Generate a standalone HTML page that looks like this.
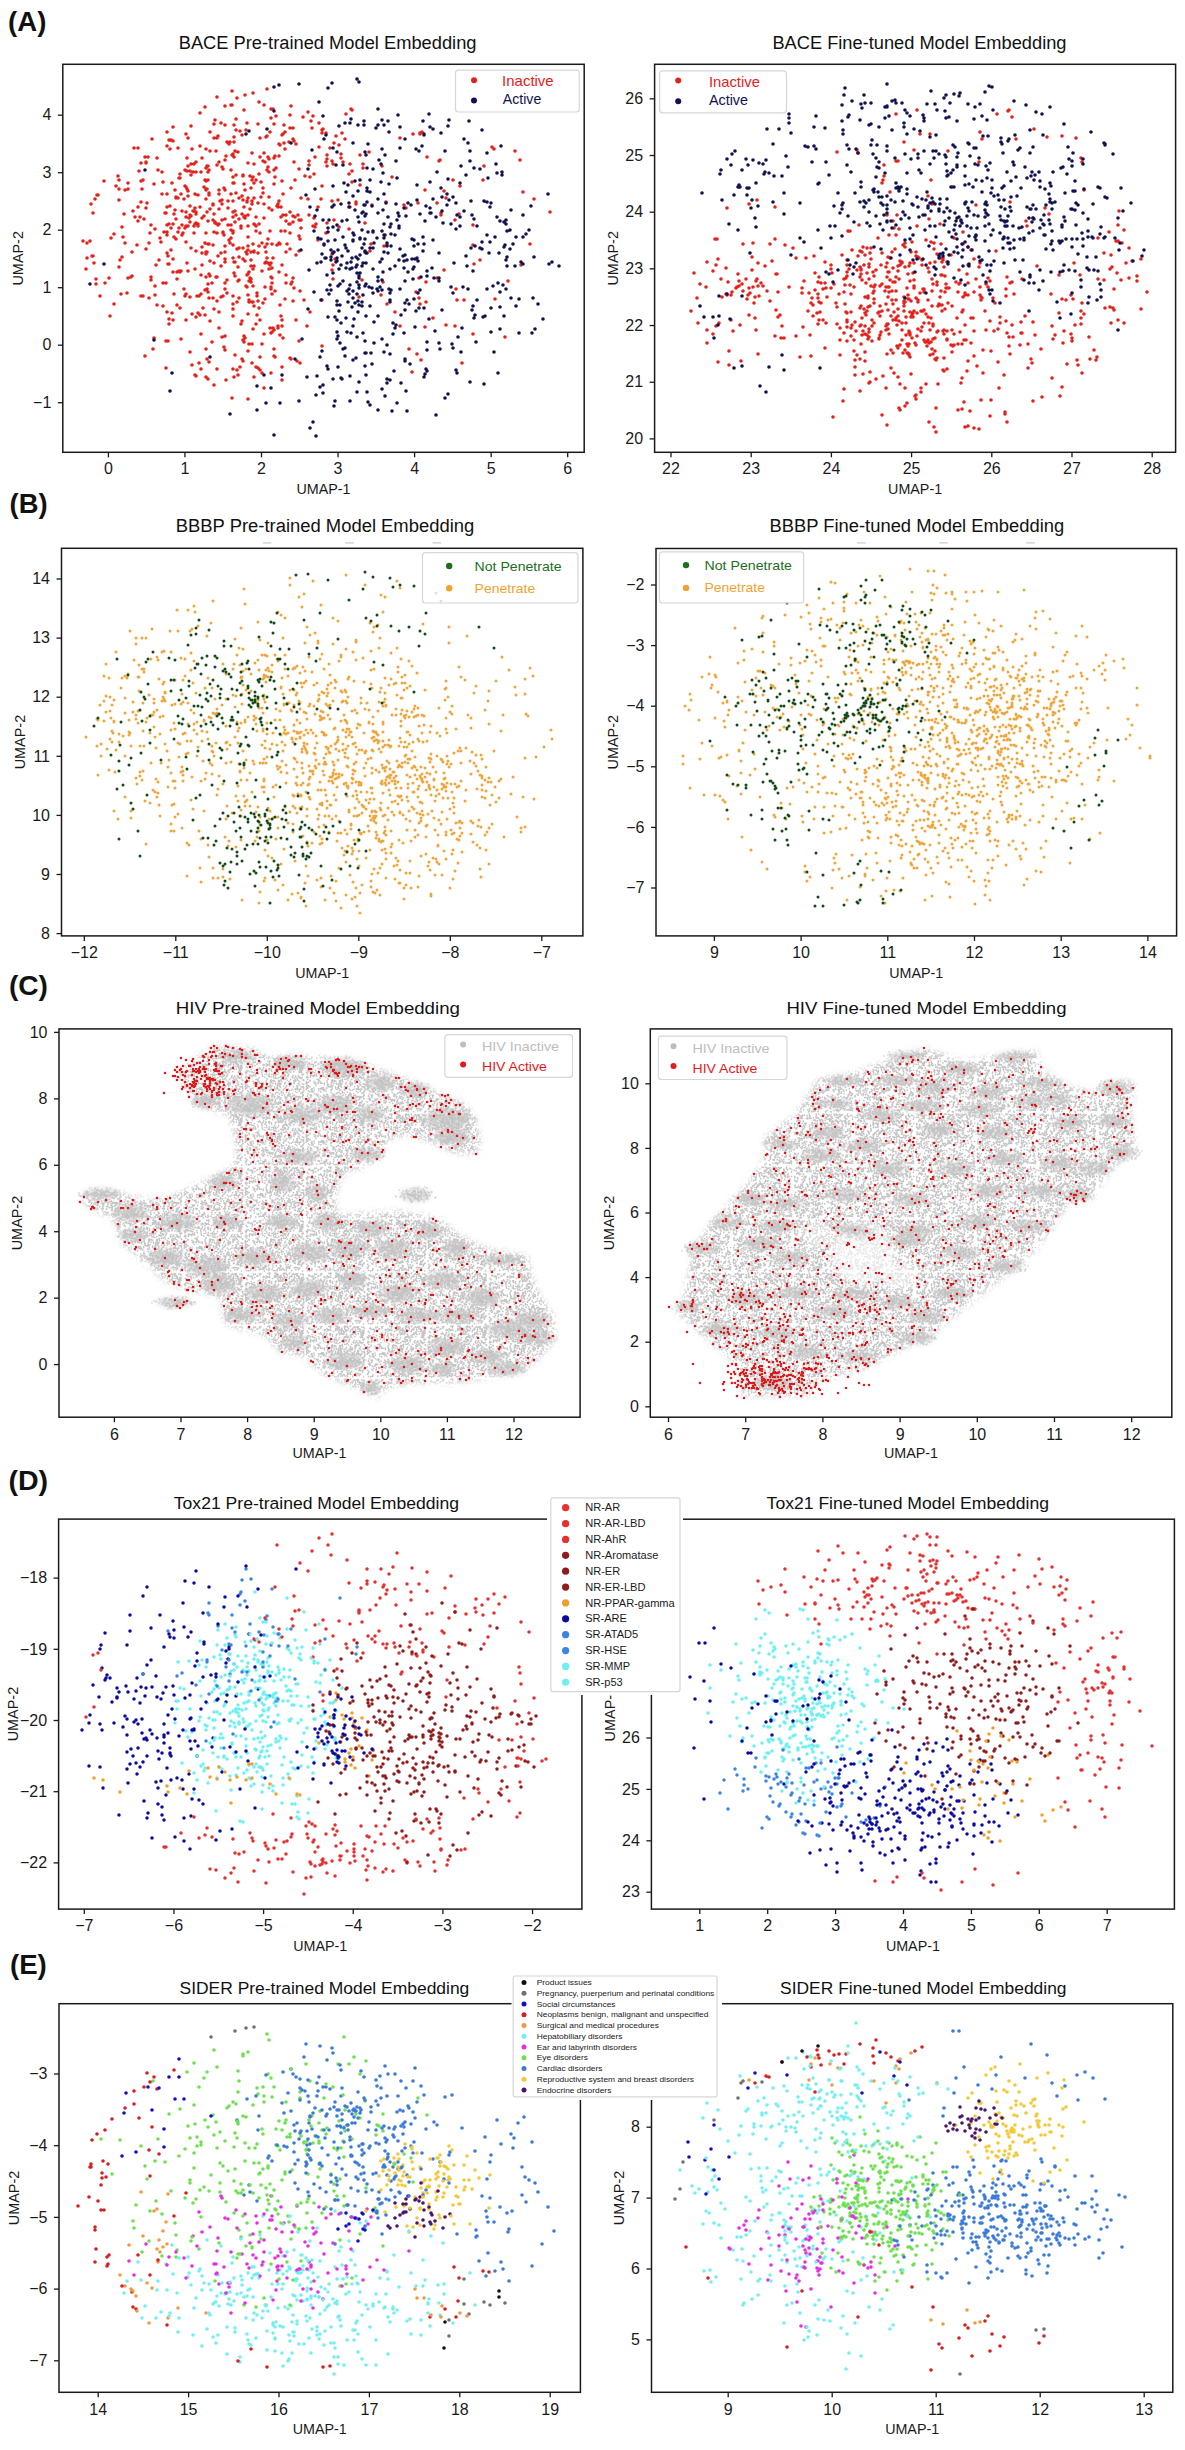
<!DOCTYPE html><html><head><meta charset="utf-8"><style>html,body{margin:0;padding:0;background:#fff;}svg{display:block} text{font-family:"Liberation Sans", sans-serif;}</style></head><body>
<svg width="1185" height="2450" viewBox="0 0 1185 2450">
<rect width="1185" height="2450" fill="#fff"/>
<g fill="none" stroke-linecap="round">
<path d="M267 89zm-14 4zm-8 2zm-13-4zm-15 6zm20 1zm54 8zm-27-1zm-5-3zm-27 3zm-1 0zm-6 1zm-20 1zm-5 6zm44-3zm27-1zm2 0zm35 3zm43-3zm1 1zm-6 4zm-33 2zm-10 1zm-13-2zm-14 1zm-5 2zm-35 1zm-22 5zm1-4zm6 3zm4 2zm9 0zm13-2zm11 1zm16 0zm10 1zm27-4zm8 2zm4 6zm-1 1zm-10-2zm-19 0zm-3 0zm-44 2zm-6 1zm-4-1zm-45-4zm-18 1zm-6 5zm19 2zm24-2zm8 4zm16 1zm8-2zm24 2zm1-1zm3-4zm12 3zm1-1zm2-2zm37 1zm4 0zm10 3zm6-3zm71 1zm7 0zm0-1zm2-1zm-22 6zm-55 1zm-11 4zm-40-2zm-1-2zm-4 3zm-5 1zm-24-5zm-26 4zm-4 0zm-3 0zm-10-4zm-3 0zm-26 0zm-15 3zm-2-1zm-1 0zm-1 0zm-17-1zm-18 9zm4 0zm29-2zm3 3zm8-1zm14 1zm8-3zm6 3zm23-5zm50 0zm1 1zm5 4zm11-5zm23 3zm11 1zm9-3zm153 2zm2 2zm21 2zm-146 1zm-9 3zm-19-1zm-14 1zm-63-2zm-12 0zm-14-1zm-3-1zm-2 3zm-1 1zm-16-4zm-6 0zm-65 6zm3 0zm9 1zm30 0zm15 0zm23 2zm0 0zm1-4zm8 1zm26 0zm3 4zm5-4zm1 2zm5-1zm1-2zm4 0zm30 5zm6-4zm12 2zm5 2zm9-3zm86-1zm12 4zm1-1zm80 0zm-36 6zm-102 0zm-19-2zm-13 0zm-7-2zm-10 2zm-6 2zm-1-4zm-17 3zm-15-3zm-26 5zm-3-5zm-11 2zm-6-1zm-26 4zm-3-5zm-2 3zm-9 1zm-1 0zm-11-4zm-2 2zm-3 0zm-3 2zm-42-4zm0 1zm-5 0zm-2 8zm19-1zm4 2zm23-2zm2 1zm3 0zm3 1zm3 0zm5 0zm5-4zm2 4zm1-2zm14-1zm8 1zm36 0zm2 2zm5-2zm2-2zm23 1zm53 2zm11-3zm29 9zm-43-3zm-35 0zm-4 3zm-5-1zm-30 1zm-16-3zm-6 3zm-3-1zm-7 0zm0-1zm-7 0zm-3 2zm-42-2zm-11 3zm0-4zm-1 4zm-61-2zm-14 5zm15-1zm9 3zm13-2zm2-1zm11 4zm9-2zm9 1zm33-3zm1 1zm2-1zm25 3zm1 0zm10 1zm8-4zm2 3zm2-3zm5 2zm13 2zm8-3zm13-1zm57 2zm8 3zm93-5zm30 0zm-23 6zm-16 5zm-19-1zm-103-4zm-31 2zm-28 0zm-12 0zm-6 2zm-20 0zm-1-2zm-5 2zm-12-1zm-1 1zm0-1zm-2-2zm-16 4zm-1-2zm-1-2zm-1-1zm-10 4zm-33-1zm-14 0zm-3 1zm-6-1zm-3-3zm-19 9zm1 0zm64-1zm5 0zm9 3zm5-3zm7 2zm7-2zm3 1zm11 0zm0-2zm10 1zm12 0zm5-1zm6 3zm19 1zm2-4zm6 4zm14-3zm240-2zm11 7zm-88-1zm-9 5zm-19 0zm-32-1zm-30 0zm-18-2zm-6 1zm-11-2zm-13 0zm-7-1zm-22 3zm-21 2zm-4-5zm-2 3zm-4-3zm-1 3zm0 1zm-4-2zm-4-2zm-6 3zm-5 0zm-6-1zm-2 1zm-14-2zm-22 0zm-6-1zm-2 0zm-29 5zm-6-1zm-22-2zm-24-1zm-4 5zm47 3zm8 1zm21-1zm3-1zm20 0zm5 2zm5-1zm10 2zm3-4zm0-1zm6 5zm3-5zm6 4zm16-1zm6 2zm2-5zm12 0zm5 4zm8-2zm1-2zm0 3zm3 0zm37 0zm32 0zm6-3zm16 1zm32 0zm2 3zm144 4zm-91 2zm-18 1zm0-2zm-132 2zm-11 0zm-8-3zm-4 3zm-3 0zm-11-5zm-24 5zm-6-1zm-6 1zm-1-4zm-2 1zm-19 2zm-7-2zm-11 2zm0-2zm-2-1zm-1 0zm-3 4zm-4-3zm-4-1zm-7-1zm-1 4zm-8-1zm-1 0zm-32-2zm-9 3zm-31-1zm42 4zm3 4zm2-4zm4 2zm32 0zm10-2zm0 0zm3 1zm2-2zm11 2zm2-2zm4 5zm5-1zm9 0zm3-1zm8-2zm6 2zm5-2zm1 1zm0-2zm11 1zm8 1zm17-1zm5 4zm7-5zm2 1zm4 3zm2 0zm13-2zm20 2zm121 0zm18 5zm-108-2zm-26 4zm-12-4zm-11 1zm-1 3zm-2-1zm-20-4zm-3 2zm-1 0zm-30 0zm-3 2zm-1-1zm-1-1zm-6 2zm-7 0zm-6-4zm-4 3zm-3 0zm-9-1zm-1 1zm-1-1zm-2-1zm0-1zm-17 4zm0-2zm-2-1zm-1 1zm-1 2zm-4-4zm-2 4zm0 0zm-2 0zm-4-1zm-9-1zm-4 0zm-2 1zm-16 0zm-29 2zm28 6zm5-4zm9 3zm3 0zm4-4zm7 4zm1-4zm4 5zm2-5zm9 5zm12 0zm8-1zm3 1zm6 0zm0-1zm8-2zm2 3zm0-2zm8-3zm15 3zm4 2zm10-2zm11 0zm4 0zm5 2zm11-5zm25 5zm23-4zm-49 10zm-1-3zm-31 3zm-20-2zm-17 1zm-7-3zm-42 0zm-6 4zm-2-2zm-7-2zm-7 3zm-37-1zm-9-3zm-3 4zm-28 3zm4 2zm3-2zm35 2zm12 2zm12-2zm12-1zm25 0zm19 1zm3 1zm1 0zm4 1zm16-5zm1 3zm3 2zm20-1zm9-1zm5 1zm5 0zm5 1zm2-2zm1 1zm7 0zm0 0zm31-4zm53 4zm16 1zm86 0zm57-1zm-146 2zm-14 5zm-71 0zm-9-2zm-25-2zm-6-1zm-5 5zm-6-5zm0 4zm-5-2zm-4 0zm-2 1zm-12-3zm-23 1zm-6 4zm-5-3zm-20 2zm-25-1zm-54 7zm1 0zm29 1zm10-5zm35 1zm1 3zm34-3zm4-1zm0 2zm1-2zm11 4zm3-3zm4-1zm14 5zm7-5zm1 2zm4-2zm3 0zm4 1zm8-1zm20 0zm10 3zm36-1zm148 6zm-145-1zm-62-1zm-2 5zm-3 0zm-1-5zm-1 4zm-1 1zm-14-3zm-6 1zm-2-2zm-8 3zm-1 0zm-1-4zm-8 1zm0 3zm-11 1zm-4-2zm-23 2zm-14-4zm-14 1zm-39 0zm-26 3zm-7-5zm-1 11zm33-2zm37-2zm12-1zm1 0zm26 5zm7-4zm19 1zm17 1zm13-1zm2 3zm1-3zm15 3zm1-4zm2 3zm10-3zm51 0zm141-1zm47 1zm-77 5zm-112 0zm-46 5zm-7-3zm-17-1zm-13 1zm-1 2zm-1 1zm-13-2zm-25 1zm-8 1zm-13-4zm-7 0zm-1 1zm-1-1zm-2 1zm-4 0zm-77 7zm13-1zm19 0zm3-1zm1-1zm19 1zm0 3zm26-1zm29-2zm4-1zm6 1zm1 0zm10 3zm8-4zm3 5zm1-1zm0 0zm10 1zm1-3zm1 1zm20-2zm1 1zm21 0zm40 1zm29 1zm57-2zm18 0zm71 3zm-82 1zm-43 0zm-91 0zm-1 2zm-5-1zm-14 0zm-1 4zm-6 0zm-12-1zm-2-4zm-4 5zm-1-1zm-21-3zm-13 0zm-4 1zm-42-1zm-3 0zm0 0zm-8 3zm-50-3zm-9 1zm31 9zm57-4zm21 1zm2-1zm1 3zm17-3zm2 4zm30 0zm14-4zm4 2zm19-3zm6 3zm116 1zm40-3zm39 10zm-76-1zm-38-3zm-22 2zm-74 2zm-13-5zm-7 5zm-8-3zm-9-1zm-9 3zm-6-2zm-10 0zm-2 1zm-8 1zm-4 0zm-8-4zm-2 2zm-2 0zm-7 1zm-4-3zm-1 2zm-11-2zm-19 1zm-6 3zm-6-2zm-2 0zm-20-2zm-21 2zm14 8zm43 1zm20 0zm40-4zm16 3zm4-2zm12-2zm0 2zm3 0zm1 0zm5-1zm5 2zm17 2zm13-4zm11-1zm18 0zm65 4zm33 0zm6-2zm31-2zm7 0zm-205 8zm-5-2zm-21 3zm-19 0zm-11-1zm-23 0zm-17-2zm-53 10zm57-4zm5 1zm20 1zm4 3zm2-4zm2 2zm5 0zm14-3zm14 4zm15-2zm9 1zm24 1zm29-4zm85 0zm38 6zm-137 2zm-14 0zm-22 0zm-18 1zm-32 0zm-24-1zm-13 0zm-4-1zm0 5zm50 4zm22-4zm12 5zm3-5zm14 4zm3 0zm5-2zm0 2zm4-2zm25 0zm93 0zm25 1zm21-2zm9 1zm18 8zm-193 1zm-6-5zm-2 2zm-1 1zm-7 1zm-63 0zm-47 4zm12 3zm2 0zm13-2zm41-2zm3-1zm18 4zm1-4zm1 2zm38 0zm16 3zm206-4zm-183 9zm-60-2zm-10 0zm-3 0zm-5-2zm-20 5zm-12-5zm-59 7zm37 3zm16-3zm19 1zm23 1zm26-2zm135 0zm8 5zm-126 5zm-1-1zm-15-1zm-1-1zm-14 1zm-18 2zm-7-4zm-28 4zm-62-3zm47 9zm7-2zm10-1zm34-1zm9 2zm45-2zm3 2zm121-3zm41 3zm-180 4zm-22 3zm-2-2zm-2-1zm-16 0zm-3 3zm-4-1zm-16 0zm-16 0zm-35-1zm29 7zm1 1zm10 1zm28 0zm4-2zm16 2zm8-4zm9 0zm141-1zm-130 8zm-56 0zm-18-1zm6 6zm50 3zm-32 10zm16 1z" stroke="#e3221c" stroke-width="3.6"/>
<path d="M359 82zm-2-3zm-25 4zm-58 4zm5-2zm20-1zm29 4zm-9 14zm-45 9zm104-2zm51 5zm-31 1zm-47 4zm-28-3zm22 7zm5 0zm8 2zm6 0zm0-4zm14 4zm4-5zm2 5zm4-4zm35 0zm26-1zm20 1zm13 9zm-34-4zm-15 3zm-3-2zm-30 0zm-24 1zm-37-2zm-72 3zm-18 2zm-3 3zm80 1zm63-3zm35 3zm0-1zm17-1zm27 10zm-4-4zm-59 0zm-52 4zm-29-4zm-33 4zm42 5zm35-4zm14 5zm18-1zm16 1zm6-3zm79 0zm-14 7zm-17-2zm-25 0zm-26 0zm-34 4zm-19 0zm-1-3zm-28 0zm-25-2zm67 10zm17 1zm74 0zm26 3zm-35 2zm-80-2zm-38 1zm-7 0zm-191 5zm163-1zm59-1zm6 1zm10 4zm54-1zm37-4zm6 1zm17 4zm5-1zm0 3zm-14 3zm-22-3zm-18 4zm-51-1zm-53 5zm4 2zm7-4zm5-1zm10 0zm11 2zm8 2zm28 1zm13-3zm30 1zm-19 5zm-74 0zm0 3zm-9 0zm-25-5zm-18 3zm-9 6zm40-3zm7 4zm17-4zm14 2zm58 3zm5-3zm6 3zm95-3zm-57 9zm-4-1zm-3-1zm-13 0zm-15 2zm-7-3zm-16-1zm-16 1zm-9 3zm-22 0zm-8-4zm-11 3zm-18 1zm-39 4zm22 0zm2-2zm7-1zm8 3zm15-2zm1 0zm7 1zm24-2zm8 4zm7-3zm15 1zm4 2zm17-3zm43 2zm41-1zm-8 9zm-12-5zm-39 5zm-8-4zm-7 4zm-15-4zm-11 2zm-1 0zm-10 1zm-22-1zm-15-3zm-5 3zm-12 1zm-3-2zm-1 1zm-7-3zm-38 0zm-2 6zm8 4zm6 0zm13 1zm5-1zm11-3zm7-1zm23 1zm9 3zm2-4zm7 0zm19 5zm11-4zm24 0zm14 2zm23-2zm3 4zm6-1zm0 4zm-2-2zm-27 4zm-17 0zm-9-2zm-8-1zm-44 3zm-8-2zm-1 3zm-6-3zm-25-2zm-22 3zm-4 2zm-19 4zm14-3zm0 4zm10-2zm15 3zm9-3zm6 2zm5 0zm0-1zm9 0zm17-3zm57 1zm51 2zm3-1zm19 0zm-3 4zm-3 3zm-7 0zm-21 0zm-8-2zm-64 2zm-11 2zm-17-4zm-4-1zm-6 1zm-1 0zm0 3zm-7 0zm-12 1zm-5-1zm0 1zm-6-4zm-11 2zm-22 2zm-3-1zm6 6zm0 1zm4-4zm7-1zm10 5zm8-4zm0-1zm11 4zm10-1zm13 0zm27-3zm4 4zm6 0zm9-4zm49 2zm8 0zm15 3zm8-1zm-3 5zm-6-2zm-22 2zm-2-1zm-5-2zm-4 2zm-48 3zm-9-5zm-14 3zm-9-3zm-4 0zm-14 2zm-3 0zm-5 3zm-3-3zm-14 3zm-2-3zm-8 2zm-7 0zm-30 0zm21 4zm9 3zm2-4zm1-1zm8 4zm14 1zm4-2zm5-3zm1 1zm1 0zm17-1zm4 1zm0 0zm15 3zm2-1zm34-2zm27 3zm23-3zm10 0zm8 4zm27 0zm18 5zm-31 0zm-15-2zm-52 3zm-36-2zm-1-3zm-2 1zm-3 0zm-5 1zm-3 1zm-5-1zm-17-1zm-2 3zm-14 1zm-3 0zm-5-4zm-6-1zm-1 4zm-4 1zm-10-2zm0-3zm-1 4zm-5-2zm-5-2zm-1 0zm-4 4zm-4 1zm-213 1zm235 5zm2-4zm5 3zm4 1zm2-1zm4-1zm1-2zm5 1zm11 3zm17 0zm5-3zm9 2zm9 1zm1-2zm18 1zm35-2zm40 0zm8 0zm8-2zm26 0zm10 2zm-86 5zm-46 0zm-19 1zm-25 0zm-23 1zm-3 0zm-24 0zm0 0zm-6 2zm-18-5zm34 11zm16-3zm0-2zm19 5zm0-4zm4 3zm23 1zm8-2zm8-2zm6-1zm7 2zm5 0zm0 3zm64 4zm-5-2zm-5 3zm-30 1zm-12 0zm-71 0zm-11 0zm-3-3zm-1 2zm-6-1zm-2-3zm-7 3zm-10-1zm-2 2zm-8-1zm-240-1zm224 8zm13-2zm4 0zm16 1zm2-2zm4 2zm6-3zm13 0zm1 5zm4-4zm1 2zm4-1zm7-1zm1 4zm1-3zm9-1zm18 4zm2-3zm33 3zm15-4zm19 0zm13 3zm6-3zm27 9zm-14 1zm-8-1zm-97 1zm-51-4zm-6-1zm-4 4zm-4-4zm-20 0zm-8 6zm16 1zm0 4zm3 0zm8-3zm7 1zm3-2zm1 4zm3-3zm28 0zm0-2zm15 3zm2-3zm2 4zm68-4zm61 4zm-22 2zm-16 1zm-9 1zm-18-2zm-1 4zm-30 0zm-18-2zm-5 0zm-3 3zm-11-1zm-35-4zm-8 0zm-10 1zm-13 4zm-31-2zm20 8zm7 0zm23-5zm8 4zm12 0zm23-1zm74 0zm8 2zm2-1zm19 0zm39 3zm-69-1zm-45 1zm-36 4zm-19-1zm-20-3zm-8-1zm-5 5zm-4-3zm16 6zm42 2zm1-3zm19 2zm47 1zm38 1zm35 0zm-3 4zm-13 0zm-28-1zm-56-1zm-31 2zm-11 1zm-30-1zm-12 0zm-4-1zm-10 0zm-183 8zm148-1zm35 0zm1-3zm19 1zm8 4zm17-2zm76-2zm18 5zm-24 2zm-13-1zm-12-1zm-40 3zm-13-2zm-34 0zm-18 8zm21-2zm2-1zm20 5zm1 0zm5 0zm13-1zm43-2zm13-1zm13-1zm8 4zm33 0zm-89 7zm-15-5zm-34 4zm-11-2zm-25 1zm-25 2zm-85-2zm143 3zm19 4zm33-3zm5 3zm46 6zm-29 1zm-1-2zm-32 2zm-29-5zm-27 1zm-10 2zm-1-3zm-155 7zm92 2zm18 0zm25 2zm10-1zm33 0zm16-1zm58 2zm1-3zm32-1zm41 0zm-28 9zm-69 1zm-11-3zm-3-1zm0 4zm-28-1zm-17-3zm-1-1zm-8 1zm-76 7zm14 2zm49-1zm3-2zm59 4zm102-5zm-36 10zm-42-3zm-39 1zm-10 0zm-34 1zm-7 2zm-146-4zm129 10zm36 0zm15 0zm35-5zm60 2zm-48 5zm-27 2zm-2-3zm-34 4zm-54-3zm-14 0zm-9 7zm121 0zm14 1zm15 0zm29 4zm-206-1zm83 8zm-3 6zm-36 7zm42 1z" stroke="#11114e" stroke-width="3.6"/>
<path d="M917 110zm91 1zm1-1zm3 7zm-15-3zm-101 0zm138 15zm-114 5zm10 0zm50-2zm67 5zm15-1zm14 2zm-60 1zm-34 0zm-78 3zm44 9zm-34-1zm-56 3zm-1-3zm-20 2zm59 9zm2 0zm183-3zm1 4zm-103 0zm-95 3zm0 11zm-2 7zm1-3zm48 0zm153 10zm-194 2zm38 4zm82 6zm-253-2zm-30 8zm22-4zm26 3zm157-3zm44 1zm69 3zm74 3zm-70 3zm-152 1zm-10 0zm6 6zm36-2zm97 2zm7-3zm85 7zm-91 1zm-87-2zm-23 2zm-58-1zm-11 6zm2 0zm44-3zm5 1zm64 3zm146 0zm15-2zm-26 8zm-122-2zm-22 2zm-58-3zm-7 0zm-11 3zm-103 1zm-58 0zm-2 0zm28 5zm10-1zm17 1zm15 1zm118 0zm2-2zm7-1zm14-2zm5 2zm3 1zm7 1zm22 0zm153-3zm2 0zm4 2zm7 5zm-133 3zm-25-1zm-3-3zm-34 2zm-29-2zm-10 2zm-24-1zm-4 0zm-4-1zm-3 4zm-8-1zm-59-2zm-41 9zm62-1zm28-1zm16 1zm4-4zm3 3zm5-2zm12 0zm6 4zm4-5zm19 0zm5 0zm0 4zm2 1zm19-3zm14 1zm153-2zm7 2zm30 4zm-9 2zm-6 2zm-52 0zm-94 0zm-6-4zm-27 3zm-4-4zm0 2zm-1 2zm-2-4zm-5 4zm-5 1zm-8-3zm-3-2zm-5 5zm-4 0zm-8-1zm0 1zm-1-1zm-1-1zm-10-3zm-3 5zm-16-4zm-24 1zm-22 2zm-19-4zm-10 0zm-24 3zm-14 2zm-40-4zm-11 3zm9 3zm10 3zm39-2zm66 3zm0-4zm16 0zm2 4zm11-2zm1 2zm3-4zm5-1zm0 3zm12-2zm5 2zm7 1zm5-2zm2-1zm5 2zm4-1zm0 0zm13-1zm6 3zm16-1zm24-2zm11 2zm58-1zm73 3zm2-2zm5 6zm-37 2zm-21 0zm-92-1zm-8-4zm-17 5zm-1 0zm-12-3zm-16 1zm-5 1zm-10-3zm-9 1zm-1 0zm-12-2zm-3 2zm-6 1zm-6 1zm0-4zm-4 0zm-10 2zm-15 1zm-17 0zm-38 1zm-1 0zm-24-4zm-14 4zm-25-3zm-19 2zm27 6zm18 2zm7-2zm10 2zm1-2zm47 2zm15-4zm25 2zm2-1zm1-2zm13 1zm2 3zm7-1zm5-3zm13 1zm3 3zm6-3zm3 2zm11 2zm4-1zm18-1zm0 0zm13-3zm31 3zm12-1zm2 3zm17-4zm15 2zm76 0zm6 1zm17 0zm8-2zm8-2zm0 5zm-125 1zm-2 1zm-22 4zm-2-3zm-6 3zm-12-4zm-8 0zm-1 1zm-3-2zm-10 2zm-9-2zm0 3zm-4-1zm-19 2zm-19-4zm-2 0zm-4 5zm-1 0zm-2 0zm-4-3zm-2 2zm-5-1zm-1 2zm-3-1zm-5-3zm-12 4zm-4-2zm-5 0zm-11-1zm-9-1zm-4 0zm-3-1zm-29 5zm-26-1zm-2-3zm-3 3zm-5 1zm-11-3zm-3 2zm-2 1zm-9-5zm-22 5zm-6-3zm32 8zm4-4zm7 3zm6-3zm1 5zm17-2zm11 1zm24-4zm0 5zm7 0zm6-3zm8-1zm3-1zm5 0zm13 4zm29 1zm1-2zm11 0zm4 1zm3-1zm4 0zm11-3zm7 0zm6 5zm3-4zm0 0zm1 0zm0 1zm0 2zm8-1zm9 0zm4 1zm1-4zm1 0zm2 0zm9 4zm7 1zm9-1zm32-3zm108 0zm33 3zm-74 7zm-2-4zm-9 4zm-11-5zm-37 0zm-8 2zm-13 2zm-11 0zm-1-1zm-1-2zm-12 0zm-3 0zm-2 2zm-23 0zm-24 1zm-7 1zm-1 0zm0-4zm-4 2zm-16 0zm-14 2zm-6-3zm0 2zm-3-1zm-14-3zm-12 0zm-12 3zm-9-3zm0 4zm-6 0zm-53-2zm-4 1zm-7-2zm-1 4zm-16-4zm-4 0zm-1-1zm-4 3zm-25 1zm57 5zm16-2zm41 2zm2 2zm6-3zm2 1zm15 0zm9 1zm29-1zm12 1zm6-4zm1 4zm3-4zm8 1zm0 2zm1-1zm6-1zm7-1zm0 2zm10-2zm11 4zm1 1zm2 0zm6-2zm33-3zm14 3zm71-3zm16 3zm59 6zm-27 1zm-1-2zm-3-1zm-5 1zm-24 3zm-96 0zm-22-1zm-11-4zm-7 3zm-3 2zm-4-5zm-6 0zm-8 4zm-1 1zm-2 0zm-7 0zm-10 0zm0-5zm-6 3zm-10 1zm-6 1zm-2-5zm-10 0zm-2 1zm-1 4zm-3-2zm-3-3zm-1 2zm-23-1zm-29 4zm-32-1zm-85 1zm58 4zm29 2zm2-2zm33 1zm4-3zm3-1zm26 0zm1 1zm4-1zm14 1zm1 2zm12-2zm1-1zm1 4zm11 0zm3-4zm4 4zm8 1zm4-5zm1 5zm1-2zm1 2zm0-4zm4 0zm9 1zm2 3zm34-5zm38 5zm25-1zm34-3zm25 1zm40 9zm-6-3zm-7 3zm-30-5zm-48 4zm-12 0zm-15-1zm-6 2zm-10-2zm-17-3zm-2 0zm-14 0zm-26 0zm-2 5zm-5 0zm-18 0zm-4 0zm-3-2zm-3-1zm0-2zm-3 2zm-19 3zm0 0zm-2-3zm-10-2zm-7 4zm-8 0zm0-2zm-21 3zm-3-3zm-4 0zm-64-2zm-24 2zm-12 3zm-21 0zm18 3zm24-1zm42 1zm21 1zm15-3zm19 0zm3 4zm7-1zm4 1zm1-3zm8 1zm1-1zm4 1zm4 3zm3-3zm14 0zm1-2zm0 1zm1-1zm0 5zm9-4zm21 4zm4-2zm11-3zm0 2zm32-1zm33 4zm14-4zm40 1zm23-1zm6-1zm-10 10zm-7-3zm-9 4zm-20 0zm-13-2zm-1 0zm-14 0zm-13-2zm-8-1zm-12 1zm-14 1zm-6 2zm-2-4zm-5 1zm-3-1zm0 4zm-1-3zm-5 0zm-1 1zm-7-2zm-9 1zm-11 4zm0-2zm-1-2zm0 2zm-3 2zm-4-5zm-13 4zm-3-4zm-5 2zm-1 3zm-11-3zm-2 3zm-2-1zm-2-3zm-1 4zm-6-4zm-12 2zm-34 2zm-54-5zm-23 1zm-20 3zm-6-4zm68 6zm6 2zm3 0zm12-2zm44 4zm7 1zm4-5zm3 4zm14-1zm1-2zm3 4zm7-2zm0-1zm23 2zm10-2zm5-2zm7 4zm4 0zm5-1zm2-1zm12 1zm0 1zm17 0zm2 0zm43-3zm4 0zm40 2zm19 2zm0-3zm17-1zm-26 6zm-35 1zm-8 1zm-11 1zm-38-3zm-9 1zm-4 0zm-4 1zm-1 1zm-2-1zm-20-3zm-2 1zm-2 3zm-1-4zm-1 0zm-9 3zm-1-2zm-6 1zm-1 2zm-1-2zm-7 1zm-3 1zm-36-2zm-154-1zm22 8zm96-3zm29 3zm11 1zm26-2zm2 3zm5-5zm5 5zm2-3zm2 3zm1 0zm24-4zm3 2zm17 1zm31-2zm8 1zm50-2zm53 1zm3 7zm-7 2zm-59 0zm-21-5zm-36 2zm-30 2zm-7 0zm-2 1zm-2-5zm-3 1zm-20 2zm-1-3zm0 1zm-22-1zm-27 5zm-3-4zm-17 0zm-29 1zm-11 1zm-42-3zm-40 8zm11 3zm12-4zm114-1zm10 1zm71-1zm32 1zm30 1zm34 1zm35 1zm10-4zm1 5zm18-5zm-68 8zm-51-2zm-10 5zm-20-2zm-3 2zm-1-1zm-52-2zm-36-1zm0 8zm8-1zm7-2zm13 4zm11-3zm4 4zm13-3zm72-1zm21 2zm78-2zm-30 5zm-90 0zm-1 5zm-85-4zm-6 3zm-1 1zm-25 6zm42-1zm14-4zm5 4zm16 0zm5-4zm12 0zm61 4zm63-1zm-141 5zm-5 3zm-56-4zm-17 10zm72-5zm1 3zm65 1zm10 0zm42 1zm9-4zm18-1zm-96 6zm-57 1zm-2 3zm-6 2zm1 2zm36-2zm22 2zm4-1zm8 2zm35 1zm0 2zm-15 2zm-108-1zm-49 2zm54 8zm42-3zm78 0zm-28 7zm-5-1zm-6-2zm-3 1zm-31 0zm2 5z" stroke="#e3221c" stroke-width="3.6"/>
<path d="M845 88zm42-4zm102 2zm3 1zm-7 5zm-25 1zm-6 1zm-8 1zm-15-4zm-67 4zm-20 0zm8 6zm40 0zm3-1zm49-2zm15-2zm55 5zm36 6zm-24-2zm-46-1zm-5 3zm-7-3zm-18-1zm-15 1zm-8 0zm-25-1zm-6 0zm-9 4zm0-1zm-2 1zm-14-4zm-6 0zm-4 1zm-19 1zm20 3zm43 2zm2 3zm30-3zm8 1zm48-1zm43 2zm6 2zm-60 2zm-8 3zm-25-2zm-3 1zm-22 0zm-1-3zm-13 1zm-21 0zm-4 2zm-36-3zm-1 2zm-32-1zm-27 2zm0-4zm0 9zm53-2zm18-1zm9 5zm2-1zm33-1zm20-2zm33 0zm30-1zm77 4zm-34 6zm-110 1zm-6-2zm-10-2zm-12 3zm-13-3zm-36 3zm-18-2zm-11-1zm-35 2zm-12 0zm24 4zm52 1zm64 0zm23 3zm6-2zm47 1zm5 0zm27-1zm28 0zm48-3zm13 11zm-95-4zm-1 2zm-7-3zm0 4zm-33 1zm-96-3zm-99 4zm32 2zm3 1zm6-1zm2 3zm31-4zm2 4zm7 0zm15-4zm6 0zm10 1zm0 0zm66-1zm2 2zm14-3zm5 4zm2 0zm26-4zm18 4zm13-1zm35 0zm37-2zm0-1zm8 10zm-40-1zm-43 0zm-12-3zm-15 3zm-45 0zm-13 2zm-6-1zm-3-3zm-3 0zm-9 0zm-6 3zm-13 0zm-18-3zm-14 3zm-15-1zm-123-2zm-3 3zm-5 5zm19 0zm7 1zm13 0zm20-4zm90 2zm19 0zm16 1zm7-1zm16 0zm12-1zm11 0zm13-1zm9 2zm90 1zm3 2zm11-2zm0 5zm-11 2zm-9 1zm-38 0zm-11-2zm-1-3zm-23 1zm-4 3zm-8-1zm-3-1zm-10 2zm-8 1zm0-2zm-11-1zm-16 0zm-51-2zm-2 5zm-30-2zm-21-3zm-14 0zm-24 5zm-25-3zm-4-1zm-11 2zm-17 0zm-10 5zm21 0zm23 2zm4 1zm82-1zm28-4zm6 5zm22 0zm12-3zm2 3zm26-2zm4 2zm2-3zm35 0zm19 2zm25 0zm7 0zm14 0zm8-4zm0 0zm6 6zm-32 1zm-4 1zm-4 2zm-11-1zm-29 1zm-22-2zm-17-1zm-1 1zm-71 1zm-47-2zm-47 1zm-8 0zm-10-2zm-44 0zm19 11zm17-2zm62 1zm1-1zm42-1zm35 1zm69 2zm4-1zm7-4zm6 1zm10-1zm19 1zm23-1zm6 1zm10 2zm25-2zm46 7zm-21 0zm-2-1zm-14 2zm-9 2zm-2 0zm-22-5zm-6 3zm-5-2zm-19 1zm-17-2zm-2 2zm-10 0zm-19-1zm-19 0zm-2 0zm-1 0zm-44 2zm-6-2zm-2 2zm0 2zm-1-4zm-2 1zm-22 1zm-1 1zm-12-3zm-112 1zm-2 0zm-7-1zm-2 0zm-36 6zm32 2zm13 0zm37-2zm54 0zm17 0zm19-1zm4 0zm1 5zm3 0zm5-1zm20-2zm10 3zm10-5zm55 0zm9 1zm3 3zm4-1zm13 2zm6-1zm32-2zm16-1zm40 4zm26 6zm-24-5zm-31 5zm-21-1zm-3 1zm-2-4zm0 3zm-46-2zm-5 0zm-13 2zm-14 0zm-6 0zm-1 1zm-18-4zm-7 0zm-7 3zm-1-4zm-2 5zm-4-3zm-4-1zm-19 2zm-8 1zm-4-2zm-10 3zm-12-3zm-3 3zm-2-2zm-4 1zm-17 1zm-43 0zm-27-1zm-21-2zm-30 0zm29 8zm7-2zm76 0zm8-1zm0 4zm22-2zm19-2zm4 4zm0-4zm25-1zm1 1zm5 2zm10 1zm0-2zm7-2zm4 5zm1-5zm7 4zm18-4zm3 4zm17-4zm2 1zm14 2zm4 2zm5-2zm17 0zm3 2zm1 0zm2-4zm3 4zm10-4zm6 4zm19 0zm1 0zm6-4zm15-1zm30 7zm-40 2zm-8-3zm-31 5zm-33-4zm-23 4zm-2-2zm-1-3zm-11 5zm-5-4zm-14 2zm-5-2zm-6 1zm-5-1zm-8 0zm-6 4zm-2 0zm-18 0zm-2-3zm-16 1zm-3 2zm-15-3zm-29 1zm-56 1zm-29 4zm93-2zm28 0zm11 5zm4 0zm10-2zm8-1zm10-1zm26 4zm4-3zm7 3zm1-3zm2-1zm2 3zm0 1zm6-5zm11 0zm7 1zm15-1zm1 4zm3 1zm3 0zm1-5zm21 2zm4 0zm1 1zm7 1zm8 0zm15-3zm1 4zm23-2zm30-1zm-17 9zm-25-2zm-14 2zm0-2zm-12-1zm-6 1zm-1-1zm-11-2zm-10 5zm-9-1zm-6 0zm-2-4zm0 4zm-16-2zm-4 2zm-18 0zm-5-3zm-2 3zm-5-1zm-11 0zm-9 1zm-5 0zm-34-1zm-9-3zm-7 2zm-10 2zm-3-3zm-13-1zm-19 4zm-5 0zm-74 1zm-27-3zm9 6zm80 0zm65 0zm9-2zm18 0zm15 2zm24 2zm5-2zm17-2zm6 0zm16 2zm7 3zm19-5zm10 5zm4-2zm7-3zm12 3zm30 2zm6-2zm27 7zm-10-1zm-1 1zm-4-4zm-7 4zm-1-1zm-4 0zm-5 2zm-6 0zm-5 0zm-6 0zm-21-4zm-1 0zm-20 3zm-4 1zm-12-1zm-4-1zm0 1zm-1 1zm-12-4zm-15 0zm-1 2zm-6-1zm-12 3zm-1-5zm-4 3zm-16 0zm-23-2zm-3 4zm-68-3zm-11 2zm-31 0zm4 4zm101-2zm57 4zm3-2zm11-2zm9 1zm23 2zm2 0zm4-3zm10 0zm27 4zm1-3zm7 0zm1 2zm2-2zm58 2zm24 7zm-25 0zm-36-4zm-11 1zm-19 3zm-7-1zm-32-1zm-4 1zm-7-1zm-14 3zm-17-1zm0 0zm-4-3zm-5 3zm-6-3zm-11 2zm-17-3zm-19 4zm-29-1zm-7-2zm-53 1zm-71 5zm41 2zm109 0zm39 1zm1-2zm3-1zm0 3zm6-1zm5-3zm4 1zm4 4zm17 0zm99-3zm9 3zm9 0zm46-1zm-9 5zm-110-1zm-8 0zm-11 3zm-10-2zm-12-1zm-2 1zm-32 1zm-9-4zm-16 1zm-6 0zm-4 1zm-22-2zm-35 5zm-8-3zm2 5zm4 2zm72-2zm8 2zm2 2zm12-5zm15 2zm6-2zm0 2zm18-1zm4 0zm73 0zm23 3zm11 3zm-4-1zm-5 0zm-14 1zm-6-1zm-6 1zm-3 1zm-9 0zm-11-2zm-10 5zm-10-3zm-30-1zm-7 4zm-48 0zm-20-3zm-62 2zm-15-4zm-9 4zm-3-2zm128 6zm7 2zm63 0zm6-3zm13 4zm38-1zm19 4zm-19 3zm-47-4zm-5 0zm-43-1zm-21 3zm-132-3zm93 11zm63-3zm3 0zm47 0zm33 3zm29-3zm0 7zm-12 0zm-99-3zm-85 4zm-163-2zm-15-2zm-8 2zm274 5zm7 2zm57-1zm31 1zm9-3zm-68 11zm-329-5zm4 11zm9 0zm6-1zm352-2zm-11 4zm-330 1zm-12 6zm400 5zm-404 8zm68 17zm38 13zm-36 2zm-15-3zm-27-1zm-8 2zm26 18zm6 6z" stroke="#11114e" stroke-width="3.6"/>
<path d="M346 575zm-56 3zm23 3zm84 0zm-32 4zm-75 0zm-46 4zm156-1zm-15 9zm-4-2zm-77-1zm-5 3zm-86 4zm32 3zm76 1zm-19 2zm-108-1zm-6 4zm-11 0zm18 2zm83 0zm3 3zm102-3zm-13 11zm-32-2zm-5-3zm-48 0zm-27 4zm-47 1zm-59 6zm40 0zm6-3zm43 2zm66-1zm67 0zm4-2zm45-1zm26 3zm-76 5zm-58 1zm-5 2zm-120-4zm-12 0zm-8 0zm-40 0zm6 7zm6 0zm4 0zm61-2zm28 3zm25 1zm23-2zm35 3zm38-1zm24-2zm87-2zm-18 7zm-93-1zm-23 2zm-15-1zm-13 0zm-37 0zm-132 1zm-20 8zm46 0zm2-1zm7 1zm20 1zm48-5zm4 1zm103 0zm7 3zm18-1zm8-3zm12 5zm6-5zm105 9zm-101 2zm-38-1zm-22-1zm0-2zm-19-1zm-2 5zm-11-2zm-24-2zm-8 4zm-2-4zm-8 1zm-2-1zm-3 0zm-25 0zm-52 4zm-4-1zm-24-1zm-6 2zm-45 5zm28-4zm5 5zm19-5zm36 1zm29 3zm11 0zm6 1zm15-2zm3-3zm14 5zm6-4zm51 3zm10-3zm17-1zm53 1zm121 7zm-21 2zm-50-3zm-47-1zm-14 1zm-24 2zm-3 1zm-47-1zm-19 2zm-2-4zm-6-1zm-2 2zm-1 0zm0 0zm-1 1zm-8 0zm-16 2zm-1-3zm-2 2zm-7 0zm-13-1zm-3 2zm-10-2zm-42 1zm-47-1zm-2 0zm-38 7zm21 0zm3-2zm10 3zm1 0zm5-5zm41 4zm41-2zm15 3zm1 0zm9-3zm13 1zm0 1zm2 0zm2 1zm4-5zm16 4zm12-3zm12-1zm18 3zm19 2zm49-5zm4 5zm3-2zm12-2zm44 4zm72-1zm-8 3zm-29 2zm-31-1zm-19 1zm-41 2zm-3 0zm-6 0zm-5-4zm-6-1zm-21 4zm-10-1zm-6-2zm-12 3zm-1-2zm-4 3zm0 0zm-14 0zm-11-2zm-2 2zm-3 0zm-19-5zm-16 4zm-2-4zm-1 1zm-22-1zm-33 0zm-15 5zm-10-3zm-8 0zm-11 2zm-5-3zm-32-1zm-5 0zm-13 0zm12 10zm42-4zm42 4zm7 0zm31-3zm38 3zm0-1zm21 0zm12-2zm13 4zm1-4zm7 3zm36-4zm1 4zm9 0zm8-3zm5-1zm13 4zm3-2zm35 3zm1-1zm30-2zm39 1zm10 7zm-9 1zm-27-4zm-15 2zm-49-3zm-21 0zm-7 5zm-12-2zm-5-1zm-34 0zm-1-2zm-3 2zm-1-1zm-13 2zm-4 0zm-2-1zm-3 3zm-22-2zm-1 2zm-2-5zm-4 0zm-7 4zm-19 1zm-13-4zm-5-1zm-4 4zm-9 1zm-37-2zm-14 1zm-17-1zm0-1zm-16 3zm-10-4zm-35 10zm2-5zm4 1zm4 3zm11-2zm29 1zm8 2zm1-4zm1 2zm1 2zm50-2zm11 0zm10-3zm19 3zm3 1zm6-1zm35 2zm19 0zm1-2zm8-3zm6 5zm10 0zm3 0zm2-4zm13 1zm24 1zm16-1zm1 0zm43 2zm3-3zm40 4zm-36 5zm-37 0zm-29-1zm0 1zm-2-4zm-1 4zm-4-4zm-12 1zm-6 0zm-14 0zm-5-1zm-12 3zm-2 1zm-2-2zm-12 2zm-4-2zm-1 2zm-9-3zm-6 2zm-5-2zm-2 0zm-3 1zm0 1zm-19-3zm-8 1zm-15 1zm-7 3zm-13-2zm-34-2zm-5-1zm-2 2zm-6 0zm-3 1zm-18-2zm-11 0zm-10-1zm-21 3zm-12 0zm6 7zm4-1zm15 2zm8-1zm5-1zm1 0zm15 1zm3-2zm34 0zm3 3zm19 0zm4 0zm0-4zm42-1zm3 0zm1 5zm13-4zm4 2zm11-1zm1 1zm8-2zm4 3zm2 1zm15-2zm2 1zm29-1zm3-1zm2 3zm8-4zm4 1zm9 1zm18-2zm6 1zm5 1zm5 1zm2-3zm4-1zm21 0zm11 4zm35-2zm43 6zm-2-2zm-23 1zm-32 3zm-3-3zm-16-1zm-6 4zm-22-2zm-2-1zm-4 0zm-2 1zm-2 1zm-5 0zm-3-2zm-1 3zm-1-2zm-3-2zm-5 1zm-4 0zm-19 2zm-29-2zm-14 4zm-2-4zm-4 3zm-2 1zm-1-2zm-1-1zm-5-2zm-8 5zm-51-1zm-2-2zm0 0zm-6 1zm-29-3zm-4 0zm-4 4zm-2-1zm-46-1zm-3 1zm-7-2zm-2 0zm-4 3zm-11-3zm0 4zm-25-1zm-14 1zm1 1zm6 1zm10 1zm0-1zm15-1zm9 3zm8-1zm28 1zm14 1zm6 0zm3-2zm7-2zm0 1zm33 1zm4 1zm4-1zm0-2zm9 0zm2 4zm11-1zm8-3zm5 0zm14 5zm3-5zm3 3zm20-3zm21 1zm4-1zm1 1zm1 2zm11 1zm2 1zm9-2zm0-1zm4 2zm10 0zm0-2zm18-1zm23 4zm65-1zm62 6zm-50 1zm-30-3zm-15 1zm-10 0zm-15-3zm-12 0zm-18 0zm-28 5zm0 0zm-16-3zm-8 1zm-2 0zm-4 1zm-8-2zm-1 1zm-23 1zm-5 0zm-12 1zm-9-1zm-1-3zm-21 4zm0-2zm-6 2zm-18-3zm-1 3zm-12-5zm-24 5zm-8-1zm-19-1zm-4 1zm-17-3zm-11 4zm-31 0zm-26 6zm27-4zm6 1zm4 2zm6-4zm0 3zm1-2zm20 0zm5 4zm5-3zm23 0zm2-1zm12 1zm10-2zm28 5zm32-3zm6-1zm8 2zm3-2zm2 1zm2-1zm9-1zm0 1zm2 0zm1 4zm1-5zm3 3zm4-2zm5 0zm3 3zm6-4zm2 1zm0 2zm2 0zm12 2zm8-5zm0 5zm3-2zm1-3zm1 0zm1 5zm12-4zm10 4zm0-5zm1 0zm1 0zm1 2zm1 1zm5-3zm24 0zm1 0zm2 3zm12-2zm8-1zm7 1zm3 3zm7-3zm105 6zm-125 2zm-4 1zm-4-1zm-1-2zm-5 3zm-8 0zm-4 0zm-1-4zm-11 2zm-6 1zm-4 0zm-1 2zm-1-3zm-1 0zm-2 1zm-2-3zm-17 5zm-17-3zm-1 2zm-20 1zm-13 0zm-4-5zm-4 1zm-3 3zm-1-3zm0-1zm-10 4zm-17-1zm-27 2zm-11-1zm-1 1zm-10 0zm-8-4zm-6 2zm-11 0zm-4 0zm-9 2zm-59-1zm-7 0zm-2-3zm-13 7zm4-2zm6 5zm24-3zm9 0zm4 0zm12 2zm9-4zm15 0zm18 3zm14-1zm15 3zm3-4zm32 0zm3 3zm5 1zm2-5zm5 1zm8 0zm17 4zm2-3zm1 2zm2-4zm8 4zm11-1zm2 1zm0 1zm3-3zm4-2zm1 5zm7-5zm3 5zm2-3zm5-2zm3 3zm23 2zm4-2zm2-2zm3 0zm2 1zm0 1zm1-1zm8 0zm5 1zm3 0zm2-3zm51 4zm6 0zm78-1zm-50 4zm-13 4zm-5 0zm-4-3zm-11-1zm-3 0zm-4 2zm-23 1zm0 0zm-19-3zm-6 4zm-25-3zm-8-1zm-1-1zm-6 1zm-1 2zm0-1zm-3-2zm-3 0zm-2 4zm-12-1zm-2-3zm-4 1zm-9 2zm-1-1zm-3 2zm-11 0zm-1-1zm-7 0zm0-1zm0 1zm-1-3zm-4 2zm-19-1zm-40 0zm-30 1zm-1-1zm-24 2zm-2 1zm-19-3zm-51-1zm-15 6zm24 0zm44 4zm10-3zm18-1zm6 5zm11-5zm32 4zm7 1zm11-2zm3-2zm15 4zm12-3zm1 1zm21 1zm8-2zm14 2zm7-3zm3 1zm20 1zm3-1zm16 3zm10 0zm8-5zm3 3zm2 0zm5-2zm14 1zm2 1zm6-3zm4 3zm1 1zm5-4zm1 5zm22 0zm12-2zm43-1zm11-1zm-50 10zm-10-1zm-2-3zm-13 0zm-10 1zm-2 3zm-2-3zm-4-2zm-10 5zm-3-5zm-9 5zm-6 0zm-1-1zm-6-3zm-3-1zm-3 5zm0-4zm-2 3zm-1-1zm-1 2zm-9-4zm-3 4zm-4-2zm-16-2zm-10-1zm-2 2zm-6 3zm-1-1zm-13-1zm-1-3zm-7 2zm-1-2zm-1 2zm-5 0zm-4 2zm-6 0zm-7-3zm-5-1zm-11 3zm-6 2zm-3-1zm-11-3zm-3 0zm-3 0zm-6 1zm-10 0zm-5 0zm-8-2zm-5 1zm-14 2zm-2-2zm-28 4zm-14 0zm-7-4zm-10 0zm-42 7zm6 2zm25 0zm3-1zm28 2zm10-1zm2-1zm23 2zm34-2zm0 1zm4-4zm6 5zm28-4zm3 3zm6 1zm7-4zm8-1zm1 5zm7-2zm2 0zm1 0zm3-3zm7 3zm10 2zm1-3zm19 0zm2 1zm9-3zm8 5zm0-5zm4 2zm3 2zm4-4zm2 3zm0-3zm5 1zm3 3zm1 0zm18-4zm5 2zm8-2zm2 5zm9-1zm8 1zm34-2zm35 6zm-12 2zm-12-1zm-7-2zm0 2zm-2-3zm-9-1zm-26 4zm-1 1zm-10 0zm-4-5zm-5 3zm-3-3zm0 5zm-1-1zm-1-2zm-3 3zm-2-4zm-5 2zm-3-2zm-11 1zm-2 2zm-3-3zm-1 3zm0-3zm-1 1zm-2 1zm-22-1zm-12 3zm0-5zm-1 4zm-10-3zm-3 2zm0-3zm-2 4zm-1-4zm-1 5zm-2-4zm-1 2zm-2 0zm-6-2zm-11-1zm-3 3zm-1 2zm-12-2zm-33 2zm-45-3zm-7-2zm-7 5zm-13-2zm-9-2zm-27 4zm-16-3zm-4 2zm-38-3zm39 9zm5-4zm16 2zm15-1zm2 0zm8 0zm18 0zm22 3zm18-4zm6 0zm17 1zm12 4zm10-2zm10 0zm1 2zm4 0zm2-2zm5 2zm1-1zm11-2zm9-1zm3 0zm1 2zm11 1zm2-1zm6 0zm4-1zm3 3zm0-3zm2 1zm0 2zm20-2zm1 1zm0-3zm3 2zm1 2zm0-5zm3 3zm3-2zm3 3zm0-3zm3 1zm10 2zm5-1zm9-2zm1 1zm4 0zm2 3zm5-5zm8 4zm2 1zm3-2zm4 1zm4 0zm6-3zm21 4zm3-5zm3 2zm3 0zm8-1zm-4 6zm-9 4zm-4-1zm-5-1zm-11 1zm-7-4zm-2 1zm-11 0zm0 4zm-2-4zm-2 2zm-5 1zm-3-3zm-4 2zm-1-2zm-3 3zm-7-4zm-1 3zm-10-1zm-7 0zm-5 0zm-7 2zm-17-2zm-1 0zm-15 3zm-8-5zm0 2zm-1-2zm-10 1zm-12 3zm-4 0zm-3 0zm-45-3zm-9 0zm-2 0zm-24-1zm-20 3zm-43-1zm-7-1zm-15 3zm-28 7zm30-5zm2 5zm1-4zm59 2zm19 1zm8 0zm8-4zm12 0zm10 5zm19-2zm1 1zm4-2zm3 1zm0 1zm5-4zm3 5zm17-2zm8 0zm13 1zm6 0zm4-1zm4-3zm6 0zm5 1zm11 0zm7 2zm8 1zm2 1zm1-1zm6 1zm6-5zm1 0zm4 5zm13-2zm5 1zm3-2zm13-2zm30 5zm10-2zm19-1zm12 3zm11 2zm-35-1zm-3 4zm-11-4zm-20 3zm-11-3zm-1 5zm-5-5zm-5 0zm-8 3zm-13 2zm-2-1zm-12-1zm-6-1zm-7 1zm-3 1zm-11 1zm-7-4zm-4 0zm-1 4zm-3-3zm-7 2zm-2-3zm-21 1zm-9 1zm-5 2zm-12-4zm-63 1zm-1 1zm-1 1zm-7-1zm-47-1zm-41 3zm-5-2zm14 4zm13 0zm2-1zm19 5zm34-3zm18 0zm5 0zm8 1zm10 1zm17-1zm8-1zm2 2zm5 0zm2-1zm5 2zm10 0zm3-5zm2 1zm5 3zm3-3zm1 0zm24 3zm0 0zm0 0zm7-3zm1 1zm1 1zm2 2zm14-1zm8 0zm10-4zm14 3zm2 2zm36 0zm4-2zm36-2zm-36 8zm-12-1zm-10-1zm-4 3zm-5 1zm-1-4zm-2 3zm-3-1zm-8-2zm-6 4zm-3-2zm0-1zm-6 3zm-2-3zm-7 3zm-4-5zm-5 2zm-1-1zm-3 1zm0-1zm-10 2zm-3 2zm-10-5zm0 2zm-30 3zm-22-2zm-7-1zm-20-1zm-14 1zm-15-2zm-9 3zm-28-2zm-26 3zm-47-3zm-17 0zm4 8zm13-1zm29-2zm15 1zm51 2zm15-3zm19 1zm9 2zm4-1zm5-1zm29-1zm11 3zm7-3zm4 0zm3 3zm4-3zm3 5zm15-5zm3 0zm13 0zm1 4zm2-2zm1 3zm0-5zm1 2zm1-2zm7 0zm5 4zm18-1zm4 2zm11-3zm0 3zm13-3zm5 2zm8-1zm13 2zm11 0zm8-1zm38-3zm8 10zm-33-3zm-11 3zm-3-1zm-5-3zm-11 0zm-3-1zm-3 1zm-15 1zm-14 1zm-1 1zm0 0zm-7-3zm-34 4zm-9-4zm-8 3zm-17-2zm0 1zm-27 0zm-5 2zm-26-3zm-5-1zm-28 2zm-89-1zm0 7zm3 0zm8-3zm17 3zm60 0zm10-2zm9-1zm15 4zm21 0zm15 0zm9 1zm3 0zm4-3zm0 0zm6-1zm9 4zm1 0zm3-1zm5-1zm7 1zm8 1zm1-2zm6 0zm16-1zm8 0zm20 0zm11 2zm5-2zm3 3zm6-5zm2 5zm25-1zm2-4zm32 4zm0-4zm-17 9zm-19-2zm-14-1zm-11 2zm-3 3zm-5-5zm-6 1zm-8 0zm-12 2zm-8-2zm-3 2zm-29-2zm-7 4zm-2-4zm-1 3zm-15-4zm-3 5zm-11-5zm-25 5zm-2-3zm-17 0zm-27 3zm-19-2zm-32 0zm-24 2zm-55 5zm41-1zm2 2zm19 0zm21-4zm12-1zm14 1zm12-1zm40 2zm5 1zm8 1zm2-1zm15-2zm17-1zm4 1zm21 0zm2 1zm1-1zm1 0zm9 3zm7-4zm4 3zm8-2zm27 4zm21-5zm14 2zm4 3zm9 5zm-6-2zm-27 2zm-9 1zm-6-5zm-47 1zm-6 2zm-3 1zm-12 0zm-11 1zm-6 0zm-1-3zm-4-2zm-1 5zm-2 0zm-3-3zm-34-2zm-24 3zm-19 1zm-29-3zm-8-1zm-19 11zm59-1zm76-1zm8-1zm34-1zm5 0zm30 3zm5-2zm26 0zm10-2zm-4 11zm-12-4zm-9 3zm-1-3zm-3-1zm-4 4zm-19-1zm-12 0zm-2-3zm-10 1zm-20-1zm-9 1zm-11 3zm-51-1zm-23-3zm-72 10zm13 0zm10 1zm55-4zm3-1zm25 2zm33 2zm20-2zm15 3zm6-1zm2-4zm12 2zm3-1zm31 1zm0 0zm11-2zm41 5zm9-5zm-34 7zm-13 4zm-7 0zm-5-5zm-20 3zm-4 0zm-6-3zm-22 3zm-6 1zm-22 1zm-163 1zm26 2zm5 0zm5-1zm7 2zm34 2zm1-3zm10 2zm33-4zm9 4zm4-2zm10-2zm5 5zm35 0zm15-3zm9 1zm24-3zm34 3zm28-2zm-63 10zm-12-2zm-6-2zm-1 0zm-28 4zm-9-2zm-9-3zm-32 5zm-16-4zm-22 2zm-82-3zm59 10zm18-2zm20 3zm32-5zm4 5zm22-5zm4 5zm13-1zm2 1zm2-3zm27-2zm7 0zm39 0zm-19 8zm0-2zm-27 5zm-24-4zm-25 2zm-3 2zm-6-4zm-45 2zm0 1zm-9-4zm-50 6zm17 3zm29-3zm37 0zm11 1zm21 5zm-16 2zm-35-2zm54 7z" stroke="#eda53c" stroke-width="3"/>
<path d="M365 572zm-57 2zm-12 1zm32 5zm45-3zm17 1zm24 8zm-14-1zm-7 2zm-30 2zm73 4zm-87 7zm92 1zm-164 12zm43 0zm57 2zm49-2zm-55 8zm-5-3zm-62 2zm-30 3zm-3-1zm-72-2zm-3 8zm181-2zm14 0zm18 1zm70 0zm-54 7zm-5-3zm-21 0zm-126 2zm-64-3zm-13 4zm-5 1zm33 6zm35-4zm79 2zm81 7zm-148 0zm-40 0zm-7 0zm-36-1zm-35 7zm127-3zm9 0zm28-1zm177 0zm-185 6zm-29 5zm-2 0zm-61-1zm-2-2zm-8 0zm-5 2zm-33 0zm-21 1zm-31 0zm29 3zm29-2zm22 4zm1 0zm8 1zm36-1zm5-1zm1-2zm37 3zm31-3zm58 1zm9 3zm-95 4zm-39 0zm-24 0zm-2 2zm-8-4zm-20 1zm-67 7zm73-1zm25-2zm3 2zm2 3zm10-5zm30 5zm26 6zm-23-2zm-4-1zm-10-1zm-1 3zm-1-2zm-16 1zm-2 2zm-27-3zm-24 1zm-15-1zm-3 0zm-23 4zm41 2zm21-2zm8 2zm3 3zm11 0zm16-3zm0 2zm14-2zm13 3zm18 0zm77 0zm44 3zm-159 0zm-6 1zm-8 2zm-4-5zm-17 4zm-13-1zm-7 2zm-19-5zm-10 1zm-30 1zm3 5zm1 2zm34 1zm7-2zm20 1zm2 2zm3-5zm9 2zm8 1zm21-1zm2 2zm1 0zm3-4zm0 4zm3-2zm0-1zm5-1zm4 1zm17 1zm98 5zm-83 1zm-5 3zm-7-3zm-11-1zm-18 1zm0 2zm-3-4zm-2 1zm-2 4zm-2-2zm-47 2zm-4-1zm-4 0zm-54 4zm98 2zm29-4zm30 4zm20-3zm13-1zm8 1zm-77 9zm-1 1zm-28-2zm-10 1zm-3-4zm-2 2zm-16-1zm-18 4zm-5-3zm-28 0zm-52 2zm23 4zm21-1zm37 2zm3 1zm24 0zm5-2zm2 3zm10-2zm8-3zm2 0zm4 4zm24-2zm1 3zm9-2zm5 5zm-9 1zm-14 0zm-23-3zm-12 3zm-17-3zm-12 0zm-39 4zm-56-4zm152 11zm34-3zm-106 5zm-24 4zm-30 2zm89-1zm11 4zm20-2zm1-2zm7 1zm1 1zm46-2zm-17 8zm-1 3zm-39-2zm-16-3zm-24 1zm-57 2zm-30 2zm0 0zm8 6zm12-3zm30 2zm25-3zm23 3zm12-2zm51-1zm-28 8zm0-2zm-4 1zm-111 1zm-10 6zm68-2zm-64 16zm89 0zm12-4zm13 2zm19-3zm24 7zm-163 2zm30 6zm53 0zm55 2zm43-1zm10-3zm38 1zm-78 5zm-72-1zm-65 5zm2 6zm106-2zm46-1zm16 3zm-15 4zm-3-3zm-16 0zm-2 4zm-6 1zm-5-1zm-3-1zm-17 0zm-11 0zm-30 7zm27-1zm8-3zm12 0zm5 1zm3 2zm7-2zm3 4zm7-5zm2 5zm5-2zm3-2zm7 2zm4 1zm54 2zm-7 4zm-7 1zm-21-2zm-3-3zm-1 5zm-17 0zm-14-3zm0 1zm-2-2zm0 0zm-7 2zm-2-3zm-11 0zm-14 0zm-19 4zm-77 5zm98 0zm4-3zm11 3zm6 1zm1-4zm11 1zm1-1zm23 2zm7-1zm9-1zm3 2zm12 2zm5 1zm30-3zm-32 9zm-11-5zm-15 3zm-1 0zm-13 2zm-6-1zm-10-1zm-5 0zm-6 1zm-19-1zm-33 1zm-5 0zm-84 1zm95 6zm2-4zm31 4zm6-1zm5 0zm7-3zm3 2zm39 0zm48 1zm4-4zm7 11zm-64-4zm-11 0zm-46 2zm-13 0zm-5-1zm-87 8zm97 0zm0-4zm54 3zm3 2zm1-4zm8 3zm0-2zm4 2zm2 1zm2-4zm36-1zm-41 7zm-32 2zm-15 1zm-17-1zm-11 1zm-11 1zm3 3zm2-2zm12 0zm23 3zm6 0zm12-2zm0 3zm43-2zm20 3zm9-3zm8 2zm-59 7zm-22-5zm-6 1zm-15 2zm-2-2zm-4 3zm-20-2zm-5 9zm48-4zm6-1zm53 4zm-9 6zm-68 0zm-31-1zm4 3zm76 1zm-34 14zm34-2z" stroke="#134a18" stroke-width="3"/>
<path d="M910 569zm35 6zm-11-4zm-6 0zm-48 5zm53 9zm-98-2zm-4-1zm33 10zm48 0zm19 1zm6-5zm9 5zm6-1zm14 0zm8 0zm8-1zm16 1zm26-2zm-69 9zm-3-5zm-18 0zm-49 3zm-38-3zm-28 4zm-12 7zm26-2zm11-1zm12 1zm14 0zm36-1zm26-2zm35 1zm76 10zm-91-2zm-61-2zm-47 4zm0-3zm-20 1zm-61 7zm22-1zm16 2zm8-4zm68 4zm9-3zm21 0zm8 0zm6-1zm9 0zm45 2zm61-3zm14 7zm-15-1zm-41 2zm-15 3zm-14-1zm-49 0zm-12 1zm-3-2zm-1 2zm-22-2zm-17-1zm-18 3zm-12-4zm-3 1zm-7 2zm0-4zm-59 0zm-27 10zm75-4zm1 5zm26-4zm3 3zm19-3zm4 1zm5 3zm49 0zm2-4zm6 3zm19 0zm0-3zm8 0zm36 4zm13-3zm29 0zm6 3zm46-3zm-26 7zm-40 1zm-23-3zm0 0zm-4-1zm-25 5zm-16-1zm-3 1zm-2 0zm-2-4zm-5 3zm-4 0zm-10-1zm-17-3zm-10 5zm-18 0zm-3-2zm-18-1zm-5 1zm-88 0zm57 5zm20 2zm47-3zm8-1zm6 4zm19-3zm6 3zm2 0zm0-1zm19 1zm6-1zm17 2zm16-4zm29 3zm7-1zm54-3zm11 1zm-34 10zm-40-5zm-15 5zm-25-5zm-2 2zm-30 3zm-5-1zm-13 1zm-1-5zm-11 4zm-6-1zm-33-2zm0 0zm-9 2zm-5 1zm-33 0zm-2 0zm-49 0zm0-4zm-30 9zm8-2zm11 3zm44-2zm5 1zm38-1zm38 2zm3-3zm12 2zm20-3zm8 4zm5-2zm7 2zm17 1zm2-5zm13 0zm9 2zm9 3zm2 0zm4-3zm4 2zm32 1zm32-1zm56 7zm-17-4zm-41 0zm-30 0zm-9 1zm-37 3zm-2 0zm-1-1zm-12-4zm-15 2zm-13-1zm-9 4zm-2-2zm-1 1zm-6 0zm-39 1zm0 0zm-18-2zm-15 2zm-7-2zm0 0zm-34-2zm-24 3zm-81-1zm28 6zm6-3zm35 4zm12 1zm9-2zm5-2zm11 1zm5-2zm34 1zm3 1zm26-2zm0 4zm9-4zm3 0zm7 2zm1 1zm1 2zm1-4zm2 0zm1 2zm1-1zm3 1zm4 2zm2-1zm4 0zm4-2zm4 2zm6-4zm0 4zm3 0zm12 1zm10-1zm4-1zm0-3zm10 4zm7 0zm24-4zm19 3zm37-2zm14 3zm26-1zm11-2zm10 7zm-19 2zm-6-4zm-5 4zm-37 1zm-17-1zm-18-4zm-3 4zm-6-3zm-10 3zm0-2zm-9-1zm0-1zm-4 3zm-16-2zm-2 4zm-2-2zm-17-1zm-14-1zm-10 1zm-18 0zm-9 0zm-36 2zm-10 0zm-35-4zm-61 5zm-2 0zm-56 6zm7-3zm6 1zm1 2zm49-4zm30 2zm17-2zm16 4zm16-5zm1 2zm7-1zm6 0zm13-1zm13 0zm4 5zm14-5zm1 3zm3-3zm0 1zm5 2zm8 2zm4-5zm7 3zm9-3zm10 0zm1 4zm8 1zm20-2zm2-1zm28-2zm2 4zm1 1zm7-2zm8-1zm6 3zm6-1zm5 1zm10-5zm17 5zm3-1zm8-3zm1 3zm20-2zm3 6zm-18-1zm-36 2zm-12 0zm-15 0zm0-3zm-2 1zm-3 2zm-2-3zm-1 0zm-20 1zm-1 1zm-8-1zm-2 4zm-6-1zm-5-4zm-3 1zm-3 4zm-14-1zm-1-3zm-1 2zm-4-2zm-13-1zm-3 1zm-10 0zm-6 0zm-20-1zm-3 4zm-4-4zm-2 5zm0-1zm-3 1zm-24-5zm-2 3zm-49 0zm-53-3zm-11 4zm-34 6zm1-3zm49 3zm10-3zm2 1zm2 2zm21-4zm55 0zm13 4zm7 1zm7-1zm9-4zm12 4zm19 1zm4 0zm9-3zm3 2zm3-2zm6 2zm8-2zm15 1zm5 1zm0-2zm19 1zm1 0zm3-1zm3 2zm4-3zm1 3zm5-4zm7 4zm6-3zm7 4zm4 0zm27-5zm18 4zm5 0zm56 0zm-54 5zm-16-1zm-1 3zm-9-3zm-17-1zm-2 0zm-8-1zm0 5zm-3-3zm-2 1zm-21 0zm-3-3zm-1 5zm-3 0zm-3-4zm0 4zm-8-5zm-36 2zm-7 2zm-9-3zm-5 1zm-1 3zm0-3zm-16-2zm-12 0zm-15 3zm-2-1zm-5 2zm-7-4zm-20 5zm-1-1zm-8 1zm-43-2zm-36 2zm-11-5zm-34 2zm-28 2zm1 6zm36 1zm11-4zm4 4zm14-5zm55 0zm24 2zm3 0zm30-1zm4 1zm14 1zm23-3zm6 5zm18-4zm6 0zm15 3zm2 0zm15-2zm6 1zm3-1zm4-2zm4 0zm1 4zm2 1zm1-2zm9-1zm11 1zm1-2zm0 2zm0-3zm1 0zm5 0zm1 4zm7-1zm9 2zm2-5zm11 3zm5 0zm2-2zm4 4zm2 0zm75 4zm-55-3zm-19 3zm-3 1zm-6-4zm-2 1zm-1 3zm0-2zm-13-2zm-4 3zm-7-1zm-2 3zm-13-2zm0 2zm0-4zm-1 4zm-4-5zm-9 5zm-1-1zm-7 1zm-1-3zm-2-1zm-30 1zm0 3zm-2 0zm-12-4zm-5 3zm-8-4zm-7 3zm-2-3zm-1 2zm-12 2zm-1-2zm-27-2zm-7 2zm-37-2zm-28 3zm-16 2zm-65-5zm-4 1zm-38 3zm4 4zm40 0zm17 2zm19 0zm8-4zm4 1zm47 0zm40 2zm6 2zm23-4zm14 3zm13-1zm7-2zm0 0zm1 4zm19-1zm17-4zm3 1zm0-1zm1 1zm7 4zm1-2zm2 1zm2-2zm6 2zm5-2zm2 2zm2-1zm0-2zm1 4zm1-1zm3-2zm2 3zm0 0zm3 0zm2-1zm1-4zm1 0zm12 0zm3 1zm3 0zm17-1zm3 0zm3 1zm3 3zm2 1zm4-2zm5-2zm17 0zm6-1zm1 5zm20-5zm20 11zm-69 0zm-6-4zm-6 0zm-4 4zm-5-5zm0 1zm-1 2zm-8 2zm-8-2zm-2-1zm-2 2zm-1-3zm0 4zm0-5zm-2 5zm-4 0zm-6-5zm-6 3zm-4 2zm-1-2zm-8-2zm-15 0zm-16 4zm-3-2zm-1 0zm-9-3zm-5 5zm-20-2zm-8 1zm-4-4zm-5 0zm-2 0zm-12 3zm-11-1zm-16-2zm-15 5zm-32-4zm-2-1zm-8 1zm-18-1zm-2 3zm-4 0zm-23-2zm-26 0zm-13 3zm-16 2zm25 1zm65 0zm11 4zm17-5zm6 5zm1-2zm14 2zm25-4zm1 3zm8-2zm7 3zm11-2zm25 2zm10-5zm4 0zm3 0zm3 2zm3 1zm4-3zm3 4zm13-4zm0 2zm1 0zm3 1zm3 0zm1-2zm0-1zm7 0zm1 5zm29 0zm6 0zm18 0zm1 0zm2-5zm13 3zm1 2zm9-3zm5 1zm17 0zm1 2zm1-2zm2-3zm0 0zm53 5zm-70 1zm-7 2zm-6 0zm0 2zm-3 1zm-14-1zm-1-2zm-2-2zm-9 5zm0-3zm-4-2zm-1 1zm-3 2zm-1-3zm-5 1zm-6 0zm-1 4zm-4-4zm-7 4zm-1-2zm-3-3zm0 5zm-4-3zm-1 0zm-2 2zm-6 0zm-24-4zm-1 2zm-3 2zm-11-3zm0 2zm-1-1zm-8 2zm-66-2zm-4-2zm-14 0zm-37 3zm-18-2zm-4 3zm-11-4zm-2 4zm-22 0zm-20-3zm78 8zm32-1zm8 1zm45-3zm1 4zm6-1zm21 2zm17-2zm5 0zm2-2zm12 0zm2 3zm18-4zm5 4zm2-2zm7 0zm5 3zm1-2zm5 2zm4-1zm3 0zm2 0zm0-1zm3-2zm5 0zm14 4zm1-1zm19-2zm1 1zm19-3zm62 3zm-4 4zm-19 1zm-13 3zm-26-2zm-2 0zm-16-1zm-3 3zm-2-2zm-10-2zm-1 4zm-5-5zm-2 4zm-17-2zm-2-1zm-1 1zm-3 0zm-7 1zm-1 1zm-6-4zm-3 5zm-1-4zm-1 0zm-1 2zm-8 2zm-3 0zm-4-4zm-11 3zm-3-2zm0 3zm-1-5zm-7 2zm0-2zm0 4zm-7-2zm-9-1zm-3 3zm-45-2zm-17 1zm-12-1zm-4-2zm-33 2zm-74 3zm-41 0zm10 3zm91 3zm25-5zm14 0zm48 3zm1 1zm14 0zm6 1zm4 0zm5-4zm0 0zm5 2zm4-1zm4 3zm13-2zm3-1zm1 2zm7 1zm9-5zm3 5zm3-5zm4 4zm2 0zm3 1zm2-1zm12-1zm4-3zm2 5zm1 0zm3-1zm3 1zm3-4zm3 0zm2 1zm6 2zm12 0zm7-3zm4 1zm1 1zm7-1zm19 3zm18-2zm50 1zm-61 6zm-9-3zm-6 3zm-13-1zm-24 2zm-10-2zm-16-1zm-1 3zm-2-4zm0 2zm-20-3zm-8 3zm-4 1zm-2-4zm-3 4zm-1 1zm-1-5zm-22 4zm-7-3zm-24 0zm-15 0zm-38 3zm-4 1zm-6-1zm-28 0zm-61 0zm-15-4zm0 1zm-12 4zm-44 1zm17 3zm19-1zm2-1zm20 4zm93-5zm12 2zm2 1zm3-1zm26 1zm5 2zm9-4zm2 3zm8 1zm1-3zm21-1zm6 1zm11-2zm8 3zm10-3zm17 2zm3-2zm11 1zm0 2zm8 1zm7-1zm0-1zm4-1zm4 2zm5 0zm5 2zm14-5zm8 1zm6 1zm10 0zm10-1zm18 1zm62 0zm0-2zm-69 7zm-2 3zm-28-2zm-18 2zm-10 0zm-1-2zm-2 0zm-3-1zm-2 4zm-6-4zm-6 3zm-2-2zm-1 1zm-2-1zm-1 0zm-5 2zm-11-1zm-5 0zm-3-2zm-1-1zm-14 2zm-1 0zm-13-2zm0 1zm-7 3zm-1-2zm-5 2zm-3-1zm-1-1zm-1-2zm-2 4zm-7-1zm-4-2zm-14 2zm-5 2zm-1-1zm-19 0zm-40 0zm-16 0zm-12-3zm-123 1zm58 9zm14-4zm89 1zm1 2zm12-3zm8 1zm0 3zm1-1zm3-4zm8 0zm15 1zm7 4zm2 0zm17-1zm3 1zm10 0zm17-5zm4 3zm1-2zm9 4zm9-3zm7 1zm7-2zm5 0zm6-1zm9 2zm6 2zm23 0zm4-1zm21 0zm12 1zm28-2zm0 7zm-22-2zm-9 1zm-17 2zm-6-1zm-3 0zm-7 1zm-17 0zm-2-1zm-8 1zm-2-2zm-2 3zm-1-3zm-5 1zm-15 2zm-19-5zm-15 4zm-3-3zm-1 3zm-2-2zm0-2zm-5 1zm-10 3zm-3-3zm0 3zm-2-2zm-2-1zm-17 0zm-4 2zm-4-2zm-8 3zm-22-1zm-41 0zm-2 1zm-5-4zm-68 1zm-21 1zm70 4zm5 3zm15 1zm21-2zm11 0zm6 2zm8-3zm8 3zm5-4zm1 1zm12 3zm6-1zm3 2zm8 0zm5-5zm6 0zm3 2zm0 3zm5-5zm1 3zm0-1zm0-2zm12 5zm9-2zm7-2zm3 4zm4-5zm6 2zm29 3zm4-3zm4 1zm14-2zm2 2zm4-3zm2 4zm1 0zm10-2zm17-2zm0 2zm6-2zm2 0zm2 1zm16 3zm16-4zm16 1zm-65 6zm-7-1zm-3 1zm-9 3zm-11-4zm-2 1zm-10 1zm-4-2zm-19 0zm-6 1zm-6 1zm-17-2zm-8 1zm-7 0zm-5 2zm-8-1zm-30 3zm-6-5zm-10 4zm-3-4zm-28 4zm-2-2zm-36-1zm-19 0zm-6 1zm-50-2zm-47 2zm14 7zm11 0zm5 1zm21-2zm19 3zm47-5zm11 0zm9 1zm5 0zm4 1zm20 0zm5-2zm1 0zm24 1zm2 4zm10-2zm6 1zm8-1zm31 2zm4-4zm11 1zm1-2zm3 3zm4-1zm3 1zm3 2zm2-1zm5-1zm2-3zm2 4zm4-2zm13 2zm1-4zm15 4zm5-3zm12-1zm19 5zm15 6zm-66-1zm-8-3zm-13 3zm-3-1zm-20 2zm-4-5zm-7 3zm-4-3zm-5 1zm-2 3zm-11-1zm-2-1zm-7 0zm-7 2zm-12-1zm-4 1zm-5 1zm-1-4zm-1-1zm-3 5zm-8-1zm-4-4zm-7 4zm-2-4zm-1 0zm-9 0zm-70 5zm-56-1zm-2-2zm59 8zm8-4zm25 3zm9 0zm11-1zm7 1zm1 0zm20-2zm13 0zm3 1zm0 0zm5-1zm9 2zm3-1zm12 3zm9-4zm1 1zm12-1zm4 0zm0 1zm12 3zm1-1zm11-1zm7-1zm37-1zm19-1zm22 1zm42 0zm-23 6zm-45 0zm-5 4zm-3 0zm-5-3zm-14-1zm-2 3zm-11-1zm-2 1zm-3-2zm-13 1zm-4 1zm-3-1zm-17 2zm-6-1zm-1-2zm-4-1zm-17 1zm-3 3zm0 0zm-4-2zm-11-1zm-3 3zm-23-2zm-14 2zm-75 0zm-46 4zm47-2zm11 2zm16-3zm12 3zm19-3zm22 3zm10-2zm9 0zm12 3zm1-2zm3 1zm7 2zm5 0zm1 0zm13 0zm4-1zm4 0zm4-1zm11 2zm10-1zm17 1zm7-1zm11-2zm5 0zm18 1zm2-2zm3 2zm4-2zm0 2zm4-3zm10 4zm13-4zm13 3zm15 0zm3-1zm8 1zm-43 3zm-14 3zm-17-3zm-11 0zm-8 5zm-13-4zm-11 4zm0-1zm-2 0zm-2-2zm-2 3zm-18-2zm-8-3zm0 3zm-1 2zm0-2zm-2 2zm-2-1zm-15-1zm-14 0zm-22-2zm-9-1zm-4 1zm-61-1zm21 11zm7-1zm9-3zm6-1zm22 3zm2 1zm43-2zm9-2zm3 3zm10-3zm11 1zm18 1zm7 3zm5-4zm1 4zm11-4zm2 2zm110 2zm-10 6zm-101-5zm-2 1zm-29 3zm-7 0zm-12-3zm-23 2zm-18-1zm-2-1zm-5 2zm-13 1zm-9 0zm-1-1zm-126 0zm120 3zm29 3zm8 2zm2-5zm5 4zm11-3zm2 1zm1 2zm2-1zm2 1zm6 1zm9-2zm13 1zm3-4zm11 4zm4-3zm3 0zm17 0zm5-1zm3 1zm11 4zm4-4zm10 2zm23-2zm-5 7zm-15 1zm-10 0zm-19-3zm-25 2zm-10-1zm-9 1zm-8 0zm-2 3zm-17-1zm-14-4zm-10 0zm-151 4zm85 4zm16 1zm14-1zm10-1zm26 2zm8-3zm8 3zm1-1zm18 3zm11-4zm28 0zm22 3zm22 0zm24 1zm26 6zm-49-4zm-28 1zm-5 0zm-26 0zm-4 0zm-9-2zm-11 5zm-10-1zm-3-3zm-11 0zm-3 4zm-10-5zm-11 3zm-13 2zm-42 0zm-1-5zm-72 4zm5 7zm38-3zm34 3zm28-1zm44-4zm1 1zm2 3zm3 0zm14 0zm20-1zm16 0zm25 1zm14-3zm35 7zm-5-1zm-48 2zm-17-2zm-38 2zm-7 2zm-61-1zm-32-4zm-28 2zm2 9zm3-4zm32 1zm7-2zm16 0zm8 4zm14-2zm16 0zm66-1zm5 4zm11-1zm4 1zm38-2zm-3 6zm-38 1zm-37-2zm-3-2zm-86 5zm-28 1zm54 3zm8-1zm6 1zm85 4zm-35 2zm-18-1zm-51 0zm-34 4zm38 3zm40-3zm50 4zm15-4z" stroke="#eda53c" stroke-width="3"/>
<path d="M866 580zm16 0zm-21 6zm-42 3zm56 1zm-9 5zm-1 2zm-19-1zm-2 1zm-57 6zm74-3zm4 3zm66 7zm-21-1zm-7-3zm-1 4zm-12-4zm20 10zm12-4zm3 3zm23 6zm-39 1zm-10 0zm-53 1zm-75-3zm49 5zm7 1zm15 0zm11-2zm7 4zm16-2zm4-1zm14 2zm32 0zm-16 5zm-8 1zm-18 2zm-2 0zm-9-2zm-7-1zm-12-2zm-17 2zm-7-2zm-88 10zm17-3zm3-1zm103 5zm7-2zm14-1zm4 3zm12-5zm2 1zm3 2zm6 0zm61 1zm-23 3zm-22 0zm-2 4zm-12-3zm-9 2zm-1-1zm-3-3zm0 1zm-15 1zm-17-1zm-16 0zm-4 2zm-51-1zm40 4zm7 0zm8 3zm15-2zm17 0zm8 1zm31 2zm42 1zm-39 3zm-54 1zm-19 2zm-48-2zm-33-3zm77 11zm4-5zm14 4zm25-2zm5 8zm-53-4zm-72 4zm-11 2zm137 8zm-38 1zm-64 0zm-2 0zm-4-3zm-4 2zm-22-2zm-7 3zm-7-1zm4 5zm15 3zm26-1zm26-3zm15 1zm8-1zm19 5zm17-1zm5-4zm10 0zm0 1zm25 3zm-52 7zm-5-5zm-22 1zm-3 3zm-13 0zm-1 0zm-18 0zm-19-3zm-9 3zm-16-3zm-11 3zm-3 0zm-25 3zm43 4zm0-1zm9-3zm12 4zm5-1zm11 1zm8-4zm2 3zm14-2zm13-2zm21 2zm3 3zm2-2zm4 0zm11 1zm2 0zm21 0zm11 1zm-4 3zm-7 2zm-3 0zm-13-1zm-12-2zm-1 4zm-3-3zm-3-2zm0 2zm-1 3zm-4-4zm-1 3zm-1-3zm-1 3zm-17-1zm-7 2zm-13-3zm-13 3zm-12-4zm-6 1zm-2-1zm-9 3zm-3 0zm-26-4zm-17 1zm-2 3zm21 5zm18-1zm4 0zm47 0zm1-1zm1-1zm5 5zm14 0zm11-3zm1 3zm2-5zm21 4zm16-3zm1-1zm0 4zm3-3zm37 2zm6 6zm-23 1zm-38 0zm-1 1zm-7-4zm0 3zm-3-3zm0 3zm-5-3zm-6 4zm-1-4zm-7 0zm-1-1zm-5 2zm-2 2zm0-3zm-1 0zm0 3zm-11 1zm-13 0zm-16 0zm-25-1zm-11-3zm-32 10zm14 0zm9 0zm13-2zm15-3zm11 3zm24-1zm9 2zm3 1zm6-3zm3-1zm15 1zm3-2zm13 4zm3-4zm2 1zm1 0zm6 1zm0 0zm10-2zm24 1zm177 9zm-208-2zm-1 3zm0-4zm-14 3zm-5-1zm-3 2zm-13-4zm-24 2zm-1-1zm-24-1zm-16-1zm-2 3zm0-1zm-21-1zm-7 9zm4-3zm3 3zm28-4zm7 4zm18-1zm3-3zm11 2zm12 1zm2-3zm3 0zm6 1zm14 0zm39-1zm9 1zm12 1zm188 6zm-23-2zm-174 2zm-36 0zm-22 3zm-29 0zm-33-3zm-32 2zm-59-1zm91 5zm5-1zm7 0zm25 1zm35 3zm6-2zm4-1zm21 0zm202 5zm0 2zm-11 2zm-191-3zm-77 0zm-4-2zm-25 3zm-13-2zm-6-1zm0 3zm-7-2zm-19 1zm13 7zm11-1zm55 2zm28-3zm43 4zm201 5zm-37 1zm-187-2zm-25-2zm-57 1zm-34 0zm35 6zm4-1zm1-1zm3 6zm-40 0zm-40 1zm6 9zm5 1zm8 0zm17-3zm7-1zm1 0zm2 2zm18-1zm-15 6zm-1-2zm0 3zm-29-1zm32 5zm318 2zm6 6zm-18-1zm-306 8zm3 0zm298-2zm20-1zm-290 6zm-21 4zm-26-5zm-11 5zm-24-5zm35 9zm23-1zm4-2zm34 3zm6 1zm245 2zm-301 7zm9 2zm4-2zm23 1zm244-2zm11 3zm-289 9zm12 0zm1 5zm301-5zm-18 8zm-255 5zm44 8zm-2 3zm31 8zm-8-1zm-27 2zm-31 2zm-16-3zm54 13zm40 5zm-8 4zm-10 5zm-65-2zm26 8zm13-3zm1 1zm2-3zm23 3zm-60 3zm-8 0z" stroke="#134a18" stroke-width="3"/>
<filter id="blCL" x="-50%" y="-50%" width="200%" height="200%"><feGaussianBlur stdDeviation="2.5"/></filter><pattern id="spCL" width="61" height="53" patternUnits="userSpaceOnUse"><path d="M31.4 10.6zM57.2 33.4zM35.8 49.0zM6.4 41.4zM14.2 13.8zM19.9 38.7zM56.5 37.0zM19.7 7.6zM17.9 12.1zM30.6 26.9zM7.8 11.6zM52.8 36.8zM6.6 45.2zM27.5 20.6zM48.5 36.1zM26.7 20.6zM33.1 43.6zM42.8 5.5zM2.8 19.3zM18.1 40.7zM36.9 8.1zM25.9 30.4zM29.3 14.2zM41.7 15.3zM59.7 20.3zM30.6 42.0zM21.8 47.0zM33.6 28.6zM15.0 17.8zM32.1 42.8zM10.1 44.2zM55.5 5.1zM39.0 13.1zM6.9 50.8zM15.6 22.1zM42.5 32.0zM54.2 50.7zM28.5 6.5zM50.4 8.7zM22.5 12.3zM49.8 11.6zM48.9 29.1zM37.0 39.0zM21.5 10.2zM44.8 33.2zM25.6 10.4zM10.6 23.8zM41.0 16.3zM1.9 24.5zM14.7 39.1zM42.5 26.6zM5.7 35.6zM28.5 39.9zM47.8 8.3zM18.2 29.5zM7.1 9.5zM43.4 3.7zM15.6 7.9zM54.3 37.3zM45.6 42.8zM14.2 42.7zM22.1 20.8zM5.8 15.3zM23.4 42.5zM30.2 15.1zM36.8 16.4zM49.0 18.0zM13.7 20.8zM35.4 33.9zM17.2 28.7zM39.5 12.2zM19.3 23.0zM47.9 7.8zM16.7 47.0zM32.0 1.2zM33.1 50.7zM31.3 41.2zM49.6 8.2zM53.0 2.9zM6.1 36.0zM24.5 39.8zM26.1 29.5zM33.0 37.9zM51.8 50.8zM24.4 51.3zM3.6 37.9zM36.2 3.8zM17.7 37.6zM3.2 22.3zM40.9 12.2zM33.2 3.2zM8.5 4.9zM30.8 21.1zM47.2 37.3zM45.2 1.6zM29.5 51.6zM32.5 32.5zM48.1 9.4zM59.2 19.7zM31.1 51.7zM4.0 38.8zM9.2 40.8zM19.5 39.6zM30.4 36.4zM54.6 38.9zM46.6 12.2zM46.1 34.7zM11.2 25.4zM29.0 23.4zM40.9 6.0zM52.3 48.7zM4.5 3.8zM29.4 21.0zM26.5 23.7zM17.2 23.3zM22.9 18.5zM47.5 30.1zM57.7 45.4zM51.4 16.0zM42.7 25.8zM8.1 12.4zM3.4 22.0zM37.2 5.1zM38.8 14.3zM7.8 4.2zM38.6 13.5zM29.6 20.6zM41.8 36.9zM50.0 37.9zM28.1 25.5zM19.2 5.3zM15.1 29.0zM20.6 48.0zM53.0 18.2zM45.7 33.3zM18.9 30.8zM2.2 16.7zM33.8 32.6zM42.7 47.0zM56.2 42.8zM36.4 24.1zM23.1 19.1zM8.7 16.6zM33.0 18.5zM12.8 35.8zM21.0 31.0zM7.3 32.1zM25.7 50.5zM7.1 15.3zM45.2 24.3zM37.7 50.9zM33.7 6.6zM11.7 39.1zM4.6 40.0zM14.1 8.8zM54.0 29.1zM12.8 42.4zM44.8 48.1zM55.5 24.3zM51.8 2.2zM36.6 16.5zM25.0 49.2zM33.9 23.4zM33.1 51.6zM5.4 16.4zM7.0 30.2zM47.9 3.0zM33.3 27.8zM58.0 14.4zM50.1 22.4zM50.3 48.8zM23.4 24.4zM10.5 40.0zM54.8 17.5zM41.4 27.8zM36.2 46.3zM13.6 28.9zM45.2 21.3zM54.1 50.0zM59.5 14.1zM56.5 42.0zM7.2 4.3zM2.5 36.2zM40.8 1.2zM41.4 5.4zM55.5 12.4zM36.4 27.3zM43.7 35.8zM2.4 38.8zM19.4 24.4zM23.9 1.4zM5.5 17.2zM7.9 15.8zM45.2 6.7zM27.3 19.9zM3.7 40.3zM19.5 49.5zM19.5 38.3zM36.4 41.8zM42.9 2.6zM49.4 41.6zM57.4 47.1zM42.2 50.4zM7.1 28.6zM26.0 1.1zM6.3 29.8zM19.5 4.6zM3.0 28.0zM24.1 37.8zM56.9 29.1zM51.1 9.4zM57.0 18.5zM46.7 9.7zM9.2 15.3zM46.9 40.4zM56.1 9.8zM39.6 26.3zM49.8 20.7zM15.5 2.1zM13.7 31.0zM53.3 27.7zM35.2 36.5zM5.8 11.7zM42.6 39.6zM15.2 22.2zM38.7 9.0zM6.5 35.1zM20.4 51.9zM51.8 20.7zM39.8 4.1zM1.8 45.4zM25.5 1.2zM58.9 6.8zM3.4 25.7zM30.4 5.4zM51.7 16.2zM21.7 28.6zM49.1 1.9zM18.8 48.5zM44.3 14.9zM9.5 23.4zM6.2 4.3zM16.8 27.6zM40.8 14.5zM53.1 28.8zM19.7 48.6zM13.8 19.4zM10.8 5.6zM10.7 39.1zM20.9 11.3zM41.8 41.3zM22.9 14.0zM25.5 2.8zM31.4 33.7zM39.2 32.8zM56.1 10.3zM58.5 15.0zM50.4 2.6zM36.9 23.4zM28.0 33.9zM14.5 48.4zM39.6 3.1zM13.2 23.4zM26.7 43.3zM13.0 34.1zM1.4 12.1zM30.8 36.5zM2.1 27.7zM40.2 51.1zM42.6 1.7zM5.7 15.2zM21.6 27.9zM13.5 37.0zM37.3 33.0zM4.1 26.4zM17.8 10.6zM6.9 49.7zM57.2 41.1zM18.3 27.8zM30.6 12.7zM28.9 48.3zM38.1 5.7zM22.0 8.9zM56.8 8.9zM45.7 47.6zM35.3 20.6zM10.2 47.0zM51.5 16.5zM22.6 50.4zM1.6 17.7zM31.2 23.0zM9.5 33.6zM27.7 14.5zM21.1 48.4zM27.8 36.1zM16.9 1.6zM58.5 44.6zM49.1 15.6zM16.4 9.1zM25.6 2.8zM8.0 41.3zM27.0 16.8zM48.5 33.5zM44.0 49.0zM53.2 26.4zM4.0 40.3zM5.2 20.6zM13.1 19.3zM25.4 13.6zM55.7 7.7zM50.1 23.5zM54.2 23.4zM36.2 50.5zM38.1 35.2zM36.7 20.0zM58.4 27.0zM36.0 48.5zM45.9 24.7zM45.6 1.1zM47.4 4.8zM22.2 22.4zM31.8 39.6zM34.6 30.5zM13.7 11.8zM28.7 35.0zM54.6 45.4zM21.0 36.7zM46.2 12.2zM21.2 46.7zM1.1 41.9zM43.2 20.0zM5.4 15.6zM2.5 51.4zM31.8 24.2zM59.0 5.2zM37.4 31.7zM46.7 22.7zM45.7 43.3zM22.7 39.3zM26.5 21.1zM40.4 42.6zM20.4 49.0zM10.6 42.6zM19.6 42.9zM34.2 48.8zM45.8 49.4zM55.0 42.4zM33.1 51.8zM1.8 25.8zM8.2 7.0zM11.6 15.9zM52.9 3.9zM34.0 7.5zM27.7 11.3zM34.4 21.5zM31.7 3.6zM47.7 51.7zM43.8 16.4zM30.7 36.5zM55.3 31.2zM35.8 4.9zM28.1 50.3zM40.1 11.7zM57.5 7.5zM1.3 29.2zM39.1 7.8zM29.3 16.4zM6.1 51.5zM27.5 22.2zM25.3 16.6zM38.6 7.0zM5.8 37.4zM59.1 43.9zM54.5 43.2zM54.7 44.2zM18.1 42.7zM37.7 32.5zM48.2 17.1zM15.6 31.8zM46.7 19.4zM24.5 26.7zM11.8 51.1zM1.4 49.3zM25.5 8.5zM41.8 10.7zM4.1 10.9zM34.5 8.7zM37.7 21.6zM11.3 34.4zM37.1 43.2zM51.2 29.2zM10.5 10.5zM19.6 50.2zM39.3 30.0zM4.5 51.8zM26.3 23.1zM55.7 49.1zM42.5 18.1zM9.0 28.0zM34.9 5.3zM56.7 12.1zM55.4 29.8zM40.9 37.1zM15.9 8.7zM37.5 19.3zM33.4 44.4zM10.0 44.7zM25.1 5.0zM11.1 15.9zM22.0 37.7zM54.5 4.8zM33.1 1.9zM12.1 19.5zM50.8 5.9zM9.9 2.2zM35.7 51.1zM45.0 10.8zM50.2 39.4zM39.4 1.3zM35.8 43.0zM40.7 34.8zM24.3 16.0zM52.8 25.8zM13.1 22.5zM2.7 12.4zM23.7 42.4zM18.9 16.3zM45.6 30.5zM30.2 17.9zM54.4 20.6zM34.8 17.7zM36.8 37.5zM51.2 48.3zM32.4 46.8zM8.6 6.2zM41.9 42.9zM31.9 15.9zM25.9 41.0zM54.9 44.9zM53.6 26.2zM52.0 28.6zM35.8 8.4zM56.2 17.7zM27.5 9.6zM30.9 44.2zM25.8 39.4zM21.5 48.3zM3.0 17.1zM59.5 14.1zM14.4 20.5zM42.4 47.3zM53.3 19.6zM31.3 4.8zM46.8 46.4zM36.6 24.0zM7.3 4.6zM30.4 37.7zM51.6 31.4zM3.3 7.6zM36.2 26.1zM40.2 15.2zM30.6 28.4zM18.6 35.0zM14.5 47.9zM1.7 48.9zM35.4 23.1zM43.5 12.2zM29.4 34.6zM47.4 24.6zM15.9 3.1zM9.2 39.1zM41.5 22.4zM14.7 39.5zM40.8 2.0zM58.9 34.4zM20.9 17.1zM22.6 24.1zM42.2 51.6zM22.9 36.5zM25.8 41.1zM2.1 13.7zM35.8 5.3zM18.2 14.9zM35.4 21.3zM55.6 22.0zM28.3 36.4zM47.5 23.3zM18.9 9.7zM18.1 10.1zM54.7 4.4zM31.5 9.3zM38.0 9.3zM13.2 48.0zM11.4 13.9zM39.7 19.3zM5.1 21.1zM40.7 23.9zM7.7 43.3zM33.2 50.5zM30.7 1.0zM9.8 2.7zM33.3 26.7zM15.2 36.1zM58.6 2.1zM35.0 26.0zM37.2 20.4zM33.5 25.2zM16.1 44.8zM51.3 36.6zM34.0 4.0zM54.1 36.8zM40.3 28.6zM2.6 35.9zM50.6 39.8zM1.1 23.2zM58.1 10.1zM32.1 9.1zM53.0 32.5zM43.8 48.9zM28.9 39.8zM35.5 43.7zM20.4 41.4zM23.4 4.6zM49.8 2.0zM60.0 30.4zM5.0 26.7zM58.9 38.7zM52.1 1.9zM22.4 34.7zM55.3 25.0zM2.0 16.3zM46.7 4.4zM30.7 3.5zM52.3 36.3zM2.8 10.6zM9.6 14.6zM44.2 15.1zM42.9 37.7zM36.0 39.6zM5.2 35.1zM9.3 30.1zM26.0 25.3zM56.3 37.7zM2.2 28.1zM51.1 41.7zM46.6 36.6zM53.7 36.5zM9.7 12.5zM51.3 44.3zM15.9 31.5zM57.7 5.7zM36.7 8.9zM57.2 11.2zM1.9 22.9zM37.5 32.4zM21.8 6.5zM58.8 32.6zM51.2 21.3zM37.0 46.7zM53.9 48.5zM57.0 26.7zM37.7 16.2zM57.8 12.3zM26.1 32.5zM41.6 45.2zM59.6 27.8zM6.5 28.9zM25.2 9.9zM2.2 47.9zM50.6 39.7zM15.9 28.7zM53.3 29.6zM55.4 36.5zM19.6 42.1zM58.3 23.9zM42.0 38.3zM18.4 27.9zM50.3 21.6zM58.3 36.7zM19.2 23.4zM34.6 12.7zM3.7 3.4zM49.5 26.7zM8.1 31.9zM35.7 29.9zM13.0 23.4zM29.0 20.6zM56.6 42.0zM48.4 17.1zM54.9 6.3zM59.3 35.4zM47.1 38.6zM25.4 26.9zM58.2 17.3zM37.2 47.4zM22.5 25.7zM27.2 28.9zM5.0 20.3zM51.0 19.5zM42.2 26.1zM4.8 31.8zM31.6 14.4zM28.2 41.1zM53.7 39.8zM45.3 23.2zM7.0 32.1zM59.0 31.6zM51.8 40.3zM21.0 14.5zM23.8 37.5zM44.4 29.1zM7.5 31.3zM1.4 21.6zM51.4 28.9zM4.6 3.0zM43.7 35.2zM59.8 24.4zM38.3 49.7zM59.6 28.6zM53.0 6.5zM58.6 52.0zM39.4 30.2zM40.0 6.6zM45.4 36.0zM32.2 2.7zM38.7 40.7zM57.5 46.9zM50.0 6.5zM28.6 46.3zM44.5 24.0zM53.4 8.8zM27.2 39.9zM53.4 1.5zM20.5 5.0zM24.9 4.9zM34.4 42.3zM42.4 42.7zM7.1 31.3zM32.2 29.3zM24.5 51.2zM11.7 34.7zM36.9 5.3zM23.5 26.7zM55.5 16.5zM18.8 35.3zM59.3 3.1zM34.4 49.1zM51.5 37.4zM42.8 12.7zM34.2 44.0zM57.1 6.5zM59.4 26.5zM19.3 8.1zM3.5 30.8zM3.9 26.5zM39.5 49.8zM57.5 8.8zM41.8 40.5zM45.7 10.0zM45.5 26.0zM54.5 50.3zM25.9 5.3zM21.7 34.7zM41.4 9.2zM54.5 3.9zM18.2 37.7zM29.4 44.5zM33.6 14.5zM13.3 43.4zM50.4 35.2zM25.1 15.0zM56.6 18.2zM2.3 6.4zM10.6 22.4zM39.3 16.9zM16.9 29.3zM49.6 35.5zM1.4 26.6zM3.0 46.9zM28.8 34.9zM34.2 2.4zM31.1 40.9zM44.4 34.9zM56.0 37.2zM55.9 45.4zM29.5 21.1zM9.0 21.4zM22.1 37.8zM44.2 45.7zM45.5 40.6zM57.1 32.8zM32.9 27.5zM31.5 17.9zM56.9 2.1zM15.7 23.2zM5.9 44.3zM58.9 8.4zM48.5 41.7zM40.7 4.9zM49.9 7.7zM26.3 25.6zM42.6 48.7zM36.4 7.2zM15.2 50.7zM43.3 12.7zM55.5 45.7zM45.5 5.1zM16.4 50.1zM13.7 3.7zM50.6 4.3zM34.6 9.7zM24.6 8.8zM37.0 3.0zM44.8 14.1zM34.8 38.2zM19.5 36.4zM22.9 5.1zM18.0 50.3zM35.3 24.6zM22.1 3.8zM19.7 29.4zM56.3 28.8zM27.1 26.9zM47.8 4.4zM34.7 20.5zM34.9 9.3zM58.8 35.8zM23.4 5.3zM55.3 12.0zM11.5 2.1zM33.8 36.1zM32.7 5.0zM42.1 11.1zM41.3 19.1zM50.8 17.7zM53.8 45.4zM18.0 12.9zM34.0 28.5zM13.0 4.2zM50.5 44.1zM3.2 33.8zM38.4 16.8zM54.2 15.6z" stroke="#c4c4c4" stroke-width="1.7" stroke-linecap="round"/></pattern><mask id="mkCL" maskUnits="userSpaceOnUse" x="59.0" y="1028.9" width="521.1" height="388.3"><polygon points="177.9,1072.0 192.2,1060.8 212.3,1046.5 254.8,1048.3 268.2,1056.3 299.5,1055.4 326.4,1057.2 362.1,1063.0 389.0,1072.0 411.3,1080.9 438.2,1092.1 465.0,1103.3 476.2,1118.9 480.7,1141.3 476.2,1154.7 451.6,1152.5 433.7,1143.5 406.9,1134.6 389.0,1139.1 380.0,1159.2 362.1,1168.1 344.2,1172.6 335.3,1195.0 337.5,1215.1 362.1,1212.8 397.9,1210.6 438.2,1217.3 460.5,1235.2 487.4,1248.6 527.6,1255.3 532.1,1275.5 541.0,1297.8 554.5,1315.7 554.5,1342.6 532.1,1364.9 514.2,1373.9 487.4,1378.3 451.6,1382.8 415.8,1382.8 389.0,1387.3 375.6,1398.5 362.1,1391.8 344.2,1382.8 321.9,1373.9 304.0,1356.0 281.6,1353.7 264.6,1336.3 225.7,1324.7 218.6,1294.7 192.2,1292.0 168.0,1283.5 149.7,1267.4 122.4,1244.2 113.0,1219.1 84.8,1206.1 82.6,1195.0 102.7,1188.2 120.6,1192.7 147.5,1199.4 174.3,1195.0 201.1,1181.5 223.5,1172.6 236.9,1159.2 234.7,1136.8 228.0,1114.5 201.1,1107.7 183.2,1087.6" fill="#fff" filter="url(#bmCL)"/></mask><filter id="bmCL" x="-20%" y="-20%" width="140%" height="140%"><feGaussianBlur stdDeviation="3"/></filter><rect x="59.0" y="1028.9" width="521.1" height="388.3" fill="url(#spCL)" mask="url(#mkCL)"/><g fill="#c8c8c8" fill-opacity="0.5" stroke="none" filter="url(#blCL)"><ellipse cx="236.9" cy="1056.3" rx="17.9" ry="6.7"/><ellipse cx="290.6" cy="1063.0" rx="17.9" ry="6.7"/><ellipse cx="344.2" cy="1067.5" rx="22.4" ry="8.9"/><ellipse cx="380.0" cy="1083.1" rx="13.4" ry="8.9"/><ellipse cx="415.8" cy="1089.9" rx="13.4" ry="6.7"/><ellipse cx="447.1" cy="1118.9" rx="22.4" ry="11.2"/><ellipse cx="451.6" cy="1136.8" rx="17.9" ry="8.9"/><ellipse cx="250.3" cy="1105.5" rx="22.4" ry="11.2"/><ellipse cx="304.0" cy="1114.5" rx="17.9" ry="8.9"/><ellipse cx="335.3" cy="1105.5" rx="17.9" ry="8.9"/><ellipse cx="371.1" cy="1114.5" rx="13.4" ry="8.9"/><ellipse cx="205.6" cy="1101.0" rx="13.4" ry="6.7"/><ellipse cx="299.5" cy="1156.9" rx="17.9" ry="6.7"/><ellipse cx="366.6" cy="1154.7" rx="15.7" ry="6.7"/><ellipse cx="281.6" cy="1181.5" rx="11.2" ry="8.9"/><ellipse cx="317.4" cy="1192.7" rx="11.2" ry="8.9"/><ellipse cx="223.5" cy="1181.5" rx="13.4" ry="6.7"/><ellipse cx="415.8" cy="1195.0" rx="15.7" ry="6.7"/><ellipse cx="100.5" cy="1194.1" rx="17.9" ry="5.4"/><ellipse cx="129.6" cy="1212.8" rx="17.9" ry="8.9"/><ellipse cx="134.0" cy="1235.2" rx="13.4" ry="6.7"/><ellipse cx="178.8" cy="1221.8" rx="17.9" ry="8.9"/><ellipse cx="228.0" cy="1221.8" rx="13.4" ry="6.7"/><ellipse cx="281.6" cy="1221.8" rx="15.7" ry="6.7"/><ellipse cx="326.4" cy="1221.8" rx="13.4" ry="8.9"/><ellipse cx="371.1" cy="1228.5" rx="15.7" ry="8.9"/><ellipse cx="429.2" cy="1230.7" rx="13.4" ry="8.9"/><ellipse cx="456.1" cy="1248.6" rx="13.4" ry="8.9"/><ellipse cx="500.8" cy="1259.8" rx="17.9" ry="5.4"/><ellipse cx="165.3" cy="1257.6" rx="17.9" ry="8.9"/><ellipse cx="205.6" cy="1266.5" rx="22.4" ry="8.9"/><ellipse cx="254.8" cy="1257.6" rx="17.9" ry="8.9"/><ellipse cx="308.5" cy="1253.1" rx="17.9" ry="8.9"/><ellipse cx="348.7" cy="1248.6" rx="17.9" ry="8.9"/><ellipse cx="393.4" cy="1248.6" rx="17.9" ry="8.9"/><ellipse cx="219.0" cy="1284.4" rx="17.9" ry="8.9"/><ellipse cx="263.7" cy="1293.4" rx="17.9" ry="8.9"/><ellipse cx="308.5" cy="1288.9" rx="17.9" ry="8.9"/><ellipse cx="353.2" cy="1279.9" rx="13.4" ry="8.9"/><ellipse cx="397.9" cy="1293.4" rx="17.9" ry="8.9"/><ellipse cx="442.6" cy="1279.9" rx="17.9" ry="8.9"/><ellipse cx="482.9" cy="1297.8" rx="17.9" ry="8.9"/><ellipse cx="174.3" cy="1302.3" rx="17.9" ry="5.4"/><ellipse cx="241.4" cy="1315.7" rx="17.9" ry="6.7"/><ellipse cx="290.6" cy="1320.2" rx="17.9" ry="6.7"/><ellipse cx="330.8" cy="1315.7" rx="17.9" ry="6.7"/><ellipse cx="371.1" cy="1311.2" rx="17.9" ry="6.7"/><ellipse cx="420.3" cy="1315.7" rx="22.4" ry="6.7"/><ellipse cx="460.5" cy="1315.7" rx="17.9" ry="6.7"/><ellipse cx="532.1" cy="1320.2" rx="17.9" ry="8.9"/><ellipse cx="295.0" cy="1342.6" rx="13.4" ry="6.7"/><ellipse cx="344.2" cy="1360.4" rx="17.9" ry="8.9"/><ellipse cx="406.9" cy="1364.9" rx="17.9" ry="8.9"/><ellipse cx="447.1" cy="1347.0" rx="17.9" ry="8.9"/><ellipse cx="442.6" cy="1369.4" rx="13.4" ry="6.7"/><ellipse cx="487.4" cy="1356.0" rx="17.9" ry="6.7"/><ellipse cx="505.3" cy="1369.4" rx="17.9" ry="6.7"/><ellipse cx="536.6" cy="1338.1" rx="17.9" ry="6.7"/><ellipse cx="371.1" cy="1387.3" rx="8.9" ry="6.7"/><ellipse cx="505.3" cy="1329.1" rx="17.9" ry="8.9"/></g>
<path d="M232 1049zm9-1zm3 1zm14 4zm-1 2zm-2-2zm0 0zm-4 1zm-1 1zm0-3zm-2 2zm0 0zm-1-1zm0 0zm0 2zm-1 0zm0-4zm-1 2zm0 2zm-1 0zm-1-4zm0-1zm-1 4zm0 0zm0-4zm0 2zm0 3zm-1-3zm0 3zm0 0zm-1-1zm0-4zm0 3zm0 2zm-1-1zm0-1zm0-1zm0 3zm-1-1zm0-2zm-1-2zm0 2zm0-2zm-1 2zm-1 2zm0 0zm0-2zm-1 3zm0-1zm0 0zm0-2zm0 2zm-1 1zm0 0zm-1-4zm-1 0zm0 0zm-1 4zm0-2zm0 2zm-1-2zm0 0zm-2 1zm0-4zm-2 1zm0 1zm-1 3zm0-3zm-1 1zm-2 1zm0 1zm-5 0zm1 4zm4-2zm3-1zm0 0zm0 2zm0 1zm1-1zm0-2zm0 2zm1 2zm1-4zm0 4zm1-3zm0-1zm0 3zm1-1zm0 2zm0-4zm0 4zm1-4zm0 0zm0 2zm0-1zm0 4zm0-1zm1 0zm0-2zm0 0zm1-2zm0 2zm0-1zm1 1zm0-2zm0 2zm0 3zm1-5zm0 0zm0 3zm0-3zm1 2zm0-2zm0 4zm1-1zm0-2zm0 2zm0 1zm0-2zm1-1zm0-1zm0 0zm1 1zm0-1zm0 2zm0-1zm1 4zm0-3zm0 0zm1 0zm0-1zm1 0zm0 0zm0-1zm0 5zm0-1zm3-3zm0 4zm0-3zm1 3zm0-4zm0 2zm0-1zm0 3zm1-5zm0 0zm1 0zm0 1zm0 0zm0 1zm0-2zm1 1zm0 0zm0 1zm0-1zm1 0zm1 0zm0 1zm0-1zm2 2zm1-3zm0 3zm0 0zm0 0zm0 1zm1-1zm0-1zm1 2zm19 0zm1 0zm0-1zm2-1zm1 2zm0-1zm0-1zm1 2zm0 1zm2-2zm0 0zm1 2zm1-3zm0 2zm0-3zm0 4zm1-2zm0 1zm1 1zm0-5zm0 5zm0-5zm1 5zm0 0zm1 0zm0-1zm0-1zm0 2zm0-2zm0 0zm1-1zm0 1zm0 0zm1-2zm0-1zm1 3zm0 1zm1-2zm0 3zm0-1zm1 1zm1-4zm0 0zm0 4zm1-1zm0-3zm0 3zm0 1zm1-4zm1 4zm0-5zm1 5zm0 0zm3-1zm1 1zm0-3zm0 0zm1-1zm0 0zm2 2zm1 0zm1-2zm6 4zm13-2zm3 1zm2-2zm2 2zm2 1zm1-4zm0 4zm2-2zm1-2zm3 3zm2 1zm2-2zm1-2zm0-1zm1 2zm2 3zm0-3zm1-1zm2 3zm1 0zm1 1zm6 0zm7 3zm-1 3zm0-1zm-1 0zm-2-4zm-2 0zm0 2zm0-2zm-1 3zm0 2zm-1 0zm0-1zm-2 0zm0-4zm0 4zm0 1zm0-1zm-1 1zm0-4zm-1-1zm0 1zm0 4zm0 0zm-1 0zm0-1zm0 1zm-1-4zm0 3zm0 1zm0-1zm-1 1zm0-4zm0 3zm0-1zm-1 1zm0-2zm0 1zm0 1zm0-2zm-1-1zm0 3zm0 0zm0 0zm-1 0zm0-2zm0 0zm-1-1zm0 0zm0 0zm0 2zm0-1zm-1-1zm0 3zm0 1zm0 0zm-1-4zm0 2zm0-2zm0-1zm0 3zm-1-2zm0 4zm-1-5zm0 3zm0 1zm0-3zm0 0zm-1 1zm0 1zm0-2zm-1 0zm0 1zm0 2zm0-2zm-1-2zm0 0zm0 0zm-1 2zm0 0zm0-1zm0 2zm0-3zm0 4zm-1-1zm-1 1zm0-2zm0-1zm0 3zm0-1zm-1-1zm-1-1zm0 3zm0-4zm-1 5zm0 0zm0-4zm0 2zm-1-2zm0 1zm0 1zm0 2zm0-3zm-1-2zm0 0zm0 3zm0-1zm-1 0zm0-1zm0 3zm0 0zm-1-2zm0 3zm0 0zm0 0zm0-1zm-1-1zm-1-3zm0 5zm0-2zm-1 1zm-1 0zm0 0zm0-3zm-1 3zm-2 0zm0-2zm-1 1zm0 1zm0 0zm-1-4zm0 2zm0 0zm-1 2zm0-4zm-11 4zm-2-1zm-1-3zm-2 2zm0 0zm0-2zm-1 3zm0 1zm-1-3zm-1 1zm0 3zm0-5zm-1 0zm-1 1zm0-1zm0 3zm0 1zm0-3zm-1 2zm0-2zm0 0zm0-1zm-1 2zm0 0zm0 1zm0-2zm0-1zm-1 2zm0 1zm0 1zm0 1zm-1 0zm0-2zm0-3zm0 2zm0 2zm0 0zm-1 0zm0 0zm0-3zm0 3zm0-3zm-1-1zm0 5zm0-1zm-1 0zm0-2zm0 1zm-1-1zm0 1zm0 0zm-1-1zm0 1zm0-1zm-1-1zm0 3zm0-4zm-1 0zm0 3zm0 0zm-1 1zm0 1zm0-1zm-1-3zm0 0zm0 1zm0 2zm-1-1zm0 1zm0-3zm-1 2zm0 1zm0-4zm0 2zm0 1zm-1-1zm0 0zm-1-1zm0 4zm-1-2zm0-3zm-2 0zm0 1zm0 3zm0-1zm-1 0zm0-1zm-1 1zm0 2zm-1 0zm0 0zm0-1zm0-1zm0 2zm-1-5zm0 2zm-1-1zm0 2zm0 0zm-3 1zm-3-2zm-16-2zm-4 0zm-2 0zm0 0zm-6 1zm-3 2zm-1-3zm0 0zm-1 1zm-5-1zm-2 3zm-5-2zm53 5zm1 0zm2 0zm1 2zm1 0zm1-2zm4 1zm2 1zm2-2zm2 1zm1 0zm1-1zm4 3zm1-2zm3-1zm2 0zm13 0zm4 0zm1 1zm0 0zm2 3zm1-3zm1-1zm0 1zm0 1zm0-2zm0 0zm1 3zm1 0zm0 0zm1 1zm1 0zm0-4zm0 5zm0-1zm0 1zm1-5zm1 4zm0-4zm0 1zm0 1zm1 3zm0-5zm1 4zm0-4zm0 0zm0 1zm0 3zm1-1zm0 2zm0-4zm1 2zm0 1zm0-2zm1 0zm0 1zm1 0zm0-3zm0 5zm0-3zm1-2zm0 3zm0-3zm0 4zm1-2zm0 2zm0-3zm0-1zm1 2zm1 2zm1 1zm0-4zm0 3zm1 1zm0-2zm0-3zm0 0zm0 1zm0 1zm1 1zm0-1zm0 0zm0-2zm0 0zm1 3zm0-1zm1 3zm0-4zm1-1zm0 4zm1 0zm0-2zm0 0zm0 0zm1-2zm0 1zm0-1zm1 2zm0 3zm0 0zm0-2zm0-2zm1 1zm0-2zm0 2zm0 0zm1-2zm0 4zm0-4zm0 1zm0 2zm1-2zm0 1zm1 2zm0-1zm1 2zm0 0zm0-3zm0 2zm1-1zm0-2zm0 0zm1-1zm0 1zm1 4zm0-3zm0 1zm2-3zm1 5zm2-3zm0 3zm1-5zm1 4zm2-4zm3 5zm2 0zm7-2zm2 1zm3 1zm9 5zm-4-2zm-1 2zm0 0zm-1 1zm-1 0zm0-2zm0-3zm-2 4zm0 0zm-1 1zm0-1zm0-4zm-1 5zm0-2zm0 1zm-1 1zm0 0zm0-2zm0 1zm0 0zm-1 0zm0 0zm-1 0zm-2-2zm0 2zm-2-1zm0-3zm-1 1zm-1 4zm0 0zm0 0zm-3-2zm-3 0zm-1-1zm-1 3zm-3-1zm-1-3zm-1 0zm-8 1zm0-2zm-1 0zm-2 0zm-1 2zm0-1zm0-1zm-1 4zm0-2zm0 1zm-1 1zm-1-2zm-2-1zm-2 0zm0 2zm0-1zm-1-2zm-3 4zm-1-4zm-1 1zm-2 2zm-1-3zm-1 1zm-3-1zm36 6zm0 2zm0 3zm0-1zm1 1zm0 0zm0-4zm1 0zm2 0zm1-1zm0 5zm1-2zm1-3zm0 0zm1 1zm0 2zm0-1zm1 2zm1 0zm0-3zm0 2zm0-2zm0-1zm1 2zm0 3zm0-3zm0 3zm1 0zm0-1zm0-3zm0 2zm0-3zm1 1zm0 0zm0-1zm0 1zm0-1zm0 5zm1-5zm0 1zm1 0zm0-1zm0 2zm0 0zm0 2zm0 1zm0-5zm0 5zm0 0zm1-1zm0-1zm0-2zm0-1zm0 4zm0-3zm0 4zm1-2zm0-1zm0 2zm0 1zm0 0zm0-2zm0-1zm1-1zm0 3zm0-4zm0 4zm0 0zm1 1zm0-4zm0 3zm1 1zm0-5zm0 4zm0-2zm0 3zm1-4zm0 4zm0-1zm1-2zm0 3zm0-4zm0-1zm1 1zm1 3zm0-1zm1 1zm0-2zm1 3zm2-2zm3-3zm9 5zm3-3zm5 3zm2 0zm1-4zm1 2zm0 0zm0 2zm0-1zm3 0zm1 1zm0-2zm6 1zm0 4zm-1 3zm0-4zm0 4zm-1-3zm0 3zm-1 0zm-1-4zm0 1zm0 1zm0-1zm-1 1zm-2 2zm0-4zm0 2zm0 0zm0 1zm-1-4zm0 2zm0 2zm0 1zm-1-2zm0 2zm0 0zm0-2zm-1-1zm0-2zm0 3zm0 2zm0-1zm-1-2zm0 3zm0 0zm0-2zm0 0zm0-3zm-1 1zm0-1zm0 0zm0 2zm-1 2zm0 1zm0-5zm-1 4zm0 0zm0-2zm0 0zm0 2zm0-1zm0 1zm0-3zm0 3zm0-4zm-1 1zm0 3zm0-3zm0 0zm0 4zm0 0zm-1-1zm0 0zm0-3zm-1 4zm0-3zm-1 1zm0 2zm0-4zm0 3zm-1-1zm0-1zm0 0zm-1 1zm-2 0zm0 1zm0-3zm-1 2zm0 0zm0 0zm-1 2zm0-4zm-1 4zm-1 0zm-2 0zm-4-4zm-5-1zm-1 3zm-1-2zm-4 3zm0-4zm-1 4zm0-3zm0 3zm-1-3zm0 2zm0-1zm-1-1zm0 1zm0-2zm0 5zm0-4zm0 1zm0 3zm-1-5zm0 2zm-1-1zm0-1zm-1 5zm0-3zm0-2zm0 1zm-1 1zm0 1zm-1-3zm0 2zm-1 2zm-1-1zm0-1zm-1 0zm-1 3zm0-3zm-1 1zm-3-3zm0 0zm-1 2zm0 2zm0-1zm-2 0zm0-3zm-109 5zm-62 6zm1-2zm2-1zm3 1zm5 1zm0-1zm2 1zm0-1zm1 2zm1 0zm8 0zm10-1zm7 0zm2-2zm1 0zm0 0zm1 3zm1-5zm1 5zm2-1zm0 0zm3 1zm2-1zm1-2zm1-1zm1 4zm0-1zm2-3zm1 1zm1 2zm0 0zm0 0zm1 0zm0-2zm1 3zm2 0zm1 0zm1-2zm61 2zm3-1zm3 0zm3 1zm1-2zm2 1zm2 1zm1 0zm0 0zm1 0zm1 0zm1 0zm2-1zm6 1zm30-5zm6 0zm17 1zm1 1zm1-2zm0 0zm2 2zm2-2zm2 1zm0-1zm3 0zm0 1zm1-1zm0 1zm1-1zm0 3zm1 2zm0-2zm0 2zm0 0zm0-4zm1 1zm0-1zm1 1zm1 1zm1-2zm0-1zm0 2zm0 1zm0-3zm2 2zm1-2zm0 0zm0 1zm0 0zm2 0zm0 0zm1-1zm1 3zm3-2zm2-1zm-74 11zm-1-1zm-2 0zm-1 1zm-3-3zm-1 2zm0-4zm0 3zm0 2zm-1-3zm0-2zm0 2zm-1 0zm-1 1zm0-1zm-1-1zm0 2zm0 2zm-1-4zm-1 0zm0 3zm0 1zm0 0zm0-3zm0 2zm-1-4zm0 0zm-1 5zm0-1zm0 0zm-1-2zm0 2zm0-4zm-1 2zm0 0zm0 3zm0 0zm-1-4zm0 4zm-1 0zm0 0zm0 0zm0-1zm0 0zm-2 1zm0-1zm0 0zm0-1zm-1 0zm-1 0zm0 2zm0-5zm0 4zm-2-2zm0 3zm-1 0zm-1 0zm-1 0zm0-5zm0 3zm-2 1zm0 1zm-2 0zm0-4zm0 0zm-1 2zm-1 2zm-2-4zm-1 1zm-4-1zm-14 4zm-22-1zm-7-4zm-1 5zm-2-4zm0 1zm-1 0zm-1 3zm0-2zm0-1zm-1 1zm-1 0zm0 0zm-1-2zm0 4zm0-2zm-2 1zm-1-3zm0 3zm0-1zm0-1zm-1 0zm0-1zm0 2zm-2 0zm0 1zm0 1zm-1-1zm0-3zm-1 0zm-1 2zm0 0zm0 0zm0 1zm-1-2zm0 3zm0-1zm0 1zm-1-3zm0 0zm0-1zm0 1zm-1 3zm0-5zm0 4zm0 1zm-1-4zm0 0zm0 2zm-1-2zm0 2zm0-2zm-1 3zm0-3zm0 0zm0-1zm0 5zm-1-2zm0 0zm0 0zm-1 2zm0-5zm0 1zm-1 1zm0 0zm0 1zm0-2zm-1 2zm0-2zm-1-1zm0 3zm0 0zm0 0zm-2 0zm0-3zm-2 2zm0 1zm0 2zm-1-3zm0 3zm-1-5zm0 3zm0 0zm0-3zm0 4zm-2-1zm0 2zm0-5zm0 3zm-1-1zm0 1zm0-3zm-3 2zm-2 1zm0 1zm0-4zm-2 5zm-3-2zm0 0zm-5-3zm-1 2zm-1 2zm-2-4zm-1 4zm0 0zm0-2zm0 0zm-1-1zm-1 2zm-1-2zm0 0zm0 3zm0 0zm0-2zm0 2zm0-2zm-1-1zm0 4zm0-2zm0 1zm0-1zm-1 1zm0-3zm0-1zm0 4zm0-1zm-1-1zm0-1zm0 4zm0-1zm0-2zm0 3zm-1-1zm0-2zm0 2zm0-2zm-1 0zm0-2zm0 1zm0 4zm-1-2zm0-2zm0 1zm0 0zm0 1zm0-2zm0-1zm0 3zm-1 1zm0-3zm0-1zm-1 1zm0 1zm0-2zm0 4zm0-1zm0 1zm-1-1zm0 1zm0 1zm0-2zm0-1zm-1 0zm0 0zm0 2zm-1-4zm0 1zm-1 3zm0-2zm0 3zm0 0zm0-3zm-1 2zm0-4zm-1 1zm0 3zm0-1zm0-2zm-1 2zm0-2zm-1 3zm0-4zm0 3zm-1-1zm0 0zm0 2zm-1 0zm0-3zm-2 3zm0 2zm1 3zm0-3zm2 0zm0 2zm1-2zm2 2zm1 1zm1-3zm0 1zm1 2zm0-2zm1-1zm0 0zm0 1zm1 1zm0 1zm0-1zm3-2zm0 3zm0-3zm1 3zm0 0zm0 2zm1-3zm0-2zm2 4zm0-3zm0-1zm1 4zm7-1zm1-2zm1-1zm0 1zm2 2zm3-1zm1 1zm1-1zm0-1zm1-1zm2 1zm0-1zm1 0zm1 3zm1-1zm0 2zm3-2zm0 1zm0-1zm0 3zm0-2zm0 0zm1-3zm1 0zm0 1zm0 2zm2 0zm1 1zm0-2zm0-1zm1 3zm0 0zm0-2zm0-1zm0 3zm0-3zm1 4zm0-1zm0 1zm0-5zm0 5zm1-2zm0 2zm0 0zm0-2zm0-2zm1 1zm0 3zm0-2zm0-1zm0 0zm0 2zm1-2zm0 0zm0 0zm1 0zm0-1zm0 4zm0-4zm0 0zm0 2zm1 2zm0-1zm0-4zm1 0zm0 2zm0 3zm0-2zm0 0zm0 2zm0 0zm0-1zm0-1zm0 0zm1-2zm0 1zm0-1zm0 0zm0 4zm1-1zm0 0zm0-4zm0 4zm0-1zm0-1zm0-1zm1-1zm0 0zm0 2zm0-2zm0 3zm0-1zm1-2zm0 5zm0-3zm0 3zm1-1zm0 1zm0-3zm0-2zm1 2zm0-2zm0 4zm0 1zm1-4zm0 3zm0-2zm0 2zm0-2zm0 0zm0 3zm0-1zm1-2zm0 1zm0-2zm1 1zm0 2zm1-4zm0 2zm0-1zm0 3zm0-1zm1 0zm1-2zm0 2zm0 1zm1-2zm1 1zm0-3zm0 5zm1-1zm1-4zm1 0zm0 3zm1 1zm1-1zm1 0zm0-2zm2-1zm1 3zm0-2zm1-1zm0 0zm1 3zm3 0zm2 1zm9 1zm1 0zm1-1zm1 1zm0-2zm1 2zm0-1zm2-1zm2 2zm1-2zm0 2zm1-5zm1 0zm3 4zm1 0zm0 0zm0-1zm2 2zm2-3zm0 0zm0 3zm1-2zm1 2zm1-2zm1-3zm0 3zm1-3zm0 3zm1 2zm0 0zm0-4zm1 4zm1 0zm1 0zm2-4zm1 3zm0 1zm0-4zm1 0zm1 2zm0-1zm1 0zm2 1zm0-3zm0 2zm0 1zm1 0zm0-3zm0 0zm0 4zm0-2zm0 2zm0 0zm1 1zm0-2zm0 1zm0-3zm1 0zm1 2zm0-1zm1-2zm0 1zm1 1zm0-1zm0 1zm0-1zm0 4zm1-5zm0 3zm0-2zm0 0zm0-1zm0 4zm1-3zm0 4zm1 0zm0-4zm0 0zm0 2zm0 1zm1-2zm0 1zm1-3zm0 1zm0 1zm0 3zm0-4zm1-1zm0 1zm0 4zm1-2zm0 0zm0 0zm1 1zm0-4zm0 2zm0 2zm0 1zm0-5zm0 3zm1 0zm0 0zm0 1zm0-2zm1 2zm0 1zm1 0zm0-2zm0 2zm0-2zm0 0zm1-2zm0 2zm0-3zm1 4zm0-1zm0-2zm0 1zm0 1zm0 0zm0 2zm1-5zm0 3zm0-1zm0-2zm0 1zm1-1zm0 4zm1-4zm0 2zm0 1zm0 0zm0-2zm1 4zm0-2zm0 1zm0-2zm1 3zm0-3zm3 3zm0 0zm0-4zm2 2zm2 2zm2-2zm2 0zm4-1zm0 3zm2-2zm0 2zm0 0zm2-1zm1 0zm2 0zm0-3zm1 0zm4 0zm0 4zm0 0zm2-1zm0-4zm3 2zm0 2zm0 0zm0-1zm51 0zm2 1zm3 1zm1-3zm0 3zm0-3zm5 2zm1-2zm1 3zm2 0zm4-4zm2 4zm2 0zm0-3zm0 3zm0-4zm1 0zm1 3zm1-2zm5 1zm5 2zm4 6zm-1-4zm-1 2zm0 1zm0-4zm-2 3zm-1 1zm-1-1zm0 1zm-1 0zm0 1zm-1-3zm-1 2zm-3 0zm0-1zm0 2zm0-3zm0-1zm-1 1zm0 1zm0-1zm0 3zm0-2zm-1-2zm0 2zm0-2zm0 4zm-1-1zm-1 1zm0 0zm-1-3zm0 3zm0-3zm0-1zm0 4zm0-1zm-1 1zm-1-1zm0-1zm-1-3zm0 5zm0-4zm0 2zm-1 0zm0 1zm0-2zm-1 1zm0 2zm0-2zm0 1zm0 0zm0-1zm-1 2zm0-1zm0-2zm0 0zm-3 0zm0 3zm0-3zm0-1zm0-1zm-1 4zm-2-4zm-1 4zm0-3zm0 4zm-1 0zm0-4zm0 1zm-1-1zm0 1zm-1 3zm-1 0zm-1-2zm0 2zm0-3zm0 1zm0 2zm0-1zm-1 0zm-1-1zm-1-2zm0 4zm-1 0zm0 0zm0-3zm-1 0zm-1 2zm-1 1zm-3-4zm0 4zm-1-3zm-1 3zm-2-1zm-38-2zm-1 2zm0 1zm-1-1zm-2-1zm0 0zm0 1zm-1-1zm-1 0zm0 2zm-1-5zm0 4zm0 1zm-1 0zm0-2zm0 1zm0-2zm0 2zm0 1zm-1-2zm0 2zm0-1zm0 0zm0 0zm-1 0zm0-2zm0-1zm0-1zm-1 5zm0-5zm0 4zm0-3zm0 0zm0-1zm0 3zm0-3zm0 3zm-1-2zm0 0zm0 1zm0 0zm0 2zm0 1zm-1 0zm0 0zm0-3zm-1 1zm0-2zm0 0zm0 1zm0 3zm0-1zm-1-1zm0-3zm0 4zm0-2zm0 3zm0-1zm0-3zm0 0zm-1 2zm0-2zm0 1zm0-2zm-1 1zm-1 4zm0-1zm-1 0zm0-1zm0 2zm0-4zm0-1zm-1 4zm0-3zm-1 1zm0-1zm-1 3zm0-4zm0 1zm-1 3zm0 0zm-1 1zm0-3zm0 3zm0-2zm-2-2zm-1 0zm0 4zm-3-5zm0 5zm-1-4zm-3 1zm0 0zm-2 0zm-3 0zm-2-2zm0 1zm-1-1zm0 1zm0-1zm0 2zm-1-2zm-2 1zm0-1zm-1 3zm-1-3zm0 3zm-1-3zm-1 1zm-1 1zm0 2zm0-1zm0 0zm0 1zm0-4zm-1 1zm-1 4zm0-3zm-1 3zm0-4zm0 0zm0 0zm-1 2zm-2-3zm-1 1zm-1-1zm-1 3zm-1-1zm0 3zm-2-2zm-1 0zm-1-2zm-1 2zm0 1zm-1-1zm0-2zm0 0zm-1 4zm0-2zm0-1zm-2 0zm-1 2zm0 0zm0-3zm0 4zm0-5zm-1 1zm0 1zm-1 0zm-2 0zm0 0zm0-1zm-1 2zm0-1zm-1 2zm0-2zm0 3zm-1 0zm-1 0zm0-2zm0 0zm-1 1zm0-3zm0 4zm0-3zm0 0zm0 0zm-1 3zm0-3zm0 0zm0 2zm0 0zm-2 1zm0-5zm0 3zm0 1zm0 0zm0-4zm0 5zm-1-2zm0-2zm0 2zm0 2zm0-2zm0 2zm0-5zm-1 1zm0 1zm0 1zm0-1zm0-1zm-1 2zm0 1zm-1-1zm-1-1zm0-2zm0 0zm-1 4zm0-4zm-1 2zm0 3zm-1 0zm-1-5zm0 2zm0 0zm0-2zm0 0zm-2 5zm0-1zm0 0zm-3-3zm0 3zm-2-1zm-1-1zm-11 0zm0 0zm-2-2zm-1 1zm0-1zm-1 5zm-1-3zm-1-1zm0 0zm0 0zm-1 1zm-1 3zm-1-5zm-1 5zm0-5zm0 1zm-1 1zm0 3zm-1-2zm0-2zm0 0zm0 1zm-1 0zm0-2zm-1 2zm0 0zm-2-1zm0 0zm-1-1zm0 0zm-1 2zm-1 3zm0-2zm0-3zm0 4zm0-4zm-1 1zm-1 1zm0 1zm0-3zm-1 1zm0 1zm-1-2zm0 4zm0-4zm-1 1zm0-1zm0 3zm0 1zm-1-3zm0-1zm-1 3zm0-3zm0 5zm0-4zm-1-1zm0 0zm0 5zm-1-1zm0 0zm0-3zm0 3zm-1-4zm-1 1zm0-1zm0 3zm0-3zm-1 0zm0 1zm0 4zm-1-4zm-1 1zm0-2zm-1 0zm0 5zm-1-4zm0 3zm-3-2zm0-2zm0 0zm-1 3zm-1-3zm-1 0zm0 0zm-1 0zm-1 3zm0 1zm-1-2zm0 0zm-2 1zm-1-3zm0 1zm0-1zm7 6zm2 1zm1 0zm1 1zm1-1zm7-1zm1 0zm1 0zm1 1zm2 1zm2 0zm2-2zm0 1zm7 0zm22 0zm2 0zm0 4zm0-2zm2-1zm1 3zm0-4zm2 1zm0-2zm1 1zm0 0zm0 0zm1 4zm0-4zm0-1zm0 2zm1 0zm0 1zm1 1zm1 1zm0-2zm0 2zm0-4zm0 2zm0 1zm1-3zm0 3zm1-3zm0 2zm1-3zm0 3zm0 0zm0-3zm0 3zm1-3zm0 0zm0 2zm0-2zm0 5zm1-4zm0-1zm0 0zm0 2zm0-1zm0-1zm1 0zm0 1zm0 1zm1 1zm0-1zm0-2zm0 2zm0-2zm1 5zm0-3zm0 1zm0-3zm0 0zm0 0zm0 1zm1 0zm0 0zm0 0zm1 1zm0-2zm0 4zm0-1zm0 2zm1-1zm0 0zm0-3zm1-1zm1 5zm0-5zm0 2zm0-1zm1 0zm0 2zm0 2zm0-2zm0 0zm0-3zm1 1zm0 2zm0 0zm0-2zm1-1zm0 2zm0-2zm1 0zm0 4zm1-4zm0 0zm0 2zm2 0zm0-1zm0-1zm1 2zm0-2zm0 4zm1-1zm1-3zm2 1zm0 2zm0-2zm2-1zm0 0zm1 1zm1 0zm1 0zm4 0zm9-1zm19 4zm2-2zm1 0zm0 3zm2-5zm1 0zm0 5zm0-4zm1 0zm0 1zm0 0zm1-2zm0 1zm1 1zm0 0zm0-1zm0 4zm1-4zm0 0zm0-1zm0 2zm1-1zm0 1zm0 0zm0-2zm0 2zm1 0zm0-2zm0 0zm1 1zm0-1zm1 3zm0 2zm0-4zm1 2zm0 0zm0 2zm0-1zm0 1zm1 0zm1-2zm0-1zm0-1zm1 2zm0-2zm1 2zm0 1zm0-1zm0-3zm0 3zm1-3zm0 4zm0-1zm1 2zm0-5zm2 1zm0-1zm1 1zm3-1zm1 3zm0 2zm33-2zm1 2zm3-5zm1 4zm2 1zm0-1zm1-1zm2-2zm0 1zm1-2zm1 2zm0 0zm0-2zm0 4zm1-1zm0 2zm0-1zm1-1zm0-2zm0 0zm0-1zm1 0zm0 4zm0-3zm2 2zm0 0zm0 1zm1-3zm0 1zm0 0zm1 1zm0-2zm1 3zm0-4zm0 4zm1 1zm0-5zm0 5zm0-3zm1 3zm0-2zm0-3zm0 3zm1 2zm0-2zm1 1zm0-1zm0 2zm0-3zm1 3zm0-2zm0-1zm0-1zm0 2zm0-3zm0 0zm1 1zm0 3zm1-1zm0 0zm0-2zm0 0zm0 0zm0 0zm1 4zm0-5zm0 0zm0 4zm1 0zm0 0zm1-3zm0 4zm1-5zm0 0zm0 1zm0 2zm0-1zm1 3zm0-1zm0-3zm0 3zm0-4zm1 1zm0 1zm0 1zm0 1zm0-3zm1 4zm0-2zm0-2zm0 3zm1 1zm0 0zm0-3zm0-1zm1 2zm0 1zm0-4zm0 0zm0 2zm0 2zm1-2zm0 0zm0 3zm1-3zm0 0zm0 1zm1 1zm0-2zm0 2zm0 0zm0 0zm0-1zm1 1zm0-2zm0 3zm0-3zm1 2zm0-1zm1 2zm0-1zm1 0zm1-1zm0-2zm0 0zm2 0zm0 4zm0-5zm1 4zm0 0zm1-1zm0 2zm1-1zm0-4zm3 2zm3 1zm1-1zm1 1zm-8 3zm-1 3zm-3-3zm0 0zm-1 2zm-1 0zm0 3zm-1-1zm-1-1zm0-1zm0 1zm-1-3zm0 2zm0 2zm-1-1zm0-2zm0 4zm-1-3zm0 1zm-1-3zm0 2zm0 0zm0 1zm0-2zm0-1zm-1 5zm0 0zm-1-1zm0-1zm0-2zm-1-1zm-1 3zm0-1zm0-1zm0 3zm-1 1zm0-1zm-1-1zm0-1zm0 2zm-1-3zm0-1zm0 1zm0 2zm0-1zm-1-1zm0-1zm0 5zm0-5zm-1 3zm0-1zm0-1zm-1-1zm0 0zm-1 2zm0 0zm0 2zm0-1zm0 0zm-1-1zm0 1zm0-2zm0 3zm-1 0zm0-4zm0 1zm-1 0zm0 0zm0 4zm0-5zm-1 1zm0 2zm0 0zm0-2zm0 1zm0-2zm0 4zm-1 1zm-1-4zm0 4zm0 0zm-1-3zm0 1zm0 0zm0-1zm-1-2zm0 5zm0-5zm-1 3zm0-3zm-1 3zm0 0zm0-3zm0 4zm-1-2zm0 1zm-1-3zm0 0zm-1 5zm0-3zm0 3zm-1-4zm-1 4zm0-5zm0 5zm-2-5zm-1 1zm0 3zm-1-1zm-1-3zm-43 0zm-2 2zm-7-2zm-9 2zm-1-1zm-1-1zm-2 1zm-1 0zm-1-1zm-41 1zm-2 1zm-1 0zm-3-1zm0-1zm-2 2zm-1-2zm-3 0zm0 2zm-1-2zm-1 2zm-2-2zm-10 1zm0-1zm136 7zm3 0zm0-1zm4 0zm2 4zm1-2zm0-2zm1 4zm1-2zm1 2zm0 0zm2-4zm0 4zm0-3zm2 2zm0-1zm0-1zm1 1zm1-1zm0 1zm0 0zm0 1zm1-3zm0 3zm1-3zm0 1zm1 2zm0 2zm0 0zm1-1zm0-1zm0 1zm0-1zm0 2zm1-1zm0 0zm0 1zm1-2zm0-2zm0 4zm0-2zm1-2zm0 4zm0-5zm1 4zm0-4zm0 0zm0 3zm0 2zm0 0zm1-2zm0 0zm1-3zm1 3zm0-3zm1 0zm1 3zm0 2zm1 0zm0-2zm2-1zm1 3zm1-1zm0 1zm1-2zm2-2zm1 1zm1 2zm1-4zm3 10zm0-1zm0 2zm0 0zm-2-5zm-4 5zm0-1zm-1-1zm0 1zm0-2zm-1 2zm0-1zm0-2zm-1 3zm0 1zm0-3zm-1-1zm0 0zm-1 0zm-1 1zm0 0zm-1-2zm0 4zm0-4zm-1 0zm0 1zm0 2zm-1-1zm0 3zm0-4zm0 0zm-1 4zm0 0zm0-5zm-1 4zm0-4zm0 3zm0-2zm-1 1zm0 2zm0-2zm0 1zm-1-1zm0-1zm0 1zm0-1zm-1 4zm0-3zm0 3zm-1-1zm0-3zm0 2zm0 1zm-1-2zm0 0zm0 0zm0 2zm-1-4zm0 1zm0 3zm0-4zm0 5zm0-1zm0 1zm0 0zm0-2zm0 0zm0 1zm-1-3zm0-1zm0 3zm0 2zm0 0zm-1 0zm0-1zm0-1zm0 0zm-1 0zm0 0zm0-2zm0 3zm0-2zm0 3zm0-1zm-1-4zm0 1zm0-1zm0 2zm-1 2zm-1-2zm0-2zm0 5zm-1-3zm0-1zm0 2zm-1-2zm0 2zm-1 2zm0-2zm0-2zm-1 2zm0-2zm0-1zm0 2zm0 3zm-2-4zm-1 1zm0 1zm-1 1zm-1-2zm0 1zm0-1zm0 3zm-1-4zm-4-1zm0 5zm1 2zm2-1zm0 0zm6 0zm0 0zm1 0zm1 3zm0-3zm0 0zm1 2zm0-2zm0 0zm0 4zm0-1zm1-3zm1 0zm0 0zm0 1zm1 0zm0 3zm1-4zm0 1zm1 1zm0-2zm0 4zm1-1zm0-3zm0 1zm1 1zm0-2zm0 1zm0 1zm2 1zm0-2zm0-1zm1 0zm0 1zm1 2zm1-3zm0 2zm0-2zm1 5zm0-4zm1-1zm0 5zm1-5zm0 2zm0 2zm1 0zm2-4zm0 0zm1 4zm1-3zm0 3zm2-3zm0 3zm1-4zm2 1zm2 1zm4-1zm-11 6zm-5-1zm-1 1zm0 1zm-1-2zm-3 2zm-3-1zm-72 4zm0-2zm-3 1zm-1 0zm-3 0zm0-2zm0 3zm-1-2zm0 1zm-1-3zm-3 2zm0 1zm-1 1zm0-2zm0 2zm0 0zm-1-3zm-1 3zm0 0zm0 0zm0-3zm-1 3zm0 0zm-1-2zm-1-2zm0 4zm-1-1zm-2-2zm0 3zm-1-3zm-3 3zm-35 0zm-5-1zm-4 1zm-4-1zm-1 0zm-2 1zm-2 0zm-1-1zm0-1zm-2 1zm-3 1zm-5-1zm-1 0zm-9 6zm3 0zm0 1zm1-5zm1 4zm0 1zm0-1zm0 0zm2 1zm1-3zm2 1zm0 0zm1 2zm0-3zm2-2zm0 1zm0 0zm0 2zm1-1zm0 3zm0-3zm0 1zm0 0zm1 0zm0 2zm0-4zm0 3zm0-3zm1 4zm0-4zm0 0zm0 2zm1 1zm0 1zm0-3zm0-2zm1 2zm0 3zm0-1zm0-2zm0 2zm1 1zm0-3zm0 1zm0 1zm1-1zm1 0zm0 2zm0-2zm0 0zm0 2zm0 0zm1-4zm0 0zm0 1zm0 3zm0-1zm1-1zm0 1zm2 1zm0-2zm0 0zm0 1zm0 0zm1 1zm0-1zm0-2zm1 3zm0-1zm1 0zm0-1zm0-2zm1 1zm1 0zm0-1zm0 1zm1 2zm0-1zm0 2zm1-4zm0 3zm1 1zm1 0zm2-3zm0-2zm0 2zm2 2zm1 1zm0-2zm0 2zm1-2zm1-1zm4 2zm30 1zm0 0zm2-5zm0 4zm0 0zm1-3zm0 4zm1-5zm1 4zm0 1zm1 0zm0-1zm0-2zm0 1zm0 1zm0 0zm1-1zm0-2zm1 3zm0-3zm0 0zm1-1zm0 4zm0-4zm1 1zm0 2zm0-1zm0-1zm0-1zm0 0zm1 3zm0-2zm0 0zm0-1zm1 5zm0-4zm0-1zm0 4zm0-3zm0 1zm0 0zm0 1zm0 2zm1-3zm0 3zm0-3zm1-2zm0 3zm0-2zm0 3zm0-3zm0 0zm1 1zm0 2zm0-2zm1 2zm0-3zm0 2zm0-1zm1 0zm0-1zm0 2zm0 0zm0-2zm0-1zm1 3zm0-1zm0 3zm1-3zm1 3zm0-5zm0 2zm1-1zm0 0zm0 3zm0-1zm1-2zm0 4zm1-1zm0-4zm0 0zm0 1zm0 3zm1-1zm0 0zm1 0zm0 0zm0-3zm0 0zm0 5zm1 0zm1-5zm0 2zm0 1zm2-2zm1 4zm0-1zm1 0zm1-4zm-4 6zm-4 1zm0 0zm-2 0zm-2 3zm0-1zm-2 0zm0-2zm-2-1zm0 4zm0-4zm-1 0zm0 1zm-1 3zm0-3zm0 1zm-2-2zm-1 1zm-2-1zm0 0zm-1 2zm-4 0zm-1 0zm0-1zm-3-1zm-1 0zm-4 0zm-30 3zm-4-1zm0 0zm-1-2zm-1 3zm0-3zm0 1zm0-1zm-1 3zm0-1zm-1 1zm0-2zm-1 0zm0 4zm-1-4zm-1-1zm-1 1zm-1 2zm0 0zm0 2zm0 0zm-1-3zm0 0zm0-1zm-1-1zm0 5zm0-3zm0-1zm-1-1zm0 1zm-2 1zm0 0zm0-1zm0 1zm-1 0zm0-1zm0 1zm-1 2zm0-1zm0-2zm0 1zm0-2zm-1 3zm0-2zm0-1zm0 4zm-1-4zm0 3zm0 1zm-1-4zm0 2zm-1-1zm0-1zm-1 2zm0 2zm-1-2zm0 3zm-1-3zm0 2zm0 0zm0 0zm0-1zm-1-2zm0 4zm-1-2zm0-3zm-2 1zm-6 2zm-2-2zm14 5zm2 0zm6 1zm7 0zm5-1zm-22 11zm-2-2zm-1 2zm-1-2zm0 1zm0 0zm-5 1zm0-1zm-1-2zm-1 2zm-2-1zm-4 1zm-52-1zm-1 2zm-1 0zm0 0zm-3-1zm-4 1zm-3 6zm2-1zm0 1zm1-2zm0-3zm0 3zm2-1zm1 2zm0-2zm0 2zm1-2zm0 1zm1-2zm1 2zm0 1zm0 0zm1-3zm0 3zm0-1zm1 2zm0-5zm0 0zm1 3zm0-3zm0 5zm0-4zm1 2zm0-1zm0-1zm0 4zm1-1zm0 0zm0-1zm0-2zm0 4zm2-4zm0 4zm0-1zm0 1zm1-3zm0-1zm0 4zm0-1zm0-2zm1 1zm0 2zm0-3zm0 1zm0 0zm0-1zm0 2zm1-4zm0 3zm1-1zm0 0zm1 3zm0-3zm0-1zm1 1zm0 1zm1 2zm0 0zm2-2zm37 0zm1 2zm0-1zm2 0zm0-1zm0-1zm1 1zm0 0zm0 0zm0 0zm0-2zm1 3zm1-1zm0 0zm1-2zm1 3zm0-3zm0 1zm1 0zm0 3zm1-1zm0-2zm1-1zm0 3zm0-3zm0 4zm1-1zm0-1zm0-2zm0 0zm1 4zm0-1zm0-2zm0 2zm0-2zm0-2zm0 4zm1 1zm0 0zm0-4zm0 2zm0-2zm1 4zm1-2zm2 0zm0 0zm1-1zm2 1zm3 0zm129 8zm-6 0zm-94 0zm-1-3zm0 2zm0-1zm-1 1zm0 0zm-4-1zm-1 1zm-1 1zm-1 0zm0 0zm-1 0zm-1-3zm-1 2zm-1-3zm-2 1zm-16-2zm0 0zm0 1zm-1-1zm0 2zm-1-1zm0 3zm0 1zm0 0zm-1-5zm0 2zm0 0zm-1 2zm-1-3zm0 0zm-1 3zm-1-4zm0 4zm0-2zm-1-2zm0 1zm0-1zm-2 5zm0-1zm0 1zm0-3zm0 2zm-1 1zm0-4zm0-1zm0 2zm0 0zm-1-2zm0 4zm0 0zm0-2zm-1-2zm0 1zm0 0zm-1-1zm0 1zm0 1zm0-2zm-1 5zm0-4zm0 3zm0-4zm0 0zm0 5zm-1-5zm0 5zm0-2zm-1 2zm0-1zm-1 0zm0 0zm0-2zm-1-1zm0 0zm0 0zm-1 4zm0-3zm0 0zm0 0zm-1-1zm0 3zm0-2zm0 0zm-1 3zm-1-5zm0 3zm-33 1zm0-3zm-3-1zm-2 0zm0 4zm0-1zm-1 0zm0 1zm0-2zm0 2zm0-3zm0-1zm-1 0zm-1 3zm0 0zm-1-3zm0 4zm-2-4zm0 5zm-1-5zm-1 2zm0 1zm0 0zm-1-2zm0 3zm0-1zm0 2zm-1 0zm0-4zm0 4zm0-4zm0 1zm0 3zm-1-2zm0-1zm0-1zm0 0zm-1 3zm0-2zm0 2zm0 0zm-1-2zm0-1zm0 2zm-1-3zm0 4zm-1-4zm0 3zm0 2zm0 0zm-1-3zm-1 0zm0 1zm0 1zm0-4zm-1 0zm0 0zm-1 0zm0 0zm0 0zm-2 4zm-3-2zm-130 9zm7 0zm0-2zm1 1zm1 0zm2-4zm2 2zm1 3zm0 0zm1 0zm0-1zm1 1zm0-5zm0 1zm1 3zm1 1zm0-3zm0 0zm1 0zm1 1zm1 0zm1 1zm0 0zm0-2zm0 3zm0 0zm1 0zm1-2zm0 1zm0 0zm1 0zm0 0zm0 0zm0 0zm1 0zm0 1zm1-2zm1 1zm0-4zm0 4zm1-1zm0 0zm0 2zm1-1zm1-4zm2 5zm1 0zm1 0zm0-3zm1 2zm1-2zm0 2zm1 0zm2-1zm0 0zm98-2zm1-1zm8 2zm5-2zm42 2zm0-2zm3 4zm1-2zm1-1zm1 1zm2 0zm1-1zm0-1zm0 1zm1 2zm0-2zm1 1zm3 0zm1-2zm1 1zm0 2zm4-3zm13 2zm1 1zm0-2zm1 0zm1 4zm0-4zm0 2zm0-3zm1 0zm0 1zm1 3zm0-2zm1 2zm0-2zm0 2zm1-3zm0 2zm0-2zm0-1zm0 3zm1-2zm0 0zm0-1zm1 1zm0-1zm0 1zm1 3zm0-2zm0-2zm0 3zm1-2zm0 3zm0 1zm1-1zm0-2zm1-1zm0 4zm1-3zm0-1zm0 1zm0 0zm1 3zm0-3zm0 2zm0-2zm0-1zm0 2zm1 0zm0-3zm0 3zm1 1zm0 0zm0-4zm0 4zm1-2zm0-2zm1 2zm0-1zm0 1zm0-2zm2 5zm1-1zm0-1zm1 1zm1-2zm1 1zm0-1zm68 0zm3 3zm1-2zm3 0zm1 2zm0-1zm0-2zm2 1zm2-2zm1 4zm0 0zm1-1zm0 0zm0-4zm0 3zm1 0zm1 2zm0-5zm0 2zm0 3zm0 0zm0-1zm0-1zm2-3zm1 1zm0 4zm0-4zm0 1zm0 2zm1 0zm1 0zm1-1zm0 1zm0-2zm0 3zm0-2zm1 1zm1-3zm1 4zm0-2zm0-1zm1 2zm1 1zm0 0zm1-5zm1 4zm1 1zm2-1zm1 0zm4 5zm-1 1zm-5-3zm-1 1zm-1 3zm-1-3zm0 1zm0-2zm0 3zm-1 1zm0-5zm0 1zm-1 2zm0-2zm-2 1zm-1-2zm0 5zm-1-3zm0 2zm0-3zm-1 2zm-1 0zm0 2zm0-4zm0 1zm-1 3zm0-3zm0 2zm0-1zm0 2zm0 0zm0-4zm0 0zm-1 4zm-1 0zm0-4zm0 3zm0-4zm0 0zm-1 4zm0-1zm0 0zm0-3zm0 2zm0 1zm-1-1zm0-1zm0 2zm0 2zm-1-4zm0-1zm0 2zm0 0zm-1 0zm0-2zm0 2zm-1 0zm0-1zm0 4zm0 0zm-1-5zm0 1zm0-1zm0 5zm0-4zm0 4zm-1-5zm0 4zm0-3zm-1-1zm0 1zm0 2zm0 0zm0-3zm-1 0zm0 0zm-2 0zm0 4zm-1-1zm0 1zm0-4zm0 3zm-1-1zm-1-2zm-1 2zm-1 1zm-4 0zm0-1zm-65 0zm-1 0zm-3-2zm0 0zm-1 5zm0-1zm0-3zm-1 0zm0 2zm-1-1zm0-1zm-1 3zm0-4zm0 3zm0-2zm0 1zm-1 3zm0-2zm0 1zm-1 1zm-1-4zm0 4zm0-5zm0 1zm-1-1zm0 5zm0-5zm0 0zm0 4zm0 0zm0-4zm0 2zm-1-1zm0 4zm0 0zm0-5zm0 0zm-1 4zm0-2zm0 1zm-1 2zm0 0zm0-5zm0 4zm-1-4zm0 1zm0 3zm-1 1zm-1-4zm-1 2zm0-2zm0 0zm-1-1zm-2 2zm0-1zm0 4zm-4-4zm-185 2zm0-2zm-3-1zm-1 0zm-1 2zm0 0zm-1 2zm-1 0zm0-4zm0 4zm-1-4zm-1 4zm0-3zm0-1zm0 4zm0-3zm0 1zm0 0zm-1-2zm0 0zm-1 3zm-1-2zm0 1zm0 0zm-1-1zm-1 0zm0 1zm0 1zm0 1zm0-3zm-1-1zm0 1zm0 1zm-1-1zm0-1zm0 2zm-1-1zm-1 0zm0 0zm0 2zm0 1zm-1-2zm0 2zm0-3zm-1-1zm0 1zm-1 1zm0-1zm0 2zm0 2zm-1-5zm0 5zm-1-3zm0-1zm-1-1zm0 0zm0 0zm0 0zm0 0zm-1 2zm0-1zm-1 2zm-1-2zm-1 2zm0 0zm0-2zm-1-1zm-1 0zm-1 1zm-1 2zm0 0zm0-2zm0 4zm-1-2zm0-3zm-1 0zm0 0zm0 1zm-2-1zm0 4zm0-3zm-1 1zm-2 0zm0 0zm-1 0zm-1-1zm14 5zm2 0zm13 0zm8 5zm1-2zm2 2zm1-1zm2 0zm0-2zm1 3zm6 0zm1 0zm0-1zm1 1zm0 0zm0-3zm0 2zm2-2zm0 3zm3 0zm3-1zm0 0zm1-1zm1 1zm169-2zm3 0zm0-2zm1 2zm1-1zm1 3zm3-4zm1 3zm1-3zm1 2zm82-2zm0 0zm6 0zm1 2zm0-1zm0 1zm1-1zm0 0zm0 1zm0-1zm2-1zm0 0zm4 0zm0 1zm1 0zm2-1zm3 0zm0 2zm-244 9zm-9 0zm-2 0zm-19 0zm0-4zm-2 4zm-2-2zm0 0zm0 2zm-1-5zm0 3zm0 0zm0-3zm-1 2zm-2 2zm0 0zm-1 1zm-1-4zm-1 4zm0-1zm0 1zm-1-3zm-2 2zm0-3zm-1 2zm0 1zm-1 1zm0-5zm0 5zm0-1zm-1 0zm0-4zm-1 0zm0 2zm0 3zm0-4zm-1 2zm0 2zm0 0zm-1-2zm0 1zm-1-1zm0 0zm-1-1zm0 2zm-1 1zm0-2zm0 1zm0 0zm-1-3zm-1 3zm-1-2zm0 2zm-1-2zm-4 1zm0-2zm0 3zm-1 0zm0-1zm0 1zm-3 0zm-3-1zm-6 3zm2 1zm1 2zm3-1zm2-1zm0 2zm1-1zm1 0zm2 0zm0-2zm0 3zm1-3zm0 0zm0 2zm0 1zm2-3zm0 1zm0-1zm1 0zm0 5zm0-5zm0 2zm1 3zm0-1zm0-1zm0-1zm1-2zm1 5zm0-1zm0-1zm1-2zm0 1zm0-2zm0 4zm0-1zm0-2zm0 4zm1-1zm0-2zm0-1zm0 2zm0 2zm0-1zm0-4zm1 2zm0 1zm0 1zm0-1zm0-1zm1-1zm0 4zm1-3zm0-1zm0-1zm0 4zm0-2zm0-1zm0 0zm1 3zm0 1zm0 0zm0-2zm0-2zm0 4zm1-5zm0 0zm0 2zm0 1zm1 2zm0-3zm0 2zm0-1zm0-3zm0 2zm0 2zm1-3zm0 2zm0 0zm0-1zm0 1zm0-2zm1 3zm0 1zm0-5zm0 4zm0 0zm0-1zm0-1zm1 1zm0-1zm0 1zm0 0zm1-1zm0 2zm0-1zm0 1zm1-4zm0 1zm0 0zm0 0zm0 2zm1-2zm1 3zm2-2zm0 3zm0-4zm1 0zm0-1zm0 5zm0-2zm1-3zm1 0zm1 2zm1 3zm1-1zm1 1zm0 0zm1 0zm1-3zm8 3zm3-2zm1-1zm4 1zm0-1zm0 2zm1-3zm2 3zm1-3zm1 3zm1-1zm1 1zm2 1zm0 0zm2-2zm1 2zm0 0zm0-4zm1 2zm0 1zm0 1zm1-1zm0-3zm1 3zm1-2zm0 0zm1 2zm2 0zm0 1zm0-5zm1 4zm1 0zm1 1zm1-5zm1 4zm1-3zm0 0zm1 0zm0 4zm1 0zm27-1zm0 0zm2 1zm4-1zm0 1zm2 0zm0 0zm3-2zm2 2zm1 0zm39 0zm0-1zm0 1zm2-1zm3-3zm1 4zm2-2zm2 0zm3 2zm4 0zm1 0zm20-2zm2-1zm3 0zm0-1zm2 3zm0 1zm2-1zm0-3zm1 3zm1 0zm0-1zm0 2zm0 0zm1-1zm1-2zm1-2zm0 4zm2-4zm0 5zm0-1zm0 0zm0-1zm3-2zm0 3zm1 1zm0-3zm1 0zm0 3zm1-2zm1 0zm0 2zm1-3zm1-1zm96 10zm-1-1zm0 1zm-2-4zm-1 0zm0 2zm0 1zm-4 0zm-1 1zm0-3zm-6 3zm0 0zm-32-1zm-1 1zm0-1zm-2-1zm-1-2zm-1 4zm-3-3zm0-1zm0 1zm-2 1zm0-3zm0 5zm0-1zm-1 0zm0 0zm-1 0zm0 0zm-1 1zm-3-1zm0 1zm-3 0zm0-5zm0 5zm-2-1zm0 1zm-1 0zm0 0zm-1 0zm-1-1zm-1 0zm-1 1zm-1-3zm0 3zm-17-3zm0 1zm0 0zm-1-1zm-1 1zm0-2zm0 4zm-1-1zm0 1zm0-3zm-1 2zm0 0zm-1-1zm0 0zm-1-2zm-1-1zm0 0zm0 5zm-1-5zm0 0zm-1 4zm0-2zm0 1zm0-1zm-1 2zm-1-2zm0-2zm0 4zm0-1zm-1 1zm-1-3zm0-1zm-1 0zm0 5zm0-5zm0 2zm-1 0zm0-2zm0 5zm0 0zm-1-4zm0 0zm0 3zm0-1zm0-3zm0 2zm0 2zm-1-2zm0 0zm0-1zm0-1zm-1 4zm0 0zm0-4zm0 0zm0 1zm-1 2zm0-3zm0 5zm0-1zm-1-2zm0 2zm0-2zm-1 0zm0 0zm-1 1zm0-3zm0 5zm0-2zm-1-3zm0 3zm0-1zm-1 0zm0 0zm0-2zm-1 3zm0 1zm-1-2zm-1 3zm-1-4zm-1 3zm-3-1zm0-2zm-8 2zm-2-2zm-1-1zm-2 1zm0 1zm-1 2zm-1-3zm-1 0zm0 4zm-1-2zm0-1zm-1 2zm-1 0zm0-2zm0 2zm0-4zm-1 2zm-1-2zm-1 5zm0-4zm0 1zm0 2zm-1-1zm0 2zm0-2zm0 0zm-1 1zm0-3zm-1 0zm0 1zm-1-1zm-1 2zm0-1zm0 0zm0 1zm0-1zm-1 2zm0-4zm0 3zm0-2zm0 2zm-1-1zm0 1zm0 1zm0-1zm-1 0zm0-3zm0 1zm0 1zm0 0zm-1-1zm0 0zm0 3zm0-3zm0 4zm-1-2zm0-3zm0 3zm0 2zm0 0zm-1-4zm0-1zm0 1zm0 2zm-1 2zm0-1zm0-1zm0 0zm-1-3zm0 0zm-1 5zm0-1zm0-2zm0 1zm0-1zm-1-2zm0 1zm0-1zm-1 5zm0-5zm0 3zm-1 2zm0 0zm-1-4zm-1 4zm0-5zm0 0zm0 3zm-1 1zm-2 1zm0-3zm-3 0zm-2 3zm-16-3zm-1 0zm-1 1zm-3 1zm0 0zm-1 0zm-2-1zm0 2zm0 0zm0-1zm0-2zm0 2zm-1-1zm0-2zm-1 3zm0-2zm-2-2zm0 0zm0 1zm-1 4zm0-2zm0 1zm0-4zm0 3zm0-2zm-1 4zm0 0zm0-1zm0-4zm0 2zm0 0zm-1 2zm0 1zm-1 0zm0-4zm0 4zm0-5zm0 3zm0-1zm-1-1zm0 1zm-1 3zm0-2zm0-2zm-1 0zm0 3zm0-4zm-1 2zm0 3zm0-5zm0 1zm0 3zm0-2zm0-2zm-1 5zm0-4zm0 3zm0-1zm0-3zm-1 0zm0 3zm0 0zm0 2zm0-4zm0 2zm-1-3zm0 0zm-1 4zm0-4zm0 3zm0-2zm-1 3zm0-1zm0 1zm0-4zm-1 4zm0-4zm0 5zm-1-2zm-1 0zm0-2zm-1 0zm0 1zm-1 3zm0 0zm-1-2zm-1-2zm-12 4zm-1-2zm-2-3zm-2 1zm-2 3zm-1 0zm0-1zm0-3zm-1 3zm0 0zm-1 1zm-1-4zm-1 0zm0 3zm0-3zm0 2zm-1 0zm0 2zm-1 1zm-1-4zm0 4zm0-2zm0-3zm-2 0zm0 5zm0-1zm-1-1zm0 0zm0 0zm0 0zm-1 1zm0-1zm0 0zm-1 2zm0-3zm0 3zm0-5zm-1 3zm0 1zm0-3zm0 1zm0 0zm-1 1zm0 0zm0 2zm0-2zm0 2zm0-1zm0-2zm0 1zm-1-1zm0 0zm0-1zm0 1zm0 3zm-1-5zm0 2zm0 1zm0-2zm0-1zm-1 4zm0-3zm0 3zm0-4zm0 0zm0 5zm-1-3zm-1 2zm0-3zm0 4zm0 0zm0-1zm-1-1zm0-3zm0 4zm0 0zm0-2zm-1 3zm-1-1zm-1 0zm0 1zm-1 0zm0-2zm-1 0zm0-2zm0-1zm0 5zm0-2zm-1-3zm0 0zm0 1zm0 0zm-4 4zm0-1zm0-3zm-1-1zm-1 2zm-15 0zm-4 0zm0-2zm-2 3zm0-3zm-4 1zm0 3zm0-2zm-2 0zm0-2zm0 1zm0 1zm0-2zm0 4zm-2-3zm-2 2zm0 0zm0-1zm-1-2zm0 3zm-1-3zm-1 1zm0 0zm-2 1zm-1 3zm-1-3zm-1 0zm-1-1zm0 0zm0-1zm-1 1zm0 0zm-1 1zm-1-2zm0 0zm0 0zm-1 1zm-1 1zm7 4zm8 0zm2 3zm0 2zm1-5zm7 4zm4 1zm13-5zm3 1zm4 4zm0-5zm0 2zm1-2zm1 1zm1-1zm1 1zm0 2zm1-3zm0 2zm1 1zm0-3zm0 1zm0 2zm1-2zm0 4zm0-2zm0-3zm0 1zm1 2zm0 1zm1-3zm0-1zm1 1zm0-1zm1 5zm0-3zm0-2zm0 3zm0-2zm1 4zm0-1zm0-3zm0-1zm1 0zm0 0zm0 2zm1-1zm0-1zm0 0zm0 1zm1 0zm0 3zm0-3zm0 1zm0 3zm0-4zm0 3zm1-2zm0-1zm1 1zm0-2zm0 2zm1-2zm1 0zm1 2zm0 1zm1 0zm0-1zm0-2zm0 3zm0-1zm1 0zm0 1zm0-2zm0 2zm1-3zm0 1zm0-1zm0 3zm0 1zm1-3zm1 2zm0-2zm1 0zm0 0zm0-1zm0 1zm1 4zm0-2zm1 0zm0-2zm1-1zm1 3zm0 1zm2 0zm1-4zm1 4zm2-3zm13 1zm2 0zm1 0zm1 2zm1-4zm0 2zm0-2zm1 0zm2 0zm1 1zm2 0zm3-1zm0 0zm0 1zm1 2zm0 0zm0-3zm0 3zm1-1zm0 0zm1 2zm0-1zm0 0zm1 1zm0-4zm0 0zm1 1zm0 1zm0 0zm1 2zm0-2zm3-1zm1 0zm1 1zm1 0zm2-2zm1 0zm1 0zm19 0zm1 0zm3 2zm0-2zm3 0zm1 0zm2 1zm0 0zm0-1zm0 2zm1-2zm1 1zm1 3zm0 1zm1-3zm0-2zm0 1zm1 0zm0 2zm0 0zm0-3zm1 0zm0 1zm1 0zm0 0zm1 1zm1 2zm0-1zm0-2zm0 1zm1-1zm0-1zm1 1zm0 0zm1 1zm0-2zm0 0zm0 3zm1-3zm1 4zm1 1zm0-5zm3 2zm0-1zm0-1zm1 5zm0-5zm1 0zm1 1zm1-1zm2 1zm17 2zm2 0zm1-3zm0 1zm0 3zm0-4zm1 0zm0 0zm1 1zm1 3zm1-4zm0 0zm1 1zm0 0zm1 2zm0-1zm0 1zm2 0zm0-1zm0-1zm1 4zm0-4zm0-1zm1 0zm0 1zm0 2zm0 0zm0-1zm1-1zm0 1zm0-2zm0 1zm2 0zm0 1zm0-2zm0 3zm1-3zm0 1zm1 1zm0 1zm0-1zm1-1zm0-1zm1 0zm0 0zm0 5zm1-4zm0 2zm0-2zm1 0zm0 4zm1 0zm0-4zm0 2zm4-2zm0 0zm10 1zm2-2zm1 4zm0-2zm4 1zm0-1zm0 2zm1-2zm1 1zm0 0zm0 2zm0 0zm1-1zm0-3zm0 0zm0 3zm1-1zm0 0zm0 1zm1-1zm0 0zm1 0zm0 1zm1-1zm0 1zm0-2zm1-1zm0 2zm0-2zm0 0zm0 3zm1 1zm0 0zm0-1zm0-4zm1 5zm0-3zm0 3zm0-2zm0-1zm1 1zm0 0zm0-3zm0 2zm0 1zm0-2zm0 1zm1 2zm0-2zm0 0zm0 2zm1-1zm0-1zm0 1zm1-3zm0 4zm0-4zm1 1zm0 2zm1-1zm0 2zm0 0zm0-3zm1 1zm0-2zm0 3zm0-3zm1 3zm0-2zm0 4zm1 0zm0 0zm0-5zm0 2zm0-2zm1 3zm1 1zm0-2zm0-1zm1 2zm0 2zm0-2zm1 2zm0-3zm0 2zm0 1zm1-3zm0-1zm1 1zm0 2zm0-3zm1 4zm0 0zm1-4zm2 3zm1 1zm1 0zm25-4zm3 0zm0 0zm3 0zm1 0zm1 0zm0 4zm1-2zm1-1zm0 3zm0-1zm0-3zm1-1zm0 5zm0 0zm0 0zm0 0zm1-5zm0 3zm0 0zm0 0zm0-1zm0 1zm0-3zm1 0zm0 4zm1 1zm0-5zm0 5zm0-1zm0 0zm0-1zm1-2zm0 1zm0 3zm0 0zm0-1zm1-2zm0 1zm0-1zm0 2zm0-3zm1 3zm1-2zm0 3zm0 0zm0 0zm0 0zm1-2zm0 1zm0 1zm0-2zm0 2zm1-5zm0 4zm1-1zm2-1zm0 2zm0 1zm1-1zm0 0zm0 0zm1-2zm2 2zm2 0zm4 3zm-2 0zm-2 3zm0-4zm-1 1zm0-1zm0 1zm-1-1zm0 0zm-1 1zm0 1zm0 3zm-1-4zm0 1zm-1 0zm0 3zm0 0zm-1-4zm0 3zm0-4zm0 2zm0-1zm-1 3zm0 0zm-1-2zm-1 2zm0 0zm-1-1zm0 0zm0-1zm0 1zm-1-1zm0 1zm0 0zm0 1zm0-4zm-1 2zm0-2zm0 0zm0 4zm0 0zm0 0zm-1 1zm0-1zm0-3zm-1-1zm0 0zm0 1zm-1 2zm0 0zm0-3zm0 1zm0-1zm-1 5zm0-3zm0-1zm0 3zm-1-4zm0 4zm0 0zm0-1zm-1 1zm0-1zm-1 2zm0-1zm-1 0zm-1-1zm0-2zm-1 0zm0 3zm0-4zm-1 5zm-1-2zm0 0zm0 1zm0-2zm-1 1zm0 1zm-1-3zm-1 4zm-1-5zm0 2zm-1 1zm-24-3zm-4 4zm-1-4zm0 0zm0 5zm-1-3zm0-2zm-2 0zm0 5zm0-3zm-2 1zm0-3zm0 3zm0-2zm0 2zm-1-2zm0 3zm-1-3zm0 3zm0-2zm0-2zm-1 3zm0-2zm0 3zm-1-3zm0-1zm0 2zm0-1zm-1 4zm0-4zm0 3zm-1 0zm-1-2zm0-2zm0 3zm0 1zm-1-4zm0 0zm0 5zm0-4zm-1-1zm0 0zm-1 5zm0-5zm0 1zm0 1zm-1 0zm0 1zm0 1zm-1-3zm0-1zm-1 2zm0-2zm-2 2zm0-1zm0 2zm-1 2zm0 0zm-1-5zm-2 2zm-1-1zm0 0zm0-1zm-1 5zm0-3zm-1 0zm-2 0zm-1-1zm-3 0zm-17-1zm-1 1zm-2-1zm0 1zm-4-1zm-2 2zm-1-1zm-6 0zm-32-1zm-4 0zm-95 1zm-1-1zm-7 1zm0 0zm0 1zm-1-2zm0 0zm-4 1zm-6 0zm-19 4zm-1-4zm-2 1zm-1 1zm-2 0zm-1-2zm-1 0zm0 0zm-1 0zm0 3zm0 1zm0-3zm-1 0zm0 3zm-1 0zm0-1zm-1-4zm0 3zm0-1zm0 0zm0 3zm-2-1zm0 1zm0 0zm-1-1zm0-2zm0 0zm-1-1zm0 1zm0 1zm-1-3zm0 1zm0 3zm0-4zm-1 4zm0 1zm0-1zm-1-2zm0 3zm0 0zm-1-5zm0 4zm0 1zm-1 0zm-1-5zm-1 3zm0 2zm-1-2zm0-2zm0 3zm-1-3zm0 3zm0 1zm0-4zm0 1zm-1 0zm0 2zm-2-1zm0 2zm-1-4zm-3 5zm0 1zm1-1zm3 2zm0-2zm1 2zm1-2zm0 0zm0 1zm1-1zm0 0zm0 1zm1 0zm0 1zm1-1zm1 2zm0 2zm1-4zm0-1zm1 2zm0 0zm1 0zm0-2zm0 2zm0 0zm0 0zm1 0zm0-1zm0-1zm0 1zm0-1zm0 2zm1 0zm0 1zm1 2zm1-1zm0-2zm1 2zm1-4zm0 1zm0 2zm0-2zm1-1zm0 3zm0-3zm0 0zm0 1zm0 0zm0 2zm1-2zm0 3zm1-3zm0 1zm1 0zm0-2zm1 1zm0 0zm1 1zm0 0zm1 1zm0-1zm0-2zm1 0zm1 0zm1 1zm0 0zm188 3zm3-1zm0 2zm1-1zm4 0zm0 0zm4 1zm3-1zm0-1zm0 2zm1-3zm1 0zm3 3zm2-5zm1 4zm2 0zm0 0zm0 0zm2 1zm3-4zm1 1zm0 3zm2-4zm1-1zm0 3zm5-2zm1 1zm1 3zm1-3zm1-1zm0-1zm0 4zm8 1zm1 0zm1-3zm1 0zm0 0zm1 1zm2 1zm1 1zm3-3zm0 3zm4 0zm1 0zm2-3zm1 3zm2-2zm5 2zm9-3zm5 0zm0-1zm0 0zm0 2zm2-3zm1 2zm0-2zm1 5zm1-5zm2 4zm0-3zm2-1zm0 1zm1 0zm1-1zm1 5zm4-4zm2 0zm0-1zm2 4zm1 0zm1 0zm4 1zm5-1zm0 0zm2 0zm6 0zm7 4zm-2 3zm-1-3zm-1 1zm0 0zm0 1zm0-1zm-1 1zm-1 1zm0-2zm0-2zm-1 0zm0 4zm0 0zm0-4zm-1 3zm0 1zm0-2zm-1 2zm0-2zm0 1zm0 1zm-1-5zm0 5zm0 0zm-1-4zm-1 0zm0 3zm0-2zm0 2zm-1 1zm0-1zm0-4zm-1 4zm0-1zm0-3zm0 4zm0-4zm-1 5zm0-1zm0-4zm0 1zm0-1zm-1 0zm0 2zm0 3zm0-1zm-1-1zm0 0zm0 0zm-1 0zm0-2zm0 3zm-1 0zm0 0zm0-4zm0 4zm0-4zm0 5zm-1-2zm0 1zm-1-4zm-1 2zm0 2zm-1 1zm0-2zm-1 1zm-1-1zm0-2zm0 3zm0-1zm-1-3zm-3 5zm-31 0zm-1-5zm-1 2zm-1 2zm0-3zm-1 4zm-1-5zm0 0zm-1 2zm-1 1zm0-2zm-1 4zm0-2zm0-2zm0 0zm-1 3zm0 0zm0-3zm0 1zm-1 2zm0-1zm0 0zm-1 1zm0-1zm0 2zm0-5zm0 0zm0 5zm-2-3zm0-2zm-1 2zm0 0zm0 3zm0 0zm0-1zm0-1zm-1-1zm0 2zm0 1zm-1 0zm-2-1zm-1-3zm0 1zm0 2zm-1-2zm0 3zm0-2zm0 2zm0-1zm-1 0zm0 0zm0-1zm0-3zm-1 4zm0-4zm0 5zm0 0zm0-1zm0 0zm-1 0zm0 1zm0-3zm0-2zm-1 5zm0-4zm-1 0zm-1 0zm0 1zm0 3zm-1 0zm0-2zm-1 2zm0-5zm0 5zm0-3zm-1 2zm0 0zm0-2zm-1 0zm0 3zm-1-2zm-2 0zm-1 1zm0 1zm-1-4zm-1 2zm-7 0zm-2 2zm0-3zm-1 0zm-1 0zm0 0zm0-1zm-1-1zm0 3zm-1 2zm0-1zm-1-1zm-2-3zm0 5zm0-3zm0-2zm-1 3zm-1 1zm0 0zm-2 0zm0-1zm-1 1zm0-1zm0 2zm-1-1zm-1-4zm0 1zm-1 3zm0-2zm0 2zm0-1zm0 1zm0 0zm-1-2zm0 2zm0 0zm0 0zm0 1zm-1-4zm0-1zm0 3zm-1-1zm0-2zm0 5zm0 0zm-1-1zm0 0zm0 1zm0-3zm0 1zm-1-1zm0 3zm0-1zm0-4zm0 0zm-1 1zm0 4zm0-5zm-1 1zm0 2zm0-2zm0 0zm-1 4zm0-3zm0-2zm-1 4zm-2-3zm-1 3zm0 1zm0 0zm-1-2zm0-2zm0 4zm-3-5zm0 0zm-1 4zm-1 0zm-2 0zm-2-1zm-1 0zm-2 2zm-3-2zm0 1zm-3 0zm-1 1zm-2-1zm-2-3zm-1 2zm0 2zm0-1zm-1-3zm-1-1zm-1 2zm-1 3zm-1-3zm-2 2zm0-2zm-1 3zm0-3zm-1 1zm0 0zm-3-1zm-1 3zm-2-2zm0 1zm-7 1zm-4 0zm-43 0zm-86 0zm-16-5zm-8 0zm-3 0zm-4 0zm0 1zm16 9zm6-2zm1 2zm3 1zm1 0zm0-3zm2 2zm0 0zm2-2zm0-2zm0 2zm0 3zm1-1zm0 0zm1-2zm1 3zm0-3zm0 0zm1 2zm2-1zm0 1zm1-1zm1 2zm0-3zm0 1zm1 2zm0 0zm2-1zm0 1zm1-2zm0-2zm0 1zm0 3zm2-1zm1 1zm1-2zm0-3zm6 5zm1 0zm1-2zm3 2zm50-1zm1 1zm2-4zm2 2zm0 2zm1-3zm0 3zm3 0zm0 0zm1-4zm2 4zm0-2zm0-1zm1 3zm2 0zm1-2zm0 2zm0-4zm1 3zm0 0zm0-1zm0 1zm1 1zm1-1zm1-3zm0 2zm0-2zm0 3zm0 0zm0-1zm3 2zm1-3zm0 1zm4 1zm2-1zm0 2zm1-3zm5 1zm0 2zm1-3zm0 1zm0 2zm14 0zm3-3zm2 0zm1 0zm2 2zm0-3zm0 4zm0-5zm1 0zm1 2zm1 0zm0-1zm1 4zm0-2zm0-1zm0 3zm1-1zm1 0zm0 1zm1-3zm0-1zm0 0zm0 0zm1-1zm0 2zm0-1zm0 2zm1-1zm0 2zm0 0zm0 1zm0-1zm1 0zm0-3zm0 4zm1-5zm1 5zm0-2zm0 1zm0 0zm0-4zm0 5zm1-2zm0-1zm0 0zm1-2zm0 0zm1 1zm0 1zm1 1zm0-3zm1 2zm0 3zm0-4zm0 4zm0-2zm1-3zm0 3zm0 1zm0-3zm0 3zm0-1zm0-1zm1-1zm1 0zm0 1zm0-1zm0 4zm0-2zm0 1zm1-4zm1 3zm0 2zm0-5zm1 4zm1-3zm0 2zm0-2zm0 2zm1 1zm0-3zm0 0zm0 0zm1 3zm0-2zm0 1zm1 2zm1-2zm0-2zm1 4zm0-3zm0 2zm2 0zm1-4zm1 5zm1 0zm1-2zm0-2zm2 4zm2-2zm0-3zm1 5zm1-3zm1 1zm0-2zm0 2zm2-3zm0 2zm0 2zm0-3zm1 3zm0 1zm1-1zm0 1zm0-5zm0 1zm1 3zm0-4zm0 1zm0 0zm1-1zm0 3zm0 2zm1-1zm0-3zm0 2zm0 1zm0 1zm1-5zm0 2zm0 1zm1 1zm0-1zm0-1zm0 0zm0 2zm0-1zm0-1zm0-1zm1 1zm0-2zm0 1zm0 1zm1 2zm1 1zm0-1zm0-3zm1 1zm0 1zm0-2zm1 1zm0-1zm1 0zm0 2zm1-2zm0 2zm0-3zm0 1zm0 4zm1-5zm0 3zm0 2zm0-3zm0 3zm0-1zm0-1zm1-3zm0 4zm1-3zm0 3zm0 1zm0-2zm1 1zm0-3zm0 3zm0-1zm1 2zm0-1zm0-1zm1-1zm0-1zm2-1zm0 0zm1 4zm0 0zm1 0zm1-3zm0 4zm0-5zm1 0zm1 0zm0 2zm0-1zm2 2zm0-2zm0 1zm3-2zm2 1zm0 4zm4-2zm2-2zm0-1zm1 4zm0-3zm1 3zm0-4zm0 2zm1 1zm0 1zm0-1zm0-1zm0 0zm0 1zm0-3zm1 3zm1-1zm1 3zm1-3zm0-2zm1 0zm0 2zm0-2zm0 3zm1-1zm0 2zm1 0zm0-2zm0 3zm1-5zm0 0zm0 0zm0 3zm1 1zm0 1zm0-2zm0-1zm1 2zm0-2zm0 2zm0-4zm1 5zm0-4zm0-1zm0 2zm0 3zm0-5zm0 3zm1 0zm0-1zm0 1zm0 2zm0-3zm1-1zm0 0zm0 0zm0 2zm0 1zm0-3zm1-1zm0 2zm0 3zm1-4zm0 3zm1-3zm0 3zm0-2zm2 0zm0 0zm0 2zm1 0zm0-3zm0-1zm0 0zm0 4zm0-1zm3 2zm0-3zm1 1zm1 0zm0 1zm0-1zm1-3zm0 3zm0 2zm1-2zm0-3zm0 0zm2 2zm0-1zm1 1zm1-2zm0 0zm2 3zm0 0zm1 0zm27-3zm2 0zm0 1zm1 0zm0 1zm0-2zm2 1zm1 0zm0 1zm1-1zm0 0zm0 0zm1 2zm0 1zm0-1zm1-2zm0 3zm0 0zm0 0zm0 0zm0-1zm1-3zm0 2zm1 3zm0-2zm0 0zm0-1zm0 3zm0-2zm1 1zm0 0zm0-2zm0-2zm0 3zm0-1zm0-1zm1 1zm0 0zm0-2zm1 2zm0 2zm0-3zm0-1zm0 0zm0 4zm1-4zm0 0zm0 0zm0 1zm1 3zm0-1zm0-2zm1 0zm0 1zm0-1zm0 0zm0-1zm1 1zm0 3zm0-1zm0 1zm1-2zm0-1zm0-1zm0 1zm1 3zm0-4zm0 1zm0 4zm0-2zm1-3zm0 1zm1 3zm0-3zm1 0zm2-1zm0 3zm1-3zm4 1zm0 1zm51 8zm-2-1zm-1 0zm0-1zm-1 3zm-1-1zm0 1zm0 0zm-1 0zm0-2zm0 2zm-3-1zm-1 1zm0-3zm-1-1zm-1 3zm0-2zm-1 2zm-1 1zm0-3zm0 2zm-1-1zm0 1zm-1 0zm0-2zm0 2zm-1-3zm0 3zm0-2zm-3 3zm0-3zm0 2zm0 0zm-1-1zm-1 2zm0 0zm0 0zm-1 0zm-1-3zm0 3zm-1-2zm0 2zm0 0zm-1 0zm-1-1zm0-4zm-1 4zm-1 1zm-1 0zm0-2zm0 2zm-1 0zm0-3zm-1-2zm0 3zm-2 0zm0 2zm-2 0zm0-3zm-3 3zm-1-3zm-4 2zm-14-4zm-4 1zm-1 0zm-1 0zm-1-1zm0 3zm-1 2zm-2-4zm0 1zm-1 0zm0 2zm-4-3zm0 0zm-2 0zm-1 0zm0 1zm-1-2zm-2 0zm-3 0zm-31 0zm-1 0zm-3 3zm0 0zm-1-3zm0 0zm-1 0zm0 0zm-3 0zm-1 2zm0 2zm0-1zm0-3zm-1 0zm0 3zm-2 1zm-1-4zm-1 1zm-1 2zm-2-3zm-1 0zm-1 0zm-1 3zm0-1zm-1-1zm-1 3zm0-4zm-2 1zm0-1zm0 2zm-1-2zm0 1zm-1 3zm0-2zm-2-1zm-3 3zm-12-4zm-5 2zm-2 0zm0-1zm-1 0zm-1 2zm0-1zm-1 1zm0-2zm-1 0zm-2 0zm0-1zm-1 2zm0 3zm-1-2zm-1 2zm0-5zm0 3zm-1-2zm-1 0zm0 3zm0-3zm-2 1zm0 1zm-1-2zm0-1zm0 5zm-1-5zm0 3zm0-3zm-2 2zm-1 1zm-1-3zm-1 1zm-1 1zm-3-2zm-2 2zm0-2zm-2 1zm-2 3zm-4-2zm0-2zm-1 1zm-1 2zm0 0zm-1-2zm0 1zm-1 2zm0-3zm0 1zm-1 1zm-1-2zm0 3zm0-4zm0 1zm0 2zm-1 1zm0-1zm0-3zm0 4zm-1-3zm0 3zm0-3zm0 3zm0-3zm0 3zm-1-3zm0 1zm0-2zm-2 1zm0 2zm0-3zm0 0zm0 0zm0 5zm0-1zm0 0zm-1 1zm0 0zm0-3zm0 1zm0 0zm0 1zm-1-2zm0-1zm0 2zm-1-2zm0 4zm0-3zm0 1zm-1 0zm0 2zm0-5zm0 3zm0-3zm-1 5zm0-5zm0 1zm0 2zm-1-3zm0 3zm0 2zm0-4zm0 2zm0 0zm-1 0zm0-3zm0 1zm0 2zm0-3zm0 2zm0 1zm-1-3zm0 0zm0 3zm0-3zm-1 5zm0-5zm0 5zm0-3zm0 1zm0-2zm0 0zm-2 0zm-1 1zm0 1zm-1-1zm0-2zm-1 4zm-1 0zm0-3zm0 4zm-1-3zm-1-2zm-1 5zm0-5zm0 0zm-2 4zm-1-2zm-3 2zm-2-4zm-10 0zm-1 5zm-2-1zm0 0zm0-4zm-1 4zm-1-2zm-1 3zm-1-5zm0 3zm-2-3zm0 1zm0 0zm0 1zm0-1zm0 0zm0 3zm0 0zm-1 1zm0-4zm-1 3zm0-1zm-1-1zm0-2zm0 2zm0-2zm-1 2zm-1 0zm0 2zm-1-2zm0 0zm-1-2zm-1 3zm0 1zm0 0zm0-2zm-2 2zm0-2zm-1 0zm0 2zm0-1zm-1-3zm0 5zm0-5zm0 1zm0 3zm0 0zm-1-1zm0-2zm0 2zm0-2zm0 4zm0-1zm0 1zm-1-2zm0 2zm0-4zm0 4zm-1 0zm0-3zm0-1zm0 1zm-1 2zm0-3zm-1 2zm0-1zm0-1zm0 1zm0 2zm0-2zm0 1zm0 1zm-1-2zm0 2zm0-2zm0 3zm0-5zm0 5zm0-2zm0 2zm-1-1zm-1-1zm0 2zm0-3zm0 3zm-1-4zm0 4zm0-5zm0 3zm-1-2zm0 2zm0 2zm0-4zm0 2zm0 1zm0 0zm-1-3zm0 2zm0-1zm-1 2zm0-4zm0 1zm-1 0zm0 0zm-1 2zm-1 0zm0 0zm-1 1zm0 1zm-1-4zm0 4zm0-1zm0 0zm-2-3zm0 3zm0-1zm-1 0zm-3-1zm-11 3zm-8 0zm-1-1zm-1 1zm0-2zm-2 2zm-1 0zm0-2zm-8 1zm-5 0zm-2 0zm0-1zm-3 2zm-7-2zm0-3zm-3 2zm-1 2zm-1-2zm0 3zm-1 0zm-1-5zm-1 3zm0 1zm-1-4zm0 4zm0 1zm-2-2zm0 0zm0 0zm0 1zm-1-3zm0-1zm0 0zm0 3zm0 1zm-1 0zm0-1zm0 1zm0 1zm0-5zm0 2zm-1-2zm0 4zm-1-4zm0 1zm0 2zm0 0zm0 1zm0-4zm0 2zm-1 1zm0-1zm0-1zm-1 2zm0-2zm0 4zm0-2zm-1-2zm0 3zm0-2zm-1 3zm0 0zm0-5zm0 2zm-1 0zm0 0zm0 0zm-1-1zm0-1zm0 1zm0-1zm0 4zm0-2zm0 2zm-1-2zm0 1zm0 1zm-1 1zm0 0zm0-4zm0 4zm0-3zm0 2zm0-2zm0-1zm0 4zm0-2zm-1 1zm0-2zm-1-2zm0 4zm0 0zm-1 0zm0-3zm0 3zm-1 1zm0-1zm0-1zm-1-1zm0 1zm0-2zm0 3zm-1-2zm-1 0zm-1 3zm0-4zm-1 3zm-1-4zm0 5zm-1-4zm-1 3zm-1 1zm-2-2zm-5 3zm8 1zm1 3zm1-2zm0 2zm0-2zm0-2zm0 5zm1-3zm0 0zm0-2zm1 2zm1 2zm0-1zm1-3zm2 3zm0-1zm1 1zm0-2zm1 0zm0 0zm1 1zm0 1zm0-2zm0-1zm0 2zm1-2zm0 5zm1-2zm0-2zm0-1zm0 0zm0 2zm0 0zm1 0zm0 3zm0-2zm0-3zm0 2zm1 0zm0-2zm0 4zm0-2zm0 0zm1-1zm0 2zm0-3zm0 2zm0 0zm1-2zm0 1zm1 0zm0-1zm0 0zm1 2zm0 0zm0-1zm0 3zm0-3zm0 2zm1 0zm0-1zm0 0zm0 1zm1 1zm0-1zm0 1zm0-4zm1 4zm0 0zm0-2zm1-1zm0 1zm0-1zm1 2zm1-2zm0 2zm1-3zm0 1zm1 3zm0 1zm0-2zm0-1zm1 2zm1-1zm0-2zm1 3zm2-3zm1 3zm0-4zm0 4zm1-3zm0 4zm1-3zm1 2zm0-3zm2 4zm0-1zm0 0zm0-3zm1-1zm0 5zm1-1zm0 1zm0-5zm1 1zm0 3zm1-3zm0 4zm1 0zm0-4zm1 2zm1-1zm0 0zm1 2zm0-1zm0 1zm0-2zm1 3zm0-3zm0 0zm1 2zm1 0zm2-3zm0 2zm1-1zm0-2zm0 1zm1-1zm1 1zm0 2zm0 1zm0 1zm0-2zm0-2zm1 0zm0 2zm0-1zm0 2zm1 1zm0-4zm0 2zm0-1zm0 3zm0 0zm1 0zm0-1zm0-1zm1-1zm0-1zm0 1zm1 2zm0-4zm0 5zm0-2zm0 2zm1-2zm0-1zm0-1zm0 0zm0 3zm1-3zm1 4zm1-5zm1 1zm1 4zm0-3zm0 1zm0-1zm0 2zm1 0zm1-3zm0 0zm0 3zm0 0zm1 0zm0-1zm0 1zm0-4zm1 5zm1-1zm0-4zm0 3zm1-3zm1 5zm0-1zm0-1zm1 2zm1-3zm0 3zm0-3zm1 0zm3 3zm1-2zm0 1zm0-2zm10 0zm2 1zm0-2zm1-1zm0 1zm2 2zm0 0zm1-1zm0 0zm0-1zm1-1zm1 2zm0 0zm1 0zm1 2zm0-3zm1 3zm1-2zm0-1zm0 1zm0-2zm1 0zm0 1zm0 0zm0-1zm1 1zm1 2zm0 0zm0-2zm0 0zm0 1zm0-1zm0 0zm0 0zm1-1zm0 4zm1-4zm0 3zm0-1zm0-1zm0 4zm0 0zm0-1zm1-3zm1 3zm0 0zm0 0zm1-1zm0-2zm0-1zm0 0zm0 1zm2-1zm0 5zm1-5zm0 2zm0 0zm2-2zm1 2zm0-2zm1 0zm3 5zm0-5zm0 2zm3-1zm1-1zm1 1zm3 0zm16 1zm1-1zm0 1zm5 0zm0-1zm1 1zm4 1zm3-3zm5 1zm2 0zm1 2zm0-1zm0 2zm4-3zm3-1zm4 0zm62 0zm2 0zm88 0zm5 2zm0-1zm0 0zm1 0zm1 2zm0-2zm2-1zm1 1zm0 0zm0-1zm0 3zm1 1zm0-3zm1 0zm1-1zm0 2zm1-1zm1-1zm0 1zm1 1zm0 0zm0 1zm1 0zm0-1zm0 0zm1 1zm0 1zm1-2zm0-2zm1 2zm0 2zm0-2zm0 3zm1-2zm0-3zm0 2zm0 0zm1 1zm0 2zm0-3zm0 1zm1-1zm0 1zm0 2zm0-4zm1 3zm0 0zm0-4zm1 2zm0 0zm0-2zm1 1zm0 2zm0-1zm1 0zm1 1zm1-3zm0 5zm0-5zm1 0zm0 0zm1 0zm0 1zm0 3zm0-1zm1-2zm1 0zm0 1zm1-1zm0 0zm0-1zm1 2zm0-1zm0-1zm0 3zm1-3zm0 4zm1 1zm3-4zm0 1zm3-1zm-74 10zm0 0zm-3-3zm-2 1zm-1 1zm0-1zm-85 1zm0 0zm-1-1zm-2 0zm-6 2zm-1 0zm-78-5zm-2 0zm-6 3zm0-1zm-4-1zm-1 1zm-1 1zm-2-2zm-7-1zm0 2zm-3-2zm-10 2zm-6-2zm0 4zm0-4zm0 0zm-1 1zm0 2zm-1-1zm0 1zm-1-3zm0 1zm-1 3zm0-2zm-1 0zm0 1zm0 0zm-1-3zm0 1zm0 2zm0-2zm0 4zm-1-2zm0-1zm0-2zm-1 2zm0-2zm0 0zm0 4zm0-2zm-1 2zm0-4zm0 4zm-1-3zm-1-1zm0 5zm0-3zm-1 1zm0-3zm0 2zm0 1zm-1 1zm0-4zm0 3zm0 0zm-1 2zm0-5zm0 2zm-1-1zm0 2zm0-2zm0-1zm0 2zm-1 1zm0 0zm-1-2zm0-1zm-1 2zm0 1zm0-1zm0-2zm-1 3zm0 2zm0-4zm0 4zm0-1zm0 1zm0-4zm0 3zm-1-3zm0 3zm0 1zm0 0zm-1-3zm0 2zm0-3zm0 0zm0 0zm-1 3zm0-1zm0 0zm-1 2zm0-3zm0 3zm0-3zm0 0zm-1 0zm0 2zm0-4zm0 1zm0 3zm-1-1zm0 2zm0-5zm0 3zm-1-3zm0 1zm0-1zm0 1zm0-1zm0 0zm-1 2zm-1 3zm0-2zm0 1zm0-4zm0 5zm0-3zm0 1zm-1-2zm0-1zm-1 0zm0 3zm0-1zm0 3zm0-4zm0 0zm0 2zm-1-1zm0-2zm0 0zm0 4zm-1 1zm0-2zm-1 1zm-1-1zm0-2zm-1 1zm0-2zm-2 4zm0 1zm-1-5zm-6 2zm0-1zm-1 2zm-2-3zm-2 0zm0 1zm-4 0zm-2 2zm-3-3zm-2 1zm-3 0zm-7 0zm30 8zm2-2zm0 0zm2 1zm1 0zm5-2zm0 2zm1 3zm0-2zm1-3zm1 1zm0-1zm1 2zm1-1zm1 2zm0 0zm1 1zm0-4zm0 0zm1 3zm1-2zm0 2zm1 2zm0-2zm0 0zm1-3zm0 0zm1 0zm0 0zm0 1zm0 2zm1-2zm0 2zm0-3zm0 2zm0 1zm0 2zm1-5zm0 2zm0 3zm3 0zm0-5zm1 0zm0 1zm0 3zm0-1zm0 1zm1-2zm0-2zm0 4zm1-1zm1 1zm0-2zm1-2zm1 5zm1-4zm1 3zm0 0zm1-3zm2 1zm0 2zm1-1zm4 1zm0 1zm110-2zm1-3zm1 4zm3 1zm0 0zm1-2zm1 0zm0-3zm1 5zm0-1zm0-4zm0 3zm0 1zm2-1zm0 2zm0-3zm2 2zm0-1zm1 2zm0 0zm0-5zm1 5zm1 0zm0-2zm1-3zm0 3zm0 1zm0-2zm1 0zm0 2zm0 1zm1 0zm0-1zm0-1zm0 2zm0-1zm1 1zm0-3zm0 1zm0 0zm1 2zm0-1zm0-1zm1 1zm0-1zm1 1zm1-1zm2 0zm0 2zm1-1zm0-3zm1 4zm3-2zm57 1zm1 0zm1 1zm1-4zm1 4zm0-1zm1 1zm0-5zm1 5zm1 0zm2-1zm0 0zm0-4zm0 5zm2 0zm0-1zm0-3zm1 2zm1 1zm0 0zm0-2zm0 1zm1 1zm0-1zm0-3zm0 4zm0-3zm2 3zm0 1zm1-4zm1 4zm0-2zm0 2zm1-1zm0-1zm0-3zm0 5zm0-1zm1 1zm0 0zm0-2zm0 0zm1-1zm0 2zm0 0zm0-4zm0 3zm1-1zm0 2zm1 1zm0-2zm2-1zm0 1zm0 1zm1-3zm0 2zm0 1zm0 0zm2-1zm2 1zm1 0zm0 1zm1-4zm0 2zm4 1zm0 0zm0 0zm3 5zm-4-2zm-4 1zm0 1zm0 1zm-1-1zm0 2zm-1-1zm0-3zm0 2zm0-1zm0 3zm-1-2zm0-1zm0 0zm0 0zm0-2zm-1 1zm0 0zm0 0zm0 3zm0-1zm-1 1zm-1-2zm-1-1zm0 1zm0 1zm0-1zm-1 3zm0-3zm0 2zm0 0zm0-4zm-1 2zm0 1zm0-3zm-1 0zm0 0zm0 2zm0 3zm0-2zm0-3zm-2 0zm0 4zm0-1zm0-2zm0 3zm0 1zm-2-3zm0-2zm0 0zm-1 0zm0 0zm0 5zm0-4zm0-1zm0 4zm0-1zm-1-1zm0 2zm0 0zm0-3zm0-1zm0 3zm0-1zm-1 2zm0 0zm-1-4zm0 1zm0 4zm0-5zm0 5zm-1-1zm0 0zm0-2zm-1 2zm0-3zm0 4zm0-4zm0 2zm0 1zm-1-4zm0 0zm0 2zm0-1zm0 3zm0 0zm0 1zm-1-1zm0 1zm0-1zm-1 0zm0 0zm-2-1zm0 0zm0-2zm0 3zm-1-2zm0 0zm0-1zm-1 4zm0 0zm0-4zm-1 3zm-1-3zm0 2zm0 0zm0-3zm-2 1zm0 1zm-3 0zm-1 0zm-17 3zm-1-1zm-1 1zm0 0zm-8-1zm-1 0zm-27-4zm-1 0zm-1 0zm0 2zm-1 0zm-1-1zm-1 2zm0-3zm0 4zm-1-2zm0 3zm0-4zm0 1zm-1 3zm0-4zm0 1zm-1-2zm0 2zm0 1zm0-3zm-1 2zm0 3zm0 0zm-1-5zm0 3zm0-2zm0 2zm0 0zm0-3zm-1 3zm0-1zm0-2zm-1 4zm0 0zm0 1zm0-1zm0 0zm-1-3zm0 4zm0-2zm0 1zm0 1zm0-5zm-1 2zm0 0zm0 0zm0 1zm0 2zm0-1zm0-4zm-1 0zm-1 2zm0-2zm0 0zm0 2zm-1-1zm0 3zm0-1zm0 2zm-1-5zm0 5zm0-1zm0-2zm-1 0zm0 0zm0 1zm0-1zm-1-2zm-1 4zm-1-1zm0 0zm0 0zm0 1zm0-4zm0 0zm-1 1zm0 1zm-1-2zm0 0zm0 4zm-1 1zm0-4zm-19 4zm0-2zm-2-2zm-1 4zm0 0zm-1-1zm-1-3zm0 0zm-1 2zm0 0zm0 2zm-1-2zm-2-2zm0-1zm0 5zm0-1zm-2-2zm-2 1zm-1 2zm-1 0zm0-3zm-1-2zm-2 5zm-1-4zm-1 4zm0-3zm-1 2zm-1 1zm0 0zm-4-1zm0-2zm-28 3zm-8 0zm-8 0zm-13-1zm-2-2zm-3 3zm-1 0zm0-2zm-1 2zm0-5zm-2 2zm0-1zm-1 0zm-1 4zm0 0zm-1 0zm-1-1zm0 1zm0-4zm-1 1zm0 3zm0-5zm0 5zm0-2zm-1-1zm0 2zm0 0zm0 0zm-2-4zm-1 0zm0 2zm0 3zm-1-4zm0 3zm0-1zm0 2zm-1-1zm0-2zm0 2zm0 1zm-1-1zm0 0zm0 0zm0-1zm0 2zm0-2zm0 2zm-1-5zm0 1zm0 1zm0 2zm-1 1zm-1-2zm0-3zm0 2zm0 3zm-1 0zm0-1zm0 1zm-1-4zm-1 4zm0-5zm0 4zm0 1zm-1-2zm0-1zm0 2zm-1 0zm0-2zm0 3zm-1-2zm-1 2zm0-1zm-1-2zm-1 3zm0-2zm-1-3zm0 0zm0 5zm0-2zm-2-1zm0 2zm-6-1zm-1 0zm3 8zm0-5zm2 4zm0-4zm3 3zm0-3zm0 1zm0 4zm1 0zm1-2zm0-2zm0-1zm0 3zm1 2zm0-3zm1 3zm0-2zm0-2zm0-1zm2 0zm0 3zm0 1zm0-1zm0-2zm0 4zm1-4zm0 3zm0-1zm0 0zm0-3zm1 0zm0 0zm0 3zm1-2zm0-1zm0 4zm1-4zm0 0zm0 0zm0 0zm0 3zm0-2zm1 1zm0 3zm0-2zm0-2zm0 3zm0-2zm1 2zm0-2zm0 0zm1 2zm1-4zm0 2zm0-1zm0 0zm0 1zm0 2zm1-2zm0 1zm1-3zm0 3zm0-2zm0 3zm0-1zm0-3zm0 0zm1 5zm0-3zm0 0zm0-1zm0-1zm0 1zm1 0zm0-1zm1 4zm0-4zm0 0zm0 0zm0 0zm0 4zm0-4zm0 0zm1 2zm0 0zm1-2zm0 3zm0-1zm0 1zm0-2zm1 1zm0-1zm1 3zm1-1zm0 0zm0 2zm0-3zm0-1zm0 4zm1-1zm0-3zm1 0zm1 1zm0 1zm1 2zm0-2zm0-1zm0-1zm0-1zm1 1zm0-1zm3 0zm2 5zm8 0zm4-2zm1-1zm1 3zm1-4zm1 0zm1 3zm1-1zm1-1zm2 1zm0 2zm0 0zm0-2zm0-2zm1 2zm0 0zm2 2zm1 0zm0 0zm0-4zm1 2zm1 0zm2-1zm0-1zm0 0zm0 4zm1-1zm1 0zm0-2zm1 2zm0 1zm1-1zm0-1zm0 0zm2 1zm1-3zm0 2zm2-2zm1 4zm0 0zm1 0zm4 0zm2-1zm4-1zm2 1zm1 0zm5 0zm0 1zm0-5zm0 4zm1-2zm0 1zm0 1zm0 0zm1-2zm0 1zm1 0zm1-3zm0 5zm0 0zm0-1zm0-1zm0-1zm2 0zm1-1zm0 0zm0 3zm1-3zm0 2zm1 2zm1-3zm0-1zm0 1zm0 3zm0-2zm1 2zm1-1zm0-2zm0 2zm0-3zm1 4zm0-5zm0 4zm1 1zm0-4zm0 1zm0 2zm0-2zm0 1zm0-3zm1 4zm0-1zm1 2zm0-1zm0-3zm1 2zm0-1zm0-1zm1-1zm0 2zm0 2zm0 0zm1 0zm0-2zm0-1zm0 2zm1-2zm0 4zm0 0zm0-1zm1-1zm0 2zm0 0zm0-2zm1-3zm0 2zm1 0zm0 2zm0 0zm1 1zm1-1zm0-3zm0 2zm1 0zm0 0zm0 1zm0-2zm1 3zm0-2zm1-1zm1-2zm1 3zm2 0zm3 0zm8-3zm5 1zm1 3zm1 1zm0-5zm0 0zm1 4zm1-3zm0 1zm0 2zm0-2zm0 0zm2 0zm0-1zm1 1zm0-2zm0 0zm2 2zm0-2zm1 5zm0 0zm1-1zm0-2zm0-2zm1 0zm0 4zm1-4zm0 0zm0 1zm1-1zm0 4zm1 1zm2-4zm2 1zm0-1zm1 1zm2-2zm13 3zm0 2zm1-4zm1 2zm1 2zm1 0zm1-3zm1 2zm0 0zm2 1zm1-2zm1 2zm2-1zm1-1zm1-1zm0 2zm1 0zm0-2zm1 3zm0-1zm0-4zm0 0zm0 3zm1 1zm0 0zm0-1zm1 2zm1-1zm0 1zm1 0zm1-4zm1 2zm0 2zm0-2zm1 2zm1-1zm1 1zm1 0zm1-3zm0 3zm0-1zm0-1zm1 2zm1-1zm1-4zm0 5zm1-2zm0-3zm1 5zm0-1zm1-1zm2 0zm1 2zm7-5zm3 1zm1 1zm1-2zm2 1zm2 0zm0 0zm0-1zm1 1zm0-1zm2 5zm0-3zm1 2zm1 0zm0-3zm1 3zm1 0zm0 1zm1-4zm0 0zm0-1zm0 0zm0 1zm0 0zm1 0zm0 2zm0-2zm0 0zm1 0zm0 3zm0 0zm1-1zm0-3zm2 3zm2-2zm1 0zm0-1zm1 4zm0-3zm0-1zm1 3zm0-1zm1-1zm1 4zm0 0zm1-2zm0-3zm1 0zm1 2zm0 2zm1-4zm14 5zm0 0zm6-1zm4-1zm2 2zm4 0zm3-1zm1 0zm14 7zm-6-2zm0 1zm0 1zm-1-1zm0-1zm-1 1zm-1-3zm0 4zm-1-1zm-1 0zm0-2zm0 1zm-1 2zm0 0zm-1-5zm-1 3zm0 2zm0-1zm-1-3zm-1 2zm0-2zm-1 4zm0-4zm0 0zm0 2zm0 2zm-1-4zm0 4zm0 0zm-1-2zm0-1zm0-1zm0-1zm-1 3zm-1-1zm-1 2zm0-1zm0-2zm-1 2zm0-2zm0 2zm-1 2zm0-1zm-1 1zm-3-3zm0-2zm0 0zm-1 2zm0 2zm-1 0zm0 0zm0 0zm0-1zm-1 1zm0 0zm0 0zm-1-1zm0-1zm0 3zm0 0zm0-1zm0-1zm-1 2zm0 0zm-1-5zm-1 3zm-4 2zm-1-1zm-12-4zm-2 1zm-6 0zm-10 0zm-14 3zm-2-2zm0-1zm0 2zm-2 0zm-4-3zm-1 0zm0 1zm-1-1zm0 3zm0 1zm0-4zm-1 2zm0 1zm-1-3zm0 4zm-1 1zm0 0zm0-2zm0-2zm-1 2zm0-2zm0-1zm0 2zm-1-1zm0 4zm0-2zm0 1zm0-1zm0 2zm0-5zm0 5zm-1-5zm0 1zm-1 1zm0-1zm0 2zm-1-3zm0 4zm0-4zm0 1zm0 4zm-1-2zm0 2zm0 0zm0-2zm0 0zm-1-2zm0 4zm0-2zm-1 0zm0 0zm0 0zm0 2zm0-1zm-1-1zm0-1zm0-2zm0 2zm0 3zm-1-3zm0 0zm0 3zm0-1zm0-3zm-1 4zm0-1zm0-3zm0 3zm0-2zm0-2zm0 0zm0 1zm0 0zm-1 4zm0-5zm0 3zm0-2zm-1 1zm0 3zm0-1zm0 1zm-1 0zm0-3zm0 1zm0-1zm0 0zm0 1zm-1-1zm0 3zm-1-4zm0 1zm0 2zm0-2zm-1 1zm-1-3zm0 5zm-1-4zm0 0zm0 1zm0 2zm0-1zm0-2zm-1 2zm0 2zm0-5zm0 5zm-1-5zm-1 2zm-1 2zm0-3zm0 3zm-3-1zm-1 2zm-3-3zm-26 0zm-3-1zm-19-1zm-2 0zm-3 4zm-1 1zm0-4zm0 0zm-1 0zm0 4zm0-5zm-2 5zm0-5zm-1 1zm0 3zm-1-1zm0 0zm0 2zm-1-1zm0-4zm0 2zm-1-1zm0 0zm0-1zm0 5zm-1-2zm0-2zm0 1zm0 1zm0-1zm0-2zm-1 3zm-1 0zm-1 2zm0-4zm0 2zm0 0zm0-3zm0 5zm-1-2zm0-3zm0 2zm0-2zm-1 1zm0 2zm0 1zm0-1zm-1 2zm0-4zm0 2zm0 2zm0 0zm0 0zm-1-5zm0 5zm0 0zm-1-4zm-1 2zm0-2zm0 2zm0-3zm-1 0zm0 4zm0 1zm0-5zm0 1zm0 2zm0-3zm0 2zm0-1zm-1 4zm0-2zm0 1zm0-4zm-1 5zm0-4zm-2 0zm0 2zm0-3zm0 1zm0-1zm-1 1zm0 0zm0 2zm0 2zm-1-3zm0 0zm0 1zm0-3zm-1 1zm0 1zm0-2zm-1 0zm-1 1zm-1 0zm-2 2zm-1-2zm0 1zm-1 2zm-1-2zm-3 3zm-1-1zm-1 1zm-1-1zm-2-1zm-2 2zm0-4zm-1 2zm0 2zm-2-5zm-1 3zm-1 0zm0 0zm-1 2zm0-2zm0-1zm-1 0zm0-2zm0 0zm0 4zm-1-1zm0-3zm0 2zm0-2zm-1 0zm0 3zm0-2zm-1 2zm0 1zm0-1zm0-3zm-1 5zm0-3zm-1 1zm0 1zm0-4zm0 2zm0 3zm-1-5zm0 5zm0 0zm-1-5zm0 4zm0 1zm0-5zm0 3zm0-3zm-1 3zm-1-3zm0 2zm0 0zm-1-2zm0 2zm0 0zm0-2zm0 3zm0 1zm0-3zm-1 2zm0 0zm0-1zm0-2zm0 4zm-1-3zm-1 0zm0 2zm-1 2zm0-1zm0-4zm0 1zm-1 4zm0-5zm-1 0zm0 0zm-1 1zm0 2zm0 1zm0 1zm0-4zm-2 2zm0 1zm-1-3zm0 3zm0-3zm0 0zm-1 1zm-1-2zm0 1zm-1 3zm0-2zm0 0zm-2 1zm0-1zm0-1zm0 2zm-1 2zm-1-4zm-1 4zm0-1zm-1-3zm-1 3zm0 1zm-9-2zm-8-2zm-1-1zm-1 3zm0-3zm-2 5zm-3-4zm0-1zm0 0zm-1 5zm0-5zm-3 1zm0-1zm-1 5zm0-3zm-1 3zm-1-2zm0-3zm-2 4zm-1-2zm-1-2zm0 4zm0-3zm0-1zm-1 0zm-7 0zm-46 11zm2 0zm3-2zm1 1zm0 0zm3-1zm1 2zm0 0zm1 0zm0-1zm0-2zm1 1zm1-1zm1 3zm0 0zm1-2zm0 1zm0 0zm1-1zm0 1zm1 1zm0 0zm0-2zm1 0zm0-3zm0 5zm2 0zm1-2zm0-1zm0 1zm1-1zm1 3zm0-3zm1 2zm0-3zm0 4zm1 0zm0-1zm1 0zm0 0zm1 0zm1-2zm1-1zm0 3zm0-1zm0 2zm0 0zm3-4zm0 3zm0 1zm3 0zm31-5zm4 0zm23 2zm1 1zm1-2zm1 4zm2-4zm1 0zm0-1zm1 2zm0-2zm1 0zm0 3zm0-1zm1-1zm1 0zm0 1zm0-1zm0 0zm0 2zm1 1zm0-4zm1 0zm0 0zm1 5zm0-1zm1-3zm0 0zm1 0zm0 0zm0 4zm1-5zm0 0zm0 5zm0-5zm0 1zm1-1zm0 2zm0 0zm0-1zm1 1zm1 3zm0-4zm0 3zm0-2zm0 2zm0-3zm1 1zm0-2zm0 5zm0-4zm1-1zm0 2zm1-1zm0 4zm0-4zm0 3zm1 1zm0-3zm0 0zm0-2zm0 1zm1 4zm1-2zm1-3zm0 1zm1-1zm0 3zm1 2zm0-1zm1-4zm1 2zm1-1zm2 1zm2-2zm2 1zm1 0zm13 0zm2-1zm3 1zm3-1zm0 3zm1-2zm0-1zm0 0zm2 3zm1 0zm0-3zm1 0zm1 2zm2-2zm0 4zm1-2zm1 0zm7-1zm0-1zm1 1zm55 1zm1-2zm0 1zm1-1zm0 3zm4-3zm1 4zm1 1zm0-4zm2 2zm1-2zm1 1zm1 1zm1-2zm0 4zm0-3zm1-2zm1 2zm0 3zm1-2zm1-1zm0 2zm1-2zm0 1zm1-1zm0 1zm0 0zm0-2zm0 1zm1-1zm1 2zm0-2zm0 2zm0-2zm1 2zm0-2zm0-1zm1 0zm1 2zm0 2zm0-1zm1-2zm0 0zm1 2zm0 0zm1-3zm2 2zm0 3zm0-4zm0 4zm1-5zm1 1zm0 3zm0-3zm0 2zm1-3zm0 3zm1 0zm2-1zm2 0zm43 1zm1 0zm2-1zm2 0zm0-1zm0 0zm1 2zm1 1zm1-4zm1 1zm1 2zm1 0zm0-1zm1 2zm1 1zm0 0zm0-5zm0 3zm2 2zm0-1zm0 0zm0-1zm1-3zm0 2zm1 1zm0-2zm0 3zm1-4zm0 0zm0 2zm0-1zm0 4zm1-1zm0-2zm0-1zm0 3zm0-1zm0-1zm0 3zm0 0zm0-2zm0-1zm0 3zm1-4zm0 1zm0 2zm0-2zm1 3zm0-1zm0 1zm1-2zm0-2zm0 1zm0 1zm0 1zm0-4zm0 5zm0-5zm1 2zm0-1zm0 0zm0 1zm1-2zm0 1zm0 0zm0-1zm1 2zm1-1zm0-1zm0 2zm0-2zm1 3zm0 1zm0 0zm0-4zm0 3zm0-2zm0 3zm1-3zm0 2zm1 0zm0-3zm0 1zm0 2zm0-3zm1 1zm1-1zm0 3zm0-2zm0 3zm0 1zm1-5zm0 1zm0 4zm1-5zm0 5zm0-4zm0 0zm1 3zm0-1zm1-2zm1 1zm0-1zm0 0zm1 1zm4 3zm1-1zm0-3zm0 3zm-1 2zm-5 3zm-2 1zm-1-1zm0-2zm-1 3zm-1-1zm0-3zm-2 2zm0-2zm0 2zm-1 2zm-1-2zm0-2zm0 2zm-1-2zm-1 0zm0 0zm0 2zm-1-2zm-1 0zm0 2zm-1 0zm0-1zm0-1zm0 4zm0 0zm0-2zm-1 2zm0-1zm0-2zm-1-1zm-1 3zm0-3zm-1 2zm0 0zm-1-1zm0 2zm-1 0zm0-3zm0 0zm-1 3zm0-3zm0 0zm-1 2zm0-1zm-1 2zm-7-1zm0-2zm-65 1zm-5-1zm-1 2zm0 1zm-1-3zm0 2zm-6 3zm-4-1zm-1-1zm-1 2zm-1 0zm-4 0zm-1 0zm-2-2zm0 0zm0 2zm-1-2zm0 2zm-1 0zm0 0zm-1 0zm0-2zm0-1zm0 1zm-1-2zm0 4zm0-1zm-2-2zm-1 3zm0 0zm-1-2zm-1 2zm-5 0zm-8-1zm-74-4zm-9 1zm-2 0zm0 0zm0-1zm-2 0zm-1 0zm-1 1zm0-1zm-3 1zm-2-1zm0 0zm-3 0zm-1 2zm0-1zm-5 0zm-2-1zm-8 5zm-1 0zm-43-5zm0 2zm-1-2zm-2 3zm0-2zm-1 1zm0-2zm-1 1zm-3 0zm0 0zm-1-1zm0 1zm0 1zm-1 0zm0 0zm0 0zm-1-2zm0 3zm-1-1zm0 1zm-1 2zm0-3zm0 0zm-1-2zm0 1zm-1-1zm0 3zm0 2zm0-3zm0-1zm-1 0zm0 0zm0 0zm0-1zm0 4zm-1-2zm0 1zm0-2zm0 4zm-1-1zm0-4zm0 2zm0 0zm0 0zm0 1zm-1-2zm0 1zm0 2zm-1-1zm0-1zm0 1zm0 0zm0-1zm-1 2zm0-4zm0 3zm0-2zm0-1zm-1 3zm0 1zm-1 0zm0-3zm0-1zm-1 4zm0 1zm-1-3zm0 2zm-1-1zm0-2zm0 4zm-1-4zm0 0zm-1 3zm0-1zm0-2zm-1 1zm0-1zm0 2zm-1 1zm-1-2zm0 0zm0-1zm-2 1zm0-2zm-3 1zm0 0zm-3-1zm-4 1zm16 6zm2-1zm0 0zm2 1zm4-1zm49 5zm5-2zm1 2zm0-1zm1 1zm0-1zm1 1zm1-1zm0 1zm1-2zm0 2zm1-3zm0 1zm0-1zm2 3zm1-1zm0 1zm1-2zm0-3zm0 2zm0 0zm1 2zm0-3zm0 0zm1 1zm0 1zm2 1zm0 0zm0 1zm1-4zm0 4zm1 0zm0-1zm2-2zm0 1zm2 2zm1-1zm0-1zm1-1zm0 3zm2-4zm7 2zm0 2zm28-1zm0 0zm3 0zm2 1zm19 0zm0-2zm4 0zm1 1zm1 0zm0 1zm3-2zm0-2zm1 4zm0 0zm0-2zm2 0zm2 1zm0 0zm1-4zm0 5zm0-5zm1 2zm0 1zm0 1zm1-1zm0 1zm0-2zm1 1zm0 2zm0 0zm0-1zm0 0zm0 1zm0 0zm2-4zm0 2zm0-1zm1 0zm1 1zm1 2zm0 0zm1-4zm1 3zm0 0zm1 0zm0-3zm1 2zm1 1zm3-3zm3 2zm1 2zm1-2zm1-1zm2 1zm2 2zm0-3zm2-2zm1 2zm0-2zm0 5zm1-1zm0 1zm0-3zm1 1zm0-2zm0 1zm1 0zm0 0zm1 2zm1-1zm0 1zm0-1zm1-1zm0 1zm1 1zm0 0zm0 1zm1 0zm0-1zm0 1zm0-3zm0 3zm0-2zm0-3zm1 1zm0 0zm0 3zm0-1zm0 1zm0-4zm1 3zm0 2zm0-2zm0-3zm0 4zm0-2zm1 2zm1 1zm0-2zm0 1zm1-3zm0 2zm0-2zm0 0zm1 4zm0-3zm0 3zm0-5zm0 4zm1-4zm0 2zm0 0zm0 2zm1 1zm0-4zm0 4zm0-5zm1 4zm0-3zm0 4zm0-2zm2-1zm0 2zm0 0zm0-4zm1 3zm0 2zm0-4zm0 4zm0-1zm2-3zm0 1zm0 1zm0 0zm2 1zm0-3zm0 3zm0-1zm0-3zm1 1zm0 3zm1-2zm0 1zm1 2zm0-2zm0 0zm1-2zm0 3zm0 1zm1 0zm2-2zm0 1zm1-3zm0 3zm0-1zm1 1zm0-2zm0-2zm0 2zm1-1zm8 2zm3 0zm4 2zm0-2zm2 0zm1 1zm1-3zm0 4zm0-3zm1 0zm0 0zm1 1zm2 2zm0-5zm2 2zm0 3zm0 0zm0-2zm0 2zm2 0zm0-4zm1 4zm1-2zm0 2zm0-1zm0 0zm1 0zm0 0zm0 1zm1-1zm0 0zm2 1zm0-4zm0 1zm3 1zm2-1zm0 2zm0-2zm0 3zm1-1zm0 0zm1 1zm0 0zm1 0zm3-1zm1 0zm3-2zm0 3zm0 0zm1 0zm4 0zm0-2zm4 1zm1 0zm0-2zm0 2zm0 0zm2 1zm1-1zm0-1zm1 1zm2-1zm2 0zm0 2zm1-1zm0 1zm1-4zm0 0zm0 3zm2-2zm0 1zm0 1zm0-1zm0 1zm1-4zm0 1zm0 1zm2 3zm0 0zm0 0zm0-1zm2 0zm0-1zm2-1zm0 3zm1-3zm0 2zm1 0zm0 0zm2-1zm0 1zm0 0zm1-3zm1 2zm1 1zm0 0zm4-3zm0-1zm0 0zm0 4zm2-3zm3 0zm33 2zm0 2zm3-3zm0 0zm10 1zm2 0zm0 1zm3 0zm0 0zm1 1zm2 0zm1-4zm12 8zm0-1zm-1 2zm-2-2zm0-1zm-1 2zm-1-3zm-1 0zm-1 3zm-1-1zm0-2zm0 0zm0 3zm-1 2zm-1 0zm0 0zm-2-1zm0 1zm-1-2zm0 0zm-1 1zm0 0zm0 0zm0-1zm-1 0zm0-2zm0 4zm0 0zm0-5zm-1 2zm0-1zm-1 1zm0 1zm0-1zm-1 3zm0 0zm0-3zm0-1zm-1 4zm0-3zm0 0zm-1 1zm0 1zm0 0zm0 0zm-1-1zm0 0zm0 1zm0 0zm0-1zm0 2zm-1-1zm0-4zm0 4zm0-1zm-1 1zm0-1zm0 2zm-1-3zm0 2zm0-1zm-1 0zm0-2zm0 4zm0-5zm0 3zm-1-3zm0 1zm0 4zm-1-1zm0-4zm0 5zm0 0zm-1-2zm-1-2zm0 2zm0 2zm0-2zm-1 1zm-1-2zm0 3zm-1-1zm0 0zm-1-1zm0-1zm-2 2zm-3-3zm-1 4zm-28-3zm-3 3zm-1 0zm-1-2zm0-2zm-3 4zm0-3zm-1 3zm-1-4zm-1 3zm0 1zm-1-1zm0-1zm0 0zm0-2zm-1 1zm0 1zm-1-2zm0 3zm0-4zm0 1zm0 2zm-1-2zm0-1zm0 2zm-1-1zm0 0zm0 2zm0-2zm-1 2zm0 0zm0-1zm-1 2zm0-1zm0-2zm0 1zm0-2zm-1 4zm0-3zm0 4zm0-1zm0-3zm0 1zm0-2zm-1 4zm-1-4zm0 0zm0 4zm-1-3zm0 0zm0 2zm0-1zm0 2zm0-4zm0 1zm0 1zm-1 3zm0-4zm0 0zm0 0zm0 1zm0 1zm-1-3zm0 0zm0 1zm0 0zm0-1zm0 5zm0-3zm-1-2zm0 3zm0-2zm0 0zm0 4zm-1-4zm0 0zm0-1zm0 3zm-1-3zm0 2zm0 0zm0 1zm-1 0zm0 1zm0-2zm-1-2zm0 0zm0 5zm0 0zm0-4zm0-1zm-1 0zm-1 0zm0 3zm0-2zm-1 1zm0 3zm-1-4zm-1 3zm0 1zm0 0zm-1-5zm0 0zm0 1zm0 0zm0 2zm0-1zm-1 2zm0-4zm-2 3zm0 2zm-2-3zm-1 0zm-1 2zm0-4zm-1 4zm-1-2zm0-1zm0 0zm-2 3zm0-2zm0-2zm0 4zm0-4zm-2 3zm0 2zm0-3zm0 2zm-1-3zm0-1zm0 2zm-1 2zm0 1zm0-2zm0 0zm0 1zm-1 0zm0-1zm0 1zm-1-3zm-1-1zm0 3zm-1-1zm0 1zm0-1zm0 1zm-1-2zm0 1zm0 0zm0 3zm-1-3zm0 1zm0-1zm0-1zm0 0zm0 0zm0 0zm-1-1zm0 1zm0 4zm0-4zm0 3zm0 0zm-1 0zm-1 0zm0 0zm0-1zm0-2zm0 1zm0 3zm0-5zm-1 3zm0-1zm-1-1zm0 2zm0-3zm0 0zm0 1zm0 3zm0-3zm0 1zm-1 0zm-1 2zm0 1zm0-5zm0 3zm0-2zm-1 1zm0-1zm0 2zm0-1zm-1-2zm0 1zm0 2zm0 2zm-1 0zm0-2zm0 1zm0-4zm0 4zm0 1zm0-1zm-1-3zm0 1zm0-2zm0 2zm0 2zm-1-2zm0 2zm0 0zm-1 0zm-1-1zm0-2zm0 1zm0 0zm0 1zm0 1zm-1 0zm0-3zm0-1zm-1 1zm-1-1zm0 1zm0 3zm0-1zm-1 0zm-1-3zm0 4zm-2-4zm0 5zm0-3zm0-2zm0 4zm0-1zm0-3zm0 1zm0 4zm0-3zm-1 3zm0 0zm0-4zm-1 0zm0 1zm0-2zm0 1zm-1 0zm0-1zm-1 5zm0-2zm0 0zm-1-1zm-1 3zm0-4zm-2 2zm0 0zm-1-1zm0 2zm-1 0zm-3-4zm0 0zm0 0zm-9 2zm-1-2zm-3 0zm0 0zm-1 1zm-1 1zm0 0zm-1-2zm-1 0zm0 0zm0 3zm0 0zm-1-2zm-1 2zm-1-3zm0 2zm-1 3zm0-2zm-1 0zm0-2zm-1-1zm0 1zm-1-1zm-1 0zm-1 2zm0-1zm0 1zm-1-1zm0-1zm-1 2zm0 0zm-1-2zm0 1zm0 0zm-1-1zm0 0zm-1 2zm-2 0zm0-2zm0 0zm-1 1zm-1 2zm-6-3zm-2 4zm-1-3zm-3 0zm-2 3zm-1 0zm-2 1zm0 0zm0-5zm0 2zm-1-2zm0 4zm-1-1zm0 2zm0-3zm0 3zm0-1zm0-4zm0 2zm0 1zm-1-2zm0 2zm-1 1zm0-4zm0 3zm-1-1zm0 2zm0-4zm0 5zm0-3zm0 0zm0 2zm-1-1zm0-2zm0 0zm0-1zm0 1zm-1 0zm0 4zm0-3zm-1-2zm0 2zm0 0zm0-2zm-1 5zm0-2zm0 0zm0 1zm-1 1zm-1-4zm-1 3zm0-3zm0 1zm-1 0zm0 3zm0-1zm0 1zm0 0zm0 0zm0-3zm0 0zm-1 1zm0-1zm0 3zm-1-1zm0-3zm0 2zm0 2zm0-1zm-1-2zm-1 3zm0-2zm0-1zm0-2zm0 0zm-1 4zm0-2zm0 2zm0-3zm0 1zm-1 1zm0-1zm0 3zm0 0zm0 0zm0-5zm0 0zm-2 4zm0 0zm0-3zm0 1zm0 2zm0 0zm-1-3zm0-1zm-1 4zm-2-1zm0-1zm0 3zm-1-1zm-3 1zm0 0zm0-4zm-1 4zm-1-2zm-1 0zm-1 0zm-2 0zm-2-1zm0 3zm-1-4zm-1 1zm0 1zm0-3zm-1 2zm0 1zm0 1zm-1 1zm0-3zm0 1zm-1 1zm-1-3zm0 3zm0 1zm-2 0zm-1-2zm0-1zm0 3zm-1-3zm0 0zm0 2zm0-1zm-2-2zm0 4zm-1-2zm0 1zm-1 0zm0-3zm0 4zm0-2zm0 1zm-1 0zm0 0zm0-3zm0 0zm-1 4zm0-1zm-1-4zm0 5zm-1-2zm0-2zm0 4zm-1-1zm-1-1zm0 0zm0-2zm0 3zm-1-1zm0 0zm-1-2zm0 3zm0-2zm0 3zm0-2zm0 0zm-2-3zm-1 4zm0 1zm-1 0zm0-1zm-1-1zm-4-1zm-1 3zm-10-2zm0 2zm-2-3zm-1 1zm0-2zm0 1zm0-2zm0 2zm-1 0zm-1-1zm-1 0zm-1 0zm-2 2zm0-1zm-2 3zm0-5zm0 5zm0-3zm0 2zm-1 1zm0-4zm-1-1zm0 1zm0 4zm0-4zm-1 1zm-1 0zm0 0zm0-2zm0 3zm0-1zm-1 1zm0 2zm0-1zm0-2zm0-2zm0 3zm-1 0zm0 0zm0-3zm-1 3zm0-2zm0-1zm0 3zm-1 2zm0 0zm0-3zm0 2zm-1 1zm0-2zm0-2zm0 1zm0 0zm0 2zm0-1zm-1-3zm0 2zm0 3zm0 0zm-1-5zm0 2zm0-1zm0 2zm0-3zm0 2zm0 3zm0-2zm0-3zm-1 0zm0 3zm0-1zm-1 1zm0-2zm-1 1zm0 2zm-1 0zm0-3zm-1 4zm0-5zm0 4zm0-3zm0-1zm0 1zm0-1zm-1 3zm0-1zm0-2zm0 0zm0 2zm0-1zm0 0zm-2 0zm-1 0zm0 2zm-1-2zm0 3zm0-4zm-1 2zm0-2zm0 4zm-1-1zm0 2zm0-2zm0-3zm-1 5zm0-5zm0 2zm-2 3zm0-3zm-4 2zm4 2zm3 1zm1 1zm0 0zm2-1zm0 1zm2 0zm2-2zm0 0zm1 2zm0 1zm1-3zm1 3zm1-3zm6 1zm0 0zm1-1zm2 2zm0-1zm2 0zm1 0zm0-1zm1 0zm0 2zm2-2zm15 0zm4 2zm0 2zm0-4zm2 1zm0-1zm0 0zm0 4zm0-3zm1 1zm0 0zm1-1zm0 1zm0 2zm0-3zm0 2zm1-2zm0 0zm0 0zm1-1zm1 5zm1-4zm0-1zm0 0zm1 5zm1-4zm0 2zm0 1zm0-3zm0 0zm1 2zm2-1zm1 2zm0 1zm0-2zm0-2zm0 0zm0 2zm0-1zm1 1zm0 0zm0-1zm0-1zm0 1zm0 0zm1-1zm0 4zm0-3zm0 3zm0-4zm0 1zm1 2zm0-2zm0-1zm1 3zm0-4zm0 0zm0 1zm1 2zm0 2zm0-3zm0 0zm1-2zm0 1zm1-1zm0 4zm0-2zm0-2zm1 4zm0-3zm0 3zm1-4zm0 1zm0 2zm0 0zm1 1zm0-1zm0-2zm0 1zm1 2zm0-2zm0-1zm0 0zm1 4zm0-1zm0-2zm0 3zm1-2zm0-2zm0 1zm2 0zm1-2zm1 0zm1 0zm2 1zm1 2zm3-2zm1 1zm3-1zm2 1zm4-1zm4 0zm0 3zm2-2zm1-2zm0 1zm1 0zm0 0zm0 0zm0 1zm0-1zm1-1zm1 2zm0-2zm0 1zm1-1zm0 1zm1-1zm1 1zm0 1zm1-2zm3 0zm1 0zm0 1zm3 0zm0-1zm54 0zm6 1zm3 2zm0-2zm3 3zm1-3zm0-1zm1 3zm1-3zm1 1zm0 0zm1 1zm1 2zm0-4zm1 3zm6-2zm0 0zm3 0zm1-1zm3 3zm5-1zm3 0zm1-2zm3 0zm1 1zm1-1zm3 0zm3 2zm1-1zm1 0zm0-1zm2 1zm1 2zm1-1zm1-1zm0 0zm1 0zm3 0zm0-1zm2 3zm0-2zm1 1zm3-2zm1 0zm1 0zm0 0zm2 2zm16 3zm5-5zm3 5zm1-1zm2-3zm1 4zm0 0zm0-4zm1-1zm0 5zm0-3zm0 0zm1 0zm0 2zm0-2zm0 2zm1 1zm0-1zm1-3zm0 0zm1 3zm1-2zm2 1zm0-1zm0 3zm0 0zm1-4zm0 2zm1 2zm0-4zm1 2zm0 0zm0 2zm1-3zm0 1zm1-3zm0 2zm0 2zm0-3zm1-1zm1 3zm0 1zm1 0zm1-1zm0 0zm0 2zm1-4zm0 3zm1-4zm1 1zm0 3zm2-3zm0-1zm0 5zm0-3zm1 2zm0 0zm0-3zm0 1zm0-2zm2 4zm0-4zm0 4zm0 1zm2-1zm0-1zm0-2zm0 3zm0 1zm0-2zm0 1zm1-4zm0 2zm0-1zm0 1zm1 0zm0-1zm0 3zm1-1zm0 0zm1-2zm0 4zm0-5zm0 3zm1 1zm0-2zm0 0zm1 1zm0 1zm0-1zm1 1zm0-2zm0 2zm0-3zm0 0zm0 0zm0 0zm1 2zm0 0zm0-3zm0 4zm0-1zm0-2zm0-1zm1 5zm0-4zm0 4zm0-3zm0-1zm1 3zm0-4zm0 2zm0 2zm0-3zm0 4zm0-2zm1-3zm0 2zm0 0zm1 1zm0 0zm0 1zm0-4zm0 1zm0 2zm0-3zm0 2zm1 1zm0 1zm0-1zm1-3zm0 4zm0-4zm0 3zm0-3zm1 0zm0 0zm0 5zm0-4zm1 0zm0 3zm0-4zm1 2zm0 1zm1-1zm1 2zm0-2zm0-1zm0-1zm0 4zm1-3zm1 4zm1-1zm0-3zm0 1zm0 2zm0-3zm3 2zm0-2zm4 2zm-3 3zm-2 0zm-3 0zm-2 0zm-1 5zm-1-5zm-1 0zm-1 4zm-1-4zm0 3zm-1 0zm-1-3zm-1 5zm0-4zm-2-1zm0 1zm-2-1zm-1 0zm0 1zm-1 2zm-1-2zm-2-1zm0 0zm-4 3zm-1 1zm0-1zm-2 2zm0 0zm0-3zm-1-2zm0 3zm0 0zm0-1zm-1 1zm0-3zm0 3zm0 2zm0-1zm-1-2zm0 0zm0-1zm0 3zm0-2zm0-2zm-1 4zm-1-4zm0 5zm0-3zm0 1zm0 0zm-1-1zm0 2zm-1 1zm-1-5zm0 2zm0 3zm0-3zm-1 3zm0-2zm0 0zm0 2zm-1-3zm0 1zm0 2zm0 0zm0-5zm-1 2zm0 3zm0-5zm0 4zm0-3zm0 2zm0-2zm0 3zm0-4zm0 3zm-1-2zm0 1zm0-1zm0 0zm0 4zm0-5zm0 2zm-1-2zm0 5zm0-1zm0-3zm0-1zm0 2zm0-2zm0 0zm-1 4zm0 1zm0-2zm-1 2zm0-3zm0 0zm-1 0zm0 1zm0 0zm0-2zm-1-1zm-1 2zm0 1zm0 2zm0-5zm0 0zm0 1zm-1-1zm0 1zm0 4zm-1-2zm0-2zm0 0zm0 2zm0-2zm-2-1zm0 1zm0 1zm0-1zm-1 2zm0-3zm0 4zm-1-3zm0 0zm0-1zm0 1zm-1 3zm0 0zm0 1zm0-1zm0-3zm0 1zm-1 0zm0 0zm-1 2zm0-3zm0 0zm-1 2zm0 0zm-2-1zm-1-2zm-1 1zm-1-1zm0 3zm0-1zm-2-2zm0 3zm0 0zm-1-1zm-2 1zm0 0zm-179-3zm-5 0zm-1 2zm-2-2zm0 2zm-2-2zm-4 2zm-2-2zm-1 1zm-1-1zm0 2zm6 9zm1-1zm2 1zm2 0zm0 0zm1-1zm1 1zm4 0zm0 0zm2 0zm133 0zm11-1zm5 0zm36-2zm2-1zm3-1zm1 1zm1 1zm1-2zm0 1zm0-1zm1 4zm1 0zm0-2zm1 0zm0-1zm2 0zm0-1zm1 3zm0-2zm0 1zm0 2zm1 1zm1-3zm0 1zm0-3zm0 4zm0-2zm1 0zm0 0zm0-2zm0 0zm0 3zm0-1zm1-2zm1 0zm0 0zm0 0zm1 2zm0 0zm0-2zm1 0zm0 4zm0-2zm0-1zm1 1zm1 2zm0-2zm0 0zm1 0zm0 3zm0-5zm2 1zm0 3zm0 1zm1-2zm0 2zm0-3zm1-2zm0 1zm1 1zm1 3zm0-1zm0-2zm0-2zm0 0zm1 2zm2-1zm0 1zm0 2zm1 0zm0-4zm1 0zm0 4zm1 1zm1-2zm0 1zm0 0zm1 1zm0 0zm0-1zm0-1zm0 1zm0-3zm1 0zm0 2zm0 1zm0 0zm0-4zm0 5zm0-1zm2-2zm0 3zm0-1zm1-1zm0-1zm0 0zm0-1zm1 3zm1 0zm0-1zm0 0zm1 1zm0 1zm0 0zm1 0zm0-1zm0-2zm0 2zm0 0zm0-1zm0-2zm1 4zm0-2zm0-2zm0 0zm0 2zm1-1zm0 3zm0-4zm1 1zm0 2zm0 0zm0-2zm1 1zm0 0zm0-2zm0 3zm0 1zm1-1zm1 1zm0 0zm0 0zm1-5zm0 3zm1 1zm0 1zm0 0zm0-2zm0-1zm1 2zm0-2zm0-1zm0-1zm1 4zm0-4zm0 4zm0 0zm1-2zm0 2zm0 0zm2-1zm1 0zm0-3zm0 2zm2 2zm2 0zm4 3zm-3 0zm-3 0zm0-1zm-2 3zm0 0zm-2 1zm0 0zm0-4zm0 1zm-2 1zm-1 2zm-1-2zm0 0zm0 2zm-1 1zm0-2zm-1-1zm0 2zm0-2zm0 2zm-1-1zm0 0zm0 2zm-1-5zm0 3zm0-2zm0 2zm0-2zm-1 0zm0 3zm0-3zm0 1zm0-2zm0 5zm-1-5zm0 0zm0 5zm0-3zm0 0zm0 0zm-1 2zm-1-2zm0-1zm-1 1zm0 0zm-1-2zm0 0zm0 2zm0-1zm0 1zm-1 2zm0-4zm0 1zm0 0zm-1 1zm0-1zm-1 2zm0 0zm0-1zm0 1zm-1 1zm0 1zm0-5zm0 1zm0-1zm0 3zm-1 0zm0-1zm0 0zm-1-1zm-1 1zm-1 3zm-1-5zm-2 1zm-1 0zm0 1zm-2 2zm0 0zm-1 1zm-1-5zm-1 3zm-2-1zm-2-2zm-1 1zm-3-1zm-1 2zm-7-1zm-39 1zm-2 3zm-1-4zm-1 3zm-1 1zm0-1zm-1-1zm-2 0zm0 2zm-3 0zm0-1zm-2-2zm0 3zm0 0zm-2-3zm0 3zm0 0zm-1 0zm0-3zm0-2zm0 5zm-1-1zm0-3zm-1 3zm0-1zm0 1zm0 0zm0-3zm-1 4zm-1-2zm-1-2zm-1 2zm0-3zm-1 1zm0 3zm-1 1zm0-5zm-1 5zm0-4zm-1 0zm0 3zm-4 1zm0 0zm-121-5zm-2 5zm-1-4zm-1 0zm0 4zm-1-2zm-1 2zm0 0zm-1 0zm-1-3zm0 1zm0 0zm0 2zm0-2zm0-1zm0 0zm-1 2zm0 0zm0 0zm0 1zm0-1zm0-3zm0 4zm0-1zm-1 0zm0-1zm0 0zm0-3zm-1 3zm0 0zm-1 1zm0-1zm0 0zm-1 0zm0-2zm0 4zm0 0zm-1-5zm-2 0zm0 4zm0 0zm0-1zm0-2zm0 2zm0-1zm-1-1zm0 4zm0-5zm0 3zm0 0zm0 1zm-1 1zm0 0zm-1-3zm0 1zm0 1zm0 0zm-1-2zm0 1zm-1-1zm0 0zm-1 0zm-1-1zm0-1zm0 1zm-1 1zm-1 0zm-2 3zm0-4zm-2 4zm1 5zm2-3zm1 0zm1 2zm0-1zm0 1zm1 0zm0-3zm0 1zm1 0zm1-1zm0 2zm1 1zm0-1zm0-2zm0 3zm1-3zm0 1zm0 1zm0-2zm1 5zm0-5zm1 1zm0 0zm1-1zm0 0zm0 3zm1-1zm1-1zm0 0zm0 0zm1 2zm0-3zm1 1zm0 4zm0-1zm0-4zm1 0zm0 2zm0 2zm1-4zm1 0zm0 4zm0-1zm0 0zm1-2zm0-1zm5 3zm0 2zm1-4zm1 2zm1-2zm34 4zm84-4zm1 2zm4 0zm0 1zm1 0zm0-3zm1-1zm1 3zm0 0zm1-1zm1 3zm1-1zm0-2zm0-1zm0 4zm0-1zm0 0zm1-4zm0 1zm0 2zm0 2zm0-5zm1 3zm0-1zm1-2zm0 1zm0 4zm0 0zm0-1zm1 1zm0-1zm0-1zm1-1zm0 2zm0-3zm0-1zm0 4zm1 1zm0-4zm0 1zm0 0zm0 1zm0 2zm0-4zm0 4zm0-4zm1 0zm0 3zm0-4zm0 3zm0 1zm1-1zm0-2zm0 3zm0-1zm0 1zm0 0zm0-1zm1-2zm0 2zm0 2zm0-3zm0-1zm1 4zm0-5zm0 0zm0 1zm0 3zm0-1zm0-1zm0 1zm1-3zm0 2zm0 0zm0 2zm0 0zm0-4zm0 2zm1 3zm0-1zm0-3zm0 0zm0 2zm0-1zm1 0zm0 2zm0-1zm0 2zm1-1zm0-2zm0 1zm0 0zm0 2zm2 0zm0-5zm0 2zm1 0zm0-1zm0 3zm0-3zm1 2zm0-3zm1 2zm0-1zm1-1zm0 5zm1-5zm0 5zm0-2zm1-3zm1 5zm0-2zm2 1zm0-4zm1 1zm0-1zm3 3zm16 1zm9 1zm8 0zm28-5zm0 0zm6 0zm2 2zm4 0zm6-2zm-39 11zm-4-3zm-1 2zm-1 1zm-1 0zm-1-2zm0-1zm0 0zm-1 0zm-1 3zm-1 0zm0-4zm-1 1zm0 0zm-2 3zm0 0zm-1-1zm0 1zm0-1zm0-2zm0 2zm0 1zm-1-1zm0 1zm0-2zm-1 2zm0-3zm0 3zm0-2zm-1-1zm0 1zm-1 0zm0 1zm0-2zm0 2zm0 0zm-1-3zm0 1zm-1-1zm0 2zm-1 1zm0 1zm0-3zm0 0zm0 3zm-1-2zm-1 2zm0-4zm0-1zm0 5zm0-1zm0 1zm0-1zm0-2zm-1 2zm-1-3zm0 0zm-1 0zm-1 2zm0 2zm0-1zm0-3zm0 4zm-1 0zm-1-4zm0 1zm0 1zm-4 1zm-1 0zm0-1zm-1 2zm-1-2zm-9-1zm0 0zm-2-2zm0 1zm-3-1zm0 3zm-2-1zm0 0zm-1 0zm0 1zm0-1zm-1-1zm0 2zm-1-1zm0-2zm-1 2zm0-2zm0 0zm-1 2zm-1 0zm0 2zm0 1zm-1-4zm0 3zm0-2zm-1-2zm-1 0zm0 2zm-1-1zm0 2zm0 0zm0 0zm0-1zm0-2zm-1 1zm0 0zm0 0zm-1-1zm-1 0zm0 1zm0-1zm0 5zm-1-2zm0-1zm0-1zm0-1zm0 5zm0-3zm-1 0zm0 0zm-1 2zm0-3zm-1 3zm0-2zm-1-1zm-1 3zm0-4zm0 2zm-1-1zm0-1zm0 0zm-1 0zm0 2zm0 1zm-1 1zm-1-4zm0 0zm-1 0zm-1 2zm-3 0zm-27 3zm-41-1zm-2-1zm-2-3zm-1 5zm0-2zm0 2zm0-2zm-1 0zm0 1zm0 0zm-1-1zm0 1zm0 1zm-3-4zm-1 4zm0-1zm0-4zm-1 3zm-2 0zm-1-3zm0 5zm-1-1zm-1 1zm-1-2zm0 2zm0-3zm0 2zm-1 0zm-1-1zm-1 1zm0 0zm-3 0zm0-4zm-1 5zm-1 0zm-1-1zm0-1zm0 1zm-3-1zm-33-3zm0 0zm-3 0zm33 11zm2-1zm1-3zm1 4zm0-4zm1-1zm0 1zm1 2zm1 0zm2 0zm0-1zm1 3zm0-1zm0 0zm0-1zm3-1zm1-1zm0 3zm0 1zm1-1zm0 0zm0 0zm0-4zm1 5zm0-3zm0-1zm0 4zm0-2zm0 2zm0 0zm0-2zm1 1zm0-2zm0 1zm0 2zm2-1zm0-3zm0 2zm0 2zm1-4zm0 2zm0-2zm0-1zm1 4zm0 1zm1-5zm0 5zm1 0zm1-2zm0 1zm1-2zm0 2zm0 0zm1 1zm0-4zm1 4zm0-3zm1 0zm0 2zm0-4zm0 0zm1 0zm0 3zm1 0zm0 1zm0 1zm1 0zm1-1zm1 0zm0 0zm0 1zm0-2zm1 0zm4 1zm2 0zm23 1zm3 0zm0-2zm0 0zm1 2zm3-5zm1 1zm0 3zm1 0zm1-1zm1-2zm2 4zm1 0zm2-2zm0-1zm1 1zm0 1zm0-4zm1 5zm0-3zm1-1zm0 4zm0-2zm0 2zm1-4zm0 4zm1-4zm1 2zm0 1zm1 1zm0-5zm1 3zm1 1zm0 1zm1-1zm1-3zm0 2zm0 1zm0 0zm1-2zm0 0zm1 1zm1-1zm1 3zm0-1zm0 1zm1-3zm1 3zm4-1zm5-4zm10 0zm3 1zm1-1zm2 1zm0-1zm2 1zm18 0zm0 3zm0-3zm1-1zm2 4zm2-2zm0-1zm0 4zm3-3zm0 1zm0-2zm1 0zm0 3zm1-2zm0 0zm0-1zm1 4zm0 0zm0-4zm0 0zm0-1zm0 0zm1 0zm0 4zm0-3zm1-1zm0 4zm1 0zm0-4zm1 3zm1-2zm1 0zm0 2zm0 1zm0-3zm0 3zm1 0zm1-1zm0-2zm0 2zm1-1zm0 0zm0-2zm0 0zm0 1zm1 1zm0-1zm0 0zm0 0zm0-1zm1 1zm0-1zm0 4zm0-1zm0-1zm0 3zm1-5zm0 5zm1-4zm0 2zm0-3zm0 1zm0 2zm0-1zm1 1zm0 1zm1 1zm0-2zm0-1zm0-2zm1 2zm0 0zm0 3zm0-2zm1 1zm0-3zm0 0zm0 1zm1 0zm1-2zm0 3zm0 0zm0-1zm1-1zm0 4zm1-5zm1 0zm0 5zm3-4zm3 1zm1 0zm1-1zm17 8zm0 1zm-3-2zm0 3zm-2-2zm-1 2zm-1 0zm-1 0zm0-1zm-1-3zm0 1zm-1 2zm-1-1zm0 0zm-2 1zm-1 0zm0 1zm-1-2zm0 0zm0 2zm-1-2zm0-2zm-1 4zm0-2zm0 2zm-1-2zm0 2zm-1 0zm0 0zm0 0zm0 0zm-1 0zm0-2zm0 0zm0 0zm-1-2zm0 2zm-1-3zm0 1zm-1 4zm0-3zm0 3zm-1-1zm-1 0zm-3 0zm0 1zm0 0zm0-4zm-1 1zm-1 0zm-1-1zm0 0zm0 3zm-1-3zm-1 0zm-1-1zm0 5zm-2-4zm-1-1zm0 5zm0-2zm-3-2zm-1-1zm0 4zm-3-4zm-3 0zm-3 0zm-21 3zm0 1zm-2-3zm-1 4zm-1 0zm-1-2zm-1 2zm0-2zm-1 1zm0-2zm0 2zm-2-1zm0 1zm0 1zm-1 0zm-1 0zm0-1zm0 1zm0 0zm-1-3zm0 2zm0 1zm-1-2zm-1 0zm0 0zm-1 1zm0 0zm0 1zm0 0zm-1-2zm-1 2zm-1 0zm0-2zm0 1zm0-1zm-4 1zm-5-4zm-1 2zm-3-2zm-2 3zm0 2zm-1-5zm0 5zm0-3zm0 0zm0 0zm-1-2zm0 5zm-2 0zm0-1zm0 1zm-1 0zm0-4zm-1 0zm0 3zm0-1zm0 2zm0-4zm-1-1zm0 1zm0 4zm0-4zm0 0zm-1-1zm0 5zm0-5zm-1 1zm0-1zm0 3zm-1-1zm0-1zm0 1zm0 1zm-1-3zm0 2zm0 0zm0 2zm0-3zm0 2zm-1-3zm0 3zm0-3zm-1 4zm0-1zm0-2zm0 4zm-1-4zm0-1zm0 0zm0 0zm0 1zm0 0zm0 3zm-1-3zm0 2zm0-1zm0-1zm0 0zm0 4zm0 0zm-1 0zm0 0zm0-5zm0 5zm0 0zm-1-5zm0 4zm0-3zm0 2zm-1 2zm0-2zm0 2zm0-5zm0 2zm0 3zm-1-3zm0-1zm0 4zm0-4zm-1 0zm0 4zm-1-4zm0 4zm0-2zm0 1zm-1-3zm0 0zm0 2zm-1-1zm0 0zm0-2zm-1 5zm0-1zm-1-3zm0 4zm0 0zm-1-4zm0-1zm0 3zm-1-2zm-1 1zm-1-2zm-1 2zm0 2zm0-3zm0 4zm-1-1zm-1 1zm-25-1zm0-4zm-1 3zm-1-1zm0 0zm0 0zm-2-2zm0 1zm0 1zm0-1zm0 0zm-1 0zm-1 0zm0 0zm-1 3zm0-4zm-1 2zm0 0zm-1 2zm-1-2zm0-2zm0 0zm-1 2zm-1-1zm0 0zm0 3zm0 1zm-1-1zm0-4zm0 3zm0-3zm-1 2zm0 0zm0 2zm-1 1zm0-4zm0 3zm-1 1zm0-4zm0 1zm-1-2zm0 5zm0-1zm0-3zm0 2zm0 0zm0-1zm-1-2zm0 1zm0 3zm0-3zm0 2zm0-3zm-1 3zm0 2zm0-4zm0 3zm0-4zm0 5zm-1-5zm0 3zm0-1zm0 1zm0 0zm-1-2zm0 2zm0-2zm-1-1zm0 2zm0 2zm0-2zm0-2zm-1 3zm0 0zm0-1zm0 2zm-1-3zm0 3zm0-4zm0 3zm0 2zm0-5zm-1 5zm0-4zm-1 2zm0 1zm0-4zm0 1zm-1 3zm0 1zm0-5zm0 0zm0 2zm0 1zm-1-3zm0 0zm0 5zm0-4zm0-1zm0 0zm-1 3zm0 1zm-1-2zm-1 3zm-1-3zm0 1zm0-1zm-2 0zm0-1zm0 4zm-2-5zm-1 1zm3 6zm6 0zm2-1zm3 1zm2-1zm0 2zm1 0zm1-1zm2 1zm0-2zm1 0zm0 0zm10 0zm30 2zm6 0zm0-1zm1 2zm0-2zm1 2zm1 1zm0-4zm2 5zm0-1zm0 1zm0-3zm1 0zm0-1zm0 0zm1-1zm1 2zm0 1zm0-3zm0 2zm1-1zm0 1zm0-2zm1 1zm0 4zm0-1zm1-1zm0-2zm0 1zm1 1zm1-3zm0 0zm1 3zm0 2zm0-2zm1-1zm1 1zm0-3zm0 1zm0-1zm1 1zm0 2zm0 0zm0-3zm1 5zm0 0zm0-2zm0-3zm1 3zm0-3zm0 1zm0-1zm0 0zm1 2zm1 0zm0 1zm1-1zm0-1zm1 2zm1-1zm0-1zm1-1zm0 0zm2 1zm0 1zm1 1zm1-1zm3-1zm1-1zm0 2zm0-1zm0 0zm0 0zm1 1zm0-1zm2-1zm0 3zm2-1zm1 1zm0-3zm1 3zm0-3zm0 2zm0-1zm1 0zm0 3zm1-1zm0-3zm1 5zm0-1zm0 0zm0-3zm0-1zm1 0zm0 1zm0-1zm0 1zm0-1zm1 3zm1 0zm0 2zm0 0zm0-1zm1-2zm0 3zm0-5zm0 0zm1 3zm0 1zm0-4zm1 2zm0 2zm0-2zm0 1zm0-2zm1 3zm0-3zm0-1zm1 0zm0 3zm0 2zm0-3zm0-1zm1 2zm0 0zm1 1zm0-3zm0 2zm0-2zm1 4zm0 0zm0-1zm0-1zm0-1zm1 0zm0-1zm1-1zm0 3zm0 1zm0-2zm0 1zm0 1zm1-3zm0 2zm2 0zm1 0zm1-1zm3-1zm0 1zm30 2zm0-2zm1-1zm0 1zm0 3zm1-4zm0 0zm2 3zm0-2zm1 0zm1 3zm0-1zm1-1zm1-3zm0 0zm0 0zm0 5zm0-1zm2-4zm0 5zm0-4zm0-1zm0 2zm1-1zm0 1zm1 1zm0-1zm1 3zm0-4zm0 1zm0-2zm0 5zm0 0zm0-4zm1 4zm0 0zm0-1zm0-2zm1 1zm0-3zm0 1zm1 1zm0-1zm0 1zm1 1zm0 2zm0-3zm0 1zm1 2zm0-1zm0-1zm0 1zm0 1zm1-5zm0 0zm1 4zm0 0zm0-2zm0 0zm0-2zm0 0zm1 2zm0-2zm0 0zm0 2zm0 0zm1 2zm0 1zm1-3zm0 0zm0 1zm0-3zm1 2zm0-1zm0 2zm0 1zm0-3zm1-1zm0 0zm0 2zm1-2zm0 0zm0 5zm0-1zm1-3zm0 2zm0-3zm0 3zm0 2zm1-5zm0 3zm1 0zm0-3zm1 2zm0-2zm0 4zm1-3zm1 1zm1 1zm0-1zm1 1zm0 1zm0 0zm1-3zm0 3zm1 0zm1-1zm0-1zm2 0zm-11 4zm-4 3zm-1-3zm0 0zm-5 0zm0 0zm-1 1zm-1-1zm-2 0zm0 0zm-1 3zm0-3zm-2 1zm-2 1zm-2-2zm-3 0zm-2 2zm-35-2zm0 1zm-3-1zm-1 2zm-1-2zm-1 2zm0-2zm-2 3zm-2-3zm-1 2zm-2-2zm0 2zm-1 2zm0-4zm-1 2zm0-1zm0 0zm0 0zm-6 1zm-3-2zm-17 0zm-4 0zm-4 3zm-3-3zm-1 0zm-1 0zm-2 0zm0 0zm-37 8zm0 1zm1 1zm1 1zm0-2zm2 2zm1-1zm0-2zm1 0zm0 3zm1-3zm1 3zm1-4zm0 4zm0-5zm1 5zm0 0zm1-1zm1-1zm0-1zm1 3zm0-2zm0 2zm1-1zm2 0zm0-1zm3 5zm-1 1zm-1 0zm-1-2zm0 3zm0-1zm-1-2zm-1 1zm-1-2zm0 1zm0 2zm0-2zm0-1zm-1 0zm0 4zm0-2zm0 0zm0-1zm0 0zm-1 4zm-1-4zm0 3zm0-2zm0-2zm0 0zm-1 5zm0-4zm0 2zm0-1zm0 1zm-1 1zm0 1zm0-1zm0-3zm0 0zm-1-1zm0 3zm0-1zm0 1zm0 2zm-1-2zm0 1zm-1-1zm0-2zm0 4zm0-3zm0 1zm-1 2zm0-4zm0 2zm-1 0zm-1 1zm-1-3zm0 4zm-1-3zm3 4zm0 0zm3 0zm3 2zm2 0zm3-2zm0 1zm0 1zm3-2z" stroke="#c2c2c2" stroke-width="1.4"/>
<path d="M211 1048zm3-2zm3 2zm9-2zm2 1zm5 1zm7 1zm17 6zm-2 0zm-2-4zm-11-1zm0 4zm-12 1zm-5-1zm-3-1zm-8-1zm-1 0zm-3 0zm-4 2zm-25 4zm5 2zm6 1zm1-2zm10 2zm0-5zm1 1zm5 3zm2-3zm1-1zm4 0zm7 1zm10-1zm9 1zm4 1zm13 3zm22-2zm5-1zm2 3zm1-1zm7-4zm5 0zm35 4zm2-1zm1 1zm5 1zm21 2zm-3 4zm-3 0zm-3-1zm-5 0zm-1 1zm0 0zm-2 0zm-2-3zm0 0zm-15 3zm0-3zm-2-2zm-3 5zm-1-5zm-31 5zm-5-1zm-9-3zm-1 4zm-4-3zm-2 3zm-23 0zm-2-3zm-26 2zm-1 0zm-5 0zm0-3zm0 2zm-1-1zm-6 0zm-5 3zm-4 0zm0-4zm-3 0zm-3 2zm-4 1zm-1 0zm0 0zm-6 0zm-6 1zm-12 6zm10-3zm2 2zm3-2zm1-1zm1 3zm4 0zm1-1zm6 0zm0-2zm1 2zm2-2zm0 3zm2-1zm1-1zm0-1zm0 4zm1-1zm0 0zm0-1zm3-2zm1 0zm1 0zm0 3zm1-3zm8 1zm1 1zm1-2zm1 2zm2 0zm3 2zm11-5zm24 2zm0 3zm9-2zm9 2zm2-3zm0 1zm3-2zm3 4zm0-4zm3 0zm23 0zm2 0zm0 4zm8-1zm8-4zm6 2zm0 1zm1-1zm1 3zm1 0zm3 0zm9-1zm4-1zm5 1zm0-3zm10-1zm1 4zm5-3zm26 9zm-3 0zm-43-3zm0 1zm-15 0zm-1-2zm-8 2zm-8 0zm-38 2zm-34 0zm-9-4zm-20 0zm0 0zm-1 0zm-6 5zm-2 0zm-1-1zm-1 1zm-1-1zm-1 1zm0-1zm-1-3zm-1 1zm-3 0zm-1 3zm-4-2zm-3 2zm-2-4zm-7 1zm-2-1zm-5 2zm-3-1zm-2 0zm4 4zm5 0zm3 2zm2 3zm3-1zm2 1zm1-3zm1 1zm1-2zm0 3zm1-3zm0 3zm1-3zm0 0zm7 3zm1-3zm0 3zm5-3zm0 2zm0 2zm3-5zm2 0zm1 3zm1 1zm3-2zm3 0zm1 3zm10-3zm12 0zm1-1zm9 3zm0-1zm6 1zm5 0zm23 0zm67-2zm52 1zm15 6zm-7 1zm0-1zm-2-3zm-7 5zm-2-1zm-1-3zm-4 0zm-55 1zm-59 2zm-14 0zm-7-2zm-4-2zm-1 1zm-2 1zm-3-2zm-21 4zm-2 1zm-4-2zm-6 0zm-3-2zm-1 2zm-5-1zm0 2zm-2 1zm-2-2zm-1-2zm0-1zm0 0zm-1 0zm-1 5zm0-2zm-1-2zm0 0zm-2-1zm-9 0zm-1 5zm0-4zm-1 4zm0-5zm-1 0zm-2 2zm-3-2zm-4 1zm-1 2zm-18 4zm24-1zm1 5zm8-3zm4 0zm1-1zm10-1zm0 5zm0-2zm5-2zm0 2zm2 0zm0-3zm5 2zm0-2zm10 2zm19-1zm1 0zm1 2zm4-1zm9 2zm115-1zm28 1zm9-1zm6-2zm16 2zm3 1zm3-1zm3 5zm-2 3zm-3-2zm-15 0zm-4 1zm-41-4zm-7 4zm-25 0zm-1-4zm-20 2zm-19 1zm-6 0zm-2-2zm-12 0zm-6 3zm-21 1zm-22-4zm-17-1zm-31 4zm8 2zm4 3zm17-1zm37 2zm4-4zm17 1zm11 1zm30-1zm2 2zm1 0zm6 2zm3 0zm9-3zm49 0zm3 1zm9 2zm3-4zm3-1zm3 2zm3-2zm11 2zm11-1zm1-1zm4 2zm10-1zm4 0zm0 9zm-1 0zm-6-2zm-4 2zm-7-2zm-2-2zm-3 0zm-42 3zm-23-1zm-17 0zm-2 0zm-6 0zm-5 3zm-12-3zm-11-1zm-27 1zm-1-1zm-6 2zm-6-1zm-11 1zm-14 5zm20-1zm29 2zm31 1zm20 0zm41 1zm15-1zm2-2zm0 2zm3 1zm19-5zm-29 6zm-33 4zm-16 1zm-14 0zm-15 0zm-23-4zm-56 0zm-4 6zm2 0zm5 1zm16 3zm40-1zm9 0zm26-4zm17 5zm27-3zm8 3zm48 0zm6-1zm0-2zm4 2zm22 6zm-11 0zm-6-2zm-26-2zm-15 3zm-2 0zm-74-2zm-15 1zm-36-1zm-15-1zm-4 4zm-2-3zm-20 4zm-8-5zm0 3zm18 4zm4-1zm10 0zm0 1zm1 3zm61-3zm9 1zm3-1zm3-1zm17 2zm2-2zm7 5zm3-3zm80 2zm-6 4zm-11-1zm-58 3zm-26-1zm-32 1zm-50-4zm-21 4zm-12 0zm10 5zm5 0zm27-2zm9 1zm35 2zm34-3zm6 0zm14-1zm94 2zm-99 5zm-19 2zm-14-1zm-5 3zm-47-2zm-16 0zm-23 1zm13 5zm21-3zm19 0zm45 3zm-15 6zm-32-1zm-29 3zm-13-3zm-21-1zm-6-1zm-6 3zm-2 0zm20 6zm52-2zm13 0zm28 0zm-6 7zm-17 1zm-41 2zm-17-5zm-26 3zm-3-2zm-4 0zm-2 0zm-9 4zm-11 6zm18-3zm17-2zm78 3zm1 4zm-118 1zm-30 2zm-4 1zm-9-1zm-73-1zm-4 5zm18 0zm8-2zm15 1zm11 3zm1-4zm20 5zm12-2zm24-2zm25-1zm17 3zm9-3zm11 2zm15 2zm18 1zm16-5zm2 4zm24-1zm-6 5zm-9 1zm-33-2zm-8-1zm-1 4zm-27-3zm-6 3zm-28-1zm-22-1zm-15 0zm-14 1zm0-2zm-29 1zm-5 0zm-2 0zm-27 0zm-1-1zm-1 0zm-1 2zm91 5zm5-1zm57-1zm43 2zm14 0zm1 1zm0 0zm134 6zm-3-2zm-60 4zm-31-1zm-3 0zm-1 1zm-10-4zm-82-1zm-10 1zm-12 3zm-3-4zm-24 1zm-20 4zm-17-4zm-12 0zm-4 4zm-7-2zm-19 3zm18 3zm25 2zm11-3zm45 1zm8-3zm30 5zm5-3zm26 3zm35-5zm30 0zm29 4zm8 0zm17-3zm6 4zm24 1zm-12 2zm-4 0zm-1 1zm-12-2zm-40-1zm-85 2zm-22-2zm-1 4zm-2-4zm-32 0zm-69 0zm-2 2zm-18 0zm5 8zm80 0zm73 0zm46 1zm29 0zm24 0zm7-5zm35 7zm-15 0zm-6 0zm-62 0zm-2 0zm-8-1zm-22 1zm-43 2zm-69 2zm-23-5zm-10 2zm-11-1zm-27 4zm-7-4zm-4-1zm10 7zm20 0zm36 1zm6 2zm15-2zm30-2zm22 4zm39 1zm26-3zm16-2zm16 1zm14 2zm31 0zm27-1zm4 1zm2-2zm25-1zm21 4zm15 1zm-26 4zm-11 1zm-4 1zm-54-2zm-31-3zm-23 1zm-2 4zm-6-3zm-74 1zm-1 2zm-11-3zm-14-1zm-7 1zm-18 3zm-24 0zm-2-1zm-27 0zm31 4zm74 0zm6 0zm11-2zm47 3zm9 1zm35-2zm8-2zm7 5zm2-5zm41 5zm5-5zm21 5zm5-1zm32-3zm13 4zm10 0zm-77 2zm-24 3zm-32 0zm-35-4zm-10 0zm-18 0zm-17 3zm-56-1zm-6-1zm-47 1zm-18 2zm-13 1zm-7-5zm6 6zm1 4zm35-2zm149-1zm33 2zm4 1zm9-2zm7-1zm11-1zm41 0zm19 0zm15 0zm27 5zm0-2zm-17 8zm-34-5zm-66 0zm-21 4zm-1-4zm-30 1zm-64 1zm-26 3zm-16-5zm-26 2zm-6 2zm-13 0zm-10-2zm-2 0zm-13 2zm0 2zm5 1zm14 2zm7-1zm12-1zm125 3zm62 0zm6-2zm5-2zm14 0zm14 0zm22 5zm5-4zm6 2zm10-1zm10 9zm-1-2zm-57 2zm-2 0zm-12-5zm-6 0zm-25 0zm-15 4zm-55-2zm-57-2zm-29 4zm-18-4zm-21 1zm-5-1zm-1 0zm-12 10zm12 1zm41-2zm56-3zm15 1zm22 3zm0-1zm4 1zm6-3zm21 0zm24 3zm43 1zm7-1zm21-3zm5 4zm66-5zm2 5zm-4 2zm-6 4zm-14-2zm-45 0zm-7 1zm-19-2zm0-1zm-14 2zm-5-2zm-23 2zm-5-3zm-12 0zm-12 5zm-11-3zm-22 0zm-6 2zm-43 0zm-5-4zm-6 4zm-4 0zm-1-4zm-3 0zm-1 5zm-10-3zm-1-2zm-10 1zm-7 3zm-40-4zm-1 3zm-6 1zm3 2zm52 2zm20 3zm4-3zm3 3zm11-5zm19 3zm13 2zm63-2zm2-2zm9 3zm16 0zm0-3zm10 3zm34-1zm14 1zm2 0zm64 2zm-10 4zm-33 0zm-2-2zm-12 2zm0-2zm-11 0zm-18 3zm-19-2zm-25-1zm-13 3zm-12-1zm-28-2zm-20-2zm-40 0zm-1 4zm-37 3zm56 0zm1 4zm41-1zm15-3zm44 3zm17-2zm15-2zm11 3zm63-1zm10-1zm25-1zm11 0zm4 4zm-14 7zm-15 0zm-57-2zm-37-1zm-18 3zm-11-3zm-19 3zm-63-5zm-18 4zm-22-2zm-3 3zm-22-4zm19 6zm13 3zm34-4zm10 5zm29-5zm28 5zm0-2zm53-3zm1 4zm25-2zm46 3zm15 0zm3-2zm0 1zm8 0zm2 1zm18-1zm-4 2zm-28 3zm-16 2zm-27-5zm-26 3zm-1-3zm-58 2zm-6 0zm-12 0zm-3-2zm-29 3zm-12-2zm-3 3zm-23 1zm24 5zm37 0zm11 0zm64 0zm58 1zm1-2zm18 8zm-46 0zm-3-5zm-1 1zm-27-1zm-2 4zm-3 1zm-11-1zm-4 1zm-3-4zm-12 3zm-7-4zm-3 3zm-5 2zm-93-5zm-16 2zm29 9zm17-1zm7 1zm70-3zm24 1zm18 0zm4-2zm13 1zm1-1zm11 0zm5-1zm4 2zm43 0zm6 2zm-6 3zm-11 0zm-71 1zm-34 0zm-8 3zm-12-4zm0 0zm-10 4zm-35-1zm-34-4zm19 11zm33-5zm13 4zm42-3zm6 2zm10 2zm25 0zm8-3zm26-2zm8 4zm10-2zm-30 4zm-14 4zm-9 1zm-34-3zm-14 2zm-13 1zm-6-5zm-38 1zm-26 1zm18 5zm1-1zm21 2zm15 1zm17 0zm2-2zm9 0zm13 0zm41-1zm-102 12z" stroke="#dc1c1c" stroke-width="2.6"/>
<filter id="blCR" x="-50%" y="-50%" width="200%" height="200%"><feGaussianBlur stdDeviation="2.5"/></filter><pattern id="spCR" width="61" height="53" patternUnits="userSpaceOnUse"><path d="M6.2 30.8zM24.5 47.6zM37.3 27.6zM56.4 15.6zM51.1 22.5zM40.9 50.4zM48.6 31.8zM48.5 2.2zM26.3 44.8zM45.4 24.0zM14.5 18.7zM26.4 6.9zM56.3 34.0zM32.3 10.3zM20.0 22.0zM9.6 18.1zM22.6 38.6zM54.5 1.5zM9.1 44.6zM1.6 14.2zM34.2 28.2zM13.8 39.4zM43.0 1.3zM43.0 20.2zM30.1 30.4zM39.4 41.9zM11.7 10.7zM13.1 10.3zM47.6 44.8zM22.4 36.1zM47.7 44.9zM46.4 30.7zM48.1 17.6zM36.1 14.8zM24.9 20.3zM30.3 1.1zM26.8 26.4zM54.6 37.2zM9.9 21.0zM45.6 5.3zM52.0 3.4zM40.8 29.8zM57.5 19.8zM19.2 10.2zM17.4 17.2zM35.2 15.2zM11.6 45.2zM5.0 49.8zM16.2 40.0zM44.3 49.7zM46.5 1.5zM45.8 50.4zM47.5 27.5zM3.8 2.1zM15.5 37.8zM10.2 29.6zM45.3 29.9zM44.0 41.8zM43.7 1.3zM40.0 30.3zM49.4 14.2zM9.4 3.6zM27.6 9.3zM46.5 30.7zM23.2 18.3zM6.3 7.7zM53.5 9.7zM32.6 30.2zM45.3 9.4zM24.3 7.9zM7.8 20.1zM32.3 17.4zM24.0 29.5zM2.7 44.5zM2.1 21.5zM43.2 1.4zM9.7 2.1zM9.1 30.7zM44.9 50.3zM32.3 45.9zM25.6 27.9zM57.5 2.4zM54.7 16.3zM27.0 48.8zM26.8 48.0zM40.6 8.5zM58.6 2.5zM41.7 17.3zM57.8 13.4zM11.8 13.9zM43.0 21.3zM36.9 47.5zM43.1 43.1zM17.1 5.3zM31.1 10.1zM45.8 29.0zM36.2 11.9zM24.5 43.3zM38.6 17.8zM33.5 27.5zM51.1 33.6zM7.1 5.6zM14.0 43.0zM23.3 1.2zM39.0 23.7zM14.6 4.7zM42.7 28.0zM55.8 11.4zM22.4 43.4zM43.9 12.5zM15.7 37.7zM25.6 1.0zM28.3 48.2zM30.4 21.4zM23.2 5.1zM52.4 8.1zM25.9 24.8zM17.1 3.4zM3.8 46.0zM56.4 28.7zM59.0 45.3zM41.4 11.0zM14.2 2.7zM44.3 2.0zM55.4 34.9zM51.4 24.4zM51.4 23.9zM19.6 46.1zM2.9 41.2zM33.5 45.9zM52.2 5.2zM23.8 25.5zM36.5 5.6zM52.1 4.1zM2.7 47.1zM32.1 46.8zM21.4 51.0zM56.3 7.5zM20.4 4.8zM33.7 5.7zM45.1 13.8zM54.0 22.3zM16.7 12.1zM52.4 23.2zM44.8 22.1zM45.9 8.8zM43.6 7.3zM59.5 6.2zM39.0 3.8zM3.3 43.8zM58.0 2.6zM21.0 19.6zM4.2 21.6zM22.8 21.6zM42.3 22.7zM3.2 34.0zM13.7 24.9zM41.5 2.6zM56.6 49.9zM29.7 7.4zM27.7 40.6zM42.2 46.8zM46.4 41.1zM43.4 16.9zM14.8 42.4zM35.5 17.8zM51.9 3.2zM52.8 8.9zM33.1 29.1zM38.1 1.7zM38.2 4.7zM10.0 15.9zM55.6 10.7zM44.0 44.6zM50.9 31.1zM30.0 20.4zM20.3 28.7zM54.0 39.1zM5.3 40.7zM1.8 44.6zM8.7 2.9zM40.1 9.4zM32.2 21.7zM6.5 8.7zM48.6 48.4zM57.8 50.2zM55.7 3.5zM25.0 51.5zM52.1 48.8zM20.5 7.1zM10.6 15.3zM6.6 25.4zM14.6 20.6zM22.3 50.9zM57.4 38.8zM40.6 11.4zM50.5 30.2zM10.2 44.9zM36.0 21.1zM11.9 37.3zM7.5 8.1zM52.5 10.2zM43.5 23.5zM28.4 30.5zM39.8 8.2zM51.8 4.3zM46.1 31.9zM20.2 49.3zM42.9 18.5zM54.1 42.7zM5.8 7.4zM29.8 33.1zM45.4 51.6zM53.7 18.5zM37.4 26.7zM38.5 10.1zM20.6 28.9zM53.9 50.1zM57.4 32.3zM6.7 51.8zM37.3 25.8zM35.0 24.8zM43.5 50.6zM35.8 30.2zM49.1 9.9zM31.8 11.9zM15.6 51.9zM23.9 28.9zM19.3 23.1zM47.3 24.7zM30.0 41.5zM32.6 51.9zM35.5 24.4zM18.7 33.7zM55.6 3.8zM45.1 10.3zM24.4 4.7zM41.9 38.6zM23.8 17.4zM32.7 21.8zM23.9 13.9zM43.1 50.1zM14.5 35.8zM25.8 20.7zM54.0 43.7zM52.4 9.2zM26.2 19.7zM28.6 32.0zM11.1 25.2zM28.5 6.6zM4.2 35.2zM11.3 25.1zM44.5 17.2zM33.0 51.3zM32.1 5.5zM49.4 11.5zM35.2 6.5zM23.0 25.9zM18.5 30.4zM9.9 21.3zM33.5 30.5zM40.4 24.2zM50.1 42.7zM28.8 17.6zM28.7 18.2zM34.2 50.3zM20.2 44.4zM44.5 9.0zM21.0 42.0zM31.8 37.7zM10.7 49.7zM5.2 1.0zM38.6 45.4zM22.6 39.7zM31.1 10.2zM7.4 34.6zM38.7 8.7zM33.7 1.3zM35.8 30.0zM38.2 44.4zM3.6 15.9zM52.6 23.3zM22.9 23.8zM8.1 25.3zM58.6 35.2zM41.3 1.2zM35.8 24.0zM12.8 33.7zM21.4 27.4zM50.1 7.8zM16.8 15.5zM18.6 37.1zM4.2 14.6zM5.7 28.7zM23.0 3.9zM5.4 20.1zM59.9 4.0zM25.7 32.9zM39.7 24.3zM13.7 18.1zM24.3 23.1zM43.2 1.6zM42.1 10.7zM42.0 40.2zM4.0 46.6zM51.9 4.2zM37.7 51.6zM58.3 17.5zM13.3 5.6zM59.0 47.7zM11.9 30.0zM25.7 48.2zM14.5 49.8zM11.5 10.3zM8.8 35.5zM3.6 21.3zM17.4 29.4zM16.3 36.8zM42.4 7.8zM31.6 44.1zM23.2 31.7zM31.6 1.3zM19.0 9.3zM46.4 24.6zM44.7 40.2zM23.1 14.1zM33.0 27.5zM50.6 48.2zM50.1 12.0zM12.7 23.3zM17.1 48.6zM29.8 1.1zM16.4 13.4zM20.4 30.1zM10.4 47.1zM54.0 5.8zM37.2 7.4zM29.9 9.1zM16.2 50.0zM27.1 18.8zM11.2 23.6zM37.1 37.0zM45.5 27.2zM1.6 14.4zM9.9 46.6zM8.2 4.4zM15.6 32.8zM6.9 26.9zM32.9 10.2zM40.9 46.7zM49.7 22.2zM55.3 35.0zM46.8 17.7zM23.2 48.9zM39.2 15.6zM13.9 28.6zM1.8 11.1zM25.5 19.2zM9.7 20.4zM19.6 12.7zM27.5 45.3zM24.6 41.1zM8.5 47.7zM33.9 19.7zM18.9 21.5zM14.9 5.9zM1.0 36.8zM49.3 15.5zM1.2 43.2zM59.6 28.5zM16.0 40.1zM21.6 14.4zM34.7 42.3zM19.5 14.7zM27.3 27.9zM57.9 18.6zM29.0 45.8zM52.5 7.8zM33.3 15.7zM3.2 4.6zM37.6 3.0zM4.8 32.9zM16.9 23.9zM35.7 20.8zM1.8 41.2zM4.8 30.8zM27.2 37.9zM20.3 37.1zM30.2 18.7zM16.9 18.2zM2.1 30.7zM49.3 24.1zM45.4 50.6zM8.5 48.3zM42.7 12.4zM57.3 32.9zM53.4 11.0zM22.9 37.6zM6.0 20.7zM47.5 47.2zM6.6 1.6zM1.9 10.3zM47.2 7.2zM48.1 24.9zM14.1 43.9zM57.0 46.5zM10.3 8.2zM26.0 45.5zM13.4 44.4zM23.1 35.1zM6.6 32.7zM27.7 10.7zM36.7 8.2zM11.0 15.0zM48.1 36.5zM5.8 2.1zM30.1 24.9zM15.7 44.8zM1.3 35.9zM23.1 39.4zM6.4 46.5zM36.1 2.2zM21.1 46.3zM3.2 31.2zM38.6 43.8zM9.0 19.6zM25.4 37.4zM42.5 29.5zM34.2 35.5zM12.8 11.7zM42.3 7.0zM23.6 12.2zM57.5 22.9zM58.1 13.3zM29.6 17.9zM25.9 20.1zM35.2 29.0zM46.7 1.3zM7.9 48.5zM24.3 10.2zM41.5 20.1zM21.0 25.8zM56.9 16.0zM47.4 20.6zM45.6 14.2zM18.1 24.8zM21.8 50.1zM43.1 4.1zM6.9 52.0zM9.1 10.3zM22.0 19.4zM10.9 32.2zM20.8 38.2zM2.7 15.5zM6.5 25.3zM42.1 40.3zM45.3 46.6zM27.2 48.1zM41.9 38.3zM24.2 11.7zM11.4 2.1zM47.9 21.3zM10.6 43.6zM39.8 5.5zM25.6 5.2zM25.7 33.3zM4.7 12.7zM28.7 48.6zM56.8 31.3zM51.8 8.6zM25.8 38.6zM17.1 16.5zM21.1 49.7zM25.4 34.2zM30.4 32.4zM34.4 3.8zM56.2 24.1zM50.8 24.9zM3.8 50.2zM56.7 32.0zM19.2 46.1zM16.2 50.8zM18.5 51.7zM2.5 47.0zM56.9 10.4zM12.0 46.5zM52.9 37.8zM22.8 43.0zM44.5 8.2zM45.1 14.1zM21.8 6.9zM25.4 37.9zM21.1 48.4zM22.6 7.7zM54.9 17.8zM10.7 37.6zM39.7 41.6zM27.0 32.4zM58.3 35.4zM47.5 40.4zM57.5 18.9zM5.3 20.7zM47.4 2.1zM42.6 44.6zM26.7 47.1zM7.4 48.4zM2.5 26.3zM8.5 22.7zM23.0 47.8zM19.8 33.8zM28.9 40.4zM28.8 12.7zM19.1 42.9zM32.2 7.3zM36.9 19.0zM33.2 16.1zM46.2 40.5zM11.1 13.2zM9.3 33.3zM25.9 33.5zM44.5 23.1zM13.8 38.2zM59.4 50.3zM1.9 20.0zM28.1 6.5zM31.8 37.6zM36.6 41.7zM35.8 23.7zM19.3 25.5zM52.6 44.2zM59.8 48.6zM9.6 16.8zM55.4 25.8zM3.6 46.8zM59.4 34.0zM41.0 31.6zM16.0 24.1zM19.5 24.4zM24.4 42.5zM59.7 10.3zM48.4 19.5zM48.4 8.4zM57.5 35.6zM27.7 15.3zM13.4 38.2zM22.3 26.0zM48.6 8.3zM58.5 33.1zM41.1 20.5zM43.9 8.3zM45.2 42.0zM5.2 24.8zM55.0 24.3zM9.2 25.5zM4.6 7.0zM19.7 46.7zM15.2 20.7zM27.9 2.8zM20.0 10.6zM46.8 14.8zM8.6 43.8zM18.4 37.1zM4.3 42.5zM24.4 17.1zM59.4 38.0zM27.3 17.7zM42.4 7.5zM56.4 21.0zM48.4 32.8zM9.0 13.6zM4.4 47.8zM12.8 22.1zM26.5 45.2zM10.8 12.3zM46.0 33.6zM57.4 42.8zM34.6 10.3zM7.2 3.3zM22.4 29.0zM24.9 21.3zM21.2 19.8zM38.9 37.0zM27.8 30.2zM39.3 11.5zM4.7 6.4zM8.3 5.1zM8.4 2.9zM34.8 2.1zM47.1 3.9zM16.6 4.4zM27.4 8.1zM34.9 3.7zM11.6 34.7zM39.4 8.2zM47.9 19.9zM20.1 51.4zM44.3 34.0zM52.6 27.5zM8.4 52.0zM53.3 30.1zM52.0 7.9zM2.2 19.2zM3.1 2.4zM38.1 6.6zM11.8 28.4zM52.7 13.4zM20.5 29.7zM8.1 48.9zM30.0 1.5zM38.6 38.8zM55.3 49.8zM40.2 19.6zM58.2 41.1zM32.9 25.0zM36.3 6.5zM47.3 47.7zM26.7 47.3zM42.2 47.5zM38.5 52.0zM39.7 35.4zM21.6 31.6zM10.8 25.2zM17.5 31.6zM29.4 37.3zM18.1 5.3zM51.5 50.0zM28.9 46.2zM32.9 4.2zM1.6 40.1zM51.0 36.8zM23.4 2.1zM16.2 1.0zM31.3 20.2zM40.6 26.2zM25.2 49.6zM20.4 35.4zM48.9 29.0zM9.6 34.5zM48.1 33.4zM3.8 8.1zM56.7 17.8zM45.0 34.7zM25.1 37.7zM32.4 44.7zM43.3 16.6zM46.0 3.5zM53.5 38.5zM7.9 18.4zM8.9 44.7zM50.5 48.6zM47.5 29.1zM42.1 24.3zM31.7 31.4zM49.5 46.7zM28.4 46.1zM26.4 48.5zM6.9 22.2zM23.4 44.2zM22.8 11.1zM13.2 22.6zM54.4 2.9zM28.1 44.8zM7.4 21.7zM35.6 12.0zM45.4 37.3zM38.1 46.3zM46.2 44.0zM39.3 37.7zM19.9 21.1zM14.8 19.4zM19.2 37.0zM18.9 51.3zM8.1 51.6zM9.3 5.4zM3.9 30.4zM33.7 14.1zM22.7 43.8zM24.5 39.1zM15.7 32.1zM1.7 28.7zM58.0 49.0zM51.8 46.4zM23.2 1.5zM58.5 43.4zM44.4 4.9zM9.1 26.8zM11.4 10.1zM55.2 35.8zM38.8 36.4zM11.1 24.6zM55.6 8.7zM1.3 4.3zM12.6 42.5zM28.5 6.8zM20.1 38.8zM51.1 37.1zM31.7 19.8zM47.4 49.7zM21.8 10.2zM42.8 26.0zM23.6 31.9zM52.7 18.7zM43.5 17.2zM9.8 40.3zM36.5 27.6zM34.7 28.5zM36.2 23.5zM7.1 21.8zM46.1 14.0zM30.5 18.2zM38.6 42.7zM54.5 42.0zM44.8 2.3zM4.4 11.5zM26.2 36.8zM35.4 36.3zM43.3 1.7zM16.5 2.6zM44.0 7.9zM49.3 1.5zM39.9 38.2zM7.6 49.8zM19.0 11.4zM28.7 31.0zM21.2 49.9zM45.2 16.7zM28.7 16.9zM38.7 42.7zM34.7 30.2zM47.8 15.9zM42.4 20.9zM20.8 20.2zM41.6 21.1zM18.0 45.9zM27.5 42.6zM28.7 31.5zM52.8 5.9zM6.3 28.6zM54.5 1.1zM13.9 35.5zM1.6 11.7zM12.6 31.0zM55.3 34.4z" stroke="#c4c4c4" stroke-width="1.7" stroke-linecap="round"/></pattern><mask id="mkCR" maskUnits="userSpaceOnUse" x="650.3" y="1028.9" width="521.5" height="388.3"><polygon points="741.9,1396.2 737.5,1364.9 706.1,1338.1 674.8,1311.2 683.8,1297.8 692.7,1248.6 715.1,1217.3 741.9,1190.5 764.3,1159.2 764.3,1136.8 795.6,1114.5 818.0,1078.7 849.3,1074.2 885.0,1060.8 925.3,1047.4 961.1,1060.8 996.9,1056.3 1037.1,1049.6 1041.6,1069.7 1072.9,1087.6 1099.7,1092.1 1117.6,1080.9 1135.5,1080.9 1131.0,1114.5 1135.5,1150.2 1113.1,1168.1 1090.8,1199.4 1068.4,1203.9 1050.5,1230.7 1032.6,1253.1 1005.8,1275.5 961.1,1311.2 934.2,1333.6 898.5,1351.5 862.7,1369.4 813.5,1382.8 809.0,1396.2" fill="#fff" filter="url(#bmCR)"/></mask><filter id="bmCR" x="-20%" y="-20%" width="140%" height="140%"><feGaussianBlur stdDeviation="3"/></filter><rect x="650.3" y="1028.9" width="521.5" height="388.3" fill="url(#spCR)" mask="url(#mkCR)"/><g fill="#fff" filter="url(#blCR)"><ellipse cx="862.7" cy="1253.1" rx="31.3" ry="31.3" fill-opacity="0.6"/><ellipse cx="898.5" cy="1275.5" rx="17.9" ry="13.4" fill-opacity="0.5"/><ellipse cx="818.0" cy="1235.2" rx="13.4" ry="13.4" fill-opacity="0.4"/></g><g fill="#c8c8c8" fill-opacity="0.4" stroke="none" filter="url(#blCR)"><ellipse cx="907.4" cy="1056.3" rx="17.9" ry="5.4"/><ellipse cx="1014.8" cy="1056.3" rx="17.9" ry="5.4"/><ellipse cx="844.8" cy="1080.9" rx="17.9" ry="5.4"/><ellipse cx="898.5" cy="1080.9" rx="17.9" ry="5.4"/><ellipse cx="961.1" cy="1069.7" rx="17.9" ry="6.7"/><ellipse cx="934.2" cy="1087.6" rx="17.9" ry="6.7"/><ellipse cx="987.9" cy="1092.1" rx="17.9" ry="6.7"/><ellipse cx="1041.6" cy="1083.1" rx="17.9" ry="6.7"/><ellipse cx="1113.1" cy="1087.6" rx="15.7" ry="6.7"/><ellipse cx="835.8" cy="1103.3" rx="15.7" ry="5.4"/><ellipse cx="880.6" cy="1114.5" rx="17.9" ry="6.7"/><ellipse cx="920.8" cy="1105.5" rx="17.9" ry="6.7"/><ellipse cx="979.0" cy="1110.0" rx="17.9" ry="6.7"/><ellipse cx="1032.6" cy="1101.0" rx="17.9" ry="6.7"/><ellipse cx="1059.5" cy="1098.8" rx="13.4" ry="5.4"/><ellipse cx="1113.1" cy="1121.2" rx="15.7" ry="6.7"/><ellipse cx="782.2" cy="1143.5" rx="15.7" ry="5.4"/><ellipse cx="826.9" cy="1132.3" rx="17.9" ry="6.7"/><ellipse cx="862.7" cy="1145.8" rx="17.9" ry="6.7"/><ellipse cx="938.7" cy="1130.1" rx="17.9" ry="6.7"/><ellipse cx="996.9" cy="1132.3" rx="17.9" ry="6.7"/><ellipse cx="1068.4" cy="1123.4" rx="15.7" ry="6.7"/><ellipse cx="1122.1" cy="1152.5" rx="15.7" ry="6.7"/><ellipse cx="822.4" cy="1154.7" rx="17.9" ry="6.7"/><ellipse cx="889.5" cy="1168.1" rx="17.9" ry="6.7"/><ellipse cx="956.6" cy="1168.1" rx="17.9" ry="6.7"/><ellipse cx="1005.8" cy="1159.2" rx="17.9" ry="6.7"/><ellipse cx="1059.5" cy="1163.6" rx="17.9" ry="6.7"/><ellipse cx="1095.3" cy="1168.1" rx="15.7" ry="6.7"/><ellipse cx="750.9" cy="1199.4" rx="15.7" ry="6.7"/><ellipse cx="786.6" cy="1203.9" rx="17.9" ry="6.7"/><ellipse cx="844.8" cy="1195.0" rx="17.9" ry="6.7"/><ellipse cx="911.9" cy="1199.4" rx="17.9" ry="6.7"/><ellipse cx="987.9" cy="1190.5" rx="17.9" ry="6.7"/><ellipse cx="1041.6" cy="1190.5" rx="17.9" ry="6.7"/><ellipse cx="1077.4" cy="1195.0" rx="13.4" ry="6.7"/><ellipse cx="728.5" cy="1221.8" rx="15.7" ry="6.7"/><ellipse cx="777.7" cy="1226.3" rx="17.9" ry="6.7"/><ellipse cx="853.7" cy="1230.7" rx="17.9" ry="6.7"/><ellipse cx="916.4" cy="1230.7" rx="17.9" ry="6.7"/><ellipse cx="979.0" cy="1221.8" rx="17.9" ry="6.7"/><ellipse cx="1032.6" cy="1226.3" rx="17.9" ry="6.7"/><ellipse cx="701.7" cy="1248.6" rx="15.7" ry="6.7"/><ellipse cx="759.8" cy="1244.2" rx="17.9" ry="6.7"/><ellipse cx="791.1" cy="1257.6" rx="17.9" ry="6.7"/><ellipse cx="907.4" cy="1239.7" rx="17.9" ry="6.7"/><ellipse cx="961.1" cy="1253.1" rx="17.9" ry="6.7"/><ellipse cx="1005.8" cy="1266.5" rx="17.9" ry="6.7"/><ellipse cx="746.4" cy="1297.8" rx="17.9" ry="6.7"/><ellipse cx="795.6" cy="1293.4" rx="17.9" ry="6.7"/><ellipse cx="853.7" cy="1293.4" rx="17.9" ry="6.7"/><ellipse cx="898.5" cy="1302.3" rx="17.9" ry="6.7"/><ellipse cx="952.1" cy="1293.4" rx="17.9" ry="6.7"/><ellipse cx="688.3" cy="1306.8" rx="13.4" ry="5.4"/><ellipse cx="719.6" cy="1329.1" rx="17.9" ry="6.7"/><ellipse cx="777.7" cy="1333.6" rx="17.9" ry="6.7"/><ellipse cx="835.8" cy="1311.2" rx="17.9" ry="6.7"/><ellipse cx="925.3" cy="1315.7" rx="17.9" ry="6.7"/><ellipse cx="804.5" cy="1351.5" rx="17.9" ry="6.7"/><ellipse cx="858.2" cy="1356.0" rx="17.9" ry="6.7"/><ellipse cx="916.4" cy="1338.1" rx="17.9" ry="6.7"/><ellipse cx="773.2" cy="1382.8" rx="17.9" ry="6.7"/></g>
<path d="M1036 1054zm-4 1zm-1-1zm-1 1zm-2-2zm0 1zm-1 0zm-1-2zm-1 3zm-2-1zm0 0zm-2 0zm0 1zm0 0zm-1 0zm-1-3zm0 1zm-2 2zm-1 0zm0 0zm0-4zm0 3zm0 1zm0-2zm-1 2zm0-3zm0 1zm-1 1zm-1-4zm-1 4zm-1 0zm-1-1zm-1 1zm-1 1zm0-3zm0 3zm0-3zm-2 3zm0 0zm-2 0zm0-1zm-1 0zm-3 1zm0 0zm-7 0zm-69-1zm-1 0zm-1 1zm0-2zm-1 2zm-1 0zm-1 0zm0-1zm0 0zm-1 0zm-1 0zm0 1zm0-1zm-1-1zm0 2zm-1-2zm0 2zm-1-2zm0 0zm-1 2zm0-3zm-1 3zm0 0zm-1-4zm0 4zm0-1zm-2 1zm0 0zm0-1zm0 0zm-1-1zm-1 2zm0 0zm-1 0zm-1-2zm-1 2zm0 0zm0 0zm-1-3zm0 3zm-1-1zm0-1zm0 1zm0 0zm-1 0zm0-3zm0 4zm-1-4zm-1-1zm0 0zm-2 5zm-1-2zm-1 2zm-2 0zm-2 0zm-1 0zm0-1zm-1-2zm0 0zm-1 3zm-4 1zm5 4zm0 0zm1-3zm1 3zm1-1zm0-2zm2 0zm0 0zm1 2zm0-3zm0 4zm0 1zm1-5zm1 5zm0-2zm0 1zm1-1zm0 1zm1-4zm0 1zm0 1zm1-1zm1 4zm0-2zm0-2zm0-1zm0 0zm1 0zm0 2zm0 1zm0-1zm0 1zm0-3zm1 3zm0-2zm1 3zm0-3zm0 0zm0-1zm1 2zm0-2zm0 0zm0 2zm0 0zm1 0zm0 0zm0 0zm0-2zm1 2zm0 0zm0-1zm0-1zm0 1zm1 0zm0-1zm0 4zm1-2zm0 1zm0-3zm0 1zm2 3zm0-4zm1 3zm0-1zm1-2zm0 1zm1-1zm0 3zm1 1zm0 1zm0-2zm1-3zm1 1zm0-1zm1 2zm1 3zm0-4zm0 0zm3 1zm2-2zm4 3zm1-1zm66-2zm0 0zm3 2zm0 1zm0-1zm2 0zm0 0zm0 0zm0 1zm0-3zm0 4zm1-1zm1 1zm1-3zm1 0zm1 2zm0-2zm0 3zm1-2zm1 3zm0-5zm0 2zm1 1zm0-3zm0 3zm0-1zm1-2zm0 1zm0-1zm0 1zm0-1zm0 5zm0-3zm1 2zm0-3zm0 1zm1 2zm0-1zm0-3zm0 1zm0 3zm0-2zm0-1zm0 0zm0 4zm1-4zm0 3zm0-3zm0 0zm0 4zm0-5zm0 2zm1-1zm0-1zm0 2zm1 2zm0 1zm0-4zm1 1zm0-1zm0 1zm0-2zm1 2zm0 1zm0 2zm0-3zm0 0zm0 2zm0-1zm1-2zm0 0zm1 0zm1 0zm0 3zm1-3zm0-1zm0 1zm1 1zm0-1zm1 1zm0-2zm2 2zm1 0zm1-1zm1 1zm0 2zm1 1zm1-3zm0-1zm1-1zm1 3zm1-1zm1-2zm3 1zm-8 5zm-5 0zm-6 0zm-9 0zm-1 0zm-31 2zm0 2zm0 1zm-1 0zm-2 0zm0-1zm-1-1zm-1 2zm0-3zm0 3zm-1 0zm0 0zm0-3zm-1 0zm0 3zm-2-4zm-1 2zm0 1zm-1 0zm0 0zm-1 1zm-1-5zm-1 4zm0-1zm-1-3zm0 5zm0-1zm0-4zm-1 5zm0-4zm-1 3zm-2 1zm-1-1zm0 1zm0-2zm-1 1zm0-1zm-1 0zm0-3zm0 4zm-1-3zm0 0zm0 3zm-1-1zm0 0zm-1 0zm-1 2zm-1-4zm0 1zm-2 2zm0 0zm-2 1zm-2 0zm-37-5zm35 6zm0 1zm1 1zm1 1zm1-2zm4 3zm0 0zm1-1zm1-1zm0 2zm0-1zm1 0zm0-1zm0 0zm1-1zm1 3zm0-2zm0 0zm0 3zm1-5zm0 1zm0 3zm0 0zm1-4zm0 1zm1-1zm1 1zm0 1zm0 1zm0-1zm1-2zm0 2zm0 0zm0 1zm1 0zm0 1zm0-3zm0 1zm1-1zm0 1zm0 1zm1-2zm0 1zm0-1zm0 0zm0 4zm1-2zm0 0zm0-2zm0 0zm0 0zm1 3zm0-4zm1 3zm0 1zm0-4zm0 0zm0 1zm0 0zm0 2zm1 0zm0 0zm0 2zm0-3zm1 1zm0-3zm0 1zm0-1zm0 1zm1 4zm0 0zm0 0zm0-4zm1 2zm0 2zm0-4zm0-1zm0 4zm0-4zm1 0zm0 1zm1 0zm0 1zm0 0zm1 0zm0-1zm1-1zm0 2zm0-2zm0 3zm1 1zm0-1zm1 2zm0-4zm0 2zm0 0zm1 0zm0-1zm1-1zm1 0zm0 0zm0 2zm1-2zm1 1zm0 2zm1 1zm1-5zm130 11zm-54 0zm-2-3zm-5 0zm-3 3zm-1 0zm-2 0zm-2 0zm0 0zm-3-1zm0 0zm-1 0zm-1 1zm-1 0zm0 0zm0-1zm-1 0zm-1 1zm-2 0zm-2 0zm-5-1zm-2 0zm-50-4zm-2 1zm0 2zm-2-3zm0 0zm-1 0zm-2 1zm-2 1zm0-1zm0-1zm-1 0zm-1 1zm-2-1zm-1 0zm-1 2zm0-2zm-1 1zm-3 2zm-2-3zm-2 3zm-37 2zm-1 0zm-2-2zm-1 1zm0 1zm-1-4zm0 3zm-1 1zm0-1zm-2 1zm-1 0zm-1-1zm0 0zm-1 0zm-1-1zm-1 2zm-2-1zm-1-3zm0 2zm-2-1zm0 3zm0-2zm0 1zm-1-1zm-1-1zm-2 3zm0-1zm-1 0zm0 0zm0-2zm0 3zm-1-3zm0 2zm-1 0zm-1-2zm0 3zm-1-4zm-2 3zm0-2zm-3 3zm-1 0zm0 0zm-20 0zm-1-1zm0-3zm-1 4zm-1-3zm0 2zm-1 0zm-1-2zm-1 3zm0 0zm0-2zm-1 2zm0 0zm-1-5zm0 3zm-1-2zm0 3zm0 1zm-1-1zm0-1zm-1-1zm0 0zm-1 3zm-1-1zm0 0zm0 1zm-1 0zm0-1zm-2 1zm-2-1zm0 0zm0-2zm-2 0zm0 3zm0-1zm0 0zm-2-3zm0 4zm0-2zm-1 1zm0 1zm-1 0zm-1-1zm0 0zm-1 1zm0-2zm0-2zm0 4zm-2-2zm-5 2zm-3 1zm1 1zm3 0zm0 0zm1-1zm0 1zm1 1zm1 0zm1-1zm1 2zm0-2zm0 0zm1 1zm1 2zm1-3zm1 1zm0-1zm1 2zm0 2zm0-4zm0 0zm0 2zm0 2zm1-3zm0 0zm0-1zm1 0zm0 3zm1-3zm0 1zm0-2zm0 2zm1 0zm0-1zm0 3zm1 0zm1-3zm1 1zm0 0zm0-1zm0 3zm0 0zm0-4zm1 0zm0 0zm1 0zm0 0zm0 4zm1-4zm0 1zm0 3zm0 0zm1-3zm0 4zm1-4zm0-1zm0 4zm1 1zm0-4zm0 0zm0 1zm0 2zm0-2zm1 1zm0-2zm0 0zm1 0zm0 0zm0 2zm1 0zm0 0zm0 2zm1-2zm0-3zm1 4zm0-1zm1-2zm1 2zm0-1zm0 1zm0 2zm0 0zm1-1zm1-4zm0 1zm0 0zm1 1zm0-2zm1 5zm1-5zm13 1zm3 3zm1-2zm1 2zm1 0zm1-4zm1 3zm0 0zm0-2zm0 0zm1 4zm1-4zm1 3zm1-2zm0 2zm1 0zm0-2zm0-1zm0 2zm0-1zm0-1zm0-1zm1 3zm0-1zm1 0zm0-1zm1-1zm1 0zm0 0zm0 2zm0 1zm1 2zm0-5zm1 0zm0 0zm0 2zm0 1zm0 0zm0 0zm1-2zm0 0zm1 2zm0-3zm0 2zm0 1zm0-1zm0-2zm1 1zm0 1zm0 1zm0-2zm1 0zm0 0zm0 3zm0-3zm1-1zm0 2zm0-1zm0 1zm0-1zm1 0zm0 0zm0 2zm0 0zm1 0zm0-2zm0-1zm0 1zm1-1zm0 0zm0 3zm0-3zm1 5zm0-4zm1-1zm0 3zm1-1zm0-1zm1 1zm1 3zm1-4zm0 3zm0 1zm0-5zm1 0zm0 4zm1-2zm0 1zm0-2zm1 1zm0-1zm0 3zm2-3zm0-1zm1 1zm0-1zm1 1zm0 1zm0 2zm1 0zm2-2zm0 3zm2 0zm0 0zm0 0zm0-2zm1 0zm1-1zm1 3zm1 0zm1-4zm1 1zm0 2zm0 1zm1-2zm0 1zm1 1zm1-2zm1 2zm0 0zm0-1zm0 0zm0 0zm1 0zm0-1zm1-2zm0 3zm1-1zm0 1zm1 1zm0-2zm1 2zm0-1zm1-4zm0 5zm0 0zm1-1zm1-3zm0 4zm0-3zm1 0zm0 3zm1-4zm1 1zm2 1zm1 2zm1-2zm1 0zm0 0zm2 2zm39-1zm10 1zm22-2zm0 1zm1-4zm1 0zm0 2zm0 1zm0 1zm2-1zm3 2zm1-1zm0-4zm1 5zm0-2zm1-3zm0 1zm0 3zm0 0zm0-1zm1 1zm0-4zm0 3zm1 1zm0 1zm1-2zm0 2zm0-3zm0 2zm1-4zm0 4zm0-4zm0 1zm1 0zm0 0zm0 1zm2 1zm0-1zm0-1zm0 1zm0 3zm1-1zm0 1zm0-4zm0 2zm0 1zm0-2zm1-2zm0 1zm0 3zm0-2zm0 1zm1 1zm0-3zm0 2zm0 1zm1-1zm0 0zm0-1zm0 2zm0-2zm1 0zm0-1zm0-1zm0 4zm0-2zm0-2zm1 0zm0 1zm0 1zm0 3zm1-4zm0 4zm0 0zm1-3zm0-1zm0-1zm0 0zm1 0zm0 3zm0 1zm0 0zm0 1zm0-4zm1 4zm0-4zm0 0zm0 1zm0-1zm1 2zm0-1zm0-2zm0 3zm2 2zm1-2zm0-3zm0 5zm0-3zm0 2zm1-4zm0 2zm1 3zm0-4zm1 3zm1 0zm0-1zm0 0zm2 0zm0-1zm2 3zm1-5zm0 5zm0-3zm1 1zm0 2zm4-1zm35 0zm0 0zm1-3zm2 3zm1 0zm0-2zm0 2zm1 1zm0-4zm0 1zm1 0zm1 3zm1-5zm1 1zm0 4zm0 0zm0-1zm2-4zm1 2zm0 1zm1 1zm0 1zm0-1zm2 0zm0 0zm0 1zm1-3zm0 3zm0 0zm1 0zm0-2zm0-2zm1 4zm0-1zm1-1zm0-1zm1 1zm1-3zm0 0zm3 4zm1 0zm0-1zm2 2zm2-2zm2 1zm1 1zm-1 3zm-1-2zm-1 1zm-1 3zm-1-1zm-1 0zm0-2zm-2 2zm-1-2zm0 1zm0-2zm0 1zm0 4zm0-5zm0 5zm0-2zm-1-3zm0 4zm0-1zm0-3zm-1 1zm0 2zm-2 1zm0-2zm0 0zm0 0zm0-2zm-1 5zm0-1zm0-2zm-1 1zm0 0zm-1-2zm0 3zm0 1zm0-1zm-1-1zm0-1zm0 0zm0-2zm-1 1zm0 4zm-1-1zm0-3zm0-1zm0 2zm-1-1zm0 4zm0-1zm0-3zm-1 4zm0-3zm0 0zm0-2zm0 2zm-1 3zm0 0zm0-4zm0 3zm0-1zm-1 2zm0-1zm0-4zm0 5zm0-5zm-1 1zm0 2zm0 1zm-1-2zm0-2zm-1 3zm0-3zm0 3zm0-2zm0 0zm0 0zm-1 3zm0-4zm0 3zm-1 2zm0-4zm-1 1zm0 3zm-3-5zm-1 3zm0-3zm-2 4zm0-2zm-37 0zm-7-2zm-1 0zm0 2zm-1-2zm0 4zm-1-2zm-1 0zm0 0zm-1 1zm0-2zm0 2zm-1-2zm-1-1zm0 3zm-1 1zm0-3zm0 0zm0-1zm-1 1zm0 3zm0-3zm-1 2zm-2-2zm-1 3zm0-4zm0 1zm-2-1zm0 4zm0-4zm-1 2zm0 2zm0-2zm0-2zm0 3zm-2 2zm-2-1zm-1-4zm0 1zm0 3zm-1-2zm-2 3zm0-4zm-2-1zm-1 2zm-18 2zm-1-2zm-1 0zm0-1zm0 0zm-1 1zm-2 1zm-1-3zm-1 3zm-1 2zm-2-3zm0 3zm-1-3zm0 0zm0 2zm-1-1zm0-1zm0 2zm0 0zm0-3zm0 1zm0-1zm-1 1zm-1 2zm0-3zm0 4zm0 0zm0-1zm-1 1zm0-2zm0 1zm0-3zm0-1zm-1 2zm0 3zm0-5zm-1 5zm0 0zm-1 0zm-1-4zm-1 4zm0 0zm0-2zm-1-1zm0 3zm-1 0zm0-3zm0 2zm-1-3zm0 0zm0 4zm-1-2zm-1-1zm0 2zm0 1zm0-2zm-1 0zm0 0zm-2 2zm-1-5zm0 3zm0 2zm-1 0zm0 0zm0 0zm-1-4zm-1 2zm0 2zm0 0zm-3-2zm-1 0zm0 0zm-2 0zm-16-3zm0 3zm-2-1zm-1-1zm0 2zm0-1zm-3 2zm-1 1zm-1-2zm0-2zm-2 1zm-1 1zm0 0zm-1 1zm0-1zm0 2zm-1-3zm-1 0zm0 3zm0-3zm-1-2zm0 4zm0-1zm0 1zm-1-2zm0 2zm0-2zm0-2zm0 0zm0 2zm-1 0zm0-1zm0 4zm0-1zm0-2zm0 2zm-1-2zm0-2zm0 4zm0-2zm0 2zm0 0zm-1 0zm0 0zm0-4zm0 0zm0 1zm-1 1zm0-1zm0 2zm0-3zm-2 5zm0-5zm0 5zm0-1zm0-2zm0-2zm0 4zm0 1zm0-3zm-1-1zm0 1zm0 0zm0 1zm0 1zm0-1zm-1-3zm0 2zm0 0zm0-2zm0 4zm0-4zm0 0zm0 2zm0 2zm-2-2zm0-1zm-1-1zm0 2zm0 1zm0 2zm-1-2zm-2 0zm-1-2zm-1-1zm0 5zm0-5zm-1 3zm-1 1zm0 1zm-1 0zm0-4zm-1 0zm-1 4zm0-4zm-4 1zm-18-2zm-4 0zm-7 0zm-30 1zm-9-1zm-2 0zm-3 1zm-5 10zm82-5zm2 0zm2 0zm0 0zm1 1zm0 1zm0 3zm3-4zm0 2zm0-3zm2 0zm2 3zm1-3zm1 1zm0 0zm1 0zm1-1zm1 3zm0-2zm0 1zm0 0zm4-2zm0 0zm1 3zm0-1zm1-1zm1 3zm0-3zm0-1zm0 4zm1-1zm4-2zm1 0zm1-1zm20 5zm0-5zm2 4zm1-4zm1 3zm1-1zm1 2zm0-3zm1 4zm0-5zm0 2zm1-1zm0-1zm1 4zm1-3zm1 2zm1 0zm0-3zm0 2zm0 0zm0-1zm0 0zm0 3zm0-3zm1 3zm0-1zm1 1zm0-4zm0 1zm1-1zm0 0zm0 0zm0 0zm1 2zm0 1zm0-3zm0 0zm0 3zm0 2zm0-4zm0-1zm0 0zm1 1zm0 0zm0-1zm0 4zm0-4zm1 3zm0 0zm0-2zm0 1zm0-2zm0 1zm1 2zm0 1zm1-1zm0 2zm0-3zm0-1zm0 0zm0 4zm0-2zm1-3zm0 2zm1 0zm0 0zm1-2zm0 1zm0 3zm1 0zm0-2zm0-1zm0 0zm1 2zm1-1zm0 0zm1-1zm0-1zm0 2zm1 1zm0-3zm0 0zm0 2zm1-2zm0 1zm1 2zm2 0zm0-2zm0 1zm0 1zm0-1zm3 1zm4-1zm6 3zm6 0zm0-2zm1 2zm0-1zm1 1zm2-3zm2 2zm1-1zm1 2zm1 0zm2-2zm2 0zm1 1zm2-1zm1 2zm0-3zm0 2zm0-2zm2 3zm0 0zm1-1zm1 0zm0 0zm2-2zm1 3zm1 0zm0 0zm3-2zm2 2zm1-2zm1 0zm0-1zm1 3zm0-5zm1 5zm0-2zm0-2zm1 4zm0-3zm1 2zm0-2zm0-1zm0 4zm1-1zm0-4zm0 5zm0-1zm1 0zm0 0zm0-2zm1 3zm0-1zm1 0zm1 0zm0-1zm0 1zm0-1zm0 1zm0 0zm2-1zm0 1zm0-3zm0 0zm1 3zm0-1zm0 0zm3 0zm0 2zm1 0zm0-1zm1-1zm0-2zm0 0zm2 3zm0 1zm31-5zm1 1zm2 1zm3-2zm0 0zm0 3zm1 0zm0-1zm0-1zm1 2zm0-2zm2-1zm1 0zm1 0zm2 1zm1-1zm1 0zm0 0zm1 0zm8 2zm3-1zm2-1zm-57 10zm-3-1zm0 1zm-1-2zm0 1zm0-1zm-1 0zm-1 2zm-1-2zm0 0zm0 3zm0 0zm-1-3zm0 1zm-2-1zm0-2zm0 4zm-1 0zm0-1zm0 2zm-1-1zm0-3zm-1 2zm0 0zm-1 0zm0-1zm0 1zm0 2zm-1-5zm0 0zm0 0zm0 2zm-1-2zm0 5zm-1-5zm0 4zm0 0zm-1 1zm0-5zm0 4zm-1-3zm0 0zm0-1zm-1 4zm0 0zm0-4zm0 3zm-1 2zm-1-3zm0-1zm0 1zm-1 0zm-1-2zm0 2zm0 1zm-1 0zm0-3zm-1 1zm0 0zm0 1zm-1 0zm0-2zm-1 0zm-1 2zm0 1zm0 2zm0-2zm-1-2zm0-1zm-1 0zm0 0zm-1 4zm0-2zm-1 3zm-1-4zm0 2zm0 1zm0-3zm-1-1zm0 1zm0 2zm0-3zm0 2zm0 1zm-1-3zm0 0zm0 5zm0-3zm0 0zm-1 1zm0 0zm0-1zm0 0zm-1 0zm0-1zm0 2zm0 2zm0-4zm-1 1zm0 1zm0 1zm-1-2zm0 1zm0 0zm0 0zm-1-3zm0 5zm0-1zm-1 1zm0-5zm0 1zm0 4zm0-1zm0-2zm0 2zm0 0zm-1-3zm0 4zm0 0zm-1-2zm0 0zm0-1zm-1 0zm0-2zm0 2zm0 1zm-1-1zm0 2zm0-1zm-1 2zm0 0zm0 0zm0-3zm0 3zm0 0zm-2-3zm0-1zm0 3zm0-2zm-1 3zm0-5zm-1 3zm0-2zm0 0zm0 4zm-1-2zm-1 0zm0 2zm-1-4zm0 3zm0 0zm-1 1zm0-1zm0-1zm-1 0zm0-3zm-2 5zm-1-5zm0 5zm-1-4zm-3 3zm-18-3zm-1-1zm-2 1zm-1 4zm-2-4zm0 3zm-2-4zm0 1zm-2 0zm0 3zm-2-4zm-1 3zm0 2zm0 0zm-1-3zm0 3zm-4-4zm-2-1zm-2 0zm-2 5zm-29 0zm-1 0zm-2 0zm-5 0zm0-2zm0 1zm0 0zm-1-3zm0 2zm0 2zm-1-1zm-1-3zm0 1zm-1 2zm0-2zm-1 1zm-2 2zm-1 0zm0 0zm0-1zm-1 1zm0 0zm-2 0zm0-3zm-1 1zm0 1zm0 1zm-1 0zm-1 0zm0 0zm-3-1zm0 0zm0 1zm0 0zm0-2zm-1 1zm-2 1zm-1 0zm-2 0zm-2-1zm-2-2zm-1 0zm0 2zm-49 0zm-5-4zm-1 2zm0 3zm-3 0zm0-5zm0 4zm0 1zm-2-3zm0 2zm0-2zm-1-2zm0 4zm-1 1zm0-1zm0 1zm0 0zm-1-1zm0 0zm0 1zm0 0zm0-3zm-1 1zm0 1zm0-2zm-1 3zm0-3zm0 3zm-1-2zm0 0zm0 2zm-1-1zm0 1zm-1 0zm0-5zm0 5zm-1-1zm0-3zm0 1zm-1 3zm0-4zm0 2zm0-1zm-1-2zm0 4zm0-1zm0-1zm-2 2zm0 1zm0 0zm-2-2zm-1 0zm0-1zm0 1zm-1 1zm-1 0zm0-3zm0 4zm-1-3zm0-2zm0 4zm-1 0zm-1-1zm0 1zm-1 0zm-1 0zm-1-1zm-1 2zm-1-3zm-1 2zm1 3zm2-1zm1 0zm0 0zm2 0zm0 2zm2 1zm1 0zm2-3zm1 1zm1 3zm0 0zm1 1zm0-4zm1-1zm1 1zm0 2zm1 0zm0-1zm0-2zm0 0zm0 0zm1 2zm0-1zm1 0zm0-1zm0 2zm1 1zm0 2zm1-3zm0-1zm0 2zm0-1zm1 1zm0-2zm0-1zm1 0zm0 2zm0-1zm1 0zm0-1zm0 0zm1 0zm0 1zm1 1zm0 2zm1-2zm1-2zm1 2zm1-2zm0 1zm2 0zm1 3zm1-1zm18 2zm0-1zm2-1zm0 2zm2-1zm4 1zm0 0zm3-1zm0 1zm3-1zm0-1zm1 2zm3 0zm2-2zm0 2zm1-2zm9-3zm0 3zm4-2zm1 1zm1 0zm0 0zm0-2zm1 1zm1 2zm1 1zm0-1zm1-3zm2 5zm0-1zm0-4zm1 1zm0 1zm0-1zm0 1zm1-2zm0 2zm1 0zm0-2zm0 2zm0-1zm1 0zm0 3zm0-2zm1 1zm0 0zm1-1zm0 2zm1-1zm0 1zm0 1zm0-1zm0-2zm1 3zm0-3zm0-1zm1 4zm0-5zm0 2zm0 3zm0-3zm0-2zm0 3zm0-1zm1 3zm0-1zm0-3zm0 1zm0 2zm1-4zm0 5zm0 0zm1-4zm0-1zm0 4zm0-4zm0 5zm1-1zm0-3zm0 1zm0-1zm0 1zm0-1zm1 1zm0 1zm0 1zm0-2zm1-1zm0 3zm0-3zm0 4zm1-2zm0-1zm0 3zm0-1zm1 1zm0-3zm0-2zm0 3zm0 0zm0-3zm1 3zm0 0zm1 2zm0-5zm2 5zm0-3zm0-1zm1 4zm1-2zm0 0zm0-2zm1 0zm1-1zm0 2zm0-1zm0-1zm0 1zm1 1zm0 2zm0 1zm0-3zm2-1zm3 1zm19 3zm1-3zm1 3zm0-1zm3-3zm1 4zm1-2zm2 0zm0-1zm2 2zm0-1zm0-2zm1-1zm1 5zm0 0zm0-1zm1 0zm0-2zm0 0zm1 2zm0-2zm1 1zm0 2zm0-1zm1 1zm0-2zm0-1zm1 3zm0 0zm0-3zm0 1zm0 1zm1-3zm0 1zm0 1zm1-3zm0 3zm0 1zm0 1zm0 0zm0-3zm1-1zm0 1zm0 2zm1 1zm0-1zm0 1zm0 0zm0-4zm1 3zm0-1zm0 1zm0-4zm1 4zm0 0zm0 1zm1-2zm0 1zm0-1zm1 2zm2-2zm1-2zm1 1zm0 2zm0-1zm0 1zm2-1zm1 2zm1 0zm3-3zm2 2zm1 1zm16-5zm1 2zm1-2zm1 1zm0-1zm5 3zm3-3zm1 0zm0 2zm0 2zm2-3zm0 3zm0-4zm0 4zm0-4zm0 4zm1-3zm0-1zm0 3zm0 0zm1-3zm0 0zm0 3zm1-3zm0 0zm0 3zm0-2zm1-1zm0 5zm0 0zm1-3zm0-1zm0 2zm0-1zm0-1zm1 0zm0 2zm3-3zm2 0zm0 4zm1-4zm1 2zm1-1zm0 0zm6-1zm0 0zm3 1zm4 0zm1-1zm1 0zm1 0zm57 10zm-5 0zm-1 1zm-2 0zm-5-1zm-32 1zm-71-5zm-1 1zm-1 0zm-3 3zm-2-2zm0 3zm0-1zm-1-2zm-1-2zm0 0zm-1 1zm0-1zm-1 0zm-1 2zm0-2zm0 5zm-1 0zm0-1zm0 1zm0-1zm-1-4zm0 1zm0-1zm-1 1zm0-1zm0 3zm0-1zm-1 3zm-1-1zm0-2zm0 0zm0-2zm0 1zm-1 0zm0 0zm0 1zm-2 0zm0-2zm0 1zm0 2zm0-2zm-1 1zm0-1zm0 2zm0 1zm0-2zm0-2zm-1 1zm0-1zm0 2zm0 2zm0-3zm0 1zm-1-2zm-1 3zm0-2zm-1 1zm-1 1zm0-1zm-1 1zm0-1zm0 3zm-1-5zm0 0zm0 0zm0 2zm-1 3zm0-5zm0 3zm-1-3zm0 0zm0 2zm-1 0zm0 0zm0-1zm0 0zm-1 3zm0-1zm0 2zm-1-2zm0 1zm0-2zm0-1zm-1-1zm-2 0zm0 4zm0 1zm-2-5zm-5 0zm-20 0zm-1 0zm-6 3zm-1-1zm-1-1zm0-1zm-1 1zm-1-1zm0 1zm-2-1zm-2 1zm0 2zm0-1zm0 1zm-1-2zm0 0zm-1 0zm-1-1zm0 4zm-1-3zm-1-1zm-1 0zm-1 1zm0 3zm0-4zm-1 0zm-7 0zm-2 2zm-4 1zm-1 2zm-2-2zm-2 0zm0-3zm-1 3zm-1 1zm0-1zm-1 0zm-2-3zm0 3zm0-3zm0 3zm-1 1zm-1 0zm0 0zm-2 1zm0 0zm-1-2zm0 1zm0 1zm0 0zm-1-2zm0-2zm0 0zm0 1zm-1 3zm-1-2zm0 2zm0-4zm-1 0zm0 1zm0 3zm0-1zm-1-1zm-1 0zm0 1zm0 0zm0-1zm0 0zm0 1zm-1-3zm0 4zm0-3zm0 1zm0 2zm0-4zm0-1zm-1 2zm0 1zm0-1zm0 0zm0-2zm0 0zm0 2zm0 3zm0-1zm-1-3zm0 4zm0-1zm0-1zm0-2zm-1 1zm0 2zm0-4zm-1 3zm0-1zm0 3zm0-1zm-1-1zm-1-1zm0 1zm0 1zm-1 1zm0-1zm0 0zm-1-1zm0 1zm0-1zm-1 0zm0 0zm-2 1zm0-1zm0-1zm0 2zm0-1zm0 2zm-1 0zm-1 0zm0-1zm0-1zm-1 0zm0-3zm-1 0zm0 3zm-1 1zm0-3zm-2 2zm-1-3zm0 2zm-4 1zm-21-3zm21 7zm6 3zm1-3zm1-1zm0 3zm4-2zm0 2zm1 0zm0-3zm0 0zm0 0zm1 0zm1 4zm1 0zm0-2zm1-1zm1-1zm0 0zm0 0zm2 2zm0 0zm1 2zm0-4zm1 5zm0-1zm1-4zm0 1zm0 0zm0 1zm0-2zm1 3zm0-3zm1 2zm0 1zm0-3zm0 3zm0-2zm1 2zm0-1zm0 2zm0-4zm1 4zm0-2zm0 1zm1-3zm0 2zm0-2zm0 3zm1-2zm2 3zm0-4zm1 3zm0-2zm1 2zm0 2zm0 0zm1-3zm1 1zm1-3zm0 0zm2 2zm79-2zm1 0zm4 1zm1 0zm2 1zm1-2zm2 0zm2 0zm0 1zm1-1zm3 0zm60 4zm5-1zm1 2zm1-1zm0 0zm1 0zm1 0zm2 0zm1 1zm0 0zm0 0zm1-2zm0 0zm0 0zm1-1zm0 3zm0-1zm0-4zm2 5zm1-1zm1-1zm0-3zm0 0zm0 5zm1 0zm0-4zm0 2zm1 2zm0 0zm1-4zm1 1zm0 0zm0 1zm1 0zm1 0zm0-1zm0-2zm1 3zm0 2zm1-3zm0 3zm3-3zm3 3zm11 0zm1-1zm0-1zm0 1zm1-1zm4 2zm1 0zm0 0zm1 0zm1-2zm0 1zm0-1zm1 2zm0-4zm0 4zm1-1zm1 0zm0-1zm0 1zm0 0zm0 1zm0-2zm0 1zm1 0zm0-2zm0 0zm1 3zm0-4zm0 4zm0-2zm0 2zm1-5zm0 1zm1 1zm0-1zm0 3zm1 0zm1 0zm0-2zm1 3zm0-4zm1 2zm0 2zm0-4zm1 4zm0 0zm1-1zm0-4zm0 1zm0 3zm0-3zm1 3zm0-4zm1 5zm0-1zm0 1zm1-3zm0 2zm0-1zm1 2zm0-2zm1-2zm0 1zm0 0zm1-2zm1 4zm2-4zm0 1zm0 3zm2 1zm2 0zm0 4zm-2-2zm-1 2zm-1-3zm0 3zm-1-1zm-2-2zm0 1zm-1 4zm0-5zm-2 0zm0 2zm-1-2zm0 3zm0-1zm-1-2zm0 0zm0 2zm0 1zm0-3zm0 0zm-1 2zm-1-1zm0 3zm0-1zm-1-2zm0 1zm0-2zm-1 1zm0 1zm0-2zm-1 1zm0 0zm0 0zm0 2zm0-2zm0 3zm0 1zm0-4zm-1 0zm0 1zm0-2zm0 1zm0 0zm0 3zm0-4zm0 2zm0-2zm-1 1zm0-1zm0 4zm-1-2zm0-1zm0-1zm0 1zm0 4zm-2-2zm0-3zm-1 2zm0-1zm0 3zm0-3zm-1 0zm0 0zm0 0zm0 1zm-2-1zm0 0zm-1 2zm0-1zm0-2zm0 4zm-1-3zm-1-1zm-2 2zm-1-1zm0 1zm-2 0zm-1 0zm-9 2zm-1-3zm0 1zm-3 2zm0 0zm-1-1zm0-2zm-1 0zm0-1zm0 0zm0 1zm0 1zm-1 1zm-1-3zm0 3zm0 0zm0-2zm0 4zm-1-2zm-1-3zm0 1zm0 1zm0-2zm0 2zm0-2zm-1 2zm-1-1zm0 2zm0 0zm0-3zm0 4zm0-1zm0-1zm-1-1zm0 0zm0 2zm0-1zm0-1zm-1-1zm0 1zm0 0zm0 2zm-1-1zm0 2zm-1 0zm0-2zm0-1zm0-1zm0 4zm-1-2zm0-1zm0 2zm0-3zm0 0zm-1 0zm0 4zm0 1zm0-2zm0 0zm-1-2zm0 3zm0-4zm0 0zm-1 2zm0 2zm0-2zm0-1zm0 2zm0 0zm-1 2zm-1-5zm0 0zm0 0zm0 0zm0 3zm0 1zm-1-4zm0 3zm-1 0zm0-3zm0 1zm0 1zm-1 2zm0-2zm0 2zm-1-2zm0 2zm-1-3zm0 1zm-1-1zm-1 0zm-1 0zm0 2zm0 1zm-1-1zm0-2zm-1 0zm-1 1zm-1 2zm0-3zm-40 4zm-2 0zm-1-1zm-1 0zm-9 1zm0 0zm-1 0zm-6-2zm-2 2zm0-1zm0 1zm-2 0zm-2-1zm0 1zm-2-1zm-24 1zm-3-1zm-2-1zm-3 0zm0 2zm-2-2zm0 0zm-1 0zm-1-1zm0-1zm0 1zm-2 3zm0 0zm-1 0zm0-3zm-1 2zm0 1zm0-3zm0 2zm-1 1zm-1-2zm0 0zm0-1zm0-1zm-1 3zm0 1zm-1-3zm0 3zm-1-1zm0 0zm-1-1zm-4-2zm0 3zm0-1zm-1 0zm-1-2zm0 4zm-1-2zm0 0zm0 2zm-1-1zm-1-1zm0 2zm-2-1zm0-1zm-2 2zm0 0zm0-1zm-1-3zm-1 4zm-2 0zm-1-2zm-2 2zm-31-4zm-5-1zm-40 5zm-10 0zm-1-2zm-4 2zm-2-1zm0 0zm0-2zm-2 0zm-1 2zm0-2zm-4 2zm-1 1zm-7 3zm1-1zm0-1zm3 5zm0 0zm1-2zm0-3zm1 0zm1 5zm0-1zm0 1zm0-2zm0 2zm1-4zm0 2zm1 0zm0 2zm1-2zm0-3zm0 4zm1 0zm0-2zm0 1zm0 2zm0-2zm0 2zm1-2zm1 1zm0-3zm0 4zm0 0zm1-2zm0 1zm0-4zm0 4zm0-1zm0-3zm0 3zm0 0zm1 1zm0-2zm0-1zm1-1zm1 4zm0 0zm0-3zm0 3zm0-4zm0 5zm0 0zm0-5zm1 0zm1 3zm0-2zm0 3zm0 0zm0 0zm1-2zm1 2zm0-4zm0 0zm0 1zm1 2zm0-1zm0-1zm0 3zm0-2zm1 0zm0-1zm0 4zm0 0zm1-4zm0 2zm1 0zm0 0zm0 1zm0 0zm0-1zm1 1zm0-4zm1 1zm0 4zm0-5zm1 2zm0 2zm1-1zm0 2zm0-3zm1 3zm0-4zm1 4zm0-1zm0-1zm1 2zm1-3zm76 3zm1-5zm2 1zm4 0zm2-1zm0 2zm0 3zm1-4zm0 0zm0-1zm0 3zm1-2zm0 4zm0-5zm1 3zm1-3zm0 1zm0-1zm1 0zm0 1zm0 3zm0 1zm0-3zm0 2zm0-1zm1 1zm0-3zm0 2zm0-1zm1 2zm0-3zm0 4zm0-3zm1-1zm0-1zm0 0zm1 4zm0-3zm0 4zm0 0zm0-3zm0 0zm0-1zm0-1zm1 2zm0-1zm0-1zm1 2zm0-1zm0 1zm1 2zm0-2zm0-1zm0-1zm0 1zm0 2zm0-2zm0 3zm0 1zm0-4zm1 2zm0-1zm0-2zm1 2zm0-2zm0 5zm0-4zm1 1zm0-1zm0-1zm0 5zm1-3zm0-2zm0 3zm0 1zm0-3zm0 2zm1-1zm0 0zm0-1zm0 2zm0 0zm0-1zm0 2zm0 1zm1-1zm0-4zm1 0zm0 3zm0 2zm0-4zm0-1zm0 5zm2-5zm0 1zm1 2zm0 0zm1-2zm2-1zm1 1zm1 3zm0-2zm1-1zm1 1zm1-2zm2 2zm15 1zm0 1zm2-1zm2 2zm0-3zm0 1zm2-3zm1 4zm1-1zm0 2zm1-5zm0 5zm0 0zm1 0zm0-5zm0 2zm0 0zm0 1zm1-3zm0 0zm1 4zm0 0zm0 0zm1 1zm0-2zm0-2zm1 3zm0-3zm1 1zm0 2zm1 0zm0-1zm0-1zm1 2zm0-4zm0 2zm0 1zm0 0zm0 0zm0-3zm0 3zm0 2zm1-5zm0 2zm0 2zm0-4zm0 4zm1-1zm0-2zm0-1zm1 5zm1-1zm0-3zm0-1zm0 1zm1 0zm0-1zm0 4zm0-1zm1-3zm0 2zm0 0zm1 3zm0 0zm0 0zm0-3zm0 2zm0-1zm0 1zm0-3zm0 2zm1 1zm0-4zm2 4zm0 1zm0-4zm0-1zm1 2zm0 0zm1-1zm0 3zm1 1zm0-4zm0 1zm0-1zm1 2zm1 0zm1-1zm0-1zm1 1zm1 0zm0-2zm1 2zm0 2zm1 0zm0 1zm1-1zm2-1zm1 2zm4 0zm36-4zm3 2zm1-1zm5-2zm3 3zm2-3zm2 0zm0 1zm3 0zm0 2zm0-3zm3 0zm4 2zm37-2zm1 0zm-101 7zm-6 0zm-4 4zm-2-3zm0 2zm0-2zm0 0zm-1-1zm-1 4zm0-5zm0 2zm-1 2zm0-3zm0 1zm-1-2zm-1 3zm0 1zm0-3zm-1-1zm0 4zm-2-4zm0 1zm0 4zm-1-3zm0-1zm0 1zm0 0zm-2 2zm0-3zm0 1zm0-1zm-1 1zm0-1zm0-1zm0 4zm0-4zm0 4zm-1-1zm-1 0zm0-1zm0 2zm-1-3zm0 0zm-1-1zm0 2zm0 0zm-1-1zm0-1zm-1 0zm0 4zm-1-2zm-1-2zm0 3zm0-2zm-1 2zm-2-3zm0 2zm0-2zm-1 1zm0 0zm-1 1zm0-2zm-1 0zm-5 0zm-24 0zm-5 4zm-1-4zm-1 0zm0 0zm0 0zm-2 0zm-1 2zm-1 0zm0-2zm0 1zm-1 1zm-1 2zm0-3zm-1 1zm-3-1zm-3 0zm-3 1zm0 1zm0-3zm-1 1zm-55 3zm-6 1zm-2 0zm-1 0zm0 0zm-1 0zm-2-1zm-15-3zm-4 4zm-1-2zm0-3zm-2 0zm-2 0zm0 3zm0-1zm-1-2zm-1 1zm0 1zm-1 0zm-1 3zm0-5zm0 1zm-1 0zm0 2zm0-3zm-1 1zm-1 0zm0 1zm0-2zm-1 3zm0 1zm0 0zm-1-2zm0-1zm-1 0zm0 3zm0-1zm0-2zm0 2zm0-2zm-1 0zm0-1zm-2 1zm-1 4zm0-1zm-1-4zm0 0zm0 0zm0 2zm-1-2zm0 1zm0 2zm0 1zm-1-4zm0 3zm-1-3zm0 1zm-1 3zm0-1zm0-3zm-1 1zm-1-1zm0 0zm0 2zm0 0zm0 1zm-1-2zm0 3zm-2-3zm0 0zm-1 1zm-1 1zm0-2zm0 1zm-2 0zm-1 0zm0 1zm-2-1zm-23 3zm-5 0zm0-1zm-4 0zm-1 1zm-1 0zm0 0zm-3-1zm-6 4zm2 2zm0-2zm0 2zm0 1zm1-5zm1 4zm2-4zm0 2zm0 0zm1 1zm4 0zm0 2zm0-4zm1 3zm0-4zm0 5zm1-4zm1-1zm0 0zm0 2zm1 2zm0 0zm0 0zm0 0zm0-3zm1 0zm0 2zm0-1zm1 0zm0 3zm0-4zm0 4zm0-3zm1 0zm0 1zm0 2zm0-3zm0 3zm1-2zm0 1zm0-3zm0 4zm1 0zm0-1zm0-1zm0-1zm0-1zm0 2zm1 2zm0-1zm1 0zm0-1zm0-2zm1 2zm0 2zm0-5zm1 4zm0 1zm1-4zm2 4zm0 0zm0-3zm1 1zm0 2zm0-1zm1-2zm1 2zm0 0zm1 0zm0-1zm0-1zm1-1zm0 0zm4-1zm29 0zm2 0zm14 5zm1-1zm4-1zm1 2zm1-1zm0 0zm1 1zm2-3zm0-1zm0 0zm0 1zm1 2zm1-1zm0 1zm0-4zm1 1zm1 1zm0 2zm2-3zm0 1zm0 2zm0-3zm0 4zm1-3zm0 0zm0 3zm0-2zm0 1zm1-4zm0 0zm0 1zm1 3zm0-1zm0 0zm0-3zm0 3zm1-2zm0 1zm0 3zm0-1zm0 1zm0-1zm0-4zm2 2zm0 1zm0 2zm0-4zm1 3zm0 0zm1 1zm0-2zm0 2zm0-3zm0 2zm0 0zm1 0zm0-4zm0 5zm0-2zm0 0zm1 2zm1-1zm0 1zm0-5zm1 4zm0 0zm1-4zm0 4zm1-1zm0-2zm1 2zm1 1zm1-4zm1 2zm2 1zm4 2zm116-4zm115 4zm2 0zm2-1zm4 1zm2-1zm17 7zm-4 0zm0-1zm-1-3zm0 0zm-1 2zm-4 2zm0-1zm0-1zm-1-1zm-1 3zm0-5zm0 0zm-1 3zm-1 2zm0-2zm-1-3zm0 0zm0 2zm-1 3zm0 0zm0-1zm0-3zm0 4zm0-4zm-1 0zm0 4zm0 0zm0-2zm-1 0zm-1-3zm0 4zm-2-1zm0 1zm0-2zm0 2zm0-4zm0 5zm-1-3zm0 0zm0 2zm0-2zm-1 3zm0-1zm-1-1zm0 2zm0-1zm-1 0zm0-2zm-1 3zm0-1zm-1 0zm-1-3zm0 1zm0 1zm-1 1zm-1-1zm-1 1zm-3 1zm0-4zm-229 4zm-2-5zm0 4zm0-1zm0-2zm-1 2zm0-2zm0 2zm-1-3zm0 1zm-1 3zm-2-1zm0-1zm0-2zm-1 0zm-1 0zm0 1zm0 4zm0-4zm0 4zm-1-5zm0 3zm0-2zm0 4zm-1-4zm0-1zm0 4zm-1-3zm-1 0zm0 0zm0 1zm0 1zm0 0zm-1-1zm0-1zm0-1zm-1 3zm0-2zm-1 1zm0 2zm-1 1zm0-3zm0 0zm-1-1zm0-1zm0 2zm-1 2zm0-3zm0 0zm0 1zm0-2zm0 0zm-1 4zm0 0zm0-2zm0-2zm-1 5zm0-3zm0-2zm0 1zm-1 3zm0-4zm-1 3zm-1-2zm0-1zm0 2zm0 0zm-1-2zm0 1zm0 2zm-1-2zm0 3zm0-2zm-1-2zm0 3zm-1 0zm-1 0zm0-3zm0 4zm0 1zm0-3zm0-1zm-1 0zm0-1zm-2 5zm-2-5zm-2 1zm0 1zm-1-2zm-4 3zm-2 2zm-2-1zm-1 0zm-3 0zm0-2zm-1 2zm0-1zm-1 2zm-1-4zm-4 4zm0-1zm-2-1zm-1 2zm-1 0zm0 0zm-1-1zm0-2zm-1 1zm-3 2zm-1-1zm0 1zm0-2zm-3 2zm-1-3zm-3 2zm-1 1zm-2 0zm-4-5zm-3 0zm-3 0zm-1 3zm0-2zm-1-1zm-1 4zm0-2zm-1 0zm-1-1zm0 1zm-1-1zm0 0zm-1 2zm0 1zm0-4zm0 0zm-1 0zm0 0zm0 4zm-1-3zm0 1zm-1 0zm0 0zm-1-2zm0 1zm0 1zm-1 0zm0-1zm-1-1zm-1 1zm-1 0zm0-1zm-1 1zm-1 0zm0-1zm0 1zm-3 0zm-1-1zm-1 2zm0-2zm-4 1zm-2 0zm36 9zm1-1zm1-1zm0-2zm0 5zm1-4zm1 2zm3-3zm1 4zm1 1zm0-1zm1 0zm1 1zm0 0zm0-4zm1 3zm0-3zm0 3zm1 0zm0-4zm1 2zm0 3zm0-2zm0 0zm1-1zm0-1zm0 1zm0 0zm0 3zm0-1zm1 1zm0-4zm0 2zm1 2zm0-3zm1-2zm1 1zm0 4zm0-1zm0-3zm0 0zm1 0zm0 3zm0 1zm0-5zm0 3zm0-3zm1 1zm0 2zm0 2zm0-1zm0-2zm0 0zm0 2zm1-1zm0 2zm0-5zm1 1zm0 3zm0 0zm1-2zm0 0zm0 2zm0 1zm0-3zm1 2zm0 1zm0 0zm0-2zm0-3zm1 3zm0 2zm1-1zm0-2zm0 1zm0-1zm0 1zm1-2zm0 1zm0-2zm0 4zm0-1zm1 2zm0 0zm0-5zm0 0zm0 1zm0 2zm0 0zm0 2zm1-4zm0 0zm1 3zm0-4zm0 1zm1 3zm0-3zm1 2zm0 1zm0-2zm0 3zm0-5zm0 3zm0-3zm3 1zm0 4zm1 0zm0-2zm0-1zm1 3zm0-3zm0 2zm3-1zm4 0zm0 0zm11-2zm1-1zm6 2zm0-2zm2 1zm4-1zm0 0zm3 0zm115 5zm2-2zm0 1zm2-3zm0 3zm1 1zm1-2zm1 0zm0 1zm1 0zm1 1zm1-1zm0 0zm0-2zm1 0zm1 0zm0-1zm0 3zm1-4zm0 2zm1-2zm0 3zm0-1zm0 2zm0-1zm1-3zm0 4zm1-3zm0 3zm0 1zm0-1zm0-1zm1 0zm0-2zm1 3zm0 0zm0 1zm1-3zm0-2zm2 3zm0 0zm0 0zm1 1zm0 0zm0 1zm0-1zm0 0zm0-4zm1 4zm0 0zm0 1zm1-2zm0 0zm0 2zm1 0zm0-1zm1 0zm1-2zm2 2zm0-3zm0 4zm1 0zm1-4zm0 3zm0-2zm2 2zm23 1zm3-1zm1 1zm6 0zm2 0zm1-1zm0 1zm2-2zm2 2zm2-1zm1 1zm2-2zm3 1zm2 1zm33-4zm4 2zm1-3zm0 1zm3 2zm0 2zm1-1zm0-1zm0 0zm0-3zm1 1zm1 1zm0-2zm0 3zm0-3zm1 4zm0-4zm0 1zm0 0zm1 0zm0 2zm0 0zm0 1zm1-4zm0 0zm0 3zm0 0zm0 0zm0-2zm0 4zm1-4zm1-1zm0 3zm0 1zm0-1zm0 0zm1 1zm0-4zm1 1zm0 3zm1 0zm0 0zm0-1zm1 1zm0-3zm0 1zm0 2zm1-2zm1-1zm0 0zm1 3zm0-3zm0 0zm0 1zm0-2zm1 1zm0 3zm0-4zm0 1zm2 1zm0 2zm0-3zm0 1zm2 3zm0-4zm1-1zm0 0zm1 2zm0-1zm1 1zm1-1zm1 3zm2-1zm1-2zm-4 5zm-1 1zm-3-1zm0 1zm0 0zm0-1zm-4 3zm-4-2zm0 1zm-1-1zm-1-1zm-2 1zm-2-1zm-2 1zm-2 0zm-2 1zm-2-1zm-3-1zm-1 3zm-2 1zm-3-2zm0 0zm0 3zm-1 0zm-2 0zm-2-1zm-2 1zm-2 0zm0-2zm0 2zm-5 0zm-7-3zm-3 2zm-1 0zm-1 1zm0-1zm0-4zm-1 3zm-3 1zm0-2zm-1 3zm0 0zm-1-2zm-1-1zm0 2zm0-3zm-1 0zm-1 4zm0-1zm0 1zm0-1zm0-3zm0 2zm-1 2zm0 0zm0-2zm-1-1zm0 3zm-1-3zm0 0zm0 1zm-1-3zm0 3zm0 2zm0 0zm0 0zm0-4zm-1 1zm0-1zm0 1zm-1 1zm0 2zm0 0zm-1-1zm-1 0zm0-2zm0 0zm-1 3zm0 0zm-1-2zm-1-3zm0 5zm0-2zm-1 2zm0-3zm0-1zm-1 1zm0 0zm0 3zm0-3zm0 3zm-1 0zm0-2zm0-1zm0 0zm-1 3zm-1 0zm-1-3zm-1 2zm0 1zm0-4zm-1 2zm0-1zm-4 3zm-2-1zm0 0zm0-2zm-13-2zm-1 2zm-1 2zm-5-3zm0 0zm0 4zm-1-1zm-1-3zm0-1zm-1 4zm0 1zm0-1zm0-4zm0 5zm-1-4zm0 1zm-1 2zm-1-2zm0 0zm-1-2zm0 0zm0 0zm0 1zm-1 3zm0-2zm0 0zm0 0zm-1 0zm0 1zm-1-1zm0-1zm0 4zm0-1zm0-1zm-1 0zm0-3zm-1 2zm0 1zm-1 0zm-1-2zm0 2zm0-1zm0-2zm-1 2zm0 0zm0 2zm0-2zm0 1zm-1-2zm0-1zm0 2zm0-1zm-1 1zm0-2zm0 3zm-1 2zm0-3zm0 2zm0 0zm0-3zm0-1zm-1 3zm0 1zm0-3zm0 3zm0-3zm0 0zm-1-1zm0 3zm-1 2zm0-5zm0 5zm-1-2zm0-2zm-1 3zm0-1zm0 0zm0-3zm-1 3zm-1-1zm0 0zm0 0zm-1-1zm0 1zm-1-2zm0 4zm-1-1zm0-1zm-1 2zm0-3zm-2 1zm0-2zm0 4zm0-2zm-2 2zm-1-4zm-4 3zm-14 2zm-3-2zm0 0zm-4 2zm-1 0zm0 0zm0-3zm-1 0zm-1 1zm-1-2zm-6 3zm-1 0zm-2-1zm0 1zm-1 0zm0 1zm-4 0zm-3-1zm-39 1zm-2-1zm0 0zm-1 0zm0 1zm0 0zm-1-2zm0 1zm-1 1zm-1-2zm-1 2zm-1-3zm0 3zm-10-2zm0 2zm0-1zm-4 1zm-2-2zm0 2zm-36-4zm-5 0zm-3 0zm-1 3zm0-1zm-2-3zm0 4zm0-4zm-1 2zm-2 0zm0-2zm-1 3zm-3-1zm0 0zm0-2zm-1 0zm0 2zm-2-2zm0 1zm0 1zm-2 1zm-1-3zm0 5zm-2-5zm0 2zm-1 1zm-1-3zm-2 2zm0 0zm-2 2zm0-2zm0-2zm-1 3zm0-3zm-2 1zm0-1zm-3 2zm64 8zm2-1zm4-2zm0 3zm1-3zm0-1zm0 4zm2-2zm1-2zm0 1zm0 0zm0 2zm1-1zm0 3zm0-1zm1-3zm1 1zm0 2zm1 1zm0-1zm0-3zm1 2zm0 1zm0-2zm1-2zm0 4zm0 1zm1 0zm0 0zm0-2zm0-3zm1 3zm0-1zm0-2zm0 4zm0-1zm1-3zm0 2zm0 3zm0-3zm1 3zm0-5zm0 5zm0-2zm0 0zm0-3zm1 1zm0 3zm0-1zm0 0zm1-1zm0 0zm0 2zm0-1zm1 1zm0 1zm0-3zm1-2zm0 4zm0-4zm0 5zm1-4zm0-1zm0 2zm0 3zm0 0zm0-2zm2-3zm0 4zm0 0zm0 1zm0-5zm1 4zm0 0zm0-1zm0-2zm0 2zm1-1zm0 3zm1-5zm0 0zm0 1zm0 1zm1 2zm0 0zm0-4zm1 4zm1-3zm0-1zm0 3zm0-3zm0 0zm0 1zm0 2zm1 1zm2-3zm1 2zm1 0zm2-1zm0 1zm0 1zm2-2zm3 2zm24 0zm3-3zm1 3zm0-2zm1 0zm0 3zm0-3zm0 0zm1 2zm1-2zm0 3zm3-3zm0 1zm0-1zm1 1zm0-2zm0 2zm0 0zm0 0zm0-2zm1 2zm0-3zm0 3zm0 1zm1-4zm0 4zm0-3zm0 0zm1 0zm0 1zm1-2zm1 3zm0-2zm0 2zm0-3zm0 1zm0 4zm1-5zm0 2zm0 3zm0-5zm0 4zm0-1zm1 2zm0 0zm0-1zm0 1zm0-3zm1-2zm0 3zm0-3zm1 3zm0 0zm0 0zm1-2zm0 0zm0 4zm0-4zm0 4zm1-5zm0 5zm0-2zm1 1zm0-3zm0 3zm0 1zm0-4zm1-1zm0 2zm0-1zm0 4zm0-4zm1 3zm1-2zm0 1zm0-1zm0 1zm0 2zm1-5zm0 0zm1 4zm1-3zm1 4zm0-3zm0 1zm1-1zm0 2zm0-2zm1 2zm0 1zm0-3zm1 1zm1-1zm0-2zm2 2zm1-1zm0 1zm1 1zm20 0zm5-3zm0 3zm1-3zm0 0zm0 2zm2-2zm0 0zm0 3zm1-2zm0-1zm1 0zm2 0zm1 1zm1-1zm5 3zm6-3zm20 3zm1-2zm2 0zm2 4zm0-2zm0-2zm2 1zm0 1zm0-3zm1 2zm1 1zm1 1zm1-4zm0 2zm0 2zm0-4zm1 2zm0 0zm0-1zm0-1zm0 3zm0-3zm1 1zm1 3zm0-3zm0-1zm1 2zm0-1zm1 3zm0-3zm0 4zm0-2zm0-3zm0 3zm1-3zm0 4zm0 0zm0-4zm1 0zm0 1zm1 1zm0 0zm0-1zm1 2zm0 2zm0-5zm0 3zm1-2zm0 4zm0-5zm0 1zm0 4zm1-3zm0 1zm0-1zm0 0zm0-1zm1 0zm0 0zm1 2zm0-2zm1 0zm0 0zm0-1zm0 2zm1-1zm0 3zm0-3zm0 2zm0-2zm1-1zm0 1zm1 0zm1 2zm1-2zm0 1zm2 3zm1-5zm0 0zm1 3zm1 1zm0-3zm1-1zm0 0zm0 1zm1 0zm3 0zm1 3zm0-2zm0-1zm1 2zm1-3zm0 5zm0-5zm1 4zm1 0zm1-2zm1 2zm0 0zm1-2zm0 2zm0 0zm1-1zm0 1zm0-4zm0 2zm1 0zm0 1zm0-3zm1 1zm0 1zm0-1zm1 1zm0 1zm0 1zm0-2zm1-1zm0 1zm0-2zm1 5zm0 0zm0-4zm2 4zm0-4zm0 3zm0-3zm0 3zm0-4zm1 3zm0 0zm1 0zm0 0zm0 2zm0-3zm0 3zm0-2zm1-1zm0 3zm0-4zm1 4zm0-2zm0-3zm0 2zm1 1zm0 1zm0-3zm0 2zm0-1zm0 0zm0 3zm1-5zm0 2zm0 0zm0-1zm0 4zm0-2zm0 1zm1 0zm0-2zm0 2zm0-3zm1 3zm0 0zm1-1zm1 2zm0-3zm0 1zm1 0zm1-3zm3 5zm0-2zm0 2zm2 1zm-2 0zm-2 2zm-3-2zm0 3zm0-3zm-2 3zm0-3zm0 4zm0-2zm-2-2zm-1 3zm0-3zm0 1zm-1-1zm0 1zm0-1zm-1 4zm0-2zm0-1zm0 2zm0 1zm-2-4zm0 0zm0 1zm-1 0zm0 2zm0 0zm0-1zm-1 0zm0 0zm0-2zm-1 3zm0 1zm-1-1zm-1-3zm0 4zm0-4zm0 0zm-1 2zm0-1zm0 0zm0 0zm0 3zm-2-1zm-1-2zm0 1zm-1 3zm0 0zm0-2zm-1-3zm-1 0zm0 1zm-1-1zm0 0zm-2 0zm-21 0zm-2 1zm0 1zm-2-1zm-82-1zm-7 1zm0-1zm0 4zm-1 0zm0-4zm0 2zm-1-1zm0-1zm-1 4zm-1-3zm0-1zm-1 4zm0-1zm0 0zm-1-2zm0 2zm-1-3zm0 4zm0 0zm-1-3zm0 1zm0-2zm0 1zm-1-1zm-1 0zm-1 4zm0-1zm0 1zm0-3zm-1 3zm0 0zm0-2zm-1-1zm0 0zm0-1zm0 0zm0 1zm-1 0zm0 0zm0 0zm0 3zm0 0zm-1-3zm0 2zm0-3zm-1 4zm0-4zm0 0zm-1 1zm0 0zm0 3zm-2 0zm0-4zm0 0zm0 2zm-1 0zm-2 2zm-2-4zm-1 5zm-2-2zm-1-3zm-3 1zm-26-1zm-1 2zm-2 0zm-1-1zm-1 1zm-4 3zm-1-5zm0 0zm-2 0zm0 1zm0 0zm-1-1zm-1 3zm0-2zm0 1zm0 1zm-2-1zm-1-1zm0 3zm-3-2zm0 1zm-1-3zm0 3zm-1-2zm0 2zm-1-1zm0-2zm-1 0zm0 0zm0 1zm-1-1zm0 3zm-1-2zm0 0zm-1 0zm0 1zm0-2zm0 0zm-1 2zm0-1zm-1 0zm0 1zm0 1zm0 1zm-1-4zm-1 1zm0-1zm0 1zm0 2zm0-2zm-1-1zm0 3zm-2 0zm-3 1zm0-4zm15 7zm2-1zm10 0zm52 0zm141 0zm6 0zm-25 11zm-1 0zm-14 0zm-8-2zm0 0zm-1 0zm-2 2zm-1-2zm0-1zm-1-1zm-1 3zm0 0zm0 0zm-1-1zm-1-2zm-1 4zm0-3zm-1 3zm-2-1zm-2 1zm-2 0zm0-1zm-1 1zm0 0zm-1-2zm0 0zm0 2zm-1-4zm-1 4zm-1 0zm0 0zm-3-2zm0 2zm-1 0zm-1-1zm-5 0zm-18-1zm-1 1zm-2 1zm-1-1zm0 0zm-1 0zm-1 0zm0 1zm-2 0zm0-1zm0 1zm-2 0zm-2-3zm-1 2zm-1-3zm-1 4zm0-3zm0 2zm0-2zm-2 3zm0-1zm-1-1zm-1 1zm-1-1zm0 2zm0-3zm-2 3zm-1-2zm-2 2zm-1 0zm-1-3zm-1 0zm-2 1zm-125 2zm-1 0zm-105 4zm4 2zm1-1zm2 1zm1 0zm2-1zm0 1zm7 0zm64 0zm2-2zm2 2zm3-2zm0 2zm1-3zm1 3zm1 0zm2-1zm0 0zm1 0zm1 1zm1-1zm0 0zm0-1zm1-2zm1 3zm0 0zm2-4zm1 5zm0 0zm0 0zm1-5zm1 1zm0 4zm1-1zm1-1zm0 0zm1-3zm0 3zm1-1zm0 0zm1 3zm0-2zm1 0zm0-1zm1 0zm1 2zm0-1zm0 2zm1-5zm0 2zm0 3zm0-1zm3-1zm1-3zm0 1zm1 1zm4 2zm38 1zm8-2zm4 1zm1 1zm2 0zm4 0zm1-1zm1 1zm47-1zm3-1zm0-2zm3 2zm1 1zm1-3zm1 2zm1 2zm0-2zm1 0zm0 0zm0 1zm0-1zm0-1zm1 0zm0 2zm0 1zm1-3zm0 0zm0 0zm0 2zm0-1zm0 1zm0-3zm0 2zm0 0zm0-2zm0 0zm0-1zm1 3zm0 0zm0-3zm0 1zm1 0zm0 4zm0 0zm0-1zm0-1zm0-1zm1 3zm0-4zm1 4zm0-5zm0 2zm1 2zm0-4zm0 5zm0 0zm0-4zm1 4zm0-3zm0-1zm0 0zm1 1zm0 0zm0 3zm0-1zm0-2zm0 2zm0-3zm0 4zm0-4zm1-1zm1 3zm0 1zm0-4zm1 0zm0 3zm0-3zm0 4zm1-2zm0-1zm0 2zm0 0zm0 2zm0-2zm1-1zm0-1zm0-1zm0 2zm0-1zm1-1zm0 3zm0 1zm0-1zm1-1zm0 2zm0-2zm1-2zm0 1zm0 0zm1 3zm0-4zm1 3zm0-1zm0-1zm1 4zm0-3zm0-1zm1 1zm0 3zm0-5zm1 4zm1-1zm3-2zm0 2zm0-1zm1 0zm0 0zm13 1zm2 0zm0-1zm1 1zm0 1zm1-3zm1 0zm1-1zm1 4zm0-3zm1 1zm0 2zm1-2zm1 2zm0 0zm1-4zm0 4zm0 0zm1-4zm1 0zm0 1zm0 0zm1 2zm0-3zm0 1zm0 3zm1-3zm0 2zm0-2zm0 1zm0-1zm1 3zm0 1zm0-5zm0 0zm1 5zm0 0zm0-1zm0 0zm0-3zm1 3zm0-2zm0-1zm0 1zm1-2zm0 3zm0 1zm1-3zm0 2zm0-2zm0 3zm0-2zm0 3zm0 0zm0-3zm0 0zm0 2zm1-3zm0 4zm0-5zm1 4zm0-1zm0-1zm0-1zm0 1zm1 0zm0 3zm0-3zm0 0zm0 0zm0 1zm1-2zm0-1zm0 4zm0-1zm0-2zm1 1zm0 1zm0-2zm0 1zm1-1zm0 2zm0-1zm1 1zm0-1zm0 2zm0-3zm0 2zm0 1zm1 0zm0 0zm1 1zm0-3zm0-2zm0 0zm1 2zm0 1zm0-1zm1 2zm1-1zm1 0zm1-2zm0 1zm0 1zm1 1zm2-1zm1-2zm0 0zm1 2zm0-2zm2-1zm0 3zm4 2zm1-2zm2 1zm0-2zm1 3zm1 0zm0-1zm1-1zm0 1zm0-2zm1 0zm0 3zm0-1zm0 1zm1 0zm0 0zm2-2zm0 2zm0 0zm0-2zm1 2zm0-1zm1 1zm0 0zm0-4zm0 4zm1 0zm0-3zm0 3zm1-2zm0 2zm0-1zm1 1zm0-4zm1 0zm0 3zm1-2zm1-1zm0 3zm1 0zm1 0zm1-2zm1-2zm1 1zm3 4zm1-1zm2 4zm-2 3zm-1-2zm-1 1zm-1-3zm-1-1zm0 2zm-1 2zm-1 0zm0-2zm0-2zm-1 3zm0-2zm0 1zm0 0zm0 2zm-1-3zm0 2zm0 0zm0 0zm0 1zm0 0zm0-1zm-1 0zm0 2zm0-4zm-1 3zm0-4zm0 0zm-1 2zm0 1zm-1 2zm-1-4zm0 1zm0-1zm0 1zm-1 1zm0 1zm0 0zm0-4zm-1 1zm0-1zm0 5zm0-2zm0 2zm0 0zm0-4zm0 3zm0-3zm0 1zm0-1zm-1 0zm0 2zm0-1zm0-2zm0 0zm-1 0zm0 1zm0 1zm0 0zm0-2zm-1 5zm0-1zm0 0zm0-1zm0-3zm-1 0zm0 2zm0 1zm-3 0zm0-2zm0 2zm-1 1zm-4-2zm0 0zm-1-1zm-2 2zm-5-1zm-2-2zm-1 1zm-3 0zm-4-1zm0 1zm-1-1zm0 5zm-3-5zm0 4zm0-1zm-1 0zm0-3zm-1 4zm0-3zm0 1zm-1-1zm0-1zm-2 0zm0 0zm-1 0zm0 4zm-1-3zm-1-1zm-1 1zm-2 0zm0-1zm-1 4zm0-3zm-2 1zm-2 0zm0-2zm-1 3zm-1-1zm-24-1zm-2 1zm-1 2zm-1-1zm-1-1zm-1-1zm-1 3zm-1-2zm-1 0zm-1 0zm0-2zm-1 1zm-1 0zm0 0zm0 0zm0 0zm-1-1zm0 1zm0-1zm-1 1zm-1 0zm-1-1zm0 1zm0-1zm-2 1zm-1-1zm0 0zm0 1zm0 1zm0 2zm-1-3zm-1 1zm-3-2zm-1 4zm0-4zm-1 0zm-2 1zm0-1zm-41 1zm-6 3zm-2-2zm-1-2zm0 4zm0 1zm0-1zm-1-2zm-2 1zm-1 2zm0 0zm0-2zm-1 1zm0 1zm-1-5zm0 3zm0 2zm-1-5zm0 1zm0 3zm0-3zm0 4zm0-3zm0 2zm0-3zm0 3zm-1-2zm0 0zm0 0zm0 3zm-1-3zm0-2zm-1 2zm0 2zm0-1zm0 0zm0-1zm0 1zm-1 1zm0 0zm0-1zm0 1zm0-2zm0 2zm0 0zm-1-3zm0 4zm0 0zm0-4zm-1 1zm0 1zm-1-2zm0 2zm0-2zm-1 3zm0 1zm0-2zm-1-3zm0 2zm0 1zm-1 0zm0-1zm0 3zm0 0zm0-1zm0-4zm-1 4zm0-3zm0 2zm0 1zm-1 0zm0-2zm-1 3zm0-1zm0 0zm-2 1zm0-1zm0-4zm-2 3zm-2 2zm0-5zm0 4zm-1-1zm0-2zm0 4zm-2-1zm0 1zm-5-1zm-22-2zm-1 0zm-1-2zm0 2zm-5 1zm0-1zm0-2zm-2 0zm-1 3zm0 1zm-1-1zm0 0zm0-2zm-2 0zm0 1zm0-2zm0 1zm-1 1zm0 0zm0 2zm0-3zm0 2zm0-1zm0-2zm0 2zm-1-1zm0-1zm0 4zm-1-3zm0-1zm0 2zm0 3zm-1-3zm0-1zm0-1zm0 5zm0 0zm-1-4zm0-1zm0 0zm0 2zm-1-1zm0 3zm0 1zm-1 0zm0-1zm0-3zm0 1zm0 0zm0 0zm0 0zm0 2zm0-3zm0 2zm0-2zm-1 0zm0 3zm0 0zm-1-1zm0-2zm0 1zm0 0zm0 1zm-1-2zm0 1zm0-1zm0 3zm0 0zm-1 1zm0-4zm0 0zm0 0zm-1 0zm0 0zm0-1zm-2 4zm0-2zm0-1zm0 3zm-1-2zm0 2zm-1-4zm0 1zm0 0zm-1 0zm0-1zm-1 5zm0 0zm-1-1zm-1 1zm0-3zm0 3zm0-4zm0 4zm0-3zm-1-2zm0 4zm0-3zm-1 2zm0-3zm-1 5zm0-2zm-1-2zm0 2zm-3 1zm0-3zm0 0zm-1 1zm-1-2zm0 3zm-2 2zm-1-5zm-19 5zm-5-2zm-3-1zm-1 2zm-1 0zm-2-1zm-1 2zm-5 0zm-2 0zm-3 0zm-1 0zm0 0zm-4 0zm-3 0zm-7 0zm-1-4zm-1 1zm-1-1zm-1 3zm-1 1zm-1-1zm0 1zm0-5zm-1 0zm0 2zm0 2zm0 1zm0-4zm0 2zm-1 2zm0-2zm-1-2zm0 4zm0-4zm0 1zm0 2zm-1-2zm0 2zm-1 1zm0-3zm0 3zm-1 0zm-1-5zm0 3zm0-2zm0 0zm0 4zm0-1zm-1-1zm0 2zm0-4zm-1 2zm0-2zm0 2zm-1 1zm0-1zm0 0zm0 2zm-1-3zm0 1zm0 1zm0 0zm0 1zm-1-2zm0-1zm0 3zm-1-3zm0 0zm0 2zm-1 0zm0-2zm-1 2zm0-2zm0 2zm0-1zm0-3zm-1 0zm0 3zm-1-3zm0 1zm-1 2zm-1 0zm-1 0zm0-1zm0 3zm-1-1zm-1 0zm-4-2zm-2 4zm3 3zm4 2zm2-2zm0-3zm1 1zm0 0zm1-1zm1 0zm1 0zm0 1zm0-1zm1 5zm0-4zm1-1zm0 0zm1 0zm0 3zm0 0zm0-2zm0-1zm1 0zm1 0zm0 0zm0 2zm0-1zm1 4zm1-5zm0 0zm0 4zm0-4zm1 2zm0-1zm0 4zm1-2zm0-2zm0-1zm1 0zm0 5zm0-2zm1-3zm0 0zm0 1zm0 2zm0-2zm1 3zm0-2zm1 1zm0-1zm1 0zm0 1zm2-3zm1 3zm0 0zm1 2zm0-4zm1 1zm0 0zm0-2zm0 4zm1-2zm1 0zm0 3zm0-3zm0 0zm0 0zm1-1zm1 2zm0 1zm0 0zm1-4zm0 2zm0-1zm0 3zm2-3zm0 3zm2-1zm1 2zm0 0zm1-2zm0 0zm2 0zm1-2zm0 2zm0 0zm0 2zm1 0zm0 0zm0-1zm0 1zm1-1zm0-2zm0-2zm1 1zm0-1zm0 2zm0 2zm0-3zm0 2zm1-2zm0-1zm0 5zm0-5zm1 2zm0-2zm0 0zm0 1zm0-1zm0 2zm1 3zm0-1zm1-2zm0 3zm1 0zm0-4zm0-1zm0 3zm1-3zm0 4zm0 0zm1 0zm0 0zm0-3zm0 3zm0-1zm0 0zm0 1zm0 1zm0-2zm1-2zm0 3zm0 0zm1-4zm0 1zm0 3zm0-2zm0 3zm0 0zm0-1zm0-3zm0-1zm1 5zm0-3zm0 1zm0 1zm0-3zm0 0zm1 2zm0 1zm0-4zm0 4zm1 1zm0-2zm0 0zm0-1zm1 0zm0 2zm0-3zm1 0zm1 2zm0-3zm0 4zm1 0zm0-1zm0 0zm1-1zm0 0zm1 2zm0 0zm1-2zm0 3zm0 0zm1 0zm1-5zm4 3zm0 0zm1 2zm1-3zm1 3zm1-1zm26-3zm4-1zm0 0zm1 2zm1-1zm0-1zm1 2zm1-2zm3 0zm0 0zm0 0zm2 2zm2 0zm5 1zm0-3zm5 1zm1-1zm30 1zm2 3zm0-2zm2 0zm0-2zm1 0zm1 0zm0 4zm0-2zm1 2zm1-4zm0 2zm0-1zm1-1zm0 4zm0-3zm2 0zm0-1zm1 3zm0 1zm3 1zm0-4zm0 0zm1 0zm0 4zm0-2zm0-2zm1 0zm0 4zm1-3zm0-2zm1 2zm0 3zm0-1zm1 0zm0 0zm0-2zm0 1zm1 0zm1 1zm0-4zm0 1zm0 3zm0-1zm0 2zm1-1zm0 1zm1-5zm0 1zm1 0zm0 2zm0 0zm0 1zm0-4zm1 1zm1 3zm0 0zm1 1zm0-2zm1 1zm0 1zm0-3zm0 1zm1 2zm1-4zm0 1zm1-1zm1 3zm0 0zm0-2zm1 1zm0 0zm1-1zm1 1zm2 2zm1-2zm2 0zm0-2zm0 0zm0 0zm138 0zm0 0zm1 0zm1 2zm1-3zm3 1zm2-1zm7 2zm1-1zm0 0zm-169 5zm-9 1zm-2 1zm-1-2zm-99 1zm-2 0zm-1 0zm-4 2zm0-3zm0 2zm-1 0zm-1 1zm-1-2zm-1 0zm-1 3zm0-4zm-2 0zm-1 0zm-1 4zm-1-4zm0 2zm0-2zm0 0zm-1 4zm-1-1zm-1-1zm0 2zm0-4zm0 4zm-1-3zm0-1zm-1 0zm0 1zm-1 1zm0-1zm0-1zm-1 0zm0 5zm0-4zm-1-1zm0 0zm0 3zm0 1zm-2-4zm0 0zm0 2zm0 3zm-1-1zm-1-4zm0 3zm0-2zm0 1zm-1 1zm-2-2zm-1-1zm-1 3zm-1-3zm0 0zm-2 1zm-8-1zm-2 0zm-6 2zm-12-2zm-2 0zm-21 9zm2 2zm3 0zm0-2zm0 2zm2-2zm1 0zm0 2zm3 0zm1-2zm0 1zm0-1zm1 1zm5-1zm1 1zm4 1zm49-5zm171 4zm7 0zm1 1zm3-2zm2 0zm1 0zm1 1zm1 1zm0-1zm1 1zm1 0zm1-1zm0 0zm1-1zm5 2zm2 0zm0 0zm1-1zm4 1zm56 4zm0 2zm-4-2zm0 2zm-1-2zm-3 1zm-1 1zm0-1zm-3 1zm0 0zm-2-2zm0 0zm-2 1zm0-1zm-1 2zm0-1zm-1-4zm-1 5zm-1-1zm0-1zm0 0zm-1 0zm0 0zm-2-1zm0 3zm-2-3zm-1 2zm-3 1zm0-3zm-1 2zm-1-1zm-3 2zm-3 0zm-12-2zm-1 0zm-1-1zm-2 0zm0 1zm-1-2zm-1-1zm-1 2zm-2 1zm0 2zm0-5zm0 5zm-1-3zm-1 2zm0-4zm-1 5zm0 0zm0-5zm-1 5zm-1-1zm0-2zm-1 3zm0 0zm0-4zm0-1zm0 5zm0-4zm-2 1zm0 1zm-1-1zm-1 3zm0-1zm-1 1zm0-4zm0 4zm0-5zm0 5zm0-1zm0-2zm-1 3zm0-5zm0 3zm0 1zm-1-2zm0-2zm0 4zm0 1zm-1-2zm0 0zm0-3zm0 5zm0-2zm0-2zm-1 0zm0 1zm0 1zm0-3zm0 2zm-1 0zm0-2zm0 4zm0-3zm-1 3zm0 1zm0-1zm0-1zm0 2zm0-3zm0 1zm-1 1zm0 1zm0-1zm0-1zm-1-3zm0 5zm-1-5zm0 3zm0 0zm-2 1zm0-1zm0 1zm-1-1zm0 0zm0 2zm0-4zm-1-1zm0 2zm0 3zm0 0zm-1-2zm-1-1zm-1 3zm-1 0zm-1 0zm0 0zm-1 0zm-3-2zm-39 2zm-9 0zm-4 0zm-56-1zm-53 1zm-2-2zm-6-1zm-1 3zm0-2zm0 2zm-3-3zm0 0zm-1 3zm0-4zm0 2zm0 2zm0-3zm-1-1zm0 3zm0 1zm-3-4zm0 3zm-4 1zm-1-2zm0 2zm0-2zm-1 1zm0 0zm-1 1zm-1-2zm-1 0zm-1 0zm0 1zm-2 0zm0 0zm-2 1zm-4-3zm-1 3zm-4-1zm-9 1zm-3-4zm-1 4zm0-2zm0 2zm-2-1zm0 1zm0-2zm-1-2zm-1 0zm0 0zm0 0zm0 1zm-1 0zm-1 3zm0-1zm0 1zm0-4zm-1 0zm-1 1zm0 0zm-1 3zm0-2zm0-1zm0 1zm0-1zm-1 2zm0-1zm0 1zm-1 0zm0-2zm0 2zm-1 1zm0-5zm0 3zm-1 2zm0 0zm-2-1zm0 1zm0 0zm0-1zm0 1zm0-1zm-1-3zm0 1zm-1-1zm0 3zm0-2zm0 3zm0-4zm0 2zm-1-2zm0 0zm0 2zm-1 0zm0 0zm0 1zm0-2zm0 2zm0 0zm0-4zm-1 4zm0-1zm0 1zm0-3zm-1 3zm0 0zm0 0zm-1 0zm0-3zm0 1zm-2 2zm0-3zm0 0zm-1 4zm0-3zm0 3zm-1-1zm0 1zm0-1zm-1-1zm0-1zm0 1zm0 1zm0-3zm-1 4zm-2-5zm-2 4zm-2-1zm3 3zm1 0zm2 1zm0 1zm3-2zm0 1zm0-1zm1 2zm0 1zm1 0zm1 0zm0 1zm0-3zm0 1zm0-2zm0 2zm1 2zm1-2zm0 3zm1-3zm1-1zm0 1zm2-2zm1 0zm0 1zm0 1zm1 0zm0 2zm0-3zm0 0zm1 3zm0-3zm1 1zm1 3zm0-4zm1 1zm1 3zm0-5zm1 2zm0 0zm0 1zm1-1zm0-2zm2 3zm0 0zm2-3zm1 0zm1 0zm1 0zm4 0zm11 3zm1-2zm2 1zm0-2zm2 5zm0 0zm0 0zm1 0zm1-2zm1-3zm0 2zm1-2zm0 5zm1-5zm1 1zm1-1zm0 1zm0 2zm1-2zm0 2zm1 0zm0 1zm0-1zm1 1zm0-2zm0 2zm0 1zm0-5zm1 3zm0 0zm0-3zm0 3zm0-3zm0 3zm1 1zm0-2zm0-2zm0 5zm0-5zm1 2zm0 1zm0-3zm0 3zm0-1zm1 0zm0-1zm0 0zm0-1zm1 1zm0 0zm0 0zm0 4zm0 0zm0-1zm0-1zm0-3zm0 5zm0-1zm0-1zm0-1zm0 1zm1-1zm0 2zm0-1zm1 0zm1 2zm0-4zm0 3zm0-4zm0 1zm1 0zm0 1zm0 0zm0-2zm0 3zm1-1zm1 0zm0 0zm0 0zm0 0zm0 2zm0 1zm1-1zm0 0zm0-3zm0 1zm0 0zm0 1zm1-3zm0 2zm0-1zm1-1zm0 5zm0-4zm0 0zm1 0zm0 2zm0 2zm1-4zm2 0zm1 3zm0-3zm1 0zm4-1zm36 2zm1 2zm5-1zm1 2zm1 0zm0-3zm0 0zm0 2zm1 1zm1-2zm0 1zm0-3zm0-1zm2 5zm0-5zm0 5zm2-3zm0 1zm0 2zm0-1zm0-2zm1 2zm0 0zm1 1zm0-4zm1 2zm0 1zm0 1zm0 0zm0-1zm0-2zm1 2zm0-4zm1 2zm0 1zm0 1zm0-3zm1 4zm0-2zm0 2zm1 0zm1-2zm0-1zm0 3zm0-1zm1-1zm0 1zm1-1zm0 2zm0 0zm0-3zm1 3zm1-4zm0 3zm0-1zm2-2zm1 3zm2-3zm0 2zm1 0zm0-1zm1 2zm1-4zm0 5zm0-4zm2 4zm1 0zm4-1zm23 0zm2 0zm2 1zm0 0zm0-4zm0 0zm1 2zm2 1zm1-1zm1-2zm1 4zm1-3zm0 0zm3 2zm0-3zm0 3zm0 0zm0-2zm0 3zm1 0zm0-1zm0-1zm1 2zm0-1zm0-1zm1 1zm0-1zm0 1zm1 1zm0-3zm0 0zm1 2zm0-1zm1 1zm0 1zm0-1zm0 1zm0-5zm1 2zm0 3zm0 0zm0 0zm1-3zm0 2zm1 1zm0 0zm2-3zm0-2zm1 4zm0 0zm0 1zm1 0zm0-2zm1 2zm0 0zm2-3zm0 1zm3 1zm4-2zm1 0zm3 2zm25-3zm1-1zm1 1zm1 1zm0 3zm2-4zm1 3zm1 0zm1-3zm2 0zm0-1zm1 1zm1 2zm0-2zm0-1zm0 3zm1-1zm0 2zm1-4zm0 3zm0-2zm0-1zm0 0zm0 4zm1-3zm0-1zm0 3zm1-2zm0 4zm0 0zm1-2zm0-3zm1 4zm0-3zm0 0zm0-1zm1 3zm0-1zm0-2zm0 2zm0-2zm1 0zm1 1zm0 0zm0-1zm0 4zm1-3zm0-1zm0 1zm1-1zm0 1zm0-1zm0 1zm0-1zm1 2zm0 1zm0-2zm0 0zm0 0zm2-1zm9 1zm1 0zm13 0zm1 4zm1-2zm0 2zm0-5zm1 4zm0-3zm0 4zm1-4zm0 4zm0-2zm0-3zm0 0zm1 4zm1-1zm1 0zm0 0zm0 2zm1-4zm0 3zm1 0zm0 1zm0-4zm0 3zm0-1zm1-1zm0 1zm1 1zm0-2zm1 1zm0 1zm0-4zm0 1zm0-1zm0 2zm1 2zm0-2zm0-1zm0 2zm0 0zm0 2zm0-4zm1 1zm0 1zm0-2zm0 0zm1 2zm0 2zm0-2zm1-2zm0 4zm0-1zm0-1zm0-1zm1 1zm0-2zm0 3zm0 0zm1 0zm0-3zm0 4zm0-2zm0-1zm0 0zm0 0zm0 0zm0 0zm0 2zm1 1zm0-1zm0-2zm0 0zm1 1zm0 0zm1-1zm0 1zm1 1zm0-3zm0-1zm1 2zm0 3zm0-2zm0 0zm1 1zm0 1zm0-5zm0 2zm0 3zm0-4zm0 3zm0-2zm1 1zm0 2zm1-4zm0 3zm0 0zm0 0zm0-1zm0-3zm1 5zm0 0zm0-5zm1 1zm0-1zm0 3zm2-1zm0-2zm2 3zm0 0zm0-2zm2 3zm0 0zm0-3zm1 3zm0-1zm2-1zm0 0zm1-1zm3-1zm-1 6zm-6 0zm-4 0zm0 1zm-1 0zm-1 2zm-3-1zm-1 0zm-2 0zm-1 0zm-1 0zm0 3zm-1-5zm0 3zm0-3zm0 0zm-1 0zm-1 0zm-1 1zm0-1zm-2 1zm-1-1zm-1 1zm-2 0zm0 2zm-1-2zm-3 2zm-1 0zm-38-3zm-3 1zm-37 0zm-5 0zm-1-1zm-2 1zm-1 3zm-1-4zm0 1zm-1 1zm0 2zm0-4zm-1 1zm0 1zm0 0zm-1-2zm0 5zm-1-5zm-1 5zm0-5zm-1 0zm-1 1zm0-1zm0 2zm0-2zm0 1zm-1-1zm0 1zm0 2zm-1 1zm0 0zm0 1zm-1-4zm0-1zm0 2zm-1-2zm0 0zm0 0zm0 4zm0-2zm-1-1zm0 1zm0 2zm0-4zm0 2zm0 3zm0-5zm0 2zm0-1zm0 0zm-1 0zm0 0zm-1 0zm0 3zm0-1zm-1-2zm0 0zm0 0zm0-1zm0 0zm0 1zm0 4zm-1 0zm0-3zm0-1zm0 1zm0-1zm0 4zm-1-3zm0 1zm0-2zm0 0zm0 3zm0 0zm0-2zm-1-2zm-1 1zm0 4zm0-1zm0 0zm0-3zm-1-1zm0 2zm0-1zm0 2zm-1-2zm0-1zm0 0zm0 2zm0 3zm0 0zm-1-3zm0 3zm0-2zm0 0zm-1 2zm0-5zm0 0zm-1 0zm0 0zm0 3zm0 1zm-1-2zm0 3zm-1-1zm0 1zm-1-3zm-1 1zm0 2zm-1-4zm-1-1zm0 5zm0-5zm0 1zm0-1zm-1 0zm0 3zm-2 2zm-22-1zm-1-4zm-1 2zm0 0zm-1 1zm-1-3zm-1 4zm-1-2zm0 3zm-1-2zm-1 0zm-2 2zm0-5zm0 3zm-1 2zm0-3zm-1 0zm0 2zm0-1zm0 0zm0-3zm0 2zm-1-2zm0 1zm0-1zm-1 0zm-1 3zm0 1zm0-4zm0 1zm0 0zm-1-1zm0 1zm0-1zm0 2zm-1 1zm-1-3zm0 5zm0 0zm0-1zm-1-1zm0 1zm0 0zm0-3zm0 2zm0-3zm-1 3zm0-1zm0 3zm-1-5zm0 3zm0-1zm0 0zm-1 0zm0 0zm0 0zm0-2zm-1 0zm0 0zm0 2zm0 1zm0-2zm0 1zm-1-2zm0 1zm0 0zm0 0zm0 2zm0-3zm-1 5zm-1-5zm0 4zm0 0zm0-2zm-1 0zm0 2zm0-4zm0 2zm-1-2zm0 1zm0-1zm-1 1zm-1 0zm0 1zm-1 0zm0 0zm0-1zm-2 0zm0 3zm-1 1zm0-5zm-2 1zm-1 1zm-2-2zm-4 0zm-37 2zm-5-2zm-2 1zm-2-1zm0 0zm0 4zm-1-2zm0-1zm0-1zm0 0zm-1 0zm0 0zm0 0zm-2 0zm-1 0zm-1 0zm0 2zm-1-2zm0 1zm-1-1zm-1 1zm-1 0zm0-1zm-1 1zm0 0zm-1 1zm-1-1zm0 1zm0 0zm-1-2zm-1 3zm-1 0zm-1 0zm0 1zm-1-4zm0 2zm-1 0zm0-1zm-3 2zm-1-1zm-3-1zm-29-1zm-6 0zm-20 11zm0 0zm38-3zm4 2zm1 1zm1 0zm1-2zm0 1zm0 0zm2-1zm1 1zm0 0zm1 0zm1-2zm4 3zm0 0zm1 0zm0-2zm1 0zm2 2zm0-4zm0 2zm1-1zm0 2zm1 1zm0-1zm2 1zm1 0zm0 0zm1 0zm0-3zm0 3zm0 0zm2 0zm0-2zm0 2zm2-1zm1 1zm1 0zm1-2zm0-1zm0 3zm2 0zm1 0zm69-4zm1 0zm3 0zm0 0zm4 2zm1-3zm2 1zm0 0zm1 1zm0 1zm1-3zm4 2zm1-2zm0 0zm2 1zm2 0zm17 4zm1-4zm0 1zm3 1zm0 1zm0-2zm1 2zm0-1zm0-2zm0 2zm2-2zm3 4zm1 0zm0-5zm0 0zm1 2zm0-1zm1 0zm0 3zm0 1zm0-2zm1 2zm0 0zm1 0zm0-1zm1-2zm0 3zm1 0zm0-2zm0-2zm1 3zm0 0zm0-1zm0 2zm0 0zm0-3zm0 3zm1-1zm0 0zm0 1zm0 0zm1-4zm0 1zm0 1zm0 0zm0 1zm0 1zm0-4zm1 0zm0 1zm0 0zm1-1zm0-1zm0 5zm0-5zm0 1zm0 4zm0-1zm0 0zm0-3zm1 3zm1-3zm0 1zm0 2zm1 0zm1-4zm0 3zm0-2zm0 0zm0 4zm1-4zm0 2zm0-2zm0 4zm1-1zm0-1zm2-3zm0 4zm0-1zm0-2zm0 2zm1-3zm0 0zm0 2zm0-1zm1 0zm1 0zm0 0zm0 1zm0 2zm0-4zm0 0zm1 5zm1-3zm0 1zm0 1zm0 1zm1-2zm0-1zm1 2zm0-3zm1 0zm0-1zm1 0zm2 4zm1-4zm0 4zm1 0zm37 7zm0-1zm-7 1zm-3-1zm-2 1zm-2-1zm-4 1zm-21-4zm-8-1zm-1 2zm-1 0zm0-2zm-1 0zm0 2zm-1-2zm0 4zm0-1zm0-3zm-1 2zm0-1zm0-1zm-1 1zm0 0zm0 1zm0 3zm-1-5zm0 3zm-1-1zm0 0zm-1-2zm0 0zm0 3zm-1-2zm0 2zm0-1zm0-1zm0-1zm0 2zm-1 2zm0-3zm0 1zm0 1zm-1-3zm0 0zm0 0zm0 4zm-1 1zm0-4zm-1 1zm0 1zm0-2zm0-1zm0 0zm-1 2zm0 0zm0-2zm-1 1zm0 2zm-1-2zm0-1zm0 0zm0 3zm-1-3zm0 3zm0 0zm-1-3zm0 3zm-1-3zm-1 0zm-1 1zm0 0zm0 0zm-2 0zm0 0zm-1 1zm-4-1zm-2 1zm0-1zm-108 4zm-1-3zm-2-1zm-1 1zm-1 3zm0 0zm-1 0zm-1-1zm0 1zm-1-3zm-1 0zm0 2zm0-1zm-1-1zm0 3zm0-1zm0-4zm0 2zm-1 2zm0-4zm0 3zm-1 1zm0 0zm0-3zm0 4zm-1 0zm0-4zm0 1zm0 0zm-1 1zm-1 2zm0-3zm0-1zm-1 1zm0 2zm0-1zm0-2zm0-1zm-1 2zm0 3zm-1-5zm0 4zm0 1zm0-4zm0 1zm0 2zm-1-2zm0 3zm0 0zm0-5zm0 5zm0-5zm0 3zm0 0zm0-2zm-1 0zm0-1zm-1 1zm-1 2zm0-3zm0 2zm0 0zm0 0zm-1-2zm0 4zm0-3zm0 0zm0 4zm-1 0zm0-3zm-1 1zm0 2zm0-3zm0-2zm-1 0zm0 1zm0-1zm-1 3zm0 2zm0-3zm0 3zm-1 0zm0-4zm0 3zm0-1zm-1-3zm0 1zm0 2zm0-1zm0 1zm0-1zm-1 2zm0-2zm0 0zm-1 1zm0-1zm0-1zm0 2zm-1-2zm0 2zm0-1zm-1-1zm0 0zm0 3zm0-1zm-1-3zm-1 1zm-1-1zm0 1zm0-1zm-1 2zm-4 2zm-1 1zm-19-1zm-5-4zm0 5zm-3-4zm-1 4zm0-1zm0-1zm-1 0zm-2-1zm-1 0zm0-2zm0 5zm0 0zm0 0zm0-1zm-1-3zm0 3zm0 0zm0-1zm-3 1zm0-2zm0 2zm0-2zm0 3zm-1-4zm0 3zm0 1zm-1-1zm0 0zm-1 1zm0 0zm-1-1zm0 0zm0 1zm-1-5zm0 2zm0 3zm-1 0zm0 0zm0-3zm-1 3zm-1-2zm0-3zm0 3zm-1 1zm0-3zm0 1zm-1 2zm0-2zm0 3zm0-3zm-1 1zm-2-3zm0 2zm-2 3zm-2 0zm-1-2zm0 2zm-3 4zm5-3zm0 2zm0 1zm1 1zm0-2zm0-1zm0 4zm0-3zm1-1zm0 0zm1 3zm0-4zm0 4zm0 0zm1 0zm0-4zm1 1zm1-1zm0 0zm2 0zm0 0zm0 3zm0 0zm0-3zm0 3zm0-3zm1 0zm0 2zm0 0zm1-2zm1 0zm0 4zm0-4zm0 5zm1-4zm0 2zm1-2zm0 0zm0 4zm1-5zm0 0zm0 3zm0 0zm0 2zm1-2zm0-1zm0 3zm0-4zm1 3zm1-3zm0 1zm1 0zm0-1zm0 4zm0-2zm0-1zm0 1zm0-1zm0 1zm1-3zm1 2zm0 3zm0-5zm1 5zm0-2zm0-3zm1 1zm0 1zm0 3zm0-5zm1 5zm0-1zm1-3zm0-1zm1 1zm0 4zm0-4zm0 0zm1 3zm1-3zm0 3zm0-2zm1 1zm0-1zm1 0zm0-1zm1 0zm3 0zm26 0zm3-1zm1 0zm1 2zm0 1zm2-3zm4 1zm0-1zm1 2zm0 0zm0-2zm1 1zm1 3zm2-1zm0-3zm0 2zm0-1zm1 0zm1-1zm0 0zm0 1zm1-1zm2 4zm3-2zm0-1zm8 3zm1 1zm2 0zm1-1zm0 0zm1 1zm1-3zm0 2zm1 0zm2-1zm1 2zm5 0zm2-2zm0 2zm1 0zm0 0zm3 0zm1 0zm5-2zm105-3zm31 4zm2 0zm0-1zm0-1zm1-1zm1 2zm2-3zm0 5zm1-1zm0-1zm0-3zm0 3zm1 1zm0-2zm1 0zm0 2zm1-2zm0 3zm0-2zm2-3zm0 1zm0 3zm1-3zm0 2zm0-1zm1 3zm0-2zm0 0zm1 2zm0-2zm2 1zm0 1zm0 0zm0-3zm1 1zm0 0zm0 1zm0-1zm0 0zm0 1zm0 0zm1-2zm0 2zm0 0zm1-4zm0 1zm1 3zm0-4zm0 3zm0-3zm1 3zm0 2zm0-2zm0 1zm0 1zm0-1zm0 0zm1-3zm0 1zm1 1zm0 2zm0-3zm1 1zm0 2zm0-4zm0-1zm2 4zm0-2zm1 3zm0-1zm0-2zm0-1zm0 2zm0 1zm0 0zm0 0zm1-3zm0 1zm0 3zm3-4zm1 4zm0-1zm1-3zm0 3zm0-2zm1-2zm3 5zm0-3zm29 9zm-29-3zm-1-1zm-3 0zm0 3zm0-1zm0-3zm-1 0zm0 2zm-1 2zm-1-1zm-1-3zm0 5zm-1-2zm-1-2zm-1-1zm0 0zm0 5zm0-3zm0 0zm-1 0zm0 3zm0-2zm-1-1zm0-2zm0 2zm-1 2zm0-3zm0-1zm0 1zm-1 2zm0 1zm0-3zm0-1zm0 0zm-1 3zm0-1zm0-1zm0 2zm-1 0zm0 2zm-1-4zm0-1zm0 2zm-1-1zm0-1zm0 2zm0 0zm0 1zm0-2zm-1 0zm0 0zm0-1zm0 0zm-1 3zm0-3zm0 2zm0 3zm0-3zm-1-2zm0 0zm0 1zm0-1zm-1 1zm0 2zm-1 1zm0-4zm0 4zm0-3zm-3 2zm0-1zm0-1zm-1-1zm0 0zm0 0zm-2 4zm-1-4zm-1 1zm-2 1zm0-1zm-3 1zm-133 0zm-2-1zm-1 4zm0-1zm0-3zm0 0zm-1 2zm0-1zm-2 3zm-1-1zm0-3zm0 0zm-1 2zm0 1zm0-2zm-1 2zm0-1zm0-1zm-1 1zm0 1zm-1 0zm0-2zm0 3zm0-5zm0 2zm-1-1zm0 2zm-1-3zm0 4zm0-3zm-1 3zm0-1zm0-1zm0 2zm0-1zm0 2zm-1-2zm0-2zm0 3zm0-1zm0-1zm0 0zm0 1zm0-2zm0 0zm0-1zm-1 1zm0 4zm0-1zm0-3zm0 1zm0 2zm-1-3zm0 2zm0 1zm0-2zm0-1zm-1 3zm0 1zm0 0zm-1-4zm0 1zm0 3zm0-5zm-1 0zm0 1zm0 0zm0 1zm0 3zm0-4zm-1 4zm0-1zm0 1zm0 0zm-1 0zm0-3zm0 2zm0-3zm-1 2zm0-2zm0 3zm-1 0zm0-2zm0 0zm0 3zm-1-5zm0 3zm0-3zm-1 5zm0-4zm0 1zm-1 3zm0-3zm0 1zm-1 2zm-1-4zm0 4zm-1-1zm-1-3zm-1 3zm0 1zm-1 0zm0-3zm0 0zm-1 1zm-1-2zm-1 2zm0-2zm-1 3zm-2-3zm-65-1zm-1 0zm-3 2zm-1 0zm-3 0zm-5-2zm-2 0zm-1 2zm84 6zm2 0zm0 0zm1 2zm2-3zm2 0zm0 1zm0-2zm1 2zm1-2zm0 4zm0-4zm0 4zm1-1zm0-3zm1 0zm0 0zm1 3zm1 0zm1-1zm1-2zm1 0zm0 3zm1-1zm0-2zm1 0zm0 3zm1-2zm0 0zm1 4zm1-3zm0 2zm0-1zm1-3zm1 1zm0 0zm1-1zm0 3zm1 2zm0-4zm0 3zm1-4zm1 2zm0 3zm0-5zm4 3zm1-1zm0-2zm2 2zm1-1zm146 0zm8 0zm0-1zm5 1zm4-1zm14 3zm6 0zm4-2zm1 2zm0 0zm0-3zm0 0zm1 4zm1 1zm0-5zm0 4zm1 0zm1 0zm1 1zm1 0zm0 0zm0-4zm1-1zm0 1zm1 1zm1 1zm0 2zm0-1zm1 0zm0-2zm1 3zm0-2zm1-2zm0-1zm0 1zm0 4zm0-1zm1-2zm3 3zm1-2zm0 1zm1 1zm1-5zm0 5zm1 0zm0 0zm0 0zm1-2zm0-1zm0 2zm1-1zm0-2zm0 3zm1 0zm0-2zm1 2zm0-1zm0-1zm1 1zm0 0zm3-1zm1 3zm3 1zm-2 3zm-1 2zm0-1zm-4 1zm0-1zm-1-1zm0 0zm0 2zm0-4zm-1 2zm-1-2zm-1 0zm-1-1zm-1 2zm0 1zm0-1zm0 1zm0 0zm-1-2zm0 2zm0-1zm0-2zm-1 0zm0 1zm-1 1zm0 2zm0 0zm0-2zm0 0zm0-2zm0 3zm-1-2zm0-1zm-1 5zm-1-3zm0 1zm0-1zm0-2zm-1 2zm0 3zm0 0zm0-4zm-1 1zm0-1zm0 1zm0 0zm0 1zm0-1zm0 1zm0 1zm-1-2zm0 1zm0-1zm0-2zm-1 0zm0 1zm0 3zm-1 0zm0 0zm-1-4zm0 1zm0 0zm0 3zm0-2zm0 2zm0 1zm0-1zm0-1zm0 0zm-1-3zm0 4zm0-3zm-1 4zm0-4zm0 3zm-1-1zm0 0zm0-1zm0-2zm-1 1zm0 0zm0 0zm-1 2zm0-3zm-1 0zm-1 1zm0 2zm0 0zm0-2zm0 4zm-1-4zm0-1zm0 0zm-1 3zm0-1zm-1 0zm0 0zm0 2zm-1-2zm-1-1zm0 4zm0-3zm-3-2zm-1 1zm-2-1zm0 4zm-195-4zm201 6zm1 0zm0 0zm3 0zm2 2zm5-2zm3 2zm1-1zm3-1zm0 1zm1 0zm0 0zm2-1zm2 0zm3 0zm-237 16zm0 1zm6-2zm0 2zm3-3zm0 3zm1-2zm1 2zm0-1zm1 1zm0 0zm0-1zm1 0zm1 1zm0 0zm1 0zm0-1zm1 0zm2-2zm1-1zm0 4zm1 0zm0-1zm1 1zm2 0zm1-1zm1-1zm1 1zm3 1zm3 0zm28 0zm6 0zm1 0zm2-1zm0 0zm0 0zm2 0zm1 1zm1-4zm0 3zm2-1zm2-2zm2 3zm7 0zm68 0zm2 1zm2-2zm3-1zm4 3zm0-1zm2-1zm1 0zm1 0zm1 0zm0 0zm1 0zm1 1zm1-1zm2 0zm0 2zm5-2zm2 0zm0-1zm3 3zm7-1zm3 4zm-3 2zm-1-1zm-1 1zm-1-3zm0 1zm-1 0zm-1 2zm0 0zm-2-1zm0-2zm-1 3zm0-3zm-1 1zm0 3zm-1 0zm0-4zm-1-1zm0 1zm0 0zm0 3zm0-4zm-1 3zm0-1zm0 3zm-1-1zm-1-1zm0-2zm0 2zm0-3zm0 0zm0 3zm-1 2zm0 0zm0-4zm0 2zm-1-1zm0-2zm0 5zm0 0zm-1-2zm0 0zm0-3zm0 1zm0 2zm0 2zm0-3zm-1-2zm0 3zm0 2zm-1-4zm0 4zm0-5zm-1 0zm0 2zm-1 3zm0-5zm0 4zm0-1zm0 2zm0-4zm0 1zm-1 2zm0 1zm0 0zm0-2zm-1 2zm0-2zm0-1zm0-2zm0 2zm-1 1zm0 2zm0-3zm0 0zm-1 1zm0-1zm0 1zm-1 0zm0 2zm0-1zm0 0zm0 0zm-1 0zm0 1zm0-3zm0-1zm0 4zm-1-3zm0 2zm0-4zm-1 3zm0 0zm0 2zm-1-3zm0 2zm0 1zm-1-2zm-1 1zm0-4zm-1 2zm0 1zm0-2zm-1 4zm-3-4zm-1 0zm-2 1zm-26 3zm-32-4zm0 1zm-2-1zm0 2zm-2 1zm-2-3zm0 1zm0 1zm-1 0zm0-1zm-1 1zm-1-1zm0 3zm0-1zm0 0zm0 0zm0 0zm-1-4zm-1 5zm0-4zm0 1zm0 3zm0-1zm-1 0zm0 0zm0-3zm-1 1zm0 3zm-1-3zm0-1zm0 2zm0 1zm-1-1zm0-2zm0 2zm0 0zm-1-2zm0 1zm0 0zm0 3zm-1 0zm0-4zm0 0zm0 3zm-1-2zm0 3zm-1-5zm0 2zm0 0zm0-1zm0 2zm0-1zm0 0zm-1 0zm0-2zm0 1zm0 1zm0-1zm-1 2zm0-3zm0 0zm0 2zm-1 2zm0 1zm0-5zm0 1zm0 2zm0 1zm-1-4zm0 1zm-1 3zm0 1zm0 0zm0-5zm-1 5zm0 0zm0-2zm-1 1zm0 0zm-1 1zm0-2zm0 1zm0-2zm-1-1zm0 4zm0-1zm0-3zm0 1zm0 1zm-2 2zm0 0zm0-4zm-2 3zm-1-3zm0-1zm0 1zm-1 2zm0 2zm-1-3zm0 2zm0 1zm0-3zm-2 2zm0-2zm-1 1zm-1 2zm0 0zm-2-1zm-2-2zm-12 1zm-3 0zm-2 1zm0-1zm-1-1zm0 1zm-1-2zm0 1zm-1 2zm0-2zm0 0zm-2-1zm-1-1zm0 2zm0 0zm-1 2zm-2 1zm0 0zm0-4zm0 4zm0-4zm-1 0zm0-1zm-1 2zm0-2zm0 1zm-1 1zm0 1zm0-1zm0 2zm-1-4zm-1 3zm0-1zm0 2zm0 1zm0-1zm-1-2zm0-1zm0 0zm0 4zm0-1zm-1 0zm0-2zm0 2zm-1-2zm0-2zm-1 2zm0 3zm0 0zm0 0zm-1-2zm0-1zm0-2zm0 0zm0 3zm0-3zm0 4zm0 0zm-1 1zm0 0zm0-3zm-1 0zm0 3zm0-3zm0 3zm0-4zm-1 0zm0 2zm-1 1zm0-4zm0 5zm-1-5zm0 0zm0 3zm0-1zm0 2zm-1 0zm0-1zm-1-1zm-1 3zm0-3zm-1 2zm0-3zm0-1zm-1 5zm0 0zm-1-2zm0-3zm-1 0zm0 4zm-1-3zm0 4zm0-4zm0 0zm0 1zm-2 0zm0 1zm0-1zm0 1zm0-2zm-2 2zm-17 0zm-3 0zm-1-2zm0 4zm-1-4zm0-1zm-1 1zm0 3zm0-3zm-1 4zm-2-5zm0 4zm-1 1zm-1-3zm0 2zm-1 1zm-3-4zm0 4zm-1-3zm0 2zm0 0zm0-2zm-1 3zm0-1zm-1 0zm0-2zm0 2zm-1 0zm0-1zm-1 2zm-1-3zm-1-1zm-1 3zm0-1zm-1 2zm0 0zm-1 0zm-1-3zm-1-1zm0 3zm-1 1zm-2-2zm-6 2zm-41 6zm3 0zm39-5zm1 3zm0-2zm1 2zm1-1zm0-1zm2-1zm0 5zm1-2zm1-3zm0 3zm1 1zm1-2zm0 3zm0-2zm0 0zm1-3zm0 0zm0 0zm0 1zm0 4zm0-4zm1 1zm0 0zm0-1zm0 2zm0-1zm1 1zm0-2zm0 3zm0 1zm0-2zm0 2zm0-3zm1 0zm0-1zm0-1zm0 3zm0 1zm1-4zm0 1zm0 3zm0-3zm1 4zm1-5zm0 4zm1-4zm1 2zm0 2zm0-4zm0 1zm0-1zm0 4zm0-3zm0 2zm1-3zm0 2zm1 0zm0 1zm0 0zm1-3zm0 5zm0-3zm1 0zm0 0zm1 2zm0-1zm1-2zm0 0zm0 3zm0-3zm0 3zm0-4zm1 0zm0 3zm0 1zm0-4zm0 4zm1 1zm0-1zm0 1zm0-4zm0 3zm1-2zm1 0zm0 0zm0 1zm1-3zm0 1zm0 2zm1 1zm1-3zm1 0zm0 1zm1 2zm0 1zm0-2zm0-3zm1 0zm0 2zm3 1zm0-3zm1 2zm2 1zm0 1zm2-1zm8-2zm1 0zm4-1zm1 2zm1-2zm1 1zm1 1zm0 0zm0-2zm1 0zm1 1zm1 1zm1-2zm0 0zm1 4zm0-4zm1 5zm0-1zm0-1zm1-2zm1 0zm1 0zm1-1zm0 3zm0-1zm1 3zm0-2zm0-1zm0-2zm1 0zm0 2zm0 0zm0 0zm1-2zm3 1zm0 0zm1 0zm1-1zm0 1zm1 3zm0-1zm1-3zm3 0zm1 0zm0 2zm1-2zm0 1zm3-1zm4 0zm15 1zm6 0zm2 1zm1-2zm0 4zm0-3zm0-1zm1 1zm0 3zm1-2zm2-1zm1-1zm0 5zm0-2zm1-3zm0 0zm0 3zm0-1zm1 3zm1-4zm0 4zm0-1zm0-4zm0 1zm1 1zm0-2zm0 1zm0-1zm0 1zm1 1zm0-2zm2 4zm0-3zm1 4zm0 0zm0-4zm0 4zm1-3zm0-1zm0 0zm0 3zm1-3zm0-1zm1 0zm0 1zm1 4zm0-3zm0-1zm1 4zm2-4zm2 2zm1-1zm1 0zm1-2zm0 1zm0-1zm1 1zm10 3zm2-2zm3 1zm1 0zm0 1zm4-1zm0-3zm0 3zm1-2zm0 4zm0-2zm1-2zm0 4zm1-2zm0-1zm1 3zm0-2zm0-2zm1 3zm0 0zm0 1zm0-2zm0 1zm1 1zm0-5zm0 3zm0-2zm0 2zm1 1zm0-2zm0 2zm0 1zm0-2zm1 0zm0 0zm0 0zm0 1zm1 1zm0-3zm1 1zm0-1zm1 2zm0-1zm1-1zm0 0zm0 3zm1 0zm1 0zm1-1zm0-1zm0 2zm0-2zm1 2zm1-2zm0 0zm0 2zm0-3zm0 1zm1 2zm0-1zm1 0zm0-4zm0 2zm1 0zm1 2zm0-1zm1 2zm0-2zm1 0zm5 0zm2 1zm14-3zm5-1zm4 0zm1 1zm0 0zm2 1zm1-1zm0-1zm1 1zm0-1zm0 3zm0-3zm2 0zm0 0zm0 0zm1 0zm0 1zm0-1zm1 1zm1 3zm0-4zm1 0zm0 2zm0-1zm0-1zm1 2zm1 1zm0-3zm1 3zm0-3zm1 1zm0 2zm0-3zm0 3zm1-2zm1 3zm0-2zm0-2zm0 2zm1-2zm0 3zm0 0zm2-2zm1 0zm1 0zm0 0zm3-1zm1 0zm4 1zm2-1zm-20 6zm-2 0zm-31 4zm-3-4zm-1 1zm-1-1zm0 1zm-1 0zm-1 2zm-1 0zm0 2zm-1-4zm0 3zm0 0zm0-3zm-1 0zm0 2zm0-2zm0-1zm0 0zm-1 0zm0 2zm-1 0zm0-1zm-1 1zm0-1zm-1 4zm0-2zm-1-3zm-1 4zm0-2zm0-2zm0 3zm0 1zm-1-2zm-1 0zm0-2zm0 0zm0 0zm0 3zm0-2zm-1 2zm0 0zm0 0zm0-2zm-1 1zm0-1zm-1 0zm0 1zm0 2zm-1 1zm0-3zm0-1zm-1 3zm-1-3zm-1 0zm0 0zm0-1zm0 3zm0-2zm-1-1zm0 0zm0 2zm0 1zm-1 2zm0-4zm0 3zm0-4zm0 3zm0-1zm-1 0zm0 2zm0-2zm0 3zm-1-3zm0-2zm-1 0zm0 3zm0-1zm0-1zm0 4zm0-3zm-1 1zm0-2zm0 1zm0-2zm0 1zm0 4zm-1-5zm0 0zm-1 1zm0 1zm0-2zm-1 5zm0-4zm0-1zm0 1zm-1 3zm0-4zm0 5zm-3-4zm-29 3zm-6 1zm-1 0zm-1-2zm-2 2zm-6-2zm-1 1zm-1 0zm0 0zm0 0zm0-2zm-1 0zm-1 1zm-2 2zm-1-1zm-2 0zm0-1zm-66-1zm-3-1zm-1 1zm-1-1zm-1 0zm-1 1zm-1-1zm0 1zm0 1zm0-3zm0 1zm-3-1zm-2 2zm0-2zm-2 2zm0-2zm0 1zm-1 0zm0 1zm-1-1zm0 0zm-1 1zm0 0zm-1 2zm0-3zm-2 1zm0-2zm-1 1zm-1-1zm-3 2zm-1-1zm-29 2zm-1 1zm-5-2zm0 0zm-1 2zm-1-1zm0 2zm-1-2zm0-1zm-1 2zm0-1zm0-1zm0 2zm-1-3zm0 0zm-1 2zm0 2zm0-3zm0 2zm0 0zm-1 0zm0 0zm0 1zm-1 0zm0 0zm0-2zm0-2zm-1 3zm0-4zm0 2zm0 0zm0-1zm0 3zm-1 0zm0-2zm-1-2zm-1 5zm-1-5zm0 4zm-1-4zm0 5zm-1 0zm0 0zm0-1zm0 1zm0-3zm0 3zm-1-3zm-1 2zm0-2zm0 0zm0 0zm0 3zm0-3zm-1-1zm0 3zm0-2zm0 1zm0 2zm-1-4zm0 0zm0-1zm-1 4zm0 1zm-1-2zm0-3zm-6 7zm5 1zm0 1zm2-3zm0 4zm1-4zm1 2zm0 0zm1-1zm1-1zm0 4zm0-4zm2 3zm1-2zm1 0zm0-1zm0 0zm2 2zm0-2zm1 0zm0 0zm0 4zm0-4zm1 4zm0-4zm1 0zm1 4zm0-4zm0 1zm0 1zm0-2zm2 0zm0 1zm0 0zm0-1zm1 2zm0-2zm1 0zm0 4zm5-3zm111 1zm2 2zm1-4zm1 5zm0-5zm2 3zm0 1zm2-2zm0-2zm1 5zm0-2zm0-1zm2 3zm0-5zm0 3zm1-1zm0 2zm0 0zm0-4zm1 2zm0-2zm0 3zm0 2zm1-3zm0 1zm0 1zm1-3zm0 1zm0 2zm0 0zm1-2zm1 3zm0 0zm0-3zm0-2zm0 4zm1-2zm0 3zm0 0zm0-3zm1 3zm0 0zm0-1zm0-2zm0-1zm1 3zm0 1zm0-1zm0 0zm0 0zm0-1zm1-2zm0 2zm0-1zm1 0zm0 3zm0-2zm0-3zm0 5zm1-4zm0 1zm0 0zm0-2zm0 3zm1 1zm0-1zm1-3zm0 2zm0 3zm1-4zm0 3zm0-3zm1 4zm0-2zm1-1zm0 3zm0-3zm1 0zm0 0zm0 0zm0 2zm1 0zm0 0zm0-2zm0 2zm0 0zm0 1zm0-1zm0-3zm1 2zm0-1zm1 1zm0-3zm0 1zm0 3zm0-3zm0 2zm1 1zm0 1zm0-2zm1 1zm0 0zm2 0zm2 0zm0-1zm1 1zm0 1zm2 0zm1 0zm0-1zm2-2zm29-2zm2 0zm0 2zm2-1zm0-1zm5 0zm3 0zm4 0zm4 3zm1-3zm5 4zm2-1zm1-3zm1 3zm0 0zm1 1zm1-2zm0 2zm0-4zm1 0zm0 5zm1-4zm0 4zm0 0zm2 0zm0-1zm1 0zm0-1zm1-1zm0 2zm1-1zm0 1zm0-2zm1-1zm0 1zm0 3zm1 0zm0-1zm2-1zm1 0zm1 2zm0 0zm1-4zm1 0zm1 4zm0 0zm0 0zm3 0zm2 0zm1-2zm8 7zm0-1zm-5-3zm0 0zm0 2zm0 1zm-1-1zm-1-1zm-1 0zm-1-1zm-1 3zm0 0zm-1-3zm0 2zm-2 3zm-1-3zm0 2zm-1-4zm0 5zm0-5zm0 1zm0 0zm0-1zm-1 4zm0-4zm-1 1zm0 0zm0 2zm0-2zm0 1zm0-1zm0 0zm-1 4zm0-3zm0-2zm0 4zm-1 1zm0-3zm0 0zm0 2zm-1-2zm0 0zm0-1zm0 3zm0-3zm-1 2zm0 1zm0-3zm0 0zm0 3zm-1-2zm0 1zm0-1zm-1 1zm0-2zm0 4zm0-3zm0 0zm0 3zm-1-5zm0 1zm0 0zm0 3zm-1 0zm-1 0zm0-1zm-1 0zm0-2zm0 4zm0-4zm0-1zm-1 1zm0-1zm0 0zm0 0zm0 3zm0 2zm-1-5zm0 0zm0 2zm0 0zm-1 1zm0-2zm0 0zm0 2zm0 0zm-1-3zm0 0zm0 3zm0-2zm0-1zm0 2zm0 0zm-1-1zm0-1zm0 1zm-1 3zm0-1zm-1 2zm-1-2zm0 0zm0-3zm0 2zm-1-2zm0 3zm0 0zm-1-3zm0 2zm-1 2zm-1-4zm-5 2zm-1 0zm-50 1zm0-1zm0 1zm0 0zm-3-3zm-1 1zm-1 4zm-1-5zm-1 0zm-1 1zm-1 0zm0 2zm-2-2zm0-1zm-1 4zm0 0zm-1-2zm-1 0zm0-1zm0 4zm0-4zm-1 0zm0 0zm0-1zm0 4zm0-3zm-1 0zm-1-1zm-1 1zm-1 0zm0 1zm-1-1zm0 3zm-1 0zm-1-4zm0 0zm-1 5zm0-4zm-1 0zm0 4zm-1 0zm0-4zm-2-1zm-2 0zm0 4zm-3-3zm-2 0zm-2 1zm-2-2zm-110 9zm3 0zm2 0zm0 1zm2 1zm1 0zm0-1zm0 1zm1-3zm1 0zm0 2zm0 1zm0-1zm1 0zm1 0zm1 1zm1-3zm0 2zm1-2zm1 1zm1 2zm0-3zm1 3zm2-2zm1 1zm2-3zm0 1zm4 1zm1 2zm1-1zm50 1zm50-5zm2 0zm3 0zm72 0zm0 1zm4-1zm1 1zm0 2zm1-2zm0-1zm3 1zm2 1zm2-1zm0-1zm2 0zm1 1zm0-1zm1 2zm0-1zm1 3zm0-4zm0 1zm1 2zm2-3zm0 2zm1-1zm0 1zm2-1zm1 1zm5-2zm-35 11zm-112-2zm-1 0zm-1 1zm-2 1zm-1-1zm-3-1zm0 2zm-2-3zm0-1zm0-1zm-1 3zm0 2zm-1-1zm0 0zm-1-2zm-1 3zm0-4zm-1 1zm0 2zm-1-3zm0 4zm0-3zm0-1zm0 3zm0 1zm-1 0zm-1-1zm-1-2zm-1 3zm0-1zm-1-2zm-1 3zm-1 0zm0-5zm-2 3zm-1 2zm-1-1zm0 1zm-1 0zm0-1zm-1 1zm0-2zm-2 1zm-3 1zm-22-3zm-1 1zm0 1zm-2-2zm0 2zm-1-4zm-1 3zm0 0zm0 0zm0-1zm-1-1zm0-1zm0 2zm-1 2zm-1-2zm-1-2zm-1 4zm0 1zm-1-3zm0 0zm0 2zm0-1zm0 2zm-1 0zm0-1zm0-3zm0 1zm0-2zm-1 0zm0 1zm-1 0zm-1 3zm0-3zm0 2zm0-2zm0-1zm-1 2zm0 0zm0 1zm-1 2zm0-3zm0 1zm-1-1zm0 0zm0-2zm0 4zm0-1zm0-1zm0 3zm0-1zm0-3zm-1 2zm0 2zm0-1zm0-1zm0 1zm0-3zm0-1zm-1 1zm0 1zm0 3zm0-3zm0 3zm-1-4zm0 3zm0-2zm0-2zm0 1zm-1 4zm0-2zm0-3zm0 5zm0-1zm0-2zm-1 1zm0 2zm0-2zm0-2zm0 3zm0-4zm-1 4zm0-4zm-1 1zm0 1zm0 3zm0-5zm0 1zm-1 1zm0-1zm0-1zm-1 2zm0 0zm0 1zm0 0zm0 0zm-1 2zm-1-1zm0-1zm0-1zm0 1zm-2 2zm0-4zm-1 1zm-2 1zm-1 2zm-2-5zm-1 1zm0 7zm0-2zm2 0zm4 0zm0 3zm2-3zm0 0zm0 1zm2 0zm0 2zm0-1zm1-2zm2 1zm1 4zm1-5zm2 2zm2 3zm0-4zm0 1zm0-2zm2 0zm1 3zm0 0zm1-2zm1 1zm1-2zm0 0zm0 1zm1-1zm0 2zm1-2zm0 1zm0-1zm0 5zm1-3zm1-1zm0 2zm1-1zm0 1zm0-3zm2 1zm1 2zm4-3zm18 1zm0 1zm3-2zm1 4zm0 0zm1-2zm1-1zm1 1zm1 1zm0 1zm1 1zm1-4zm0-1zm1 0zm0 2zm0-1zm1 4zm0-1zm1-3zm0 1zm2 2zm1-3zm0 2zm0 1zm0-3zm0 2zm0 1zm1 0zm0-2zm0 1zm0-2zm0 4zm0 0zm0-4zm0 0zm1 2zm0-2zm0 3zm1-1zm0 2zm0-5zm0 5zm0-2zm1-2zm0-1zm0 4zm0-3zm0 3zm0-4zm1 4zm0 0zm0-4zm1 4zm0-3zm0 3zm0-2zm0 0zm0 3zm2-3zm0-2zm0 2zm0-2zm1 5zm0-4zm0 1zm1-1zm0 3zm0-2zm0 1zm1 2zm0 0zm0-1zm0-2zm1-1zm0 2zm0 0zm0 1zm1 0zm0-4zm0 0zm0 0zm2 4zm0-4zm0 4zm0 0zm1-3zm0 3zm0-1zm0-2zm0 4zm1-1zm0 0zm0-3zm0 3zm1 0zm0-3zm1 3zm0-3zm1 1zm0-1zm1 1zm0 3zm1-5zm3 0zm2 2zm1-1zm0 2zm2-1zm94 3zm1-2zm1 1zm1 1zm4-1zm1-1zm1-3zm1 4zm0 0zm1-1zm1-1zm0 3zm0-3zm0 0zm0 3zm1 0zm1 0zm0-2zm1 0zm1-2zm1 2zm0-1zm1 2zm0 1zm0-1zm0-3zm1 1zm0-2zm0 2zm0 3zm0-4zm0 4zm2-2zm0 0zm1 0zm0-1zm0 3zm0-3zm0-2zm0 5zm1-4zm0 2zm0 2zm0-3zm1 0zm0 3zm0-1zm0 0zm1-3zm0 0zm0 3zm0 1zm0-4zm0 3zm1 1zm1-1zm1 1zm0-2zm0-3zm0 2zm1-1zm0 3zm0 1zm0-4zm0 1zm0 1zm2 1zm0 1zm1-3zm0 3zm1 0zm0-1zm0-1zm1 2zm1-1zm1 0zm0-3zm0 3zm1 0zm1-2zm2 3zm1 2zm-1-1zm-1 0zm0 1zm-2 0zm0-1zm-1 4zm0-4zm-2 4zm0-1zm0-2zm-2-1zm0 3zm-2-3zm0 1zm0 1zm0-2zm-1 0zm0 4zm0-4zm0 0zm0 1zm-1 1zm0 1zm0-2zm0 0zm-1-1zm0 5zm0-5zm0 0zm0 5zm0-1zm0-4zm-1 0zm0 5zm0-2zm0-2zm-1 3zm0-3zm0 1zm-1-2zm0 3zm0 0zm-1-1zm0 1zm-1-3zm0 5zm0-3zm-1-2zm0 0zm-2 4zm0-4zm0 3zm-1-2zm0 4zm0 0zm-1-4zm0 1zm0-1zm0 1zm-1-1zm0 0zm0 1zm-1 2zm0-1zm-1-3zm0 2zm0-2zm0 4zm0-4zm0 3zm-1-2zm0 1zm-1-2zm0 2zm-1-1zm0 2zm0-2zm-1 0zm0 0zm-1 3zm0-1zm0-2zm-1 2zm0 0zm-1-1zm-1-1zm0 2zm-1 2zm0-4zm-94 4zm-12-5zm-6 2zm-2-1zm0-1zm-1 0zm-1 0zm-1 1zm-1-1zm-1 1zm0 1zm0 2zm-1-4zm0 2zm0-2zm-1 3zm0 0zm-1-3zm-4 2zm0 1zm-2-3zm0 0zm0 0zm-3 3zm0-1zm-1-1zm0-1zm-2 2zm18 9zm5-1zm3-3zm0 3zm1 1zm0 0zm0-5zm2 5zm1-3zm0 2zm0-1zm1-3zm0 2zm2 1zm0 2zm1-1zm0 1zm0 0zm1-3zm0 2zm2 1zm1 0zm0-1zm1 1zm0-1zm1 1zm1-3zm1-1zm0 4zm0 0zm1-4zm1 4zm0 0zm0-4zm0 4zm0-1zm1 0zm1-2zm0 2zm1-3zm1 4zm2-1zm9 1zm27 0zm6-1zm2 1zm5 0zm0 0zm38-5zm6 0zm2 1zm2-1zm10 0zm1 0zm2 1zm1-1zm-48 11zm-2-1zm0 0zm-1 0zm0-1zm-1 2zm0-1zm-3-3zm-1 4zm0-3zm-1 3zm0 0zm0 0zm-1-1zm-1 1zm-1-2zm0 2zm0-3zm0 3zm-1-1zm0-4zm-2 3zm0 0zm0 2zm-1-1zm0-1zm0 1zm0-1zm-1 0zm0 1zm-2 0zm0 0zm0 1zm-2 0zm-1 0zm0-1zm0 1zm0 0zm0-3zm0 1zm0-2zm0 2zm0 1zm-1-2zm-1-2zm0 4zm-1-4zm0 2zm0 2zm-1-3zm0 1zm0 2zm0-3zm0 0zm-1 1zm0 0zm-1 1zm0-2zm0 3zm0 0zm0-1zm-1 2zm0 0zm0-1zm0 0zm0-1zm-1 2zm0 0zm0-3zm-1 2zm0-2zm0 1zm0 1zm-1-1zm0 1zm-1-1zm-3 1zm0 1zm0-1zm-1-3zm-1 3zm-5-1zm-12 1zm-1-2zm-1 2zm0-4zm-1 3zm0-3zm0 3zm0 2zm0-5zm-1 4zm0-1zm0-3zm-1 3zm-1 0zm-1-3zm0 3zm-1 0zm0 2zm0-3zm0 2zm0 0zm0 1zm-1-4zm0-1zm0 3zm0 0zm-1 2zm0-2zm0-3zm0 2zm0-2zm0 0zm-1 5zm-1 0zm0-4zm0 2zm-1-3zm0 0zm0 5zm0-3zm0 1zm-1-1zm0 3zm0-1zm-1-2zm0-2zm-1 4zm0-2zm0 1zm-1-2zm0-1zm0 2zm0-1zm0 4zm-1-3zm0-1zm-1-1zm0 2zm-2 0zm0 2zm0 0zm0-3zm0 4zm0-4zm-1 1zm0-1zm0 1zm0 1zm0-2zm-1 4zm0-1zm0 0zm0-4zm0 1zm0 3zm-1 0zm0-1zm0-3zm0 2zm-1 3zm0-4zm0 3zm0 0zm0-4zm0 0zm-1 1zm0 4zm0 0zm-1-3zm-1 2zm0 0zm-1-4zm0 1zm-1 1zm0-2zm0 0zm0 5zm-1-2zm-1-1zm-1 1zm0-2zm0 4zm0-1zm0-1zm-1 2zm0-3zm-1 2zm0-3zm0-1zm-1 4zm0-1zm0-2zm-1 0zm0 1zm-1 2zm-5-1zm10 5zm1-2zm2 1zm0 0zm0 1zm2 0zm1 2zm1-4zm2 0zm2 1zm1 3zm3-3zm1-1zm0 1zm0 0zm1 0zm6-1zm2 1zm4 0zm1 1zm16-2zm0 3zm1 1zm0-1zm1-1zm3 0zm1-2zm0 2zm0-1zm1 2zm0 0zm1 1zm1 0zm0-3zm2-1zm0 0zm1 0zm1 2zm1-1zm1-1zm0 0zm0 0zm0 0zm0 1zm1 2zm0-3zm0 3zm1 1zm0 0zm0-3zm1 1zm1 2zm0-1zm0 1zm0 0zm1-4zm0 2zm0-1zm1 1zm0 0zm0 1zm1-3zm0 1zm0 1zm0-1zm1 0zm0 1zm0 0zm0 0zm0 1zm1 1zm1-1zm0 0zm0 2zm0-1zm1-2zm0 0zm0 1zm0-2zm0 4zm1 0zm0-5zm0 4zm0-3zm1 0zm0-1zm1 2zm0-2zm0 0zm0 2zm2 0zm1 3zm1-4zm0 1zm2-2zm0 2zm1 3zm1-3zm1 1zm0-1zm1 2zm0-4zm-7 6zm-3 1zm-2 0zm-2 1zm-2 0zm-1-2zm0 1zm-1-1zm-6 0zm-2 0zm-1 0zm-61 15zm-3 2zm0-3zm-2 2zm0 1zm0-2zm-3-1zm-1 2zm-2 1zm-1-1zm0-3zm-1 1zm0 2zm-1 0zm-1 1zm0-4zm-1 1zm0 0zm-1 1zm0 1zm-1 1zm-1-3zm-2 1zm-1 1zm-2-1zm-1 0zm0 2zm-1-2zm-2 1zm-2 1zm-1-1zm-4 6zm0 0zm0-2zm3-1zm0-1zm2 3zm0-3zm0 1zm1-1zm0 0zm0 2zm1 0zm0 1zm2 2zm0-5zm0 2zm1 0zm0 2zm0-2zm1 0zm0 3zm1-3zm0 0zm0 2zm0 0zm0 1zm0-4zm0 0zm1 3zm0 1zm0-2zm0-2zm0 4zm0 0zm0-4zm1 1zm0 0zm0-1zm0 1zm1 0zm1-1zm0 0zm0-1zm0 4zm0-2zm0 3zm1-1zm0-2zm1 1zm0 2zm0-5zm0 3zm0 2zm0-5zm0 4zm0 0zm1-3zm0 2zm0 2zm1-3zm0 0zm0 3zm0-1zm0-1zm1-2zm1 0zm0 2zm0-1zm0 1zm0 0zm0 2zm0-2zm0-2zm1-1zm1 1zm0 1zm1-1zm0 4zm1-4zm1 1zm0-2zm0 1zm0 4zm0 0zm0 0zm1-5zm0 4zm0-3zm1 2zm0 0zm0 1zm0-2zm0-2zm1 4zm0-1zm1-2zm0 3zm1 1zm0-2zm0-1zm0-2zm1 3zm0 1zm1-1zm0 1zm2-4zm1 3zm3 2zm4-2zm-7 3zm-1 0zm-1 1zm-1 2zm0-2zm-2 1zm-1 0zm-1 0zm0-2zm0 2zm-1 0zm-1-1zm-1 3zm-1-3zm0 0zm0 0zm0-1zm0 2zm-2-2zm-1 0zm0 5zm0-3zm-1-1zm-3 1zm0 3zm-1-5zm0 1zm-1 1zm0-2zm0 3zm0-3zm-1 3zm0-1zm-1 1zm-1 0zm-1-3zm-1 3zm0-2zm-5 0zm-1 1z" stroke="#c2c2c2" stroke-width="1.4"/>
<path d="M924 1048zm-21 10zm8-1zm2 3zm5 0zm10 0zm68 1zm15-2zm13 1zm17 7zm-85 0zm-44-5zm-5 2zm-7 0zm-32 8zm18 0zm43 0zm23-3zm12 1zm0 3zm31-3zm28 2zm16 1zm-26 2zm-4 2zm-27-3zm-37 0zm-14 2zm-3 2zm-6 0zm-9-3zm-1-1zm-20 1zm-13 3zm-10-4zm-22 5zm19 3zm6 2zm34-4zm15 5zm5-1zm6-4zm2 2zm10-2zm10 5zm6-2zm25 0zm11 0zm46-3zm13 5zm10 0zm42 0zm4-4zm22 7zm-13 2zm-1-1zm-2-2zm-7 2zm-86-3zm-27 1zm-23 1zm-19 1zm-7 0zm-5 1zm-24-1zm-23 2zm0-4zm-12 2zm-31-2zm-25 0zm-8 3zm-8 7zm3-4zm60 1zm29 0zm15 2zm23-3zm1 4zm32-5zm11 4zm40-1zm8-3zm17 5zm28 0zm5-5zm5 1zm7 0zm7 2zm14-1zm5-1zm5 10zm0-4zm-105 1zm-10-1zm-8 0zm-44 2zm-31-3zm-36 0zm-2 1zm-10 1zm-24 3zm-24-3zm-15-1zm-4 1zm-1 4zm2 5zm4-2zm38 2zm1 0zm6-4zm14 2zm2 0zm7 1zm16-3zm9 3zm28-2zm8-1zm31 2zm41 0zm12-2zm3 0zm1 1zm17 3zm16-1zm19-1zm39 1zm4-3zm-3 9zm-6-1zm-46 2zm-5-5zm-3 5zm-4-1zm-30 0zm-14 0zm-79 0zm-7 0zm-3-2zm-1 2zm-8-1zm-63-2zm-61 7zm25-2zm53 1zm13 1zm48 2zm3-2zm3-1zm44-1zm30 3zm24 1zm22 1zm55-5zm5 2zm9 7zm-6 2zm-13-3zm-40-2zm-38 3zm-13-1zm-15 1zm-2-2zm-21 0zm-16 3zm-16-1zm-2-2zm-44-1zm-4 4zm-13-4zm-6 1zm-18 4zm-7 0zm-5-3zm-18 3zm-14-3zm-5 2zm-16 0zm-1-3zm0 0zm-22 7zm7 2zm7-4zm6 5zm11-1zm13-3zm32 3zm8-3zm45 3zm4-2zm44 2zm24-1zm0-3zm5 3zm45 2zm1-2zm2-2zm2 4zm1-1zm1-3zm27-1zm16 3zm47-3zm7 4zm-18 5zm-20 2zm-82 0zm-6-5zm-92 4zm-30-4zm-74 1zm0 0zm-4 0zm-22 2zm-4 1zm3 7zm1-5zm32 0zm12 4zm3-4zm9 5zm18-4zm8 1zm20-1zm7 1zm12 3zm4-4zm1-1zm3 2zm1 3zm20-2zm20 2zm10-4zm16 1zm53 1zm4-2zm13 0zm4-1zm3 1zm19 0zm7-1zm34 4zm7-3zm-27 6zm-2 2zm-4 0zm-7 0zm-9 2zm-4-2zm-7 1zm-31 0zm-22 0zm-20 0zm-8 0zm-47-4zm-34 5zm-3-3zm-39 0zm-29 2zm-56-2zm-9 7zm1-1zm18-1zm45 0zm21-1zm20 3zm12-2zm27 3zm6-4zm22 2zm34-1zm22 3zm30-2zm26-2zm46 4zm24-1zm0-1zm4 0zm-12 4zm-3 4zm-32-1zm-5-2zm-19 3zm-7-2zm-57-2zm-11 3zm-22-2zm-7-1zm-14 1zm-1 1zm-15 0zm-13 0zm-19 3zm-12-1zm-6-1zm-7 2zm-6-4zm-10 3zm-13 0zm-25-2zm0 3zm-8 0zm-6-5zm-20 11zm35-2zm15 1zm16-2zm18 3zm16-3zm37 3zm19-4zm34 2zm45-3zm9 2zm46 3zm42 2zm-39 4zm-40-4zm-23 2zm-19-3zm-18 5zm-36-3zm-2-2zm-47 5zm-27 0zm-6-1zm-6-3zm-22-1zm-38 3zm-7-2zm-22 3zm25 6zm10 1zm40-5zm2 1zm35 1zm19 0zm46 1zm2 0zm0-2zm9 1zm3-2zm21 2zm6-2zm16 4zm1-1zm8-3zm11 2zm9 2zm6-2zm19 2zm6 1zm28 1zm-25 5zm-40 0zm-77-1zm-7 1zm-13-1zm-17-2zm-3 0zm-6 1zm-13 0zm-24-2zm-2-1zm-28 0zm-7 1zm-25 4zm-4-2zm-37 6zm0 2zm22-5zm7 4zm8 0zm3-2zm14 2zm21-1zm12-2zm35-1zm23 5zm77-3zm30 2zm25 1zm35 0zm17-2zm4 2zm5 1zm-3 5zm-7-4zm-2 3zm0-3zm-3-1zm-4 5zm-48-1zm-22-4zm-19 1zm-7 4zm-18-1zm-33-4zm-8 5zm-36-5zm-1 5zm-6-1zm-4-4zm-7 5zm-21-5zm-19 2zm-11 0zm-1-1zm-1 0zm-17 0zm-16 0zm-5 1zm-8 0zm-7 2zm-14 0zm26 4zm7 0zm6 1zm8-2zm80 3zm21 1zm29-2zm4-1zm7-1zm64 3zm33-2zm47-2zm6 4zm0-3zm8 0zm-50 9zm-7 1zm-10 0zm-6 0zm-16-4zm-1 0zm-6-1zm-60 0zm-25 2zm-32-2zm-21 2zm-11 0zm-45-2zm-27 5zm-28-4zm-3-1zm-13 6zm12 1zm18 4zm22-4zm53 1zm11 0zm28-2zm9 5zm14-4zm20-1zm27 5zm8-4zm43 2zm25-2zm43 3zm-19 5zm-23-3zm-7 4zm-12-3zm-33 0zm-17 2zm-31 1zm-30-1zm-1-3zm-10 3zm-30-2zm-10 0zm-9 2zm-31 0zm-10-2zm-3 3zm-11 1zm-14-3zm-29 1zm0-2zm-3 2zm14 7zm3-4zm14 1zm18 0zm13 4zm2-5zm1 1zm2 1zm5 1zm11-1zm28 2zm4-3zm46 1zm28 1zm21 0zm16 2zm3-4zm6 0zm16 3zm1-2zm9-1zm3 4zm42-2zm12-3zm7 7zm-2-1zm-25 1zm-20 3zm-4-3zm-8 4zm-73 0zm-5-5zm-9 2zm-20 3zm-8 0zm-7-4zm-1 0zm-11-1zm-17 3zm-28-2zm-49 1zm-49 7zm38-2zm4 4zm17-3zm9 1zm16 0zm2 1zm71-2zm1 2zm2-1zm2-1zm20 1zm25 1zm24 0zm21 1zm29 0zm3-4zm5-1zm5 2zm21 1zm-8 3zm-8 1zm0 2zm-21-1zm-5-2zm-34 3zm-5-2zm-43 4zm-4-3zm-10 1zm-7-1zm-28 3zm-5-3zm-1-1zm-1 2zm-20 1zm-5-3zm-27 2zm-22 2zm-2-1zm-7 1zm-1-3zm-53 1zm-8-1zm-3 2zm-2-2zm-7 1zm2 4zm12 0zm3 0zm31 2zm32 2zm11-5zm43 5zm92-2zm0-1zm28-2zm11 5zm28-4zm5 1zm0 2zm12-4zm5 3zm24-1zm-25 7zm-1-1zm-10 1zm-34 1zm-18-3zm-28 1zm-28-1zm-51-1zm-7 5zm-4-5zm-21 4zm-13-2zm-24 3zm-27-3zm-40 0zm20 6zm31 2zm7-3zm2-1zm32 0zm17 0zm36 4zm58 0zm17-1zm1-3zm16 3zm6 0zm7-1zm6-1zm21 3zm4 0zm10-4zm22 6zm-22 3zm-10-1zm-9 1zm-47-3zm-55 2zm-19-2zm-12 2zm-19 2zm-15-4zm-9 0zm-11 3zm-63 1zm-27 7zm31-1zm28-3zm21-1zm7 4zm9 0zm1-2zm28 0zm16 1zm31-2zm11 0zm3 0zm3 1zm100 3zm1 5zm-8-2zm-1 0zm-4-1zm-14 2zm-8-1zm-1 3zm-4-4zm-18 3zm-8-4zm-27 0zm-8 4zm-13 0zm-13 1zm-2-2zm-12 2zm-1-3zm-37 2zm-82 0zm-10-3zm8 5zm1 5zm11-5zm6 4zm4 1zm15-3zm9-2zm13 5zm8-5zm0 2zm14-2zm8 1zm5-1zm2 5zm12-4zm48 2zm42-3zm1 3zm29 1zm3-4zm0 1zm2-1zm20 1zm0 6zm-9 4zm-7-1zm-81-1zm-29-1zm-2 3zm-11 0zm-15-1zm-13 0zm-1-2zm-3 2zm-29-1zm-3 2zm-2 0zm-18-2zm-1-3zm-6 5zm-2-2zm-1 2zm-6-1zm-1-4zm-15 1zm-23-1zm0 0zm-2 10zm36 0zm4-3zm3 4zm5-4zm4 3zm2 1zm2-5zm5 0zm5 5zm12-4zm9 0zm53 1zm6 3zm9-4zm4 2zm18 0zm1-3zm3 3zm13-3zm2 5zm19-3zm15-1zm28-1zm1 3zm5 4zm-30 0zm0 2zm-18 0zm-8 2zm-26-2zm-5 2zm-6-3zm-2 1zm-3 1zm-2-4zm-19 0zm-39 2zm-8 0zm-16 1zm-12-1zm-1 2zm-2-3zm-1 4zm-3-5zm-5 5zm-9 0zm-2-5zm-8 0zm-15 5zm-9-1zm-15-4zm-1 2zm0 2zm-1 0zm-6 1zm-1-2zm-7-3zm-8 5zm12 3zm11 1zm11 1zm13-3zm5 1zm19-1zm5 1zm6-2zm16 1zm5 0zm9-1zm15 1zm6-1zm20 0zm18 1zm5 4zm14-2zm1-1zm0 2zm5-3zm2 4zm3-2zm0-2zm5 1zm2 2zm3-3zm6-1zm21 2zm8 0zm6 1zm7-3zm17 2zm-1 7zm-20-2zm-9-1zm-22 4zm-14-4zm-3 5zm-32-3zm0 1zm-10-3zm-16 3zm-4-1zm-8 3zm-16-3zm-5 1zm-1-3zm-4 5zm-15-5zm-3 5zm0-1zm-13 0zm-15 1zm-28-2zm10 3zm19 4zm19-3zm8 3zm5-4zm0 5zm4-3zm8 1zm4 2zm4-3zm1-2zm36 2zm13 1zm19 0zm7 1zm19 0zm4-2zm4 1zm57-3zm-12 10zm-15 0zm-6-4zm-2 1zm0 1zm-20 3zm-2-2zm-15 0zm-14 2zm-8-5zm-23 1zm-27 2zm-1 1zm-8 0zm-6-4zm-2 4zm-6-4zm-1 3zm-11 0zm-1 1zm-10-2zm-5 2zm-5 1zm-3-1zm-7-2zm-9 1zm-4-1zm-12 3zm-17-5zm-8 6zm23 1zm11-1zm3 1zm4-1zm1 2zm5 0zm4 2zm7 1zm2-2zm26-1zm9 2zm4 1zm7-4zm7 2zm2 0zm1-1zm14-2zm18 1zm3 4zm4-4zm7 0zm1 0zm3 0zm0 1zm7-2zm5 0zm8 1zm40 1zm0 8zm-46 0zm-1 1zm-23-5zm-10 1zm0 0zm-10 1zm-17 0zm-13 3zm-1-1zm-8 0zm0-2zm-2 1zm-15-2zm-2-1zm-1 3zm-1 1zm-9-3zm-1 4zm-23 0zm-1-1zm-4-4zm-9 0zm-3 6zm7 3zm7-1zm9 0zm7 0zm3-2zm0 3zm0-3zm2 1zm3 4zm6-5zm17 4zm4-3zm0 3zm28-3zm15 0zm4 3zm10 0zm22-2zm5-1zm3 0zm23 4zm12-1zm-9 2zm-3 2zm-35-1zm-26 4zm-36-3zm-1 2zm-12-2zm-15 2zm-20 1zm-2-2zm-5 1zm-2-3zm-2 1zm2 5zm8-1zm5 4zm3-1zm7 1zm6-1zm1 0zm3 1zm9-1zm1 2zm3-5zm4 0zm30 2zm4-1zm9 0zm2 1zm3 3zm4 0zm6-5zm10 3zm2-2zm2 3zm5-1zm0-1zm8 1zm5 3zm-6 4zm0 0zm-2-2zm-1 1zm-2-2zm-7 4zm-17 0zm-18-3zm-3 0zm-2-1zm-8 0zm-4 1zm-7-2zm-4 2zm-4 3zm-5-4zm-3 3zm0-2zm-1-2zm-2 3zm-5-3zm-4 0zm0 5zm0 0zm-7-1zm-2 0zm-1 1zm-4-3zm-1 2zm-18-1zm0-1zm-4 0zm-4 2zm-35-2zm35 8zm6 0zm4-3zm3 4zm2-1zm1-2zm2 3zm1-3zm5-1zm1-1zm1 4zm1-4zm0 5zm5-3zm0-1zm2 2zm0-2zm3 4zm8 0zm1-4zm0 2zm1 1zm0 1zm2 0zm1 0zm1-1zm4-3zm2 1zm1-2zm2 2zm5 1zm6 2zm3-1zm1 1zm1-5zm2 1zm2 0zm1 0zm0-1zm2 1zm1 1zm3-1zm1-1zm0 4zm5-1zm3-2zm25-1zm9 3zm-10 6zm-12-2zm-14 1zm-19 0zm-1-2zm0 5zm-1-4zm-2 3zm-1 1zm-3-2zm-2-1zm-2-1zm-1 4zm-1-4zm-2 1zm-3-1zm-1 1zm-2 1zm-3 0zm-3 0zm-2 0zm-1-2zm-1 0zm0-1zm-1 3zm-6 2zm-2-2zm0 2zm0-5zm-2 1zm-5 4zm0 0zm-4-5zm-4 2zm0 3zm-2-3zm-1-2zm-2 5zm-2-5zm0 1zm-5-1zm-4 4zm0-4zm-31 9zm23 1zm1-2zm8 1zm3 0zm3-2zm0 4zm4-3zm1-2zm3 5zm2-5zm0 4zm1-2zm1 1zm2 0zm2 0zm1 2zm7-1zm0 1zm0-4zm1-1zm1 3zm1-2zm0-1zm1 2zm2-2zm1 5zm1 0zm0-3zm1-2zm2 4zm0-1zm0 0zm1-1zm0-1zm1 0zm2 4zm0 0zm0-4zm2-1zm1 0zm1 0zm2 3zm4-3zm3 4zm2 0zm2 0zm5-2zm0-1zm3 2zm2 2zm0-5zm8 1zm4 2zm0 2zm7-4zm3-1zm2 1zm31 2zm5 2zm5 0zm-23 3zm-26 2zm-1-1zm-4-2zm-4 1zm-2-2zm-3 2zm-5 2zm-1-2zm-3 1zm-6-2zm0 2zm-1-2zm0-1zm-6 0zm-1 5zm-1-2zm-2 1zm-1 1zm0-2zm0-1zm-3-2zm-1 2zm-12-2zm-5 3zm-1 0zm0-1zm-3 0zm-1-2zm-1 2zm-3 0zm-3-1zm-3 1zm-2-2zm-4 1zm-13 3zm13 6zm22-3zm1 1zm12 0zm6-1zm2 4zm4-4zm1-1zm6 1zm6 1zm4 2zm6-3zm6 0zm9 1zm16-1zm-94 5z" stroke="#dc1c1c" stroke-width="2.6"/>
<path d="M304 1612zm2 18zm-19-1zm-51-2zm-1 8zm1 2zm38-4zm6 5zm-55 7zm29 2zm12-3zm21 4zm10 0zm5-1zm18-3zm-60 7zm-46 6zm85 1zm2 2zm13 1zm-47 1zm-4 4zm-5-4zm-11 5zm-10 0zm-59-5zm56 8zm9 0zm1 1zm5 0zm7-1zm16 2zm12-3zm0 8zm-19 0zm-18-2zm-2 4zm-20-4zm-10 6zm1 4zm26-5zm13 2zm4-1zm39 3zm-12 2zm-56 1zm-3 3zm-8-2zm-2-2zm-37 2zm41 6zm3-1zm25-1zm0 3zm21 1zm3-1zm0 2zm3-4zm15 3zm6 0zm-19 5zm-1-3zm-11 1zm-51 2zm21 8zm3 0zm55-4zm30 9zm-11-4zm-35 5zm-10-5zm-4 1zm-1-1zm-1 5zm-29-4zm-13 3zm-6-2zm1 8zm24-4zm4 3zm48 0zm23 0zm-16 4zm-19 0zm-13-1zm-22 0zm-37 4zm-2-1zm-30-2zm11 8zm6 1zm94 7zm-10 0zm-22 0zm-31-1zm-2-4zm-11 9zm22 1zm28-2zm75-2zm-10 9zm-62-2zm-8 2zm-42 4zm22 0zm6 4zm19-1zm42-1zm34-1zm-77 4zm-58 8zm4 2zm57 0zm51 5zm-25 1zm-41-4zm-11 5zm-32-4zm26 5zm21 3zm11-2zm28 2zm-17 7zm19 18zm-76 7zm83 8z" stroke="#6cf0f2" stroke-width="3.5"/>
<path d="M242 1580zm-1 12zm-1 13zm-31-2zm57 17zm-48 6zm-50 5zm67 1zm29 3zm14-1zm-23 6zm-9 6zm-39 14zm27 4zm-8 3zm-19-5zm40 10zm-17 2zm-1 7zm22 10zm-34-5zm57 36zm-68 19z" stroke="#3c84e2" stroke-width="3.5"/>
<path d="M209 1587zm-66 9zm104 11zm-87 8zm58 9zm-48 13zm18 0zm61-3zm-45 8zm-30-4zm-74 11zm1-4zm103-1zm22 7zm-75 9zm77-1zm-2 4zm-79 2zm123 11zm-6 1zm-48 0zm-5-2zm-55 1zm-13-2zm-6 4zm-27 0zm-4 0zm152 11zm-92-2zm-14 0zm-6 1zm-10 3zm-10-5zm-27 11zm20-5zm26 4zm45-1zm46 1zm-10 6zm-8-3zm-1 1zm-77 3zm-6-4zm-17-1zm-5 4zm60 7zm-47 7zm65 3zm-26 5zm-26 0zm-4-2zm-20 1zm-32 7zm60 3zm26 0zm15-3zm11-1zm0 1zm-30 5zm-7 3zm7 5zm66 4zm-39 2zm-60 0zm39 4zm0 1zm27 2zm51 5zm-105 1zm-7 1zm-36 4zm40 0zm27 1zm-39 15zm-25 5zm80 1zm-17 6zm-22 6zm14 3zm4 3zm-43 8zm29-2zm14 2zm22 3zm-20 2zm-12 18zm38 11z" stroke="#0a0aa0" stroke-width="3.5"/>
<path d="M336 1693zm16 20zm-10 2zm-12 2zm22 1zm10 0zm-8 5zm-20 3zm-15 17zm40 3zm-8 3zm-15 6zm9 7zm0-3zm6 6zm18 11z" stroke="#f0a02a" stroke-width="3.5"/>
<path d="M442 1603zm55 25zm-38 15zm22 6zm-65 5zm51 13zm-128 18zm77 1zm-25 0zm-19 1zm-26 2zm19 5zm21 2zm20-2zm14-2zm9 1zm22 2zm43 2zm-67 5zm-29-4zm-4 5zm-7-5zm-9 0zm-6 2zm-4 0zm-15 1zm-3 2zm19 3zm3-2zm121 4zm19 5zm-41-2zm-19 0zm-7-1zm-24 2zm-5-2zm-24 2zm-13-1zm-66 0zm61 6zm6 3zm12-4zm38 3zm1-1zm54 1zm14-2zm20-1zm12 3zm0 5zm-9-2zm-56 4zm-31-2zm-42 1zm-10 0zm-50 0zm-3 0zm-1 7zm27-4zm77 2zm30 0zm4-1zm22 6zm-42 1zm-16 0zm-23 3zm-14-2zm-39 1zm2 2zm83 5zm-48 6zm-1-3zm-18 2zm9 2zm48 5zm6-5zm19 3zm10 2zm63 5zm-3-1zm-118 1zm-19-3zm-4-1zm-21 2zm-10 0zm-8 9zm32-2zm6-3zm30 4zm3-4zm11 3zm22 5zm-27 3zm-81-2zm69 3zm5 2zm23 3zm83 6zm-14 0zm-62-2zm-46-3zm-32 0zm57 10zm-2 4zm-29 5zm43 8zm-6 0zm-55 2zm40 3zm6 9zm-5-3zm-14 11zm-6 2zm32 22z" stroke="#8e1c1c" stroke-width="3.5"/>
<path d="M332 1534zm-13 4zm9 7zm-51 0zm120 8zm-66 2zm-31 8zm47-3zm65 8zm-19-1zm-12 2zm-14 0zm-59 2zm81 3zm38-2zm-60 9zm-18 2zm-74 4zm86 1zm6-4zm17 1zm11 4zm24-5zm26 4zm49 6zm-67-3zm-16 1zm-117 4zm86 2zm31 2zm77-1zm17-2zm-6 7zm-17 1zm-27 1zm-79-1zm-81 6zm4-1zm60 3zm0-3zm11 0zm62 3zm23-1zm20-4zm1 4zm18 1zm-11 2zm-56-1zm-135 5zm23 6zm8-5zm16 1zm23 1zm48 3zm80 1zm-48 5zm-22-2zm-41 2zm-53-2zm-33-3zm-14 3zm3 8zm86-1zm76-3zm44 4zm41-5zm-107 11zm-28 0zm-19-1zm-21-2zm-34 1zm-5 2zm-56-1zm-5-3zm93 9zm36-4zm4 0zm8 3zm14 0zm40 0zm16-2zm19-1zm-61 8zm0-2zm-24 3zm-86 4zm121 0zm-97 12zm65 3zm-1 2zm46 6zm-124 15zm123 2z" stroke="#e53030" stroke-width="3.5"/>
<path d="M255 1592zm32 6zm-27 20zm-35 6zm41-2zm-48 8zm32 4zm45 6zm-44 1zm-6 1zm-18-4zm-27 3zm17 4zm96 3zm-13 6zm-11-4zm-59 4zm-41 7zm32-2zm17-3zm4 5zm4-5zm12 4zm56 3zm-36 4zm-9-1zm-21-3zm-49 2zm32 6zm37 0zm11 2zm46-4zm-65 7zm-60 5zm38 1zm27-1zm9 0zm42 1zm17-2zm9 8zm-51 3zm-4 0zm-52-4zm-6 2zm-15 0zm50 3zm2 3zm8-1zm34 3zm-25 4zm-9 2zm-13-5zm-12 3zm-42 2zm-29-2zm-2 0zm1 8zm48-5zm11 5zm2-4zm26 0zm5 3zm32-2zm8 0zm14 3zm13 2zm-98 2zm-2-1zm-19 0zm-18 9zm0 0zm61-5zm29 4zm12 0zm20-4zm11 1zm-7 5zm-48 2zm-27 0zm-2 2zm-2 1zm-7-5zm0 1zm22 9zm43 1zm-23 5zm-1-2zm-22 2zm-12 1zm-5-3zm-5 0zm35 9zm56 0zm-11 3zm-36 0zm-12-2zm-12 4zm-53 0zm-6 6zm21 1zm6 0zm10-4zm13 0zm22 3zm43 1zm24 1zm-45 4zm-109 1zm37 4zm3 2zm16-1zm21-1zm23-2zm11 3zm2 1zm-38 3zm-60 8zm52-2zm34 0zm-75 5zm-14 10zm79-2zm22 13zm3 8zm10 1zm-65 9zm-3-1z" stroke="#6cf0f2" stroke-width="3.5"/>
<path d="M251 1579zm-11 15zm-32 19zm59 3zm-35-1zm-23 0zm41 9zm41 5zm-59-1zm27 4zm66 7zm-96 5zm42 1zm8 1zm78 1zm-94 20zm-81 6zm143-3zm-30 9zm-86 15zm60 2zm7 5zm-17-1z" stroke="#3c84e2" stroke-width="3.5"/>
<path d="M147 1587zm36 16zm-10 18zm11 6zm-33 1zm-46 5zm64 1zm22-2zm-64 13zm37 2zm65 0zm0 2zm-32 12zm58 6zm-60-1zm-93 2zm114 6zm-123 11zm12-5zm87 3zm46-1zm-65 4zm-32 1zm-24 1zm11 4zm29 5zm6-4zm11 2zm32 7zm-21-4zm-24 1zm40 10zm-33 6zm-41 4zm9 1zm55-2zm33 2zm-124 4zm-11-1zm61 7zm42 0zm21 8zm-49-1zm-12-3zm-6 4zm-2 1zm-17-4zm20 5zm43 1zm5 0zm51 10zm-34-4zm-14-1zm-28 2zm-12 3zm-20-3zm-11 4zm6 4zm14 0zm15-3zm9 3zm65-4zm-77 7zm-32 10zm3-5zm92 8zm-33 2zm-52 0zm24 7zm10-1zm6-2zm5 2zm-26 2zm2 6zm36 1zm46 0zm-48 10zm7 1zm4 4zm52 4zm-64 8zm-44 2zm85 11zm-12 2zm-45 6zm9 4zm32-1z" stroke="#0a0aa0" stroke-width="3.5"/>
<path d="M336 1700zm8 19zm11 9zm12 2zm-26 12zm8 11zm4 4zm19 3zm-153 7zm33-3zm103 4zm-130 4zm5 8zm7-3zm33 7zm-102 8zm132 3z" stroke="#f0a02a" stroke-width="3.5"/>
<path d="M455 1612zm-50 2zm6 11zm5 14zm-59 4zm105 1zm-59 7zm38 15zm-15-3zm-29 1zm-12 3zm35 1zm33 5zm24 6zm-46-3zm-8 2zm-37-2zm-49 2zm52 7zm20-1zm12-3zm70 8zm-21-2zm-12 1zm-96-2zm-15 2zm46 9zm34-3zm67 2zm-12 7zm-79-2zm-90 4zm96 4zm2-3zm41 1zm24 5zm-91 0zm-51 3zm66 2zm96 1zm33 6zm-38-2zm-68 4zm-38-4zm-30 5zm-29 4zm29 2zm11-1zm24-3zm41 3zm8 1zm53 4zm-32 2zm-4 0zm-44-2zm-2 0zm-43-2zm23 7zm88-2zm46 5zm-5 2zm-7 3zm-4 1zm-91-2zm-28 2zm-27-3zm-6 1zm-18 7zm32-3zm5 3zm29-2zm71 2zm13-4zm9 10zm-16-2zm-48 3zm0-5zm-5 5zm-5-1zm-24-3zm-66 5zm48 3zm16-1zm42-1zm9 1zm68 0zm18 1zm-79 5zm-22 0zm-18-2zm-17 1zm-31 5zm18 0zm1 2zm38 1zm54 0zm24 2zm-83 2zm0 1zm-44 1zm-3-2zm42 9zm33 5zm-80-2zm-21-1zm-28 8zm17 12zm106 0zm38 1zm12 1zm-52 7zm-50-4zm64 26z" stroke="#8e1c1c" stroke-width="3.5"/>
<path d="M312 1551zm139 25zm-76 6zm8 5zm24-3zm-20 6zm-1 4zm90 5zm-80 6zm-37 6zm107 3zm-17 4zm-184 0zm85 6zm171-2zm-120 4zm-68 10zm42 0zm35 6zm-38-3zm-26 5zm40 4zm26 6zm-49-1zm-6 8zm60-5zm102 11zm1 6zm1 11zm13 14zm-19 3zm-192 0zm174 7zm32 5zm-12 11zm16 15zm-12-2zm-22 3zm13 0zm12 11zm22 8zm-4 2zm-21-2zm-3-1zm-1 0zm-12 9zm13-1zm2 16zm-42 7zm1 4zm22-4zm-37 9zm24 4zm21-1zm8 16zm3-4zm-47 6zm-34-1zm-148 0zm-84 10zm154-2zm15 0zm57 5zm-157 9zm11 1zm-21 5zm-31 7zm33-4zm79 2zm7 1zm44-4zm43 1zm24 0zm-111 7zm-96 4zm52 2zm22-1zm8-1zm10 3zm57 0zm40 2zm-12 6zm-60-3zm-7-2zm-2 4zm-112 1zm-44-2zm21 4zm96 0zm56-1zm-16 8zm-129 2zm-13-4zm79 16z" stroke="#e53030" stroke-width="3.5"/>
<path d="M263 1622zm56 2zm-52 12zm5 7zm-15-4zm34 14zm-36 2zm-26-1zm-9 1zm-18 5zm52-1zm14-1zm43 0zm19 2zm-12 3zm-55 1zm-2 0zm-27 0zm-28 3zm62 6zm11-3zm11 0zm31 5zm-32 2zm-13-2zm-46 1zm-9 1zm23 6zm16-3zm21 0zm15 4zm24-1zm-31 7zm-29-2zm-4 0zm-72 1zm17 7zm11-4zm25 2zm4 0zm22 0zm5 3zm66 5zm-1 1zm-3 0zm-42-2zm-12-2zm-14 4zm-7 0zm-8-1zm-3 1zm-54 6zm34-3zm22 3zm10-3zm20 0zm16-1zm-50 5zm-12 3zm-30 4zm9 1zm4 2zm18 1zm25 0zm7 0zm5-4zm22 4zm25-2zm19 8zm-8-2zm-87-1zm-4 3zm-1-4zm-4 3zm-24 4zm8-2zm38 2zm55-2zm28 10zm-70-2zm-3 2zm-42 0zm-5 0zm-27-1zm26 3zm18 3zm44-1zm3-1zm23 1zm14-1zm-49 10zm-5 0zm-16-5zm-25 2zm3 8zm12 1zm25-5zm4 5zm19 0zm54 2zm-24 3zm-87-3zm-24 5zm46 1zm5 2zm2-3zm5 3zm6-3zm34 2zm7 1zm-45 3zm-19 3zm-50 0zm23 5zm54-2zm12 9zm-20 0zm-9-1zm-3 2zm-20 4zm31 2zm7-4zm40 11zm-12-3zm-15 7zm-20 6zm35 8z" stroke="#6cf0f2" stroke-width="3.5"/>
<path d="M246 1569zm26 20zm-27 12zm95-3zm-67 29zm6 7zm-48 11zm57 1zm68 8zm-93-2zm-41-2zm7 10zm41-4zm-7 6zm-21 10zm-65 4zm-34-2zm53 11zm56-5zm68 12zm-42 7zm-7 28zm-38 7zm-9 14z" stroke="#3c84e2" stroke-width="3.5"/>
<path d="M296 1569zm-50-3zm-50 5zm-2 12zm-9-2zm73 8zm-33 8zm13-1zm-14 11zm-21 6zm-73 2zm44 15zm-44 1zm131 4zm-64 18zm6 24zm-96-2zm10 22zm110-2zm103-1zm8 3zm14 0zm-11 2zm-6 11zm-1 5zm-9-3zm-235 3zm52 4zm33 0zm159-1zm12-2zm4 3zm5 2zm-2 5zm-8-1zm-11 1zm-6-2zm-6 2zm-199 1zm-21 3zm143-1zm70 0zm3 4zm2-4zm24-1zm15 0zm2 7zm-2-1zm-12 5zm-2-4zm-1 0zm-1-1zm-11 3zm-2-3zm-3 4zm-9-1zm-139-1zm143 5zm2 3zm4-2zm8 1zm4-1zm32 7zm-27 2zm-3 0zm-5-1zm-5 1zm-18-2zm-7-2zm-10 5zm36 1zm2 1zm3 2zm1 1zm11 0zm14-4zm-25 10zm-1-5zm-1 4zm-23 1zm-225 3zm209 2zm26-4zm0 1zm22 1zm-81 12zm48 1zm18 4z" stroke="#0a0aa0" stroke-width="3.5"/>
<path d="M208 1768zm41-4zm-60 7zm-95 7zm9 2zm107-3zm7 2zm29 1zm6-2zm37 0zm-122 8zm-47 6zm60-4zm117 6zm-21 0zm-89 0zm44 9z" stroke="#f0a02a" stroke-width="3.5"/>
<path d="M470 1630zm-57 2zm-13 14zm26 1zm22 7zm-36-2zm-60 1zm-11 6zm20-1zm71-2zm-98 15zm8 0zm69-3zm17 4zm2 3zm-50 4zm-10 1zm7 1zm40 4zm13-2zm20 0zm7-3zm-63 10zm-64 2zm8 3zm91 2zm37-2zm-8 4zm-90 4zm78 2zm72 10zm-7-1zm-11 0zm-66-1zm-45 3zm22 2zm21 0zm35-2zm3 1zm66-1zm-64 8zm0-1zm-80 0zm-12 0zm-4-1zm-8 0zm19 9zm42 0zm12-3zm67 11zm-29-5zm-38 0zm-1 4zm-1-1zm-6-2zm-2 4zm-8-4zm0 2zm-7 0zm-7-2zm-38 0zm-29 2zm63 4zm19 2zm15-2zm3 1zm31 0zm-31 5zm-86 1zm11 8zm6 0zm99-4zm27 6zm-13 3zm-6 1zm-67-4zm-10 5zm-75-5zm96 10zm14-2zm6 1zm53 2zm-42 2zm-56 1zm-5 2zm-16-2zm5 4zm14 5zm71-5zm-61 7zm-23 1zm-24 4zm17 3zm8 0zm4-2zm28 2zm43 1zm14-4zm25 5zm2 2zm-90-1zm-30 4zm-41-3zm41 8zm56 8zm-47 2zm92-1zm-53 10zm-15-1zm54 12zm-62 3zm51 14zm-7 6zm-43 6z" stroke="#8e1c1c" stroke-width="3.5"/>
<path d="M98 1653zm-5 2zm8 15zm-7 37zm-8 10zm108 100zm79-3zm154 5zm-11 0zm-107 3zm-3 4zm6-2zm3 2zm18 3zm2-4zm50 1zm38 3zm17-1zm-9 5zm-50 1zm-44-3zm-2 4zm-9-1zm-19 0zm-15 0zm-42-1zm-45 2zm-24-2zm18 5zm13-1zm21 2zm19-1zm1 3zm38-4zm17 1zm6 2zm53-4zm2 1zm34 1zm10 3zm27-2zm-33 3zm-13 2zm-10 0zm-9-2zm-21 2zm-13-1zm-5 3zm-18 1zm-5-5zm-29 0zm-19 1zm-99 4zm-2 0zm80 5zm30-4zm41 4zm39-3zm11 0zm7 2zm69-1zm20 0zm-98 6zm-22 0zm-1 0zm-17 3zm-37-5zm-4 5zm-4 0zm-39-5zm30 8zm42 2zm9 1zm2-1zm0-4zm1 2zm3 1zm29-2zm12-1zm38 0zm13 2zm16 0zm14-2zm-28 6zm-27 5zm-7-2zm-71-3zm-81 2zm-18 2zm77 2zm18 5zm24-1zm-29 2zm-40 5z" stroke="#e53030" stroke-width="3.5"/>
<path d="M765 1610zm35-1zm3 1zm-47 9zm62 12zm-53 3zm87 0zm-24 5zm-57 4zm-10-5zm32 6zm6 5zm28-5zm-7 10zm-2-1zm-45-2zm45 7zm14 4zm-29 4zm0-4zm-22 5zm-14 3zm70 1zm30 3zm-20 5zm-40-1zm-24 0zm-3-1zm-12 2zm38 3zm17-1zm44 4zm9-4zm8 9zm-96-4zm-78 2zm84 5zm10 3zm19-3zm5 3zm6-3zm48 9zm-41-1zm-29-3zm-27 4zm-30 0zm-3 1zm-6-5zm47 8zm4 1zm10 2zm5 0zm2-1zm14-2zm4 2zm0-2zm9-1zm23 1zm-13 5zm-5 3zm-5 1zm-18 0zm-6 0zm-5 0zm-11 0zm-6-4zm-9 4zm-37-2zm-12 5zm75 2zm9-4zm3 1zm-17 10zm0-5zm-14 1zm-9-1zm-14 5zm-6-1zm45 4zm48 2zm8-3zm-55 10zm-17-3zm-14 3zm-27-3zm-9 2zm-13-2zm12 6zm27 0zm4-2zm39 5zm6 1zm-4 0zm-2 3zm-3-3zm-20 1zm-3-1zm-3 3zm-18 8zm4-4zm44-1zm15 5zm14-2zm26 4zm-32 3zm-21-4zm-14 5zm0 15zm2 15zm8-2z" stroke="#6cf0f2" stroke-width="3.5"/>
<path d="M756 1758zm50 10zm3 0zm-43 13zm51-1zm18-2zm4 0zm-2 6zm-9-2zm-50 2zm-7 4zm54 0zm-25 10zm-27 4zm32 2zm75 2zm-39 0zm-4 1zm-45 7zm34-2zm20 5zm-47 5zm-37 6zm55 7zm-14-2zm16 3z" stroke="#3c84e2" stroke-width="3.5"/>
<path d="M947 1739zm-23 5zm-5 6zm-49 5zm110 5zm-83 2zm-53-3zm7 5zm3 0zm47 5zm23-5zm24 2zm2 3zm20-5zm-103 13zm43 4zm11-5zm79 8zm-13-1zm-28 2zm-54 1zm-56-3zm-4 4zm-61-3zm57 9zm38-2zm31 2zm13-3zm11 2zm73-1zm-33 4zm-48 4zm-31-1zm-12-1zm-18-3zm-51 1zm17 7zm11-2zm35 5zm0-4zm3 3zm6 1zm47-5zm26 1zm26 4zm26-5zm-66 9zm-11 1zm-15-2zm-9 2zm-3-2zm-48 7zm38-2zm23 4zm9-2zm5-3zm10 4zm7-3zm1 1zm42 8zm-33 1zm-22 0zm-17 0zm-23-5zm-22 4zm-55 1zm7 1zm12 1zm26 0zm5-1zm4 1zm12 4zm64-2zm22-3zm0 1zm7 8zm-42 1zm-16-1zm-70 0zm-6-3zm-14 0zm21 8zm7-1zm21 2zm40 1zm6-4zm64 6zm-43 1zm-9 4zm-15 0zm-115 6zm21-4zm19 2zm48-3zm1 1zm74 5zm-37 5zm-51-4zm20 5zm-43 10z" stroke="#0a0aa0" stroke-width="3.5"/>
<path d="M957 1731zm36-3zm16 12zm-39 11zm78 4zm-36 6zm-29 3zm30 20zm-15-1zm-16-1zm-3 23zm25-2zm18-2zm23 20zm-45 20z" stroke="#f0a02a" stroke-width="3.5"/>
<path d="M905 1635zm40-1zm45 14zm21-2zm-1 8zm0-3zm-29-1zm-37 4zm-35 7zm42 0zm15-2zm60 2zm26 3zm-12 2zm-11 0zm-14 1zm-16-3zm-72-2zm40 9zm18 0zm31-2zm-66 8zm-7-3zm62 7zm38 8zm-72-3zm-7 2zm-28-1zm-32 5zm49 0zm15 0zm6 5zm47-4zm31 3zm-31 5zm-91 1zm-27-4zm53 11zm45 0zm8-1zm10-3zm9 2zm27 2zm-4 3zm-4 2zm-34-4zm-1 1zm-10 0zm-48 7zm51 2zm-85 3zm-17 4zm-28-4zm13 7zm144 5zm-53 4zm-1-3zm-8 3zm-84 2zm14 4zm71-1zm6-4zm11 1zm45 6zm-49 4zm-32-3zm-47 0zm54 9zm66 0zm20-1zm-28 4zm-32 1zm-11 10zm39 10zm-39 3zm-32 15z" stroke="#8e1c1c" stroke-width="3.5"/>
<path d="M914 1539zm3-3zm20 1zm-1 8zm-6 0zm-92 1zm-20 5zm130 0zm91 8zm-64-2zm-52-1zm-3-1zm13 5zm109 9zm-28 1zm-27 0zm-51-2zm-5-2zm-42 2zm-35 2zm-50 7zm117-5zm57 1zm25 4zm58 0zm-87 2zm-4 1zm-14 1zm-19 2zm-53-2zm-7-3zm-2 2zm-2 1zm-1-2zm-39 2zm-10 0zm-6-2zm-59 2zm13 6zm97 1zm39 0zm25 1zm62-1zm60-1zm6-1zm6 3zm-4 4zm-3 2zm-45-2zm-54 2zm-3 0zm-28-4zm-11 4zm0 0zm-51 0zm-3-3zm-43 3zm61 2zm22 2zm4-3zm58 5zm-3 1zm-38 1zm-1 3zm-32-1zm-39 2zm-38-4zm-10 1zm-46 0zm71 4zm88 5zm13 0zm3-3zm0 2zm38-3zm3 0zm17 4zm71 6zm-43 0zm-75-3zm-49-2zm-13 0zm-12 5zm-20 0zm-64-4zm149 7zm2-2zm52 0zm16 4zm57 0zm14-3zm-12 5zm-56 4zm-41-3zm-4 1zm-5-1zm26 5zm20 3zm3 4zm-22 0zm-165 5zm116 10z" stroke="#e53030" stroke-width="3.5"/>
<path d="M769 1613zm68 7zm-24 13zm32 4zm-5 3zm-104 4zm24 2zm26 0zm74 2zm-72 5zm-29 0zm56 8zm64-5zm-48 9zm-16-2zm-55 4zm-39 3zm41 3zm84-1zm19-3zm3 2zm-31 4zm-17 2zm-15 1zm-27 1zm-18-4zm0-1zm-6 0zm-15 6zm35 4zm2-4zm17 1zm32 3zm2 1zm3-3zm14 2zm32-3zm2 0zm-29 8zm-37 2zm-2-2zm-17-1zm-1 1zm-56 5zm44-1zm46 0zm4 4zm18-2zm4-3zm2 6zm-26 0zm-8 5zm-1-3zm-6 3zm-17-2zm-15-2zm-16 4zm35 6zm17-5zm5 3zm3-1zm8-2zm71 5zm-85 5zm-2 1zm-6-3zm-6 3zm-15-3zm-8 1zm-74 0zm63 4zm3 3zm26 1zm61 1zm-18 3zm-31 2zm-10-4zm-8 3zm-26 1zm-28-1zm69 3zm28 4zm37 5zm-42 1zm-25 0zm-1-3zm-16 2zm-9 5zm0-2zm6 3zm14-1zm60 0zm-19 3zm-25 0zm-11 1zm-3 0zm-5 3zm-31 3zm15 4zm78 5zm-39-2zm-28 0zm-10 1zm-17 5zm59 3zm-7 2zm6 16zm-23-5zm-5 21zm18-2z" stroke="#6cf0f2" stroke-width="3.5"/>
<path d="M837 1747zm-16 16zm-86 6zm20-2zm-18 8zm-13 5zm20-1zm22-3zm21 2zm51 0zm47 9zm-71-5zm-94 11zm23-2zm5-2zm84 5zm-41 1zm-21 1zm44 9zm-35 1zm-51 3zm138 11zm-5 2zm-41 1zm-14-2zm-37-2zm36 15z" stroke="#3c84e2" stroke-width="3.5"/>
<path d="M872 1740zm71 7zm-10 4zm-38-4zm3 10zm19 0zm13 5zm-13-3zm-46 2zm-30-2zm-10 2zm-19 6zm33-1zm47 3zm55 3zm-31 2zm-25-4zm-51 0zm14 11zm35-2zm14 2zm40-5zm10 5zm7-5zm12 4zm-21 2zm-13 0zm-45 1zm-49 3zm-9-2zm26 4zm23 0zm37 1zm24 1zm48 9zm-42-2zm-92 1zm-29 0zm-5 1zm5 4zm80 2zm9-1zm18-2zm13 3zm7-4zm7 0zm-10 8zm-30 1zm-2-2zm-4 1zm-26 0zm-59-3zm-3 7zm39 4zm19-4zm6 1zm19-1zm2 0zm3 3zm45-3zm22 3zm23-3zm10 2zm-58 4zm-10 1zm-11-1zm-42 2zm-27 1zm-6 1zm-22-1zm-44-1zm14 5zm39 0zm18 3zm3 0zm0-5zm7 4zm84 1zm19-4zm-82 8zm-20-2zm-12 3zm-4 7zm68-4zm25 3zm17-4zm-101 10zm0-4zm7 11zm42-5zm-96 17zm11-2zm24 0zm32 0zm37 1zm6-1zm-15 8zm-84 1zm83 3zm11 7z" stroke="#0a0aa0" stroke-width="3.5"/>
<path d="M989 1734zm-3 7zm-15 19zm-67 13zm56 14zm-8 2zm28 10zm-17 1zm90 10zm-91-2zm-14 1zm67 8zm-26 15zm-5 3zm4 3z" stroke="#f0a02a" stroke-width="3.5"/>
<path d="M1033 1621zm-116 7zm103 5zm34 1zm-64 10zm-38 10zm-39 2zm4 2zm36 2zm32 1zm64-5zm-30 6zm-44 5zm-57-5zm-34 9zm40 2zm58-5zm44 7zm-11-1zm-9 1zm-72 2zm-41 2zm-7 6zm0-3zm28 1zm8 1zm4 1zm55 0zm55 2zm-71 2zm-88 5zm40-2zm33 2zm45 3zm12-1zm29-2zm-17 6zm-21 1zm-7 0zm-92 7zm5-4zm26 4zm10-4zm8 3zm37 3zm-39 4zm0 3zm42 0zm8 2zm4 1zm23-3zm55 6zm-30 3zm-30-3zm-71 4zm-49 5zm55-4zm20 3zm28 2zm17 0zm-5 4zm-10-1zm-42 0zm-48 2zm15 5zm129-2zm-130 8zm34 6zm31 2zm49-4zm-36 5zm-22 3zm-89 6zm85 0zm-23 7zm-31 2zm45 8z" stroke="#8e1c1c" stroke-width="3.5"/>
<path d="M927 1534zm-22 2zm25 1zm-40 10zm-47 6zm44-3zm23 3zm57-1zm52 3zm-21 2zm-46-1zm-87 6zm17 3zm7-1zm1 1zm30-4zm10 0zm6 3zm60-1zm56 4zm-128 3zm-16 0zm-83 0zm-40-1zm138 8zm4-3zm7-2zm19 5zm24 0zm58-1zm32 4zm-119 1zm-10 2zm-12-2zm-69 1zm-19-2zm-27 7zm38 2zm23-3zm23 2zm11 0zm40-4zm15 5zm23-5zm56 0zm-88 9zm-3 1zm-25-1zm-3 0zm-9 2zm-43 0zm-84-3zm-22-2zm72 9zm30-2zm6 2zm83 2zm2-1zm2-2zm4-1zm27 2zm7 2zm69-1zm28 2zm-80 3zm-11-1zm-63-1zm-5 0zm-6-1zm-6 2zm-10-1zm-18 4zm-26-4zm-4 4zm-7-5zm-19 3zm-23-1zm24 5zm35 3zm13-4zm27 3zm20 1zm40-3zm43-1zm13 8zm-64 3zm-104 0zm-47 0zm4 5zm68 0zm38 0zm30-2zm28-2zm50 3zm21 7zm-52 1zm-5-3zm-106-2zm-21 3zm20 7zm29 7zm45 2z" stroke="#e53030" stroke-width="3.5"/>
<path d="M808 1619zm11 18zm15 0zm-5 3zm-21 2zm-34 5zm1 2zm54-4zm-60 9zm-16-4zm21 7zm34 0zm13 4zm17-1zm37 5zm-27 0zm-21-3zm-31 2zm0 3zm-3-2zm-37-3zm-15 1zm-31 2zm50 7zm18-1zm11-2zm9 2zm10-3zm1 5zm13-1zm10 1zm53 6zm-88-2zm-8 1zm-51-2zm45 8zm0-4zm11 4zm13-2zm70-2zm-42 6zm-18 0zm-7 2zm-8 1zm-30-1zm-4 8zm13-4zm12 3zm34-3zm13 2zm12 2zm-11 6zm-7 1zm-29-2zm0-2zm-3-1zm-3 1zm-14-1zm-12 2zm-31-1zm-9 3zm48 2zm16 3zm11 1zm54-4zm31 4zm-65 5zm-4-3zm-12 4zm-12-3zm-13 7zm10 3zm18-2zm61 1zm12 3zm-30 3zm-20 0zm-47 1zm-6-4zm-5 3zm10 3zm49 2zm8 5zm-13 2zm-39-3zm-24 4zm-9 4zm6-3zm71 1zm4-1zm7 9zm-52-1zm-14 1zm-12 2zm-18-5zm35 6zm18 2zm15-1zm-38 6zm-19-1zm68 15zm-46-1zm-9-2zm-17 2zm95 10zm-69 0zm0 1zm-5 8zm15-2zm11 11z" stroke="#6cf0f2" stroke-width="3.5"/>
<path d="M783 1750zm33 13zm-17-4zm-10 15zm-13 0zm-7 3zm5 2zm3-2zm54 10zm-27-2zm-12-2zm-6 4zm-5-5zm-37 3zm48 8zm29-4zm8 3zm23 1zm-72 11zm19-3zm43 3zm-75 13zm19-5zm5 5zm10-3zm73 4zm-78 7z" stroke="#3c84e2" stroke-width="3.5"/>
<path d="M714 1628zm-9 15zm-6 0zm92 23zm0 0zm-70-2zm10 4zm100 8zm-77-2zm-64 3zm14 4zm115-1zm4 2zm17 7zm-74 7zm54-2zm26 8zm-27-4zm-4 1zm-38 2zm-2 0zm-65 0zm-15-2zm57 9zm6-4zm45 2zm5-1zm-21 7zm-11 2zm-5 6zm0 1zm22 0zm14-2zm42 1zm-83 2zm-55 0zm36 6zm61 1zm84 1zm-120 5zm-30 6zm72 0zm122 2zm12 7zm-254-2zm54 5zm3 0zm107 0zm2-1zm11 3zm-57 9zm50 0zm127 0zm1 6zm-14 2zm-36 1zm-24-1zm-52 1zm-27 1zm-33-2zm164 11zm-23 3zm-42-1zm-58 1zm52 4zm3-2zm16 1zm4 2zm23-1zm-16 8zm-68 1zm-157 0zm197 1zm21 1zm21 3zm-2 3zm-59 9zm48-3zm24 3zm21-4zm14 10zm-89 0zm-24-4zm-6 1zm-62 3zm50 6zm36-1zm58-1zm47 0zm-32 8zm-81-4zm-32 6zm37 3zm14 0zm0-3zm43 11zm-128 3zm72 1zm29-1zm15 32z" stroke="#0a0aa0" stroke-width="3.5"/>
<path d="M1001 1736zm-11 21zm27 5zm-38 0zm-1-1zm-72 2zm82 5zm-14 2zm56 9zm-98 6zm3 4zm69 4zm-9 3zm66 11zm-19 8z" stroke="#f0a02a" stroke-width="3.5"/>
<path d="M973 1609zm-8 7zm83 12zm-78 11zm-79 10zm79-1zm31 0zm21-2zm48 0zm-34 5zm0 0zm-58 2zm-6-2zm-5 3zm48 8zm-22 0zm-15 3zm-22-3zm-2 3zm-48 2zm54 1zm49 0zm24 11zm-61-1zm-33-2zm-10-2zm-16 7zm76-1zm9 0zm61 8zm-29 2zm-6-2zm-35-2zm-37 2zm-23 9zm37-1zm32-2zm19-1zm35 4zm-26 4zm-45 0zm-76-1zm5 9zm27-1zm56-2zm34 3zm-16 3zm-32 3zm-6-5zm-24 0zm-29 9zm31-2zm18 1zm15 0zm40 4zm-8 1zm-137 10zm92-4zm49 8zm-59 2zm-34-1zm26 4zm74 2zm8 0zm24-3zm-17 7zm-42-2zm-5 3zm-1 2zm-14-3zm6 4zm64 1zm-35 6zm-6 4zm-13 18zm31 4zm-21 8z" stroke="#8e1c1c" stroke-width="3.5"/>
<path d="M858 1553zm-29 7zm108 1zm-82 18zm-74 6zm247 2zm-81 7zm-31 7zm3-1zm66-2zm-39 6zm-19 7zm41-3zm112 0zm11 8zm-210 10zm231 7zm9-1zm-4 6zm-14 0zm-12 10zm-3 3zm-18 1zm10 7zm33-2zm2 0zm9 10zm-26-2zm-42-2zm8 5zm32 3zm2 1zm10-4zm1 2zm15-1zm6 10zm-17-2zm0 1zm-28 1zm-2 3zm19 1zm3 1zm5 7zm-7-4zm-5 1zm-4 2zm-2-2zm-6 1zm-26 3zm27 1zm22 0zm3 0zm17 9zm-19-1zm-22 0zm-20-1zm-10 2zm28 7zm24-4zm30 6zm-26 4zm-39-2zm17 4zm20 7zm-42 4zm33 7zm-12 1zm-15 9zm15-5zm14 3zm17 2zm30 1zm-72 9zm8-2zm10 4zm23 3zm-17 2zm-2-4zm-25 0zm23 11zm19-1zm-24 7zm-13-5zm-1 0zm-23 8zm48 9zm13 1zm-54 14zm25-1zm12 8zm-34 1zm37 7zm-30 10zm-100 42zm-78 8zm25-4zm96 0zm-56 9zm-38-4zm-31 4zm-18-1zm118 4zm-52 5z" stroke="#e53030" stroke-width="3.5"/>
<path d="M357 2219zm9 2zm-49 7zm-19 4zm12 9zm-103-1zm87 10zm-24 3zm13 3zm23 2zm6 2zm8 1zm31-1zm72 0zm-134 7zm-35 0zm-65 6zm80-3zm21-1zm6 2zm2 1zm3 1zm86-2zm1 8zm-51 0zm-29-1zm-49 0zm-5-3zm-13 1zm-23-1zm-30 2zm-47 3zm17 1zm46 2zm5 1zm33 1zm36-1zm51 0zm28-1zm42 4zm-92 1zm0 3zm-96-1zm-44 0zm-10 0zm20 3zm44 0zm4 1zm12 0zm4-1zm6 3zm64 0zm17-4zm21 0zm11 0zm16 2zm68 0zm-15 5zm-1 4zm-69-1zm-26-3zm-99 2zm-5-2zm56 8zm42 0zm46-1zm0-2zm12 3zm8 0zm35-3zm-171 11zm-47 0zm-40-2zm127 8zm42-5zm1 4zm48-3zm33 3zm9 6zm-99 1zm-48 0zm-7-5zm-49 5zm-20 2zm60 2zm6 2zm39-4zm8 5zm-31 1zm-14 4zm-28-5zm-54 1zm56 9zm85-1zm13-3zm7 0zm22 0zm-41 8zm-133-2zm25 8zm13 3zm42-4zm76-1zm30 2zm-148 8zm43 4z" stroke="#74eef0" stroke-width="3.6"/>
<path d="M344 2037zm-77-3zm-53 16zm92 14zm32 0zm-70 10zm-30-3zm-31 1zm-20 0zm84 6zm147 20zm-160-4zm-5 11zm11-3zm101-1zm-20 9zm-116-4zm-49 3zm33 6zm30 1zm69 0zm115-1zm-67 3zm-41 5zm-81-1zm-30 5zm30-3zm84 6zm-221 9zm19 1zm38-1zm67 2zm76-5zm6 5zm8-5zm28 5zm-24 2zm-15 0zm-26 3zm-137 0zm108 2zm88 2zm74 8zm-232-2zm41 7zm25-2zm74 3zm1 5zm-52-3zm-5 3zm-35 2zm57 1zm0 2zm46 0zm9 5zm-150 4zm71 2zm105 3zm-32 3zm-67 4zm-14-2zm-10-3zm-7 1zm-27 0zm-53 10zm40-2zm82 2zm59-5zm-11 11zm-12-4zm-13 0zm-32 1zm-35 9zm33-3zm8-1zm47 4zm-160 1zm150 8zm-17 5zm-26 1zm-30 2zm11 5zm90 5zm-121 3zm-20 6zm184-3zm-206 4zm-35 2zm34 5zm111 5zm53 24zm-74 19z" stroke="#6ee050" stroke-width="3.6"/>
<path d="M306 2044zm26 4zm-28 9zm-13 12zm70 2zm-68 3zm-27 1zm53 2zm57 3zm-88 13zm17-2zm13 0zm12-2zm12-1zm16 4zm66 3zm-37 1zm-6 2zm-17 0zm-23-2zm-33 0zm-52 0zm-9 3zm118 1zm11 1zm2 4zm39-3zm-9 4zm-37 1zm-16 4zm-2-1zm-8-4zm-6 4zm-5-3zm-19 1zm-31 5zm43 1zm10 2zm21 2zm-6 5zm-10-3zm-5 6zm3 0zm1 1zm7-2zm36 1zm5 2zm15-1zm-1 7zm-27-4zm-75 1zm49 6zm37 3zm7-3zm20 5zm-38 1zm-13 1zm-4 2zm-15-4zm-10 0zm-47 5zm-3-1zm10 6zm28-4zm16 0zm31 0zm44 5zm37-1zm-1 3zm-16 4zm-45-5zm-1 5zm-36-3zm-23-1zm-18 3zm-41-2zm-1 2zm4 3zm23 3zm11-2zm14 1zm64 2zm56-3zm-39 6zm-3 1zm-5-2zm-8 0zm-43 2zm14 8zm8-4zm9 1zm14 1zm20 0zm-71 3zm-41 5zm-46 2zm65-1zm86 9zm-1-1zm-8-2zm-12 2zm-13 0zm-40 0zm-76 0zm7 9zm52-5zm26 4zm43-1zm4 4zm-2 1zm-32 1zm0 0zm-7 8zm35-1zm-25 5z" stroke="#3a7ad8" stroke-width="3.6"/>
<path d="M221 2196zm50 0zm26 10zm-16 1zm86 2zm4 8zm-32-3zm-13 4zm-81-4zm-17 5zm42 1zm14 3zm10 2zm-101 11zm128 7zm-57-3zm-118 4zm134 5zm-16 3zm-22 2zm33 4zm10-2zm85 11zm-61-5zm-46 0zm-47 2zm81 6zm2-1zm47 0zm1 5zm-60 4zm-153-3zm85 9zm9-1zm2 0zm81 6zm-35 1zm-47-3zm94 12zm-10 9z" stroke="#e030e0" stroke-width="3.6"/>
<path d="M452 2150zm-22 9zm-31 0zm-1-5zm-17 7zm83 4zm-16 4zm-28-2zm-7 2zm-14 1zm-1-3zm-19 9zm10 0zm21 1zm26-3zm2 3zm6-3zm46 1zm-21 5zm-21 0zm-23 0zm-26 0zm-1 5zm7 1zm51 1zm9 0zm-29 5zm-21 5zm-19 10zm-30 4zm19 1zm104-4zm-54 17zm-22 2zm-6-1zm2 6z" stroke="#f2c838" stroke-width="3.6"/>
<path d="M406 2199zm2-3zm12 1zm-16 15zm6-3zm21 4zm19 1zm-15 7zm8 7zm-19-2zm-36 0z" stroke="#4a1468" stroke-width="3.6"/>
<path d="M154 2077zm-10 10zm13 2zm-23 15zm-22 15zm-7 11zm-8 4zm6 27zm5 3zm-18 3zm16 10zm-4 1zm-13 19zm9 4zm3 9zm3 0zm-9 20zm13 34zm-13-2zm41 47zm31 16z" stroke="#d42020" stroke-width="3.6"/>
<path d="M154 2211zm3-2zm-28 36zm-9 30zm11 14zm-6-3zm81 27zm0 0zm-69-2zm31 7zm-19 5z" stroke="#f09a40" stroke-width="3.6"/>
<path d="M179 2077zm-31 10zm-22 6zm33-5zm25 11zm-9 0zm-23 11zm-28 3zm-2 43z" stroke="#1010c8" stroke-width="3.6"/>
<path d="M254 2027zm-19 4zm11-3zm-35 9z" stroke="#707070" stroke-width="3.6"/>
<path d="M444 2348z" stroke="#111111" stroke-width="3.6"/>
<path d="M335 2211zm-52 13zm82 3zm66 9zm12 7zm-271 2zm49 1zm120 1zm53 8zm-41-4zm-14 0zm-37 4zm-123 3zm176 7zm-13 0zm-7 2zm-32-1zm-165-4zm61 9zm1-2zm77 4zm3-3zm18 3zm5-3zm10 3zm98 0zm59 0zm-90 5zm-24-2zm-60 3zm-38-5zm-2 0zm-83 0zm-46 7zm145 3zm28 1zm11-3zm114-2zm-2 6zm-102 1zm-71 2zm-33 7zm13-4zm23 5zm66 0zm27-3zm40 0zm-49 7zm-14-1zm-12-2zm-4 1zm-4 2zm-87 1zm-1 0zm-70 4zm68-2zm6 2zm9-2zm3 1zm35 1zm12 2zm10 1zm3-3zm20-1zm26-1zm47 4zm9 1zm4 1zm-3 3zm-32 2zm-37-5zm-5 4zm-27 1zm-25-4zm-5 0zm-102 1zm-19 6zm27-2zm84 4zm53-4zm4 2zm97 3zm46 2zm-97 0zm-39 4zm-20-3zm-62 4zm58 4zm1 0zm23-1zm104 4zm-63-1zm-39 5zm-2-4zm-8 3zm-34 0zm-57-3zm33 10zm53-1zm20 1zm-57 5zm44 3zm27 4zm24 2zm-73 0zm55 6zm-10 9z" stroke="#74eef0" stroke-width="3.6"/>
<path d="M269 2040zm-26 16zm123 5zm-172 2zm97 6zm-138 12zm51-3zm129 9zm-59 0zm26 5zm43 3zm-43 3zm-106 7zm39-3zm3 2zm50-2zm34 9zm-93-3zm19 9zm110-3zm-17 7zm-60 0zm-63 1zm-11-2zm106 6zm33 1zm33-2zm-1 10zm-50-1zm-91-1zm-21 2zm-17 2zm90 0zm3 0zm29 4zm33-2zm-48 3zm-59 1zm-60 6zm32-1zm63 2zm27-1zm27-1zm7 0zm63 6zm-60 3zm-37-3zm-142 8zm229 2zm-102 6zm-57-1zm-123 5zm99 1zm97-1zm-88 9zm21 1zm9 1zm84-1zm-93 9zm-41-3zm72 6zm35 6zm-171 3zm140 5zm31 3zm66-2zm2-3zm-87 8zm-10-2zm-145 7zm42 2zm72 0zm34 0zm8-1zm-155 6zm107 9zm19-5zm100 2zm-69 5zm-30 0zm-70 2zm-42 0zm103 6zm0 1zm-14 6zm-76 2zm190 22zm-137 3zm49 17zm-20 7zm12 2zm34-2z" stroke="#6ee050" stroke-width="3.6"/>
<path d="M333 2053zm-6 7zm13 5zm45 1zm30 2zm-27 6zm-47-4zm-41 9zm80-3zm21 5zm12 0zm8 5zm-44 0zm-51 1zm-3 0zm-23 1zm2 2zm79-2zm25 0zm46 7zm-7 2zm-47-1zm-81 0zm-35 7zm18-3zm109 8zm-9 2zm-39 0zm-1-2zm-13-1zm-10 3zm-7-1zm-71 7zm51 1zm3-4zm13 3zm26-2zm8-1zm37-1zm16 0zm-8 10zm-36 0zm-14 1zm-118-3zm57 5zm18 4zm32-1zm3-3zm47 4zm1-2zm8-3zm23 5zm-58 1zm-20 0zm-19 0zm-22 1zm-7 2zm-5-2zm-37-1zm41 9zm9 0zm8-3zm34 4zm61 6zm-32-2zm-9 2zm-8-2zm-55 1zm-13-2zm68 7zm2 3zm21-2zm17 0zm-14 6zm-36-1zm-45 8zm4-4zm44 2zm4 3zm31-3zm8 0zm23 7zm-38-2zm-20 0zm-41-1zm-32 6zm16 1zm40 2zm15-1zm15-1zm19 4zm1-1zm53 7zm-5-4zm-35 3zm-18-1zm-27-1zm-6-1zm-27 3zm-33 7zm22-1zm17-3zm14 3zm16-4zm59 6zm-54 0zm-64 2zm71 7zm7 0zm9-2zm-40 9zm-31 3zm62 6zm-21 11zm-30 18z" stroke="#3a7ad8" stroke-width="3.6"/>
<path d="M199 2212zm73 4zm96 8zm-19 7zm-36-3zm-37 1zm-39-1zm-27-1zm72 5zm10 0zm22 2zm2-2zm17 11zm-28-1zm-46 0zm49 4zm43 3zm-70 3zm-64-1zm-41 1zm-7 5zm15 1zm162 8zm-35-1zm-29 1zm-4 0zm-86 0zm25 7zm32-5zm29 2zm22-1zm28 4zm-68 3zm-74 2zm91 3zm86-1zm-60 9zm15 3zm-45 8zm-28 3z" stroke="#e030e0" stroke-width="3.6"/>
<path d="M417 2153zm21 5zm-1 0zm-43 0zm-10 1zm10 4zm9 2zm43 2zm-2-1zm-49 7zm9-1zm4 5zm71 1zm-15 2zm-21 1zm-13-1zm-7 2zm-22-1zm20 7zm8-1zm10-1zm33 3zm-49 4zm14 4zm19-1zm2 1zm-29 7zm-25 2zm6 2zm10 1zm9 0zm22 7zm-11 2zm-1-3zm-22 3zm3 7zm50-1z" stroke="#f2c838" stroke-width="3.6"/>
<path d="M415 2200zm4 1zm-13 3zm-3 0zm-8-1zm8 10zm42 4zm-13-2zm-37 3zm22 5zm6-3zm7 2z" stroke="#4a1468" stroke-width="3.6"/>
<path d="M174 2070zm-27 3zm3 9zm-16 9zm-9 17zm14 10zm-47 22zm-1 24zm0 3zm11 6zm-1 12zm-23 21zm17 21zm1 22zm13 6zm-2 2zm0 9zm43 9zm-28 11zm10 6zm1 15z" stroke="#d42020" stroke-width="3.6"/>
<path d="M168 2194zm-2 28zm-3 9zm-20 5zm16 4zm-2 9zm6-2zm4-3zm-9 18zm-11 21zm-14 8zm45 17z" stroke="#f09a40" stroke-width="3.6"/>
<path d="M179 2059zm-10 18zm42 39zm-47 13zm0 18zm-28 5zm210 61zm17 16zm-5 12z" stroke="#1010c8" stroke-width="3.6"/>
<path d="M505 2303zm-41 1zm5 10zm-20 6z" stroke="#707070" stroke-width="3.6"/>
<path d="M499 2297z" stroke="#111111" stroke-width="3.6"/>
<path d="M290 2216zm-27 0zm97 7zm49 8zm-110-2zm-39 6zm89 6zm-108-2zm60 16zm-14-3zm-99 5zm45 0zm75 4zm-56 6zm-20-4zm-66 1zm82 9zm39-2zm3-3zm19 2zm78 2zm-40 5zm-4 2zm-25-2zm-21 2zm-14-5zm-25 0zm-6 4zm-18 0zm-32-2zm-11 9zm31-2zm8-1zm12-2zm41 4zm13-3zm56 3zm6 0zm80 1zm6-1zm-28 2zm-91 3zm-43 0zm-34 1zm-46 0zm-78 3zm103 0zm17 4zm27 0zm22-2zm2 1zm6-1zm14 1zm4 1zm120 6zm-60-1zm-44 1zm-28-3zm-10 0zm-101-2zm-2 10zm71-3zm64 0zm37 0zm2 4zm107-4zm-35 10zm-12-2zm-174 0zm-45 0zm-53 5zm23 0zm67 0zm16 0zm45 3zm31-4zm19 4zm53-2zm-20 3zm-20 5zm-29-1zm-49-4zm-12 4zm-5 1zm-2-4zm0 2zm-95 7zm57 0zm90-1zm28-1zm2 0zm56 4zm-117 2zm-38 2zm-43-1zm3 6zm32-3zm42 1zm9 3zm32-1zm-56 8zm17 2zm42 4zm-46 4zm50 3zm28 1zm10 0z" stroke="#74eef0" stroke-width="3.6"/>
<path d="M243 2054zm5-2zm106 5zm-137 10zm132-3zm11 10zm-121 7zm71 0zm16 3zm-63 3zm-64 0zm39 5zm19-4zm67 10zm-52-1zm-8-1zm-95 18zm214 0zm-74 6zm-23 0zm-1 3zm-48-2zm-49 5zm7-2zm67 5zm14 0zm51-1zm52-2zm4 5zm-38 0zm-55 3zm-8-4zm-19 4zm-43-2zm-30 6zm47 0zm76 5zm-37 2zm-19-1zm-23 3zm-33-5zm0 3zm-4 1zm-3 7zm61-5zm51 2zm-151 11zm99 2zm5 0zm136 1zm-127 4zm-45-2zm-29 2zm-49-2zm114 8zm1-1zm58 4zm95 5zm-131-2zm-48 1zm-44-1zm-43-1zm57 8zm62 1zm4-4zm4 6zm-36 3zm-18-1zm-49-1zm14 7zm74 0zm9 2zm40-1zm36-3zm0 10zm-47-1zm-71-3zm-33 1zm-43 8zm93 5zm-42 1zm105 11zm-7 1zm-123 6zm16 2zm54 9zm-6 8zm-3 4zm64 3zm-30 3zm8 15zm14 1zm53 4z" stroke="#6ee050" stroke-width="3.6"/>
<path d="M320 2046zm75 28zm-112-2zm13 5zm12 3zm56-3zm-47 6zm-8 19zm26 0zm16 1zm52 8zm-46-4zm-1 4zm-2-2zm-5 2zm-27-1zm-31 1zm19 5zm32-2zm12 3zm17-5zm153 5zm-6 6zm-21-3zm-63 2zm-19-4zm-106 5zm-12 0zm85 5zm19-2zm10-2zm26 1zm25 3zm49 6zm-118 1zm-52-2zm-17-3zm-6 7zm7 1zm60 0zm13 3zm87-4zm29 1zm18 4zm-31 2zm-115-2zm-35 5zm-41-3zm-33 1zm32 5zm96-2zm17 5zm53-2zm38-3zm-22 7zm-129 0zm-11 0zm-12 3zm-31-3zm-10 5zm22 4zm16 0zm21-1zm133-1zm32 5zm-120 0zm-96-1zm25 9zm194 2zm10 6zm-6-3zm-42-1zm-93 0zm-57 2zm201 11zm-16 3zm-99 0zm-65-4zm-114 4zm91 5zm3 0zm51 0zm20-4zm73 0zm8 2zm58 9zm-22-5zm-26 5zm-153-2zm-16 4zm46 4zm0-2zm109 0zm21 2zm5-2zm-25 6zm-109 1zm110 4zm6 0zm60 9zm-45-2zm-33 1zm-94 4zm75 0zm19 3zm1-1zm31-4zm34 12zm-54 9zm-9 8zm53 5zm-31-4zm-6 9zm8-2zm-17 7zm23 5z" stroke="#3a7ad8" stroke-width="3.6"/>
<path d="M222 2198zm97 9zm-83 3zm120 8zm-4-1zm-21-3zm-67 0zm-8 2zm-31 2zm32 5zm15-3zm-70 12zm51 2zm-3 9zm-32-5zm-21 8zm212 5zm-85 3zm-71 1zm-22-3zm-102 9zm127-3zm22-2zm99 4zm-66 7zm-34 0zm-15-2zm-15-1zm-23 3zm-10-3zm-47 1zm140 4zm30 0zm47 1zm-168 4zm98 7zm28 5zm-116 7zm75 8zm-70 12z" stroke="#e030e0" stroke-width="3.6"/>
<path d="M449 2146zm-37 1zm-7-3zm7 5zm55 7zm-27-1zm-28 7zm29 0zm13 3zm21 5zm-35-4zm-51 4zm-6 1zm20 5zm35-4zm11 5zm1 2zm-14 0zm-47 1zm-2 5zm15 0zm25 2zm2-1zm18 1zm17 3zm-20 3zm-17 0zm-46-3zm42 7zm13 3zm7-3zm17 7zm-1 0zm-6 1zm-33 3zm34 16zm-20 5z" stroke="#f2c838" stroke-width="3.6"/>
<path d="M421 2183zm17 8zm-22 8zm13 8zm-6-4zm-17 9zm18-2zm-24 5zm31 9zm-34 2zm-7 2zm25 9z" stroke="#4a1468" stroke-width="3.6"/>
<path d="M152 2127zm-3 23zm10 4zm-9 22zm36 17zm-12 23zm-36 39zm20 5zm296 7zm29 4zm6 1zm-30 6zm-1 23zm-13 8zm-15 8zm26 0zm-205 32zm-13 12zm29 6zm56 0zm7-1z" stroke="#d42020" stroke-width="3.6"/>
<path d="M141 2192zm19 60zm255 37zm-263-1zm-16 8zm288 2zm-7 0zm25 8zm18 7zm-29 2zm10 2zm26-1z" stroke="#f09a40" stroke-width="3.6"/>
<path d="M362 2213zm11-3zm-10 4zm-4 5zm-4-1zm-6 6zm16 6zm-19-4zm-8 3z" stroke="#1010c8" stroke-width="3.6"/>
<path d="M464 2279zm20 23zm6 3zm-41 31z" stroke="#707070" stroke-width="3.6"/>
<path d="M499 2291zm-54 31z" stroke="#111111" stroke-width="3.6"/>
<path d="M856 2023zm-8 23zm-45 6zm-7 6zm45 10zm-12 12zm42 1zm13 2zm-100 3zm-27 1zm16 1zm-66 15zm60 2zm58-4zm-47 5zm-32 5zm16 4zm0-2zm4 0zm79 4zm-62 3zm-29 4zm17 3zm1-1zm44 3zm72-1zm-45 4zm-22 1zm-82 2zm-11 6zm87-1zm5-2zm60 6zm-5-1zm-68 5zm49 2zm-106 4zm135 7zm-51 8zm-14 0zm-41 2zm-67-1zm-4-3zm-28 3zm81 6zm60-1zm6 0zm2-3zm29 5zm6 2zm-28 0zm-64 2zm-80 5zm22 1zm66 6zm-14-3zm-58 2zm38 5zm54-1zm2 0zm52 10zm-31-4zm-59 5zm-43-4zm4 6zm55 4zm98 0zm2-5zm-14 8zm-30-1zm-81 6zm16-1zm14 5zm20 0zm15-3zm-32 5zm-38 4zm-13 6zm4 0zm50-5zm17 4zm68 4zm-37 2zm-52 1zm-45 6zm29-4zm28 2zm14-1zm13 3zm-32 2zm-9 4zm-6-5zm-46 0zm37 6zm12 4zm13-1zm28 0zm2-2zm18 4zm-41 6zm-15-5zm107 10zm-27 4zm-151 1zm-5 5zm86 2zm50 7zm-49 1zm55 1zm29 6zm-130 0zm63 6zm54 2zm-41 3zm-10 9zm25-3zm12 7zm-46 8zm32-3zm-24 7z" stroke="#74eef0" stroke-width="3.6"/>
<path d="M860 2117zm18 14zm24 16zm-10-1zm-3-3zm-28 3zm-26-3zm48 5zm41 9zm-17-1zm-14 3zm-11-2zm-2 1zm3 4zm4 5zm-12-1zm-2 3zm-2-3zm-9 2zm25 4zm39 8zm-19 3zm-8-1zm-32-1zm-8-1zm-11 5zm10 0zm1 3zm19-4zm1 4zm27-1zm7-1zm19 7zm-31-2zm-81 5zm11 3zm26-2zm9 1zm62 0zm1 6zm-12 3zm-37-5zm-2 5zm-3-5zm-3 1zm-22 4zm-11 0zm-9-5zm-6 10zm25-4zm1 5zm6-4zm0 4zm47-1zm4-1zm20 2zm1-2zm13 2zm-13 2zm-18 3zm-2-2zm-7-1zm-1 4zm-4-2zm-5-3zm-31 0zm-3 4zm-7-2zm-9 3zm0 2zm9 2zm17-3zm0 4zm12-2zm7 3zm48-2zm14-3zm-5 9zm-44-3zm-1 4zm-28 1zm-4-5zm-27 2zm10 4zm18 4zm24-3zm24 0zm34 3zm-58 6zm-9-3zm-9 0zm-6 5zm22 2zm4 3zm33-4zm-10 10zm-20 0zm-5-4zm-69 2zm26 7zm33-2zm51 6zm-72 0zm41 6zm-22 7zm-4 4z" stroke="#6ee050" stroke-width="3.6"/>
<path d="M973 2160zm28 1zm28 10zm-35-5zm-61 7zm36-1zm31 0zm27 3zm48 1zm-56 7zm-66 0zm-7-5zm-13 7zm63 0zm7-1zm6 2zm2 3zm33-5zm8 2zm-48 8zm-8-2zm-23 0zm-10 3zm-32 0zm-16-3zm-23 8zm67 1zm14-4zm12 2zm4 2zm9-2zm28 8zm-3 0zm-26-1zm-6-1zm-9-2zm-27-1zm-3 4zm-10 0zm-7 4zm29 1zm63 2zm16-2zm-11 8zm-11-5zm-1 0zm-17 4zm-20-1zm-9 1zm-24-3zm-2 1zm-7 3zm-5-3zm-17 1zm-13-2zm55 9zm1-3zm1 2zm11-1zm17-2zm14 0zm36 4zm16-2zm7 0zm-22 6zm-15 1zm-7-3zm-14 2zm-4 3zm-5-2zm-6-2zm-44 4zm-11-5zm-14 0zm-12 10zm27-2zm4 1zm4 0zm8-3zm10 1zm9 1zm12-1zm1 3zm8 0zm17-2zm11 3zm0-4zm17 4zm15-3zm7 2zm14 2zm-15 5zm-12-4zm0 0zm-35 4zm-9-3zm-7 0zm-8-2zm-54 0zm-37 3zm-3-1zm152 6zm14-1zm-11 10zm-77-5zm-16 9zm32 2zm32-3zm6-1zm73 1zm-60 6zm-63 3zm-49 5zm20 1zm44-1zm56 1zm-21 1z" stroke="#3a7ad8" stroke-width="3.6"/>
<path d="M854 2155zm-66 7zm66 11zm14 6zm-31 4zm-58 3zm23 18zm53 14zm-2-2zm-107 5zm72 7zm-15-1zm-20 0zm-16 5zm18 3zm87-3zm-49 11zm-62 6zm134-3zm-62 4zm-16 11zm1 0zm53 6zm0-5zm-67 5zm-55-3zm68 4zm3 1zm19 2zm4 2zm32 2zm-79 3zm-28 2zm18 11zm20 36zm-5-1z" stroke="#e030e0" stroke-width="3.6"/>
<path d="M991 2069zm4-2zm25-3zm17 14zm-33 12zm3 2zm12 0zm5 14zm-13 2zm-36 8zm20-2zm19 1zm22 1zm1 5zm-81 4zm47-1zm12 1zm8 4zm15-3zm7-1zm4 0zm10 0zm-14 10zm-26 0zm-8-5zm-4 1zm-11 3zm36 5zm30-3zm-34 6zm-15 0zm-38 3zm-7 7zm19-1zm5 1zm7-1zm6 0zm9 5zm-18 0zm-16 17z" stroke="#f2c838" stroke-width="3.6"/>
<path d="M994 2108zm-34-1zm16 13zm-4-1zm-22 4zm3 6zm23 0zm19-5zm2 0zm-11 8zm-6-2z" stroke="#4a1468" stroke-width="3.6"/>
<path d="M860 2044zm55 7zm-86 0zm-12-1zm1 5zm16 0zm5-1zm7 0zm27 2zm18 1zm-17 6zm-92-1zm29 5zm33-3zm-78 12zm3 1z" stroke="#d42020" stroke-width="3.6"/>
<path d="M811 2064zm85 2zm-147 14zm125 1zm22 2zm-10 20z" stroke="#f09a40" stroke-width="3.6"/>
<path d="M714 2125zm-26 17zm41 15zm-24 3zm1 34z" stroke="#1010c8" stroke-width="3.6"/>
<path d="M741 2083zm-3 15zm-55 64z" stroke="#707070" stroke-width="3.6"/>
<path d="M782 2062z" stroke="#111111" stroke-width="3.6"/>
<path d="M810 2056zm1 1zm37-4zm-60 5zm71 12zm-119 6zm101 5zm-33 4zm24 7zm26-4zm-23 7zm-1 2zm-14 1zm-6 0zm-50 0zm-6 3zm18 3zm23-2zm39 6zm-120 2zm95 3zm17-1zm2 4zm-35 6zm-94-4zm17 11zm21-3zm105 8zm-93 0zm13 5zm35 2zm36 0zm10-1zm67 1zm-48 5zm-23-1zm-61-2zm-2 3zm-45 7zm81-1zm37-2zm34-1zm-181 9zm61 10zm-8 0zm-8 1zm-36 7zm61 1zm5-5zm69 4zm1-1zm3-2zm26 0zm-62 10zm-20-5zm-36 10zm26 0zm21-3zm90 9zm-59-3zm-77 1zm-46-2zm-22 3zm55 8zm-41 12zm105-4zm5 1zm111 7zm-158-2zm-69 9zm11-1zm5 2zm65-5zm2 2zm61-1zm14 6zm-70 0zm-3 1zm-3 3zm-39 4zm22-2zm112 0zm-39 7zm-37 0zm-1 1zm-18-1zm28 9zm40 3zm-116 8zm6 1zm11-5zm46 2zm32 1zm31-1zm-47 4zm-19 4zm87 6zm19-2zm-133 5zm-10 4zm-19 0zm17 2zm13 0zm90-1zm-103 15zm61 5zm-27 3zm-48 0zm43 2zm13 8zm30 8zm63 4zm-86 2zm-23-4zm63 11zm-39 3zm-4 3zm45 13zm12 3zm-15 13z" stroke="#74eef0" stroke-width="3.6"/>
<path d="M865 2134zm13 7zm42-4zm-23 8zm-24 0zm-26-2zm-8 9zm30 0zm43 5zm5 3zm9 4zm-25 3zm-21 4zm-29 0zm-12 0zm1 1zm5 4zm34-4zm1 1zm1 4zm65-5zm-17 8zm-32 1zm-17 2zm-37 0zm3 6zm59 0zm29-2zm3-2zm4 6zm-7-1zm-33 4zm-13-1zm-9-1zm-14-1zm-7 4zm-13-2zm-31 4zm25 0zm6 1zm10 0zm2 1zm37 0zm2 2zm20 0zm2-5zm7 9zm0 1zm-8-2zm-9 2zm-20-4zm-18 1zm-3 3zm-2-2zm-6 2zm-1-4zm-4 1zm-6 1zm-3 2zm-14-4zm-12 4zm-7 5zm18-2zm24 3zm37-2zm15 2zm32-1zm6 4zm-68 1zm-1 0zm-2-1zm-7 2zm-5 0zm-31-3zm20 9zm24 1zm4 0zm5 0zm33 0zm11 1zm-2 1zm-24 3zm-37 1zm-21 1zm-2 6zm3-1zm23-1zm8-1zm0-2zm33 4zm14-2zm12-1zm-44 5zm-25 0zm-12 1zm21 5zm23 5zm11-2zm24 3zm-94 3zm56 3zm20 8zm-1 1zm-15-3zm-39 2zm-1-2zm70 17z" stroke="#6ee050" stroke-width="3.6"/>
<path d="M1041 2159zm-39 1zm4 1zm49 6zm-98 0zm-4 0zm17 8zm39 1zm83 0zm-44 5zm-21-3zm-29 1zm-32 1zm5 7zm13-1zm8 2zm22-2zm10 1zm17-3zm78 11zm-23-4zm-31-1zm-25 0zm-56 5zm-4-4zm-8-1zm-13 3zm-1 2zm-44 5zm50-1zm2-1zm27-2zm3 0zm2 0zm70 1zm24 2zm5 6zm-51 1zm-1 0zm-5-3zm-13 2zm-22 2zm-17-1zm-7 0zm-1 0zm-6-2zm11 4zm3 0zm32 3zm57-2zm27 10zm-51 0zm-3 0zm-2-4zm-4 2zm-25 2zm-18-3zm-3 1zm-44 0zm-6-3zm-38 11zm21-2zm22-3zm13 4zm14-1zm2 0zm24-3zm12 0zm4 2zm0-2zm7 5zm30 0zm15-1zm27 5zm-54-2zm-14 3zm-39-3zm-6 4zm-2-1zm-86-4zm76 11zm3 0zm63-4zm17 0zm19 1zm11 3zm10 3zm-14-1zm-16 0zm-4-1zm-16 1zm-13 1zm-9 3zm-23-3zm-5 3zm-5-5zm-31 0zm-51 2zm-14 5zm80 3zm11-1zm26 1zm3-1zm13 1zm44-3zm47 2zm-78 8zm-16-2zm-37-2zm-5 3zm-18-1zm40 5zm30 2zm-48 3zm-63 2zm70 4zm5 2zm-33 12z" stroke="#3a7ad8" stroke-width="3.6"/>
<path d="M856 2183zm-66-4zm31 20zm12 1zm-74 10zm54 3zm2-2zm8-1zm19 9zm-32 0zm-1-5zm-51 4zm-14 7zm143 2zm-28-1zm-31 0zm-7 1zm-32 2zm-50-1zm40 7zm31 2zm-1 3zm-13-1zm-27-1zm-39 11zm49-3zm27 7zm14 4zm22 0zm-21 6zm-50 2zm97 3zm-71 7zm-8-1zm22 15zm64 4zm-44 14z" stroke="#e030e0" stroke-width="3.6"/>
<path d="M986 2075zm78 5zm-92 13zm24-2zm66-3zm-83 15zm2 0zm16-1zm37 4zm-35 7zm2 4zm16-1zm9-3zm58 9zm-113 1zm20 4zm2 0zm13-1zm24 1zm33 0zm-12 5zm-1 0zm-9 3zm-27-3zm-3 0zm-12 4zm10 1zm25 6zm-9-1zm-15 4zm-21 0zm-3 1zm24 2zm25 1zm19-2zm-37 7zm-13 0zm56 15zm-59 0zm43 13z" stroke="#f2c838" stroke-width="3.6"/>
<path d="M979 2101zm6 9zm-4-1zm15 6zm-6 3zm-22 1zm-14 6zm15 0zm1 3zm5 5zm0 5zm5 2z" stroke="#4a1468" stroke-width="3.6"/>
<path d="M876 2040zm46 7zm-49 1zm-66 9zm79-4zm12 8zm-79-3zm2 7zm-66 18zm233 233zm-23 9zm39 12zm-12-3zm47 9zm-39 3zm-58 2zm-11 22z" stroke="#d42020" stroke-width="3.6"/>
<path d="M900 2059zm-70 5zm8 4zm61 1zm-90 11zm128 3zm-105 2z" stroke="#f09a40" stroke-width="3.6"/>
<path d="M755 2073zm139 3zm-183 73zm-22 8zm25 13zm5 9z" stroke="#1010c8" stroke-width="3.6"/>
<path d="M743 2081zm19 1zm-48 38zm-34 69z" stroke="#707070" stroke-width="3.6"/>
<path d="M802 2051z" stroke="#111111" stroke-width="3.6"/>
<path d="M831 2061zm-27 8zm6-3zm30 3zm17-2zm38 1zm-32 6zm-50 4zm16 2zm13 1zm51-2zm5 2zm12-4zm27 7zm-80 1zm-2 0zm-39-1zm-14 1zm-15 6zm20-3zm3 1zm9 3zm2-2zm59-1zm38-1zm5 5zm25-4zm-29 5zm-19 2zm-1-2zm-40 5zm-1-2zm-1-1zm-6-2zm-10 1zm-14-1zm-8 5zm-7 0zm-14-2zm4 5zm9 3zm35-2zm15-2zm43 1zm0 4zm-11 5zm-8-4zm-2 1zm-19-2zm-7 1zm-15 1zm-21-2zm-1 0zm-2 3zm-36 2zm-34-2zm40 7zm6-1zm5-3zm4 4zm34-4zm4 4zm2 1zm3-4zm41 0zm4 2zm17-1zm2 2zm-3 2zm-56 2zm-3-2zm-4 1zm-6 1zm-1-2zm-13 2zm-70 7zm7-1zm18-2zm7 3zm5 0zm4 1zm38-3zm41-1zm29 0zm-39 6zm-10 4zm-58-2zm-10-1zm132 6zm-31 5zm-15 4zm-27-4zm3 10zm64 26zm-116 5zm-35-2zm-49-1zm-13 9zm85 0zm8 7zm36 5zm-39 3zm-22 0zm-61 7zm73 2zm38 0zm90 3zm-100 14zm-22 7zm33-3zm-97 4zm86 18zm-103 15zm6-1zm41 2zm34 14zm-42 19zm137 5zm-56 10zm66 9z" stroke="#74eef0" stroke-width="3.6"/>
<path d="M832 2138zm104 5zm-39 0zm-47 2zm2 6zm3 2zm9-2zm68 2zm-43 5zm-10-4zm-29 3zm-8-2zm-11 10zm23 0zm34-1zm4-2zm5 4zm-3 1zm-47 8zm8-3zm6 1zm24 0zm31 4zm7 0zm0-2zm20-3zm-33 10zm-9-1zm-5 0zm-12-1zm-21 1zm-2-1zm-3 0zm-25 0zm19 9zm4-3zm6 2zm2 0zm28-3zm21 0zm10-1zm5 0zm32 11zm-27-5zm-22 1zm-12 4zm-5-2zm-29 0zm-7-3zm24 11zm20-2zm6 3zm-6 3zm-4-3zm-7 1zm-5 3zm-9 0zm-15-1zm-10-2zm-6 3zm-2-3zm-1 2zm-32 2zm23 5zm50-3zm3 3zm0 1zm12-2zm28 5zm-23-2zm-62 4zm18 3zm26 2zm0-1zm17-2zm30 11zm-4-2zm-11-1zm-8-2zm-26 2zm-32-1zm-20 0zm-12 0zm26 10zm27-1zm4-1zm6 1zm28-4zm8 1zm17 10zm-45-4zm-3 3zm-5 1zm-41-5zm68 9zm2 2zm5-3zm-14 9zm-29 2zm6 6zm-16 2zm-33 3zm5 4zm49 0zm17 1zm-5 8zm-10 9z" stroke="#6ee050" stroke-width="3.6"/>
<path d="M953 2031zm6 0zm72 13zm-30 13zm46-2zm-83 12zm121 5zm-8 3zm-81 0zm-40 3zm69 0zm68 0zm-28 8zm-13-3zm-74 2zm-24 8zm38-4zm113 10zm-48-3zm-148 4zm169 0zm-134 8zm-1 8zm99 46zm13 4zm-81 1zm19 16zm-65 6zm21-4zm72 0zm39 6zm-34 4zm-3 0zm-18 0zm-78-5zm-26 9zm24 0zm21 2zm39-4zm7 1zm3 0zm65 2zm65-3zm-33 10zm-7-4zm-3 0zm-37 3zm-10-3zm-21 2zm-4 0zm-6-2zm-8 2zm-32-2zm-5 3zm4 7zm52 0zm22-2zm3-3zm1 1zm0 2zm54 1zm12-2zm-44 8zm-12-2zm-15 3zm-43 0zm-4-5zm-8 4zm-12-1zm-5 2zm0-2zm-14 2zm55 2zm16 4zm12-4zm1 3zm12 0zm30 1zm35-5zm-4 7zm-56-1zm-32 1zm-32 4zm-25-2zm0-1zm-21 3zm45 2zm12 2zm7 1zm12 0zm19-4zm5 1zm16 2zm0 5zm-1-2zm-15 2zm-42 2zm-9 0zm-14 0zm-3 0zm-2-4zm-29 6zm35 1zm35 1zm39-2zm0 0zm52 9zm-72-2zm-127 6zm86 0zm28-1zm30 10zm-112 7zm90-3zm6 6zm-44 2zm-46 0zm-1-1z" stroke="#3a7ad8" stroke-width="3.6"/>
<path d="M811 2166zm26 13zm-28-1zm-6 2zm39 17zm66 2zm-85 5zm-26 5zm53-1zm2 8zm-47 3zm-14-1zm13 9zm-58 3zm110 3zm6 5zm-24 0zm-15 1zm-12-1zm-5 1zm-77 9zm74-2zm6 2zm8 1zm-7 5zm-5-4zm-18 10zm77 5zm-42-2zm-17-1zm-24 9zm24-3zm13 3zm1 4zm-20 6zm55 2zm-57 19z" stroke="#e030e0" stroke-width="3.6"/>
<path d="M1048 2073zm-39 8zm6 4zm20 14zm-67-1zm48 7zm0-4zm5 3zm10-1zm2-3zm33 7zm-3 2zm-26 5zm13 5zm-11 2zm-36-3zm-6 3zm-8 1zm-5 3zm7 0zm21 3zm26-4zm1 3zm-25 3zm-6 4zm-29 3zm43-1zm7 4zm-31 3zm18 10zm-7 1zm-1 4zm-10-1zm-10 1zm-17-1zm96 3zm-65 14zm48-2zm-17 9zm-40-2z" stroke="#f2c838" stroke-width="3.6"/>
<path d="M976 2108zm-16 9zm2-1zm40 2zm-23 0zm-8 3zm-9 2zm-16 3zm19 5zm-8-1zm-9 1zm24 5z" stroke="#4a1468" stroke-width="3.6"/>
<path d="M815 2092zm55 140zm-184 15zm193-2zm-171 33zm204 9zm-110 4zm131 16zm-75 10zm127 4zm-17 7zm76 8zm-85 2zm-20 6zm51 7zm-203-4zm185 9z" stroke="#d42020" stroke-width="3.6"/>
<path d="M911 2053zm-96 5zm152 252zm-36 10zm49 2zm-5 1zm-32 1z" stroke="#f09a40" stroke-width="3.6"/>
<path d="M880 2052zm20 10zm-113 13zm120 10zm-159 3zm114 5z" stroke="#1010c8" stroke-width="3.6"/>
<path d="M675 2199zm361 131zm8-1zm-84 45z" stroke="#707070" stroke-width="3.6"/>
<path d="M818 2046z" stroke="#111111" stroke-width="3.6"/>
</g>
<g fill="none" stroke="#1a1a1a" stroke-width="1.5">
<rect x="62.8" y="64.3" width="521.4" height="388"/>
<rect x="654.6" y="64.3" width="521" height="388"/>
<rect x="61.5" y="548.3" width="521.4" height="387.6"/>
<rect x="656" y="548.5" width="520.6" height="387.4"/>
<rect x="59" y="1028.9" width="521.1" height="388.3"/>
<rect x="650.3" y="1028.9" width="521.5" height="388.3"/>
<rect x="58.6" y="1519.1" width="523.3" height="390"/>
<rect x="651.4" y="1519.2" width="523" height="389.9"/>
<rect x="59" y="2003.7" width="521.4" height="388.6"/>
<rect x="651.5" y="2003.7" width="521.3" height="388.6"/>
</g>
<g stroke="#1a1a1a" stroke-width="1.3">
<line x1="108.4" y1="452.3" x2="108.4" y2="457.3"/>
<line x1="184.95" y1="452.3" x2="184.95" y2="457.3"/>
<line x1="261.5" y1="452.3" x2="261.5" y2="457.3"/>
<line x1="338.05" y1="452.3" x2="338.05" y2="457.3"/>
<line x1="414.6" y1="452.3" x2="414.6" y2="457.3"/>
<line x1="491.15" y1="452.3" x2="491.15" y2="457.3"/>
<line x1="567.7" y1="452.3" x2="567.7" y2="457.3"/>
<line x1="57.8" y1="402.7" x2="62.8" y2="402.7"/>
<line x1="57.8" y1="345.2" x2="62.8" y2="345.2"/>
<line x1="57.8" y1="287.7" x2="62.8" y2="287.7"/>
<line x1="57.8" y1="230.2" x2="62.8" y2="230.2"/>
<line x1="57.8" y1="172.7" x2="62.8" y2="172.7"/>
<line x1="57.8" y1="115.2" x2="62.8" y2="115.2"/>
<line x1="671" y1="452.3" x2="671" y2="457.3"/>
<line x1="751.2" y1="452.3" x2="751.2" y2="457.3"/>
<line x1="831.4" y1="452.3" x2="831.4" y2="457.3"/>
<line x1="911.6" y1="452.3" x2="911.6" y2="457.3"/>
<line x1="991.8" y1="452.3" x2="991.8" y2="457.3"/>
<line x1="1072" y1="452.3" x2="1072" y2="457.3"/>
<line x1="1152.2" y1="452.3" x2="1152.2" y2="457.3"/>
<line x1="649.6" y1="438.9" x2="654.6" y2="438.9"/>
<line x1="649.6" y1="382.22" x2="654.6" y2="382.22"/>
<line x1="649.6" y1="325.54" x2="654.6" y2="325.54"/>
<line x1="649.6" y1="268.86" x2="654.6" y2="268.86"/>
<line x1="649.6" y1="212.18" x2="654.6" y2="212.18"/>
<line x1="649.6" y1="155.5" x2="654.6" y2="155.5"/>
<line x1="649.6" y1="98.82" x2="654.6" y2="98.82"/>
<line x1="84.3" y1="935.9" x2="84.3" y2="940.9"/>
<line x1="175.8" y1="935.9" x2="175.8" y2="940.9"/>
<line x1="267.3" y1="935.9" x2="267.3" y2="940.9"/>
<line x1="358.8" y1="935.9" x2="358.8" y2="940.9"/>
<line x1="450.3" y1="935.9" x2="450.3" y2="940.9"/>
<line x1="541.8" y1="935.9" x2="541.8" y2="940.9"/>
<line x1="56.5" y1="933.6" x2="61.5" y2="933.6"/>
<line x1="56.5" y1="874.5" x2="61.5" y2="874.5"/>
<line x1="56.5" y1="815.4" x2="61.5" y2="815.4"/>
<line x1="56.5" y1="756.3" x2="61.5" y2="756.3"/>
<line x1="56.5" y1="697.2" x2="61.5" y2="697.2"/>
<line x1="56.5" y1="638.1" x2="61.5" y2="638.1"/>
<line x1="56.5" y1="579" x2="61.5" y2="579"/>
<line x1="714.4" y1="935.9" x2="714.4" y2="940.9"/>
<line x1="801.1" y1="935.9" x2="801.1" y2="940.9"/>
<line x1="887.8" y1="935.9" x2="887.8" y2="940.9"/>
<line x1="974.5" y1="935.9" x2="974.5" y2="940.9"/>
<line x1="1061.2" y1="935.9" x2="1061.2" y2="940.9"/>
<line x1="1147.9" y1="935.9" x2="1147.9" y2="940.9"/>
<line x1="651" y1="888" x2="656" y2="888"/>
<line x1="651" y1="827.4" x2="656" y2="827.4"/>
<line x1="651" y1="766.8" x2="656" y2="766.8"/>
<line x1="651" y1="706.2" x2="656" y2="706.2"/>
<line x1="651" y1="645.6" x2="656" y2="645.6"/>
<line x1="651" y1="585" x2="656" y2="585"/>
<line x1="114.4" y1="1417.2" x2="114.4" y2="1422.2"/>
<line x1="181" y1="1417.2" x2="181" y2="1422.2"/>
<line x1="247.6" y1="1417.2" x2="247.6" y2="1422.2"/>
<line x1="314.2" y1="1417.2" x2="314.2" y2="1422.2"/>
<line x1="380.8" y1="1417.2" x2="380.8" y2="1422.2"/>
<line x1="447.4" y1="1417.2" x2="447.4" y2="1422.2"/>
<line x1="514" y1="1417.2" x2="514" y2="1422.2"/>
<line x1="54" y1="1364.6" x2="59" y2="1364.6"/>
<line x1="54" y1="1298.16" x2="59" y2="1298.16"/>
<line x1="54" y1="1231.72" x2="59" y2="1231.72"/>
<line x1="54" y1="1165.28" x2="59" y2="1165.28"/>
<line x1="54" y1="1098.84" x2="59" y2="1098.84"/>
<line x1="54" y1="1032.4" x2="59" y2="1032.4"/>
<line x1="668.5" y1="1417.2" x2="668.5" y2="1422.2"/>
<line x1="745.7" y1="1417.2" x2="745.7" y2="1422.2"/>
<line x1="822.9" y1="1417.2" x2="822.9" y2="1422.2"/>
<line x1="900.1" y1="1417.2" x2="900.1" y2="1422.2"/>
<line x1="977.3" y1="1417.2" x2="977.3" y2="1422.2"/>
<line x1="1054.5" y1="1417.2" x2="1054.5" y2="1422.2"/>
<line x1="1131.7" y1="1417.2" x2="1131.7" y2="1422.2"/>
<line x1="645.3" y1="1406.8" x2="650.3" y2="1406.8"/>
<line x1="645.3" y1="1342.2" x2="650.3" y2="1342.2"/>
<line x1="645.3" y1="1277.6" x2="650.3" y2="1277.6"/>
<line x1="645.3" y1="1213" x2="650.3" y2="1213"/>
<line x1="645.3" y1="1148.4" x2="650.3" y2="1148.4"/>
<line x1="645.3" y1="1083.8" x2="650.3" y2="1083.8"/>
<line x1="84.3" y1="1909.1" x2="84.3" y2="1914.1"/>
<line x1="173.95" y1="1909.1" x2="173.95" y2="1914.1"/>
<line x1="263.6" y1="1909.1" x2="263.6" y2="1914.1"/>
<line x1="353.25" y1="1909.1" x2="353.25" y2="1914.1"/>
<line x1="442.9" y1="1909.1" x2="442.9" y2="1914.1"/>
<line x1="532.55" y1="1909.1" x2="532.55" y2="1914.1"/>
<line x1="53.6" y1="1862.9" x2="58.6" y2="1862.9"/>
<line x1="53.6" y1="1791.7" x2="58.6" y2="1791.7"/>
<line x1="53.6" y1="1720.5" x2="58.6" y2="1720.5"/>
<line x1="53.6" y1="1649.3" x2="58.6" y2="1649.3"/>
<line x1="53.6" y1="1578.1" x2="58.6" y2="1578.1"/>
<line x1="699.8" y1="1909.1" x2="699.8" y2="1914.1"/>
<line x1="767.7" y1="1909.1" x2="767.7" y2="1914.1"/>
<line x1="835.6" y1="1909.1" x2="835.6" y2="1914.1"/>
<line x1="903.5" y1="1909.1" x2="903.5" y2="1914.1"/>
<line x1="971.4" y1="1909.1" x2="971.4" y2="1914.1"/>
<line x1="1039.3" y1="1909.1" x2="1039.3" y2="1914.1"/>
<line x1="1107.2" y1="1909.1" x2="1107.2" y2="1914.1"/>
<line x1="646.4" y1="1892.2" x2="651.4" y2="1892.2"/>
<line x1="646.4" y1="1840.8" x2="651.4" y2="1840.8"/>
<line x1="646.4" y1="1789.4" x2="651.4" y2="1789.4"/>
<line x1="646.4" y1="1738" x2="651.4" y2="1738"/>
<line x1="98.2" y1="2392.3" x2="98.2" y2="2397.3"/>
<line x1="188.6" y1="2392.3" x2="188.6" y2="2397.3"/>
<line x1="279" y1="2392.3" x2="279" y2="2397.3"/>
<line x1="369.4" y1="2392.3" x2="369.4" y2="2397.3"/>
<line x1="459.8" y1="2392.3" x2="459.8" y2="2397.3"/>
<line x1="550.2" y1="2392.3" x2="550.2" y2="2397.3"/>
<line x1="54" y1="2360.8" x2="59" y2="2360.8"/>
<line x1="54" y1="2289.1" x2="59" y2="2289.1"/>
<line x1="54" y1="2217.4" x2="59" y2="2217.4"/>
<line x1="54" y1="2145.7" x2="59" y2="2145.7"/>
<line x1="54" y1="2074" x2="59" y2="2074"/>
<line x1="728.2" y1="2392.3" x2="728.2" y2="2397.3"/>
<line x1="832.2" y1="2392.3" x2="832.2" y2="2397.3"/>
<line x1="936.2" y1="2392.3" x2="936.2" y2="2397.3"/>
<line x1="1040.2" y1="2392.3" x2="1040.2" y2="2397.3"/>
<line x1="1144.2" y1="2392.3" x2="1144.2" y2="2397.3"/>
<line x1="646.5" y1="2339.9" x2="651.5" y2="2339.9"/>
<line x1="646.5" y1="2269" x2="651.5" y2="2269"/>
<line x1="646.5" y1="2198.1" x2="651.5" y2="2198.1"/>
<line x1="646.5" y1="2127.2" x2="651.5" y2="2127.2"/>
</g>
<g fill="#1a1a1a" font-size="16">
<text x="108.4" y="474.4" text-anchor="middle">0</text>
<text x="184.95" y="474.4" text-anchor="middle">1</text>
<text x="261.5" y="474.4" text-anchor="middle">2</text>
<text x="338.05" y="474.4" text-anchor="middle">3</text>
<text x="414.6" y="474.4" text-anchor="middle">4</text>
<text x="491.15" y="474.4" text-anchor="middle">5</text>
<text x="567.7" y="474.4" text-anchor="middle">6</text>
<text x="51.3" y="407.9" text-anchor="end">−1</text>
<text x="51.3" y="350.4" text-anchor="end">0</text>
<text x="51.3" y="292.9" text-anchor="end">1</text>
<text x="51.3" y="235.4" text-anchor="end">2</text>
<text x="51.3" y="177.9" text-anchor="end">3</text>
<text x="51.3" y="120.4" text-anchor="end">4</text>
<text x="671" y="474.4" text-anchor="middle">22</text>
<text x="751.2" y="474.4" text-anchor="middle">23</text>
<text x="831.4" y="474.4" text-anchor="middle">24</text>
<text x="911.6" y="474.4" text-anchor="middle">25</text>
<text x="991.8" y="474.4" text-anchor="middle">26</text>
<text x="1072" y="474.4" text-anchor="middle">27</text>
<text x="1152.2" y="474.4" text-anchor="middle">28</text>
<text x="643.1" y="444.1" text-anchor="end">20</text>
<text x="643.1" y="387.42" text-anchor="end">21</text>
<text x="643.1" y="330.74" text-anchor="end">22</text>
<text x="643.1" y="274.06" text-anchor="end">23</text>
<text x="643.1" y="217.38" text-anchor="end">24</text>
<text x="643.1" y="160.7" text-anchor="end">25</text>
<text x="643.1" y="104.02" text-anchor="end">26</text>
<text x="84.3" y="958" text-anchor="middle">−12</text>
<text x="175.8" y="958" text-anchor="middle">−11</text>
<text x="267.3" y="958" text-anchor="middle">−10</text>
<text x="358.8" y="958" text-anchor="middle">−9</text>
<text x="450.3" y="958" text-anchor="middle">−8</text>
<text x="541.8" y="958" text-anchor="middle">−7</text>
<text x="50" y="938.8" text-anchor="end">8</text>
<text x="50" y="879.7" text-anchor="end">9</text>
<text x="50" y="820.6" text-anchor="end">10</text>
<text x="50" y="761.5" text-anchor="end">11</text>
<text x="50" y="702.4" text-anchor="end">12</text>
<text x="50" y="643.3" text-anchor="end">13</text>
<text x="50" y="584.2" text-anchor="end">14</text>
<text x="714.4" y="958" text-anchor="middle">9</text>
<text x="801.1" y="958" text-anchor="middle">10</text>
<text x="887.8" y="958" text-anchor="middle">11</text>
<text x="974.5" y="958" text-anchor="middle">12</text>
<text x="1061.2" y="958" text-anchor="middle">13</text>
<text x="1147.9" y="958" text-anchor="middle">14</text>
<text x="644.5" y="893.2" text-anchor="end">−7</text>
<text x="644.5" y="832.6" text-anchor="end">−6</text>
<text x="644.5" y="772" text-anchor="end">−5</text>
<text x="644.5" y="711.4" text-anchor="end">−4</text>
<text x="644.5" y="650.8" text-anchor="end">−3</text>
<text x="644.5" y="590.2" text-anchor="end">−2</text>
<text x="114.4" y="1439.6" text-anchor="middle">6</text>
<text x="181" y="1439.6" text-anchor="middle">7</text>
<text x="247.6" y="1439.6" text-anchor="middle">8</text>
<text x="314.2" y="1439.6" text-anchor="middle">9</text>
<text x="380.8" y="1439.6" text-anchor="middle">10</text>
<text x="447.4" y="1439.6" text-anchor="middle">11</text>
<text x="514" y="1439.6" text-anchor="middle">12</text>
<text x="47.5" y="1369.8" text-anchor="end">0</text>
<text x="47.5" y="1303.36" text-anchor="end">2</text>
<text x="47.5" y="1236.92" text-anchor="end">4</text>
<text x="47.5" y="1170.48" text-anchor="end">6</text>
<text x="47.5" y="1104.04" text-anchor="end">8</text>
<text x="47.5" y="1037.6" text-anchor="end">10</text>
<text x="668.5" y="1439.6" text-anchor="middle">6</text>
<text x="745.7" y="1439.6" text-anchor="middle">7</text>
<text x="822.9" y="1439.6" text-anchor="middle">8</text>
<text x="900.1" y="1439.6" text-anchor="middle">9</text>
<text x="977.3" y="1439.6" text-anchor="middle">10</text>
<text x="1054.5" y="1439.6" text-anchor="middle">11</text>
<text x="1131.7" y="1439.6" text-anchor="middle">12</text>
<text x="638.8" y="1412" text-anchor="end">0</text>
<text x="638.8" y="1347.4" text-anchor="end">2</text>
<text x="638.8" y="1282.8" text-anchor="end">4</text>
<text x="638.8" y="1218.2" text-anchor="end">6</text>
<text x="638.8" y="1153.6" text-anchor="end">8</text>
<text x="638.8" y="1089" text-anchor="end">10</text>
<text x="84.3" y="1930.8" text-anchor="middle">−7</text>
<text x="173.95" y="1930.8" text-anchor="middle">−6</text>
<text x="263.6" y="1930.8" text-anchor="middle">−5</text>
<text x="353.25" y="1930.8" text-anchor="middle">−4</text>
<text x="442.9" y="1930.8" text-anchor="middle">−3</text>
<text x="532.55" y="1930.8" text-anchor="middle">−2</text>
<text x="47.1" y="1868.1" text-anchor="end">−22</text>
<text x="47.1" y="1796.9" text-anchor="end">−21</text>
<text x="47.1" y="1725.7" text-anchor="end">−20</text>
<text x="47.1" y="1654.5" text-anchor="end">−19</text>
<text x="47.1" y="1583.3" text-anchor="end">−18</text>
<text x="699.8" y="1930.8" text-anchor="middle">1</text>
<text x="767.7" y="1930.8" text-anchor="middle">2</text>
<text x="835.6" y="1930.8" text-anchor="middle">3</text>
<text x="903.5" y="1930.8" text-anchor="middle">4</text>
<text x="971.4" y="1930.8" text-anchor="middle">5</text>
<text x="1039.3" y="1930.8" text-anchor="middle">6</text>
<text x="1107.2" y="1930.8" text-anchor="middle">7</text>
<text x="639.9" y="1897.4" text-anchor="end">23</text>
<text x="639.9" y="1846" text-anchor="end">24</text>
<text x="639.9" y="1794.6" text-anchor="end">25</text>
<text x="639.9" y="1743.2" text-anchor="end">26</text>
<text x="98.2" y="2414.6" text-anchor="middle">14</text>
<text x="188.6" y="2414.6" text-anchor="middle">15</text>
<text x="279" y="2414.6" text-anchor="middle">16</text>
<text x="369.4" y="2414.6" text-anchor="middle">17</text>
<text x="459.8" y="2414.6" text-anchor="middle">18</text>
<text x="550.2" y="2414.6" text-anchor="middle">19</text>
<text x="47.5" y="2366" text-anchor="end">−7</text>
<text x="47.5" y="2294.3" text-anchor="end">−6</text>
<text x="47.5" y="2222.6" text-anchor="end">−5</text>
<text x="47.5" y="2150.9" text-anchor="end">−4</text>
<text x="47.5" y="2079.2" text-anchor="end">−3</text>
<text x="728.2" y="2414.6" text-anchor="middle">9</text>
<text x="832.2" y="2414.6" text-anchor="middle">10</text>
<text x="936.2" y="2414.6" text-anchor="middle">11</text>
<text x="1040.2" y="2414.6" text-anchor="middle">12</text>
<text x="1144.2" y="2414.6" text-anchor="middle">13</text>
<text x="640" y="2345.1" text-anchor="end">5</text>
<text x="640" y="2274.2" text-anchor="end">6</text>
<text x="640" y="2203.3" text-anchor="end">7</text>
<text x="640" y="2132.4" text-anchor="end">8</text>
</g>
<g fill="#1a1a1a" font-size="14.4">
<text x="323.5" y="494" text-anchor="middle" textLength="54" lengthAdjust="spacingAndGlyphs">UMAP-1</text>
<text transform="translate(23 258.3) rotate(-90)" text-anchor="middle" textLength="54.5" lengthAdjust="spacingAndGlyphs">UMAP-2</text>
<text x="915.1" y="494" text-anchor="middle" textLength="54" lengthAdjust="spacingAndGlyphs">UMAP-1</text>
<text transform="translate(617.8 258.3) rotate(-90)" text-anchor="middle" textLength="54.5" lengthAdjust="spacingAndGlyphs">UMAP-2</text>
<text x="322.2" y="977.6" text-anchor="middle" textLength="54" lengthAdjust="spacingAndGlyphs">UMAP-1</text>
<text transform="translate(24.8 742.1) rotate(-90)" text-anchor="middle" textLength="54.5" lengthAdjust="spacingAndGlyphs">UMAP-2</text>
<text x="916.3" y="977.6" text-anchor="middle" textLength="54" lengthAdjust="spacingAndGlyphs">UMAP-1</text>
<text transform="translate(617.5 742.2) rotate(-90)" text-anchor="middle" textLength="54.5" lengthAdjust="spacingAndGlyphs">UMAP-2</text>
<text x="319.55" y="1458.3" text-anchor="middle" textLength="54" lengthAdjust="spacingAndGlyphs">UMAP-1</text>
<text transform="translate(22 1223.05) rotate(-90)" text-anchor="middle" textLength="54.5" lengthAdjust="spacingAndGlyphs">UMAP-2</text>
<text x="911.05" y="1458.3" text-anchor="middle" textLength="54" lengthAdjust="spacingAndGlyphs">UMAP-1</text>
<text transform="translate(613.9 1223.05) rotate(-90)" text-anchor="middle" textLength="54.5" lengthAdjust="spacingAndGlyphs">UMAP-2</text>
<text x="320.25" y="1950.9" text-anchor="middle" textLength="54" lengthAdjust="spacingAndGlyphs">UMAP-1</text>
<text transform="translate(17.7 1714.1) rotate(-90)" text-anchor="middle" textLength="54.5" lengthAdjust="spacingAndGlyphs">UMAP-2</text>
<text x="912.9" y="1950.9" text-anchor="middle" textLength="54" lengthAdjust="spacingAndGlyphs">UMAP-1</text>
<text transform="translate(615.3 1714.15) rotate(-90)" text-anchor="middle" textLength="54.5" lengthAdjust="spacingAndGlyphs">UMAP-2</text>
<text x="319.7" y="2433.6" text-anchor="middle" textLength="54" lengthAdjust="spacingAndGlyphs">UMAP-1</text>
<text transform="translate(18.9 2198) rotate(-90)" text-anchor="middle" textLength="54.5" lengthAdjust="spacingAndGlyphs">UMAP-2</text>
<text x="912.15" y="2433.6" text-anchor="middle" textLength="54" lengthAdjust="spacingAndGlyphs">UMAP-1</text>
<text transform="translate(624.3 2198) rotate(-90)" text-anchor="middle" textLength="54.5" lengthAdjust="spacingAndGlyphs">UMAP-2</text>
</g>
<g fill="#111">
<text x="178.7" y="49.3" font-size="17.74" textLength="297.8" lengthAdjust="spacingAndGlyphs">BACE Pre-trained Model Embedding</text>
<text x="772.4" y="48.7" font-size="17.74" textLength="294.1" lengthAdjust="spacingAndGlyphs">BACE Fine-tuned Model Embedding</text>
<text x="175.8" y="532.3" font-size="17.74" textLength="298.4" lengthAdjust="spacingAndGlyphs">BBBP Pre-trained Model Embedding</text>
<text x="769.5" y="532.3" font-size="17.74" textLength="294.7" lengthAdjust="spacingAndGlyphs">BBBP Fine-tuned Model Embedding</text>
<text x="175.8" y="1013.5" font-size="17.04" textLength="284.1" lengthAdjust="spacingAndGlyphs">HIV Pre-trained Model Embedding</text>
<text x="786.4" y="1013.5" font-size="17.04" textLength="280.1" lengthAdjust="spacingAndGlyphs">HIV Fine-tuned Model Embedding</text>
<text x="173.8" y="1508.5" font-size="16.76" textLength="285.2" lengthAdjust="spacingAndGlyphs">Tox21 Pre-trained Model Embedding</text>
<text x="766.6" y="1508.5" font-size="16.76" textLength="282.4" lengthAdjust="spacingAndGlyphs">Tox21 Fine-tuned Model Embedding</text>
<text x="179.5" y="1993.5" font-size="16.76" textLength="289.8" lengthAdjust="spacingAndGlyphs">SIDER Pre-trained Model Embedding</text>
<text x="780.1" y="1993.5" font-size="16.76" textLength="286.4" lengthAdjust="spacingAndGlyphs">SIDER Fine-tuned Model Embedding</text>
</g>
<g fill="#111" font-weight="bold" font-size="27">
<text x="8.1" y="31.2" textLength="38.3" lengthAdjust="spacingAndGlyphs">(A)</text>
<text x="9.6" y="513" textLength="38" lengthAdjust="spacingAndGlyphs">(B)</text>
<text x="8.9" y="994.5" textLength="39.1" lengthAdjust="spacingAndGlyphs">(C)</text>
<text x="8.4" y="1490" textLength="39.7" lengthAdjust="spacingAndGlyphs">(D)</text>
<text x="10" y="1974" textLength="36.8" lengthAdjust="spacingAndGlyphs">(E)</text>
</g>
<rect x="455.5" y="70.1" width="123.8" height="41.9" rx="3" fill="#fff" fill-opacity="0.85" stroke="#d6d6d6" stroke-width="1.2"/>
<circle cx="474" cy="80.3" r="3" fill="#e3221c"/><text x="502.1" y="85.7" font-size="14.5" fill="#e3221c" textLength="51.6" lengthAdjust="spacingAndGlyphs">Inactive</text>
<circle cx="474" cy="100.5" r="3" fill="#11114e"/><text x="502.8" y="103.9" font-size="14.5" fill="#11114e" textLength="38.5" lengthAdjust="spacingAndGlyphs">Active</text>
<rect x="659.6" y="70.9" width="126.9" height="41.9" rx="3" fill="#fff" fill-opacity="0.85" stroke="#d6d6d6" stroke-width="1.2"/>
<circle cx="678.2" cy="80.4" r="3" fill="#e3221c"/><text x="708.9" y="87.4" font-size="14.5" fill="#e3221c" textLength="51" lengthAdjust="spacingAndGlyphs">Inactive</text>
<circle cx="678.2" cy="101.3" r="3" fill="#11114e"/><text x="708.9" y="105" font-size="14.5" fill="#11114e" textLength="39.1" lengthAdjust="spacingAndGlyphs">Active</text>
<rect x="422.5" y="552.6" width="155.4" height="50.4" rx="3" fill="#fff" fill-opacity="0.85" stroke="#d6d6d6" stroke-width="1.2"/>
<circle cx="449.2" cy="566" r="3.2" fill="#1e6e1e"/><text x="474.6" y="570.8" font-size="13.5" fill="#1e6e1e" textLength="87" lengthAdjust="spacingAndGlyphs">Not Penetrate</text>
<circle cx="449.2" cy="588.3" r="3.2" fill="#f2a32e"/><text x="474.6" y="593.3" font-size="13.5" fill="#f2a32e" textLength="60.7" lengthAdjust="spacingAndGlyphs">Penetrate</text>
<rect x="659.4" y="551.8" width="144.3" height="51.2" rx="3" fill="#fff" fill-opacity="0.85" stroke="#d6d6d6" stroke-width="1.2"/>
<circle cx="686" cy="565.1" r="3.2" fill="#1e6e1e"/><text x="704.5" y="570" font-size="13.5" fill="#1e6e1e" textLength="87.5" lengthAdjust="spacingAndGlyphs">Not Penetrate</text>
<circle cx="686" cy="587.9" r="3.2" fill="#f2a32e"/><text x="704.5" y="592.4" font-size="13.5" fill="#f2a32e" textLength="60.5" lengthAdjust="spacingAndGlyphs">Penetrate</text>
<rect x="444.9" y="1034.7" width="127.6" height="42.7" rx="3" fill="#fff" fill-opacity="0.85" stroke="#d6d6d6" stroke-width="1.2"/>
<circle cx="463.1" cy="1044.6" r="3" fill="#bdbdbd"/><text x="482" y="1051.3" font-size="13.5" fill="#bdbdbd" textLength="77" lengthAdjust="spacingAndGlyphs">HIV Inactive</text>
<circle cx="463.1" cy="1064.4" r="3" fill="#e31a1a"/><text x="482" y="1070.9" font-size="13.5" fill="#e31a1a" textLength="64.8" lengthAdjust="spacingAndGlyphs">HIV Active</text>
<rect x="658.4" y="1036.2" width="128.6" height="43.3" rx="3" fill="#fff" fill-opacity="0.85" stroke="#d6d6d6" stroke-width="1.2"/>
<circle cx="673.5" cy="1046.3" r="3" fill="#bdbdbd"/><text x="692.5" y="1053" font-size="13.5" fill="#bdbdbd" textLength="77" lengthAdjust="spacingAndGlyphs">HIV Inactive</text>
<circle cx="673.5" cy="1066" r="3" fill="#e31a1a"/><text x="692.5" y="1072.6" font-size="13.5" fill="#e31a1a" textLength="64.8" lengthAdjust="spacingAndGlyphs">HIV Active</text>
<line x1="262.7" y1="542.9" x2="271.3" y2="542.9" stroke="#c8c8c8" stroke-width="1.2"/>
<line x1="345.1" y1="542.9" x2="353.7" y2="542.9" stroke="#c8c8c8" stroke-width="1.2"/>
<line x1="432.6" y1="542.9" x2="441.2" y2="542.9" stroke="#c8c8c8" stroke-width="1.2"/>
<line x1="857" y1="542.9" x2="865.6" y2="542.9" stroke="#c8c8c8" stroke-width="1.2"/>
<line x1="939.4" y1="542.9" x2="948" y2="542.9" stroke="#c8c8c8" stroke-width="1.2"/>
<line x1="1026.3" y1="542.9" x2="1034.9" y2="542.9" stroke="#c8c8c8" stroke-width="1.2"/>
<rect x="547" y="1494" width="136" height="201" fill="#fff"/>
<rect x="550.8" y="1497.9" width="129.2" height="193.7" rx="2" fill="#fff" fill-opacity="0.85" stroke="#d6d6d6" stroke-width="1.2"/>
<circle cx="565.6" cy="1507.7" r="3.6" fill="#e8302c"/><text x="585.2" y="1511.3" font-size="10.2" fill="#1a1a1a" textLength="35.04" lengthAdjust="spacingAndGlyphs">NR-AR</text>
<circle cx="565.6" cy="1523.57" r="3.6" fill="#e8302c"/><text x="585.2" y="1527.17" font-size="10.2" fill="#1a1a1a" textLength="60.26" lengthAdjust="spacingAndGlyphs">NR-AR-LBD</text>
<circle cx="565.6" cy="1539.44" r="3.6" fill="#e8302c"/><text x="585.2" y="1543.04" font-size="10.2" fill="#1a1a1a" textLength="41.2" lengthAdjust="spacingAndGlyphs">NR-AhR</text>
<circle cx="565.6" cy="1555.31" r="3.6" fill="#8e1c1c"/><text x="585.2" y="1558.91" font-size="10.2" fill="#1a1a1a" textLength="73.18" lengthAdjust="spacingAndGlyphs">NR-Aromatase</text>
<circle cx="565.6" cy="1571.18" r="3.6" fill="#8e1c1c"/><text x="585.2" y="1574.78" font-size="10.2" fill="#1a1a1a" textLength="35.04" lengthAdjust="spacingAndGlyphs">NR-ER</text>
<circle cx="565.6" cy="1587.05" r="3.6" fill="#8e1c1c"/><text x="585.2" y="1590.65" font-size="10.2" fill="#1a1a1a" textLength="60.26" lengthAdjust="spacingAndGlyphs">NR-ER-LBD</text>
<circle cx="565.6" cy="1602.92" r="3.6" fill="#f0a02a"/><text x="585.2" y="1606.52" font-size="10.2" fill="#1a1a1a" textLength="89.57" lengthAdjust="spacingAndGlyphs">NR-PPAR-gamma</text>
<circle cx="565.6" cy="1618.79" r="3.6" fill="#0a0aa0"/><text x="585.2" y="1622.39" font-size="10.2" fill="#1a1a1a" textLength="41.82" lengthAdjust="spacingAndGlyphs">SR-ARE</text>
<circle cx="565.6" cy="1634.66" r="3.6" fill="#3c84e2"/><text x="585.2" y="1638.26" font-size="10.2" fill="#1a1a1a" textLength="53.09" lengthAdjust="spacingAndGlyphs">SR-ATAD5</text>
<circle cx="565.6" cy="1650.53" r="3.6" fill="#3c84e2"/><text x="585.2" y="1654.13" font-size="10.2" fill="#1a1a1a" textLength="41.82" lengthAdjust="spacingAndGlyphs">SR-HSE</text>
<circle cx="565.6" cy="1666.4" r="3.6" fill="#6cf0f2"/><text x="585.2" y="1670" font-size="10.2" fill="#1a1a1a" textLength="44.88" lengthAdjust="spacingAndGlyphs">SR-MMP</text>
<circle cx="565.6" cy="1682.27" r="3.6" fill="#6cf0f2"/><text x="585.2" y="1685.87" font-size="10.2" fill="#1a1a1a" textLength="37.52" lengthAdjust="spacingAndGlyphs">SR-p53</text>
<rect x="511.5" y="1972" width="210.5" height="128" fill="#fff"/>
<rect x="513.2" y="1976" width="203.8" height="120.8" rx="2" fill="#fff" fill-opacity="0.85" stroke="#d6d6d6" stroke-width="1.2"/>
<circle cx="524" cy="1982.4" r="2.5" fill="#111111"/><text x="536.7" y="1985" font-size="7.3" fill="#1a1a1a" textLength="55.06" lengthAdjust="spacingAndGlyphs">Product issues</text>
<circle cx="524" cy="1993.16" r="2.5" fill="#707070"/><text x="536.7" y="1995.76" font-size="7.3" fill="#1a1a1a" textLength="177.63" lengthAdjust="spacingAndGlyphs">Pregnancy, puerperium and perinatal conditions</text>
<circle cx="524" cy="2003.92" r="2.5" fill="#1010c8"/><text x="536.7" y="2006.52" font-size="7.3" fill="#1a1a1a" textLength="78.84" lengthAdjust="spacingAndGlyphs">Social circumstances</text>
<circle cx="524" cy="2014.68" r="2.5" fill="#d42020"/><text x="536.7" y="2017.28" font-size="7.3" fill="#1a1a1a" textLength="171.73" lengthAdjust="spacingAndGlyphs">Neoplasms benign, malignant and unspecified</text>
<circle cx="524" cy="2025.44" r="2.5" fill="#f09a40"/><text x="536.7" y="2028.04" font-size="7.3" fill="#1a1a1a" textLength="122.25" lengthAdjust="spacingAndGlyphs">Surgical and medical procedures</text>
<circle cx="524" cy="2036.2" r="2.5" fill="#74eef0"/><text x="536.7" y="2038.8" font-size="7.3" fill="#1a1a1a" textLength="85.85" lengthAdjust="spacingAndGlyphs">Hepatobiliary disorders</text>
<circle cx="524" cy="2046.96" r="2.5" fill="#e030e0"/><text x="536.7" y="2049.56" font-size="7.3" fill="#1a1a1a" textLength="100.32" lengthAdjust="spacingAndGlyphs">Ear and labyrinth disorders</text>
<circle cx="524" cy="2057.72" r="2.5" fill="#6ee050"/><text x="536.7" y="2060.32" font-size="7.3" fill="#1a1a1a" textLength="51.32" lengthAdjust="spacingAndGlyphs">Eye disorders</text>
<circle cx="524" cy="2068.48" r="2.5" fill="#3a7ad8"/><text x="536.7" y="2071.08" font-size="7.3" fill="#1a1a1a" textLength="65.78" lengthAdjust="spacingAndGlyphs">Cardiac disorders</text>
<circle cx="524" cy="2079.24" r="2.5" fill="#f2c838"/><text x="536.7" y="2081.84" font-size="7.3" fill="#1a1a1a" textLength="157.24" lengthAdjust="spacingAndGlyphs">Reproductive system and breast disorders</text>
<circle cx="524" cy="2090" r="2.5" fill="#4a1468"/><text x="536.7" y="2092.6" font-size="7.3" fill="#1a1a1a" textLength="74.66" lengthAdjust="spacingAndGlyphs">Endocrine disorders</text>
</svg></body></html>
